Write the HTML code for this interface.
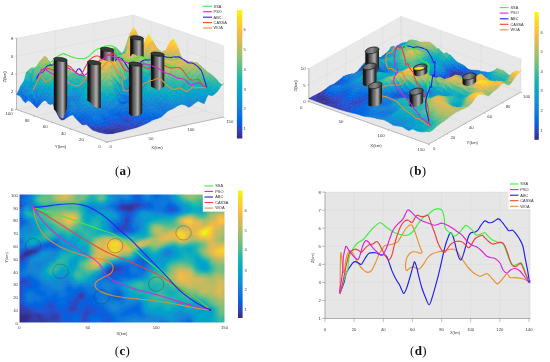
<!DOCTYPE html>
<html><head><meta charset="utf-8"><title>Figure</title>
<style>html,body{margin:0;padding:0;background:#fff}svg{display:block}</style></head>
<body><svg width="550" height="362" viewBox="0 0 550 362" font-family="Liberation Sans, sans-serif">
<rect width="550" height="362" fill="#fff"/>
<defs>
<linearGradient id="cyl" x1="0" y1="0" x2="1" y2="0"><stop offset="0" stop-color="#0a0a0a"/><stop offset=".18" stop-color="#1c1c1c"/><stop offset=".32" stop-color="#565656"/><stop offset=".5" stop-color="#7e7e7e"/><stop offset=".64" stop-color="#acacac"/><stop offset=".74" stop-color="#909090"/><stop offset=".86" stop-color="#424242"/><stop offset="1" stop-color="#1a1a1a"/></linearGradient>
<linearGradient id="cyt" x1="0" y1="0" x2="1" y2="0"><stop offset="0" stop-color="#555"/><stop offset=".5" stop-color="#8a8a8a"/><stop offset="1" stop-color="#3a3a3a"/></linearGradient>
<filter id="soft" x="-5%" y="-5%" width="110%" height="110%"><feGaussianBlur stdDeviation=".75"/></filter>
<filter id="hb" x="-10%" y="-10%" width="120%" height="120%"><feGaussianBlur stdDeviation=".95"/></filter>
<clipPath id="hclip"><rect x="19.5" y="194.5" width="205" height="128"/></clipPath>
<style>.t path{fill:currentColor;stroke:currentColor;stroke-width:.5;stroke-linejoin:round}</style>
</defs>
<g id="pa">
<path d="M16.5 109.5L16.5 38.3L133.1 15.0L133.1 86.2z" fill="#e9e9e9"/>
<path d="M133.1 86.2L133.1 15.0L223.6 45.8L223.6 117.0z" fill="#e8e8e8"/>
<path d="M107.0 142.0L16.5 109.5L133.1 86.2L223.6 117.0z" fill="#e7e7e7"/>
<path d="M16.5 109.5L133.1 86.2" stroke="#d9d9d9" stroke-width="0.45"/>
<path d="M133.1 86.2L223.6 117.0" stroke="#d9d9d9" stroke-width="0.45"/>
<path d="M16.5 91.7L133.1 68.4" stroke="#d9d9d9" stroke-width="0.45"/>
<path d="M133.1 68.4L223.6 99.2" stroke="#d9d9d9" stroke-width="0.45"/>
<path d="M16.5 73.9L133.1 50.6" stroke="#d9d9d9" stroke-width="0.45"/>
<path d="M133.1 50.6L223.6 81.4" stroke="#d9d9d9" stroke-width="0.45"/>
<path d="M16.5 56.1L133.1 32.8" stroke="#d9d9d9" stroke-width="0.45"/>
<path d="M133.1 32.8L223.6 63.6" stroke="#d9d9d9" stroke-width="0.45"/>
<path d="M16.5 38.3L133.1 15.0" stroke="#d9d9d9" stroke-width="0.45"/>
<path d="M133.1 15.0L223.6 45.8" stroke="#d9d9d9" stroke-width="0.45"/>
<path d="M16.5 109.5L16.5 38.3" stroke="#d9d9d9" stroke-width="0.45"/>
<path d="M16.5 109.5L107.0 142.0" stroke="#d9d9d9" stroke-width="0.45"/>
<path d="M55.4 101.7L55.4 30.5" stroke="#d9d9d9" stroke-width="0.45"/>
<path d="M55.4 101.7L145.9 133.7" stroke="#d9d9d9" stroke-width="0.45"/>
<path d="M94.2 94.0L94.2 22.8" stroke="#d9d9d9" stroke-width="0.45"/>
<path d="M94.2 94.0L184.7 125.3" stroke="#d9d9d9" stroke-width="0.45"/>
<path d="M133.1 86.2L133.1 15.0" stroke="#d9d9d9" stroke-width="0.45"/>
<path d="M133.1 86.2L223.6 117.0" stroke="#d9d9d9" stroke-width="0.45"/>
<path d="M223.6 117.0L223.6 45.8" stroke="#d9d9d9" stroke-width="0.45"/>
<path d="M223.6 117.0L107.0 142.0" stroke="#d9d9d9" stroke-width="0.45"/>
<path d="M205.5 110.8L205.5 39.6" stroke="#d9d9d9" stroke-width="0.45"/>
<path d="M205.5 110.8L88.9 135.5" stroke="#d9d9d9" stroke-width="0.45"/>
<path d="M187.4 104.7L187.4 33.5" stroke="#d9d9d9" stroke-width="0.45"/>
<path d="M187.4 104.7L70.8 129.0" stroke="#d9d9d9" stroke-width="0.45"/>
<path d="M169.3 98.5L169.3 27.3" stroke="#d9d9d9" stroke-width="0.45"/>
<path d="M169.3 98.5L52.7 122.5" stroke="#d9d9d9" stroke-width="0.45"/>
<path d="M151.2 92.4L151.2 21.2" stroke="#d9d9d9" stroke-width="0.45"/>
<path d="M151.2 92.4L34.6 116.0" stroke="#d9d9d9" stroke-width="0.45"/>
<path d="M133.1 86.2L133.1 15.0" stroke="#d9d9d9" stroke-width="0.45"/>
<path d="M133.1 86.2L16.5 109.5" stroke="#d9d9d9" stroke-width="0.45"/>
<path d="M16.5 109.5L16.5 38.3" stroke="#8a8a8a" stroke-width="0.5"/>
<path d="M107.0 142.0L16.5 109.5" stroke="#8a8a8a" stroke-width="0.5"/>
<path d="M107.0 142.0L223.6 117.0" stroke="#8a8a8a" stroke-width="0.5"/>
<g class="t" filter="url(#soft)"><path color="#ffc436" d="M131.5 31.4l1.9-3.5-2.2 4-2 4.2z"/><path color="#e3b951" d="M129.5 36.1l2-4.7-2.3 4.7-1.9 5.2z"/><path color="#a8be6a" d="M127.6 45.3l1.9-9.2-2.2 5.2-2 6.1z"/><path color="#6abe83" d="M125.6 51.3l2-6-2.3 2.1-1.9 4.5z"/><path color="#3dba9b" d="M121.8 54.6l1.9-1.1 1.9-2.2-2.2 .6-2 1.4-1.9-2.2z"/><path color="#52bd8f" d="M119.8 54l2 .6-2.3-3.5-1.9-2.1z"/><path color="#6abe83" d="M117.9 52.5l1.9 1.5-2.2-5-2-1.7z"/><path color="#75bf7e" d="M114 53.5l1.9-1.4 2 .4-2.3-5.2-1.9 1-2 .3z"/><path color="#75bf7e" d="M51.8 65.1l1.9-3.8 2 2.8-2.3-.8-1.9 1.4-2-2.4z"/><path color="#8bbf75" d="M49.9 62.7l1.9 2.4-2.3-2.8-1.9-2.7z"/><path color="#a8be6a" d="M47.9 60.1l2 2.6-2.3-3.1-1.9-2.7z"/><path color="#c2bc5f" d="M46 57.3l1.9 2.8-2.2-3.2-2-.1z"/><path color="#a8be6a" d="M40.1 61.6l2-2.6-2.3 3-1.9 2.8z"/><path color="#8bbf75" d="M38.2 64.3l1.9-2.7-2.2 3.2-2 3z"/><path color="#5ebe89" d="M28.5 70.9l1.9-2.3-2.2 1.9-2 2.2z"/><path color="#21b4ac" d="M26.5 79.4l2-8.5-2.3 1.8-1.9 7.5z"/><path color="#06a6c7" d="M24.6 83.3l1.9-3.9-2.2 .8-2 3.6z"/><path color="#079bd0" d="M22.6 85l2-1.7-2.3 .5-1.9 2.6z"/><path color="#118dd2" d="M20.7 89.6l1.9-4.6-2.2 1.4-2 4.9z"/><path color="#0f78db" d="M18.8 95.3l1.9-5.7-2.3 1.7-1.9 3.3z"/><path color="#fec932" d="M135.7 30.8l1.9 3.9-2.2-4.5-2-2.3z"/><path color="#fcce2d" d="M133.7 33.3l2-2.5-2.3-2.9-1.9 3.5z"/><path color="#f2b949" d="M131.8 41.8l1.9-8.5-2.2-1.9-2 4.7z"/><path color="#a8be6a" d="M129.9 50.9l1.9-9.1-2.3-5.7-1.9 9.2z"/><path color="#52bd8f" d="M127.9 56.3l2-5.4-2.3-5.6-2 6z"/><path color="#33b8a1" d="M126 58.1l1.9-1.8-2.3-5-1.9 2.2z"/><path color="#21b4ac" d="M124 58.9l2-.8-2.3-4.6-1.9 1.1z"/><path color="#2ab6a7" d="M122.1 58.7l1.9 .2-2.2-4.3-2-.6z"/><path color="#33b8a1" d="M120.1 57.6l2 1.1-2.3-4.7-1.9-1.5z"/><path color="#3dba9b" d="M116.2 59.8l2-1.5 1.9-.7-2.2-5.1-2-.4-1.9 1.4z"/><path color="#2ab6a7" d="M114.3 61.5l1.9-1.7-2.2-6.3-2 2.6z"/><path color="#47bb95" d="M67.7 65.5l1.9 4.7-2.3-6.4-1.9-4z"/><path color="#75bf7e" d="M54.1 64.4l1.9 3.4-2.3-6.5-1.9 3.8z"/><path color="#80bf7a" d="M52.1 65.5l2-1.1-2.3 .7-1.9-2.4z"/><path color="#95bf71" d="M50.2 63.6l1.9 1.9-2.2-2.8-2-2.6z"/><path color="#a8be6a" d="M48.2 63.1l2 .5-2.3-3.5-1.9-2.8z"/><path color="#babd63" d="M44.3 63.4l2-.4 1.9 .1-2.2-5.8-2-.9-1.9 2.6z"/><path color="#a8be6a" d="M42.4 65.4l1.9-2-2.2-4.4-2 2.6z"/><path color="#95bf71" d="M40.5 67.2l1.9-1.8-2.3-3.8-1.9 2.7z"/><path color="#8bbf75" d="M38.5 66.2l2 1-2.3-2.9-1.9 3z"/><path color="#80bf7a" d="M32.7 69.3l1.9-1.1 2-1.4 1.9-.6-2.2 1.1-2 .8-1.9-.6-2 1.1z"/><path color="#6abe83" d="M30.7 73.9l2-4.6-2.3-.7-1.9 2.3z"/><path color="#2ab6a7" d="M28.8 82.1l1.9-8.2-2.2-3-2 8.5z"/><path color="#06a6c7" d="M26.9 86.1l1.9-4-2.3-2.7-1.9 3.9z"/><path color="#079bd0" d="M24.9 87.9l2-1.8-2.3-2.8-2 1.7z"/><path color="#118dd2" d="M23 91.9l1.9-4-2.3-2.9-1.9 4.6z"/><path color="#0f78db" d="M21 96.9l2-5-2.3-2.3-1.9 5.7z"/><path color="#ebb94d" d="M136 43l1.9-5.2 2 2.9-2.3-6-1.9-3.9-2 2.5z"/><path color="#babd63" d="M134.1 50l1.9-7-2.3-9.7-1.9 8.5z"/><path color="#09abbf" d="M116.6 66.9l1.9-1.8-2.3-5.3-1.9 1.7z"/><path color="#6abe83" d="M54.4 67.2l1.9 2.7-2.2-5.5-2 1.1z"/><path color="#75bf7e" d="M52.4 67.4l2-.2-2.3-1.7-1.9-1.9z"/><path color="#80bf7a" d="M50.5 67.2l1.9 .2-2.2-3.8-2-.5z"/><path color="#8bbf75" d="M46.6 68.3l2-.8 1.9-.3-2.3-4.1-1.9-.1-2 .4z"/><path color="#80bf7a" d="M44.7 71.2l1.9-2.9-2.3-4.9-1.9 2z"/><path color="#6abe83" d="M42.7 73.6l2-2.4-2.3-5.8-1.9 1.8z"/><path color="#5ebe89" d="M40.8 73.2l1.9 .4-2.2-6.4-2-1z"/><path color="#6abe83" d="M36.9 74.5l1.9-2 2 .7-2.3-7-1.9 .6-2 1.4z"/><path color="#52bd8f" d="M34.9 79.5l2-5-2.3-6.3-1.9 1.1z"/><path color="#2ab6a7" d="M33 84.5l1.9-5-2.2-10.2-2 4.6z"/><path color="#06a8c4" d="M31.1 88.2l1.9-3.7-2.3-10.6-1.9 8.2z"/><path color="#079bd0" d="M29.1 87.9l2 .3-2.3-6.1-1.9 4z"/><path color="#0e92d2" d="M27.2 90.5l1.9-2.6-2.2-1.8-2 1.8z"/><path color="#1484d4" d="M25.2 95.7l2-5.2-2.3-2.6-1.9 4z"/><path color="#0870df" d="M23.3 100.8l1.9-5.1-2.2-3.8-2 5z"/></g><g fill="none" stroke-width="1.05" stroke-linecap="round" stroke-linejoin="round"><path d="M50.7 65L51.6 65.1L52.5 65.3L53.3 65.1L54.4 64.9" stroke="#2020f0"/></g><g class="t" filter="url(#soft)"><path color="#6abe83" d="M48.9 70.2l1.9-.8 2 0 1.9 .1 1.9-.6-2.2-1.7-2 .2-1.9-.2-1.9 .3-2 .8z"/><path color="#5ebe89" d="M46.9 72.1l2-1.9-2.3-1.9-1.9 2.9z"/><path color="#3dba9b" d="M43 74l2-.8-2.3 .4-1.9-.4z"/><path color="#47bb95" d="M41.1 74.5l1.9-.5-2.2-.8-2-.7z"/><path color="#3dba9b" d="M39.2 77.4l1.9-2.9-2.3-2-1.9 2z"/><path color="#1ab2b1" d="M37.2 83l2-5.6-2.3-2.9-2 5z"/><path color="#06a6c7" d="M35.3 88.6l1.9-5.6-2.3-3.5-1.9 5z"/><path color="#0e92d2" d="M29.4 88.9l2 .4-2.3-1.4-1.9 2.6z"/><path color="#1480d6" d="M27.5 96.9l1.9-8-2.2 1.6-2 5.2z"/><path color="#0267e1" d="M25.5 102.8l2-5.9-2.3-1.2-1.9 5.1z"/></g><g fill="none" stroke-width="1.05" stroke-linecap="round" stroke-linejoin="round"><path d="M34.2 87.1L35 84.6L35.9 81.3L36.7 78.2L37.6 76.5L38.4 74.9L39.3 73.5L40.1 72.6L40.8 72.1L41.6 72.3L42.4 72.4L43.1 72.4L43.9 71.2L44.7 69.5L45.5 68L46.3 66.8L47.2 65.9L48.1 65.6L49 65.3L49.8 65L50.7 65" stroke="#2020f0"/><path d="M54.4 64.9L55.5 65.3L56.6 66.3L57.6 68.3L58.7 70.7L59.8 72.8L61.1 74.6L62.5 76.2L63.9 77.6" stroke="#2020f0"/></g><g class="t" filter="url(#soft)"><path color="#47bb95" d="M41.4 76.2l2-3.9-2.3 2.2-1.9 2.9z"/><path color="#1ab2b1" d="M39.5 81.7l1.9-5.5-2.2 1.2-2 5.6z"/><path color="#0e92d2" d="M29.8 93.8l1.9-11-2.3 6.1-1.9 8z"/><path color="#0870df" d="M27.8 100.5l2-6.7-2.3 3.1-2 5.9z"/></g><g fill="none" stroke-width="1.05" stroke-linecap="round" stroke-linejoin="round"><path d="M33.3 89.6L34.7 86.7L36 83.9L37.3 81.2L38.7 78.6L40 73.2" stroke="#3cf03c"/><path d="M33.3 89.1L36 84.3" stroke="#d824d8"/><path d="M33.3 89.6L34.2 87.1" stroke="#2020f0"/><path d="M63.9 77.6L65.3 79L66.6 80.9L68 82.4L69.6 81.9" stroke="#2020f0"/><path d="M33.3 90.1L35 86.6L36.6 82.8L38.3 78.5" stroke="#f04040"/></g><g class="t" filter="url(#soft)"><path color="#80bf7a" d="M47.6 71.5l1.9-2.4 2-1.8-2.3 3.2-2 .6-1.9-.5z"/><path color="#6abe83" d="M45.6 74.2l2-2.7-2.3-.9-1.9 1.7z"/><path color="#52bd8f" d="M43.7 75.9l1.9-1.7-2.2-1.9-2 3.9z"/><path color="#33b8a1" d="M41.7 78.1l2-2.2-2.3 .3-1.9 5.5z"/><path color="#13b0b6" d="M39.8 81.7l1.9-3.6-2.2 3.6-2 4.9z"/><path color="#069fce" d="M32 94.2l2-12.1-2.3 .7-1.9 11z"/><path color="#0f78db" d="M30.1 101.2l1.9-7-2.2-.4-2 6.7z"/></g><g fill="none" stroke-width="1.05" stroke-linecap="round" stroke-linejoin="round"><path d="M40 73.2L41.3 70.2L42.7 68.1L44 66.7L45.3 65.6L46.6 64.4L47.9 63.8" stroke="#3cf03c"/><path d="M36 84.3L38.7 76.6" stroke="#d824d8"/><path d="M69.6 81.9L71.2 80.3L72.9 77.6L74.6 74.8" stroke="#2020f0"/><path d="M38.3 78.5L39.9 74.8L41.6 71.2L43.2 69.8" stroke="#f04040"/></g><g class="t" filter="url(#soft)"><path color="#a8be6a" d="M53.7 67.7l2-2.5-2.3 .3-1.9 1.8z"/><path color="#95bf71" d="M51.8 69.8l1.9-2.1-2.2-.4-2 1.8z"/><path color="#80bf7a" d="M49.8 73.1l2-3.3-2.3-.7-1.9 2.4z"/><path color="#6abe83" d="M47.9 75.7l1.9-2.6-2.2-1.6-2 2.7z"/><path color="#52bd8f" d="M45.9 77.1l2-1.4-2.3-1.5-1.9 1.7z"/><path color="#3dba9b" d="M44 79.5l1.9-2.4-2.2-1.2-2 2.2z"/><path color="#21b4ac" d="M42.1 82.6l1.9-3.1-2.3-1.4-1.9 3.6z"/><path color="#13b0b6" d="M40.1 84.6l2-2-2.3-.9-2-.3z"/><path color="#1ab2b1" d="M38.2 86.2l1.9-1.6-2.3-3.2-1.9-2.9z"/><path color="#0dadbb" d="M36.2 90.3l2-4.1-2.3-7.7-1.9 3.6z"/><path color="#0a97d1" d="M34.3 99.2l1.9-8.9-2.2-8.2-2 12.1z"/><path color="#0870df" d="M32.3 103.4l2-4.2-2.3-5-1.9 7z"/></g><g fill="none" stroke-width="1.05" stroke-linecap="round" stroke-linejoin="round"><path d="M47.9 63.8L49.2 63.2L50.4 62.6L51.6 61.5L52.9 60.4L54.1 59.3L55.4 58.2L56.6 57.2" stroke="#3cf03c"/><path d="M38.7 76.6L41.3 69.9" stroke="#d824d8"/><path d="M74.6 74.8L76.2 71.8L77.9 69L79.7 68.9" stroke="#2020f0"/><path d="M43.2 69.8L44.8 69L46.5 68.7L48.1 68.5" stroke="#f04040"/><path d="M33.3 89.6L40.4 74.7" stroke="#e8902c"/></g><g class="t" filter="url(#soft)"><path color="#8bbf75" d="M54 73l2-2.3-2.3-3-1.9 2.1z"/><path color="#75bf7e" d="M52.1 75.9l1.9-2.9-2.2-3.2-2 3.3z"/><path color="#52bd8f" d="M50.1 78.1l2-2.2-2.3-2.8-1.9 2.6z"/><path color="#3dba9b" d="M48.2 79.9l1.9-1.8-2.2-2.4-2 1.4z"/><path color="#33b8a1" d="M46.3 82.4l1.9-2.5-2.3-2.8-1.9 2.4z"/><path color="#1ab2b1" d="M44.3 85.9l2-3.5-2.3-2.9-1.9 3.1z"/><path color="#09abbf" d="M42.4 90.3l1.9-4.4-2.2-3.3-2 2z"/><path color="#06a2cb" d="M40.4 94.6l2-4.3-2.3-5.7-1.9 1.6z"/><path color="#0e92d2" d="M38.5 98.4l1.9-3.8-2.2-8.4-2 4.1z"/><path color="#127cd8" d="M36.5 103.4l2-5-2.3-8.1-1.9 8.9z"/><path color="#0462e0" d="M34.6 105.7l1.9-2.3-2.2-4.2-2 4.2z"/></g><g fill="none" stroke-width="1.05" stroke-linecap="round" stroke-linejoin="round"><path d="M56.6 57.2L57.9 56.2L59.3 55.4L60.6 54.7L61.9 54L63.3 53.4L64.6 54" stroke="#3cf03c"/><path d="M41.3 69.9L44 68.4L46.3 70" stroke="#d824d8"/><path d="M79.7 68.9L81.7 71.6L83.6 75.4" stroke="#2020f0"/><path d="M48.1 68.5L49.8 69L51.4 69.5L53.1 70" stroke="#f04040"/></g><g class="t" filter="url(#soft)"><path color="#f9bb43" d="M130.1 47.4l2-4.6-2.3-2.4-1.9 4.2z"/><path color="#d3bb58" d="M128.2 52.5l1.9-5.1-2.2-2.8-2 6.1z"/><path color="#9fbe6d" d="M126.3 58.1l1.9-5.6-2.3-1.8-1.9 7z"/><path color="#b1bd66" d="M68 66.9l1.9 3.5-2.3-4.9-1.9-5.9z"/><path color="#52bd8f" d="M54.4 80l1.9-2.9-2.3-4.1-1.9 2.9z"/><path color="#33b8a1" d="M52.4 81.8l2-1.8-2.3-4.1-2 2.2z"/><path color="#2ab6a7" d="M50.5 83.9l1.9-2.1-2.3-3.7-1.9 1.8z"/><path color="#1ab2b1" d="M48.5 86.1l2-2.2-2.3-4-1.9 2.5z"/><path color="#09abbf" d="M46.6 89.4l1.9-3.3-2.2-3.7-2 3.5z"/><path color="#069fce" d="M44.6 93.9l2-4.5-2.3-3.5-1.9 4.4z"/><path color="#118dd2" d="M42.7 97.6l1.9-3.7-2.2-3.6-2 4.3z"/><path color="#127cd8" d="M40.7 100.5l2-2.9-2.3-3-1.9 3.8z"/><path color="#046ce0" d="M38.8 104.9l1.9-4.4-2.2-2.1-2 5z"/><path color="#2152d3" d="M36.9 108l1.9-3.1-2.3-1.5-1.9 2.3z"/></g><g fill="none" stroke-width="1.05" stroke-linecap="round" stroke-linejoin="round"><path d="M64.6 54L65.9 54.5L67.2 55L68.6 55.6L70 56.2L71.3 56.8L72.7 57.2" stroke="#3cf03c"/><path d="M46.3 70L48.6 71.5L50.8 72.9" stroke="#d824d8"/><path d="M83.6 75.4L85.6 78.9L87.5 82L89.4 84.5" stroke="#2020f0"/><path d="M53.1 70L54.8 69.6L56.5 68.6L58.2 67.8" stroke="#f04040"/><path d="M40.4 74.7L45.1 82.2" stroke="#e8902c"/></g><g class="t" filter="url(#soft)"><path color="#babd63" d="M130.5 55.3l1.9-2.5-2.3-5.4-1.9 5.1z"/><path color="#b1bd66" d="M68.3 68.6l1.9 2.1-2.2-3.8-2-6z"/><path color="#c2bc5f" d="M66.3 68.9l2-.3-2.3-7.7-1.9 2z"/><path color="#1ab2b1" d="M54.7 84.3l1.9-1.1-2.2-3.2-2 1.8z"/><path color="#13b0b6" d="M52.7 86.2l2-1.9-2.3-2.5-1.9 2.1z"/><path color="#09abbf" d="M50.8 88.5l1.9-2.3-2.2-2.3-2 2.2z"/><path color="#06a2cb" d="M48.8 92.2l2-3.7-2.3-2.4-1.9 3.3z"/><path color="#0e92d2" d="M46.9 96.5l1.9-4.3-2.2-2.8-2 4.5z"/><path color="#1484d4" d="M45 98.6l1.9-2.1-2.3-2.6-1.9 3.7z"/><path color="#127cd8" d="M43 99.2l2-.6-2.3-1-2 2.9z"/><path color="#0870df" d="M41.1 102.2l1.9-3-2.3 1.3-1.9 4.4z"/><path color="#0462e0" d="M39.1 105.4l2-3.2-2.3 2.7-1.9 3.1z"/></g><g fill="none" stroke-width="1.05" stroke-linecap="round" stroke-linejoin="round"><path d="M72.7 57.2L74 57.6L75.4 57.9L76.7 58.3L78.1 58.5L79.4 58.5" stroke="#3cf03c"/><path d="M50.8 72.9L53.1 74.2L55.3 75.3" stroke="#d824d8"/><path d="M89.4 84.5L91.4 86.8L93.4 88.7" stroke="#2020f0"/><path d="M58.2 67.8L59.9 67.2L61.6 66.8L63.2 66.7" stroke="#f04040"/><path d="M45.1 82.2L49.1 80.1" stroke="#e8902c"/></g><g class="t" filter="url(#soft)"><path color="#e3b951" d="M154.1 44.2l1.9 3.1-2.2-3.7-2-3.7z"/><path color="#8bbf75" d="M117.2 62.5l1.9-6.8-2.2 3.3-2 6z"/><path color="#5ebe89" d="M74.4 73.8l2 .5-2.3-1.6-1.9-.5z"/><path color="#75bf7e" d="M72.5 73.3l1.9 .5-2.2-1.6-2-1.5z"/><path color="#80bf7a" d="M70.5 73.6l2-.3-2.3-2.6-1.9-2.1z"/><path color="#8bbf75" d="M68.6 75.6l1.9-2-2.2-5-2 .3z"/><path color="#75bf7e" d="M66.7 77.5l1.9-1.9-2.3-6.7-1.9 3.2z"/><path color="#13b0b6" d="M55 85.4l1.9-2.7-2.2 1.6-2 1.9z"/><path color="#09abbf" d="M53 89.1l2-3.7-2.3 .8-1.9 2.3z"/><path color="#069fce" d="M51.1 93.3l1.9-4.2-2.2-.6-2 3.7z"/><path color="#118dd2" d="M49.2 97.1l1.9-3.8-2.3-1.1-1.9 4.3z"/><path color="#1480d6" d="M47.2 99.2l2-2.1-2.3-.6-1.9 2.1z"/><path color="#127cd8" d="M45.3 99.3l1.9-.1-2.2-.6-2 .6z"/><path color="#0f78db" d="M43.3 100.8l2-1.5-2.3-.1-1.9 3z"/><path color="#0870df" d="M41.4 102.8l1.9-2-2.2 1.4-2 3.2z"/></g><g fill="none" stroke-width="1.05" stroke-linecap="round" stroke-linejoin="round"><path d="M79.4 58.5L80.8 58.6L82.2 58.7L83.5 58.8L84.9 58.3L86.2 57.7" stroke="#3cf03c"/><path d="M55.3 75.3L57.5 76.1" stroke="#d824d8"/><path d="M93.4 88.7L95.4 89.9L97.4 88.1" stroke="#2020f0"/><path d="M63.2 66.7L64.9 66.5L66.6 66L68.3 65.6" stroke="#f04040"/><path d="M49.1 80.1L52.4 76.6" stroke="#e8902c"/></g><g class="t" filter="url(#soft)"><path color="#cbbb5c" d="M156.4 47.7l1.9 2.1-2.3-2.5-1.9-3.1z"/><path color="#ebb94d" d="M154.4 44.8l2 2.9-2.3-3.5-1.9-3.9z"/><path color="#fec932" d="M144.7 42.9l1.9-4.6-2.2 4.6-2 2.6z"/><path color="#f2b949" d="M142.8 48.9l1.9-6-2.3 2.6-1.9 1.2z"/><path color="#cbbb5c" d="M121.4 55.8l1.9-1.7-2.2 1.6-2 0z"/><path color="#a8be6a" d="M119.4 62.6l2-6.8-2.3-.1-1.9 6.8z"/><path color="#47bb95" d="M74.7 78.7l2 .2 1.9-1 2-2.2 1.9-.6-2.2-.5-2-.1-1.9-.2-2-.5-1.9-.5z"/><path color="#52bd8f" d="M72.8 78.7l1.9 0-2.2-5.4-2 .3z"/><path color="#47bb95" d="M70.9 80.7l1.9-2-2.3-5.1-1.9 2z"/><path color="#33b8a1" d="M68.9 84.1l2-3.4-2.3-5.1-1.9 1.9z"/><path color="#2ab6a7" d="M67 84.9l1.9-.8-2.2-6.6-2 1.3z"/><path color="#0dadbb" d="M55.3 88.5l2-3.9-2.3 .8-2 3.7z"/><path color="#06a2cb" d="M53.4 92.4l1.9-3.9-2.3 .6-1.9 4.2z"/><path color="#0e92d2" d="M51.4 95.5l2-3.1-2.3 .9-1.9 3.8z"/><path color="#1388d3" d="M49.5 97.8l1.9-2.3-2.2 1.6-2 2.1z"/><path color="#1480d6" d="M45.6 99.6l1.9-.8-2.2 .5-2 1.5z"/><path color="#127cd8" d="M43.6 100.2l2-.6-2.3 1.2-1.9 2z"/></g><g fill="none" stroke-width="1.05" stroke-linecap="round" stroke-linejoin="round"><path d="M86.2 57.7L87.6 57.1L88.9 56.3L90.2 55L91.6 53.6L92.9 52.4L94.3 51.2" stroke="#3cf03c"/><path d="M57.5 76.1L59.5 75.9L61.4 73.5L63.3 70.8" stroke="#d824d8"/><path d="M97.4 88.1L99.4 85.7L101.4 82.9" stroke="#2020f0"/><path d="M68.3 65.6L70 66.5L71.6 68L73.3 69.8" stroke="#f04040"/><path d="M52.4 76.6L55 74.6" stroke="#e8902c"/></g><g class="t" filter="url(#soft)"><path color="#9fbe6d" d="M160.6 53.3l1.9 1-2.3-3.9-1.9-.6z"/><path color="#babd63" d="M158.6 51.2l2 2.1-2.3-3.5-1.9-2.1z"/><path color="#f2b949" d="M154.7 45.5l2 2.6-2.3-3.3-1.9-3.8z"/><path color="#f5de21" d="M150.9 41.6l1.9 0-2.3-4.3-1.9-2.7z"/><path color="#f7d925" d="M148.9 43.9l2-2.3-2.3-7-2 3.7z"/><path color="#fec932" d="M147 47.7l1.9-3.8-2.3-5.6-1.9 4.6z"/><path color="#ebb94d" d="M145 52.3l2-4.6-2.3-4.8-1.9 6z"/><path color="#cbbb5c" d="M143.1 53.3l1.9-1-2.2-3.4-2 1.9z"/><path color="#d3bb58" d="M123.6 57.9l2-4.5-2.3 .7-1.9 1.7z"/><path color="#a8be6a" d="M121.7 64.6l1.9-6.7-2.2-2.1-2 6.8z"/><path color="#3dba9b" d="M82.8 78.7l2-1.7 1.9 0-2.2-.9-2-1-1.9 .6z"/><path color="#33b8a1" d="M80.9 81.3l1.9-2.6-2.2-3-2 2.2z"/><path color="#21b4ac" d="M77 82.6l1.9-.1 2-1.2-2.3-3.4-1.9 1-2-.2z"/><path color="#2ab6a7" d="M75.1 82.7l1.9-.1-2.3-3.9-1.9 0z"/><path color="#21b4ac" d="M73.1 85l2-2.3-2.3-4-1.9 2z"/><path color="#0dadbb" d="M71.2 91l1.9-6-2.2-4.3-2 3.4z"/><path color="#06a6c7" d="M67.3 90.1l1.9 2.7 2-1.8-2.3-6.9-1.9 .8-2-.8z"/><path color="#069fce" d="M53.7 93.5l1.9-2.9-2.2 1.8-2 3.1z"/><path color="#0a97d1" d="M51.7 95.7l2-2.2-2.3 2-1.9 2.3z"/><path color="#118dd2" d="M49.8 98l1.9-2.3-2.2 2.1-2 1z"/><path color="#1388d3" d="M47.9 99.9l1.9-1.9-2.3 .8-1.9 .8z"/><path color="#1484d4" d="M45.9 100.8l2-.9-2.3-.3-2 .6z"/></g><g fill="none" stroke-width="1.05" stroke-linecap="round" stroke-linejoin="round"><path d="M94.3 51.2L95.6 50.1L96.9 49.2L98.4 48.7L100 48.2" stroke="#3cf03c"/><path d="M63.3 70.8L65.1 69L67 68" stroke="#d824d8"/><path d="M101.4 82.9L103.3 80L105.3 76.8" stroke="#2020f0"/><path d="M73.3 69.8L74.9 71.4L76.6 73L78.2 74.2L79.9 74.9" stroke="#f04040"/><path d="M55 74.6L57.6 74.8L60.3 75.3" stroke="#e8902c"/></g><g class="t" filter="url(#soft)"><path color="#95bf71" d="M160.9 56.1l1.9 1.3-2.2-4.1-2-2.1z"/><path color="#b1bd66" d="M158.9 53.2l2 2.9-2.3-4.9-1.9-3.1z"/><path color="#d3bb58" d="M157 50.6l1.9 2.6-2.2-5.1-2-2.6z"/><path color="#ebb94d" d="M155.1 50l1.9 .6-2.3-5.1-1.9-3.9z"/><path color="#f2b949" d="M153.1 51.1l2-1.1-2.3-8.4-1.9 0z"/><path color="#ebb94d" d="M151.2 53.2l1.9-2.1-2.2-9.5-2 2.3z"/><path color="#dbba55" d="M149.2 55.7l2-2.5-2.3-9.3-1.9 3.8z"/><path color="#babd63" d="M147.3 58.2l1.9-2.5-2.2-8-2 4.6z"/><path color="#b1bd66" d="M145.3 57.9l2 .3-2.3-5.9-1.9 1z"/><path color="#dbba55" d="M135.6 57.5l2-2-2.3-7.5-1.9 2.7z"/><path color="#d3bb58" d="M133.7 56.1l1.9 1.4-2.2-6.8-2-.2z"/><path color="#e3b951" d="M131.7 53.3l2 2.8-2.3-5.6-1.9-.5z"/><path color="#f2b949" d="M127.9 53l1.9-1.4 1.9 1.7-2.2-3.3-2 .7-1.9 2.7z"/><path color="#dbba55" d="M125.9 56l2-3-2.3 .4-2 4.5z"/><path color="#b1bd66" d="M124 59.2l1.9-3.2-2.3 1.9-1.9 6.7z"/><path color="#33b8a1" d="M87 79.8l2-1.9-2.3-.9-1.9 0z"/><path color="#2ab6a7" d="M85.1 81.8l1.9-2-2.2-2.8-2 1.7z"/><path color="#21b4ac" d="M83.2 83.2l1.9-1.4-2.3-3.1-1.9 2.6z"/><path color="#13b0b6" d="M79.3 85.7l1.9-1.1 2-1.4-2.3-1.9-2 1.2-1.9 .1z"/><path color="#0dadbb" d="M77.3 86.8l2-1.1-2.3-3.1-1.9 .1z"/><path color="#09abbf" d="M75.4 88.5l1.9-1.7-2.2-4.1-2 2.3z"/><path color="#06a2cb" d="M73.4 92.1l2-3.6-2.3-3.5-1.9 6z"/><path color="#0a97d1" d="M71.5 95.2l1.9-3.1-2.2-1.1-2 1.8z"/><path color="#0e92d2" d="M69.6 96.7l1.9-1.5-2.3-2.4-1.9-2.7z"/><path color="#079bd0" d="M67.6 96.6l2 .1-2.3-6.6-2-3.4z"/><path color="#06a2cb" d="M65.7 95.3l1.9 1.3-2.3-9.9-1.9-1.6z"/><path color="#069fce" d="M54 94.8l1.9-2.2-2.2 .9-2 2.2z"/><path color="#0a97d1" d="M52.1 98.5l1.9-3.7-2.3 .9-1.9 2.3z"/><path color="#1388d3" d="M50.1 102l2-3.5-2.3-.5-1.9 1.9z"/><path color="#1480d6" d="M48.2 103.7l1.9-1.7-2.2-2.1-2 .9z"/></g><g fill="none" stroke-width="1.05" stroke-linecap="round" stroke-linejoin="round"><path d="M100 48.2L101.7 47.6L103.3 46.9L104.9 46.2" stroke="#3cf03c"/><path d="M67 68L68.9 68.3L70.7 69.4L72.6 70.6" stroke="#d824d8"/><path d="M105.3 76.8L107.2 73.4L109.1 69.9L111 66.2" stroke="#2020f0"/><path d="M79.9 74.9L81.6 73.6L83.2 71.3L84.9 67.8" stroke="#f04040"/><path d="M60.3 75.3L62.2 76.8L64.1 78.5" stroke="#e8902c"/></g><g class="t" filter="url(#soft)"><path color="#babd63" d="M159.3 52.8l1.9-.5-2.3 .9-1.9-2.6z"/><path color="#c2bc5f" d="M157.3 55.3l2-2.5-2.3-2.2-1.9-.6z"/><path color="#babd63" d="M155.4 58.8l1.9-3.5-2.2-5.3-2 1.1z"/><path color="#9fbe6d" d="M153.4 62.1l2-3.3-2.3-7.7-1.9 2.1z"/><path color="#8bbf75" d="M151.5 64.4l1.9-2.3-2.2-8.9-2 2.5z"/><path color="#75bf7e" d="M149.5 66l2-1.6-2.3-8.7-1.9 2.5z"/><path color="#6abe83" d="M147.6 65.9l1.9 .1-2.2-7.8-2-.3z"/><path color="#8bbf75" d="M145.7 63.6l1.9 2.3-2.3-8-1.9-4.2z"/><path color="#b1bd66" d="M143.7 61.2l2 2.4-2.3-9.9-1.9-4.1z"/><path color="#c2bc5f" d="M141.8 61.4l1.9-.2-2.2-11.6-2 1.3z"/><path color="#b1bd66" d="M139.8 64l2-2.6-2.3-10.5-1.9 4.6z"/><path color="#95bf71" d="M137.9 64.9l1.9-.9-2.2-8.5-2 2z"/><path color="#9fbe6d" d="M135.9 63.1l2 1.8-2.3-7.4-1.9-1.4z"/><path color="#babd63" d="M134 60.6l1.9 2.5-2.2-7-2-2.8z"/><path color="#d3bb58" d="M132.1 58.4l1.9 2.2-2.3-7.3-1.9-1.7z"/><path color="#dbba55" d="M130.1 58.3l2 .1-2.3-6.8-1.9 1.4z"/><path color="#d3bb58" d="M128.2 60.3l1.9-2-2.2-5.3-2 3z"/><path color="#c2bc5f" d="M126.2 61.2l2-.9-2.3-4.3-1.9 3.2z"/><path color="#ebb94d" d="M99 62l2-8.4-2.3 8.4-1.9 0z"/><path color="#21b4ac" d="M87.4 83.4l1.9-2.8-2.3-.8-1.9 2z"/><path color="#13b0b6" d="M85.4 84.4l2-1-2.3-1.6-1.9 1.4z"/><path color="#0dadbb" d="M83.5 85.6l1.9-1.2-2.2-1.2-2 1.4z"/><path color="#09abbf" d="M81.5 87.7l2-2.1-2.3-1-1.9 1.1z"/><path color="#06a8c4" d="M79.6 90.3l1.9-2.6-2.2-2-2 1.1z"/><path color="#06a2cb" d="M77.6 92.1l2-1.8-2.3-3.5-1.9 1.7z"/><path color="#079bd0" d="M75.7 93.5l1.9-1.4-2.2-3.6-2 3.6z"/><path color="#0e92d2" d="M73.8 96.3l1.9-2.8-2.3-1.4-1.9 3.1z"/><path color="#1484d4" d="M71.8 100.8l2-4.5-2.3-1.1-1.9 1.5z"/><path color="#127cd8" d="M69.9 104.9l1.9-4.1-2.2-4.1-2-.1z"/><path color="#0f78db" d="M67.9 106.4l2-1.5-2.3-8.3-1.9-1.3z"/><path color="#127cd8" d="M66 105.6l1.9 .8-2.2-11.1-2-1.8z"/><path color="#0a97d1" d="M54.3 99.8l2-3.5-2.3-1.5-1.9 3.7z"/><path color="#1484d4" d="M52.4 103.2l1.9-3.4-2.2-1.3-2 3.5z"/><path color="#127cd8" d="M50.4 104.5l2-1.3-2.3-1.2-1.9 1.7z"/></g><path d="M130.2 56.5L130.3 56.5L130.6 56.2L131 55.7L131.5 55L132.2 54.1L133 53.9L133.9 54.2L134.9 54.5L135.9 55.1L136.9 55.7L138 56.1L139 56.2L140 56.4L140.9 56.7L141.7 56.8L142.3 56.9L142.9 57.1L143.3 57.1L143.5 57L143.6 56.9L143.6 38.6L143.5 38.9L143.3 39.2L142.9 39.4L142.3 39.6L141.7 39.7L140.9 39.8L140 39.9L139 39.9L138 39.8L136.9 39.7L135.9 39.6L134.9 39.4L133.9 39.2L133 38.9L132.2 38.6L131.5 38.3L131 38L130.6 37.7L130.3 37.4L130.2 37.1z" fill="url(#cyl)"/><path d="M141.3 36.9L140.3 36.6L139.3 36.3L138.2 36.1L137 36L135.8 35.8L134.7 35.8L133.7 35.8L132.7 35.9L131.9 36L131.2 36.2L130.7 36.4L130.4 36.7L130.2 37L130.3 37.4L130.6 37.7L131.1 38.1L131.8 38.4L132.6 38.8L133.5 39.1L134.6 39.3L135.7 39.6L136.9 39.7L138 39.8L139.1 39.9L140.2 39.9L141.2 39.8L142 39.7L142.7 39.5L143.2 39.2L143.5 38.9L143.6 38.6L143.5 38.3L143.2 37.9L142.8 37.6L142.1 37.2z" fill="#3a3a3a" stroke="#181818" stroke-width=".8"/><g fill="none" stroke-width="1.05" stroke-linecap="round" stroke-linejoin="round"><path d="M104.9 46.2L106.6 45.9L108.2 45.7L109.8 45.6" stroke="#3cf03c"/><path d="M72.6 70.6L74.4 71.8L76.1 72.8L77.8 73.7" stroke="#d824d8"/><path d="M111 66.2L113.1 63L115.2 60.6" stroke="#2020f0"/><path d="M84.9 67.8L86.5 64.9L88.2 62.3L89.8 60.1" stroke="#f04040"/><path d="M64.1 78.5L65.9 80.2L67.7 81.7L69.5 83.2" stroke="#e8902c"/></g><g class="t" filter="url(#soft)"><path color="#2ab6a7" d="M151.8 72l2-1.6-2.3-6-2 1.6z"/><path color="#21b4ac" d="M149.9 73l1.9-1-2.3-6-1.9-.1z"/><path color="#2ab6a7" d="M147.9 73.6l2-.6-2.3-7.1-1.9-2.3z"/><path color="#3dba9b" d="M146 72.6l1.9 1-2.2-10-2-2.4z"/><path color="#47bb95" d="M142.1 71.7l1.9-.4 2 1.3-2.3-11.4-1.9 .2-2 2.6z"/><path color="#5ebe89" d="M136.3 71.1l1.9 1.4-2.3-9.4-1.9-2.5z"/><path color="#80bf7a" d="M134.3 67.8l2 3.3-2.3-10.5-1.9-2.2z"/><path color="#9fbe6d" d="M132.4 64.3l1.9 3.5-2.2-9.4-2-.1z"/><path color="#a8be6a" d="M130.4 63.3l2 1-2.3-6-1.9 2z"/><path color="#9fbe6d" d="M128.5 66.2l1.9-2.9-2.2-3-2 .9z"/><path color="#95bf71" d="M126.5 70.3l2-4.1-2.3-5-1.9-2.3z"/><path color="#9fbe6d" d="M124.6 68.5l1.9 1.8-2.2-11.4-2-1z"/><path color="#b1bd66" d="M122.7 63.4l1.9 5.1-2.3-10.6-1.9 2.2z"/><path color="#fec932" d="M101.3 56.3l1.9-1.8-2.2-.9-2 8.4z"/><path color="#f2b949" d="M99.3 62l2-5.7-2.3 5.7-1.9 0z"/><path color="#13b0b6" d="M87.7 85.8l1.9-.9-2.2-1.5-2 1z"/><path color="#0dadbb" d="M85.7 86.2l2-.4-2.3-1.4-1.9 1.2z"/><path color="#09abbf" d="M83.8 88.1l1.9-1.9-2.2-.6-2 2.1z"/><path color="#06a6c7" d="M81.8 92l2-3.9-2.3-.4-1.9 2.6z"/><path color="#079bd0" d="M79.9 95.1l1.9-3.1-2.2-1.7-2 1.8z"/><path color="#0e92d2" d="M78 96.8l1.9-1.7-2.3-3-1.9 1.4z"/><path color="#1388d3" d="M76 99.4l2-2.6-2.3-3.3-1.9 2.8z"/><path color="#127cd8" d="M74.1 102.9l1.9-3.5-2.2-3.1-2 4.5z"/><path color="#115bdc" d="M66.3 111.9l1.9-1.6 2-2.1 1.9-2.2-2.2-1.1-2 1.5-1.9-.8-2-2.6z"/><path color="#1484d4" d="M54.6 103.5l2-1.1-2.3-2.6-1.9 3.4z"/><path color="#1480d6" d="M52.7 103.5l1.9 0-2.2-.3-2 1.3z"/></g><g fill="none" stroke-width="1.05" stroke-linecap="round" stroke-linejoin="round"><path d="M109.8 45.6L111.8 46L113.8 46.6" stroke="#3cf03c"/><path d="M77.8 73.7L79.6 74.7L81.3 75.3" stroke="#d824d8"/><path d="M115.2 60.6L117.4 58.4" stroke="#2020f0"/><path d="M89.8 60.1L91.4 58.4L93 57.2L94.6 56.4" stroke="#f04040"/><path d="M69.5 83.2L71.4 84.1L73 85L74.5 85.5" stroke="#e8902c"/></g><g class="t" filter="url(#soft)"><path color="#d3bb58" d="M163.8 51.4l1.9-.8-2.2 .5-2 1.3z"/><path color="#babd63" d="M161.8 57.1l2-5.7-2.3 1-1.9 5.3z"/><path color="#09abbf" d="M152.1 76.5l2-2.3-2.3-2.2-1.9 1z"/><path color="#06a8c4" d="M148.2 76.5l2 1.5 1.9-1.5-2.2-3.5-2 .6-1.9-1z"/><path color="#0dadbb" d="M146.3 75.1l1.9 1.4-2.2-3.9-2-1.3z"/><path color="#13b0b6" d="M144.4 75.9l1.9-.8-2.3-3.8-1.9 .4z"/><path color="#0dadbb" d="M142.4 78.2l2-2.3-2.3-4.2-2 1z"/><path color="#47bb95" d="M128.8 76.8l2-3.7-2.3-6.9-2 4.1z"/><path color="#33b8a1" d="M126.9 79.5l1.9-2.7-2.3-6.5-1.9-1.8z"/><path color="#3dba9b" d="M124.9 81l2-1.5-2.3-11-1.9-5.1z"/><path color="#5ebe89" d="M123 77.7l1.9 3.3-2.2-17.6-2-3.1z"/><path color="#8bbf75" d="M121 71.7l2 6-2.3-17.4-1.9-.6z"/><path color="#b1bd66" d="M119.1 66.2l1.9 5.5-2.2-12-2 3z"/><path color="#febf3c" d="M101.6 60.3l1.9-1.1-2.2-2.9-2 5.7z"/><path color="#f2b949" d="M99.7 62.4l1.9-2.1-2.3 1.7-1.9 0z"/><path color="#09abbf" d="M86.1 88.9l1.9-.8 1.9 .1-2.2-2.4-2 .4-1.9 1.9z"/><path color="#06a6c7" d="M84.1 92.3l2-3.4-2.3-.8-2 3.9z"/><path color="#0a97d1" d="M82.2 95.1l1.9-2.8-2.3-.3-1.9 3.1z"/><path color="#118dd2" d="M80.2 97.3l2-2.2-2.3 0-1.9 1.7z"/><path color="#1484d4" d="M78.3 100.7l1.9-3.4-2.2-.5-2 2.6z"/><path color="#0f78db" d="M76.3 103.5l2-2.8-2.3-1.3-1.9 3.5z"/><path color="#0f78db" d="M55 108.7l1.9 .3-2.3-5.5-1.9 0z"/></g><g fill="none" stroke-width="1.05" stroke-linecap="round" stroke-linejoin="round"><path d="M113.8 46.6L115.9 48.8L117.9 54.7" stroke="#3cf03c"/><path d="M81.3 75.3L83.1 76L84.8 75L86.6 74" stroke="#d824d8"/><path d="M117.4 58.4L119.5 57.3L121.7 58.5" stroke="#2020f0"/><path d="M94.6 56.4L96.2 56.1L97.8 56L99.4 56.6L101 57.3" stroke="#f04040"/><path d="M74.5 85.5L76 85.9L77.6 85.8L79.1 85.4L80.7 84.4" stroke="#e8902c"/></g><g class="t" filter="url(#soft)"><path color="#f5de21" d="M171.9 40.7l1.9-1.5-2.2 .8-2 3.1z"/><path color="#fcce2d" d="M169.9 43.1l2-2.4-2.3 2.4-1.9 3.6z"/><path color="#ebb94d" d="M166.1 51.2l1.9-4.9-2.3 4.3-1.9 .8z"/><path color="#c2bc5f" d="M164.1 56.7l2-5.5-2.3 .2-2 5.7z"/><path color="#09abbf" d="M146.6 77.9l2-2.7 1.9-.3-2.3 1.6-1.9-1.4-1.9 .8z"/><path color="#06a6c7" d="M144.7 81l1.9-3.1-2.2-2-2 2.3z"/><path color="#069fce" d="M142.7 83.9l2-2.9-2.3-2.8-1.9 1.9z"/><path color="#0a97d1" d="M140.8 85.4l1.9-1.5-2.2-3.8-2 .4z"/><path color="#06a6c7" d="M129.1 86.3l2-2.4-2.3-7.1-1.9 2.7z"/><path color="#069fce" d="M127.2 88.2l1.9-1.9-2.2-6.8-2 1.5z"/><path color="#06a2cb" d="M125.2 86.8l2 1.4-2.3-7.2-1.9-3.3z"/><path color="#13b0b6" d="M123.3 82.4l1.9 4.4-2.2-9.1-2-6z"/><path color="#47bb95" d="M121.4 76.3l1.9 6.1-2.3-10.7-1.9-5.5z"/><path color="#95bf71" d="M119.4 70.9l2 5.4-2.3-10.1-2-4.1z"/><path color="#babd63" d="M117.5 67.8l1.9 3.1-2.3-8.8-1.9-.9z"/><path color="#d3bb58" d="M115.5 64.2l2 3.6-2.3-6.6-1.9-1.7z"/><path color="#febf3c" d="M105.8 62.2l2-1.1-2.3-3.8-2 1.9z"/><path color="#f9bb43" d="M101.9 63l2-1 1.9 .2-2.3-3-1.9 1.1-1.9 2.1z"/><path color="#dbba55" d="M100 68l1.9-5-2.2-.6-2 5.2z"/><path color="#06a8c4" d="M88.3 90l2-.6 1.9-.3-2.3-.9-1.9-.1-1.9 .8z"/><path color="#06a6c7" d="M86.4 91.5l1.9-1.5-2.2-1.1-2 3.4z"/><path color="#115bdc" d="M57.2 113.8l2 2-2.3-6.8-1.9-.3z"/></g><g fill="none" stroke-width="1.05" stroke-linecap="round" stroke-linejoin="round"><path d="M117.9 54.7L119.8 56.7L121.8 57.8L123.8 58.7" stroke="#3cf03c"/><path d="M86.6 74L88.2 71.9L89.9 69.7L91.6 67.4" stroke="#d824d8"/><path d="M121.7 58.5L123.8 61L125.9 64.6" stroke="#2020f0"/><path d="M101 57.3L102.7 56L104.3 54.7L105.9 53.7" stroke="#f04040"/><path d="M80.7 84.4L82.2 82.7L83.7 81L85 79L86.4 77" stroke="#e8902c"/></g><g class="t" filter="url(#soft)"><path color="#f7d925" d="M174.1 44.9l2-1.2-2.3-4.5-1.9 1.5z"/><path color="#fcce2d" d="M172.2 46.7l1.9-1.8-2.2-4.2-2 2.4z"/><path color="#ffc436" d="M170.3 48.9l1.9-2.2-2.3-3.6-1.9 3.2z"/><path color="#f2b949" d="M168.3 53.6l2-4.7-2.3-2.6-1.9 4.9z"/><path color="#c2bc5f" d="M166.4 60.2l1.9-6.6-2.2-2.4-2 5.5z"/><path color="#8bbf75" d="M164.4 66.4l2-6.2-2.3-3.5-1.9 5.5z"/><path color="#09abbf" d="M148.9 78.2l1.9-3.5-2.2 .5-2 2.7z"/><path color="#06a6c7" d="M146.9 81.1l2-2.9-2.3-.3-1.9 3.1z"/><path color="#079bd0" d="M145 83.7l1.9-2.6-2.2-.1-2 2.9z"/><path color="#0e92d2" d="M143.1 85.4l1.9-1.7-2.3 .2-1.9 1.5z"/><path color="#1484d4" d="M127.5 92.2l1.9 1.8 2-2.5-2.3-5.2-1.9 1.9-2-1.4z"/><path color="#3dba9b" d="M121.7 77.6l1.9 4.1-2.2-5.4-2-5.4z"/><path color="#6abe83" d="M119.7 75.5l2 2.1-2.3-6.7-1.9-3.1z"/><path color="#95bf71" d="M117.8 73l1.9 2.5-2.2-7.7-2-3.6z"/><path color="#c2bc5f" d="M115.8 69.1l2 3.9-2.3-8.8-1.9-5.3z"/><path color="#ebb94d" d="M113.9 66l1.9 3.1-2.2-10.2-2-3.3z"/><path color="#f9bb43" d="M112 65.7l1.9 .3-2.3-10.4-1.9 1.8z"/><path color="#ebb94d" d="M110 66.9l2-1.2-2.3-8.3-1.9 3.7z"/><path color="#e3b951" d="M108.1 65.8l1.9 1.1-2.2-5.8-2 1.1z"/><path color="#ebb94d" d="M106.1 63.6l2 2.2-2.3-3.6-1.9-.2z"/><path color="#f2b949" d="M104.2 63.5l1.9 .1-2.2-1.6-2 1z"/><path color="#e3b951" d="M102.2 67.5l2-4-2.3-.5-1.9 5z"/><path color="#b1bd66" d="M100.3 74.9l1.9-7.4-2.2 .5-2 8z"/><path color="#118dd2" d="M78.9 99.7l2-3.2-2.3 3.7-1.9 .4z"/><path color="#1388d3" d="M75 100.8l2-.3 1.9-.8-2.2 .9-2-.6-1.9 1.1z"/><path color="#1484d4" d="M73.1 101.6l1.9-.8-2.2 .3-2 2.7z"/><path color="#363093" d="M61.4 119.1l2-.2 1.9-3.2-2.2 2.1-2 .4-1.9-2.4z"/><path color="#353dac" d="M59.5 118.2l1.9 .9-2.2-3.3-2-2z"/></g><path d="M53.8 108L53.9 108.8L54.1 109.5L54.5 110.1L55.1 110.8L55.7 111.3L56.5 112.2L57.4 113.5L58.4 114.8L59.4 116.1L60.5 117.3L61.5 118.2L62.5 118.8L63.5 118.9L64.4 118.5L65.2 118.1L65.9 117.5L66.4 117L66.8 116.7L67.1 116.2L67.2 115.7L67.2 60.2L67.1 60.5L66.8 60.7L66.4 61L65.9 61.2L65.2 61.3L64.4 61.4L63.5 61.5L62.5 61.5L61.5 61.4L60.5 61.3L59.4 61.2L58.4 61L57.4 60.8L56.5 60.5L55.7 60.2L55.1 59.9L54.5 59.6L54.1 59.3L53.9 59L53.8 58.7z" fill="url(#cyl)"/><path d="M64.8 58.5L63.9 58.2L62.8 57.9L61.7 57.7L60.6 57.5L59.4 57.4L58.3 57.4L57.2 57.4L56.2 57.5L55.4 57.6L54.7 57.8L54.2 58L53.9 58.3L53.8 58.6L53.9 59L54.2 59.3L54.6 59.7L55.3 60L56.1 60.4L57.1 60.7L58.1 60.9L59.2 61.1L60.4 61.3L61.6 61.4L62.7 61.5L63.7 61.5L64.7 61.4L65.5 61.2L66.2 61.1L66.7 60.8L67 60.5L67.2 60.2L67.1 59.9L66.8 59.5L66.3 59.2L65.6 58.8z" fill="#3a3a3a" stroke="#181818" stroke-width=".8"/><path d="M100.4 59.3L100.5 59.1L100.8 58.5L101.2 58.4L101.7 58.9L102.4 59.1L103.2 59.5L104.1 60L105 60.5L106.1 60.8L107.1 61.1L108.2 61.1L109.2 61L110.1 61L111 61.2L111.8 61.2L112.5 61.3L113.1 61.4L113.5 61.3L113.7 61.3L113.8 61.4L113.8 50.2L113.7 50.5L113.5 50.7L113.1 51L112.5 51.2L111.8 51.3L111 51.4L110.1 51.5L109.2 51.5L108.2 51.4L107.1 51.3L106.1 51.2L105 51L104.1 50.8L103.2 50.5L102.4 50.2L101.7 49.9L101.2 49.6L100.8 49.3L100.5 49L100.4 48.7z" fill="url(#cyl)"/><path d="M111.5 48.5L110.5 48.2L109.5 47.9L108.3 47.7L107.2 47.5L106 47.4L104.9 47.4L103.8 47.4L102.9 47.5L102 47.6L101.4 47.8L100.9 48L100.5 48.3L100.4 48.6L100.5 49L100.8 49.3L101.3 49.7L101.9 50L102.8 50.4L103.7 50.7L104.8 50.9L105.9 51.1L107 51.3L108.2 51.4L109.3 51.5L110.4 51.5L111.3 51.4L112.2 51.2L112.9 51.1L113.4 50.8L113.7 50.5L113.8 50.2L113.7 49.9L113.4 49.5L112.9 49.2L112.3 48.8z" fill="#3a3a3a" stroke="#181818" stroke-width=".8"/><g fill="none" stroke-width="1.05" stroke-linecap="round" stroke-linejoin="round"><path d="M123.8 58.7L125.8 59.4L127.8 60.2" stroke="#3cf03c"/><path d="M91.6 67.4L93.2 65.2L94.9 63.6L96.6 62.5" stroke="#d824d8"/><path d="M125.9 64.6L128 68L130.2 70.4" stroke="#2020f0"/><path d="M105.9 53.7L107.3 54L108.7 54.2L110.1 54.2L111.6 54.2L113 53.9" stroke="#f04040"/><path d="M86.4 77L87.7 75.5L89.1 74L90.4 73L91.8 72.4L93.1 72.2L94.5 72.1" stroke="#e8902c"/></g><g class="t" filter="url(#soft)"><path color="#ffc436" d="M176.4 50.1l2-1.4-2.3-5-2 1.2z"/><path color="#f9bb43" d="M174.5 51.5l1.9-1.4-2.3-5.2-1.9 1.8z"/><path color="#f2b949" d="M172.5 53.4l2-1.9-2.3-4.8-1.9 2.2z"/><path color="#d3bb58" d="M170.6 58.3l1.9-4.9-2.2-4.5-2 4.7z"/><path color="#9fbe6d" d="M168.6 65.9l2-7.6-2.3-4.7-1.9 6.6z"/><path color="#079bd0" d="M125.9 88.9l1.9 3.5-2.2-5.2-2-5.5z"/><path color="#09abbf" d="M123.9 86.3l2 2.6-2.3-7.2-1.9-4.1z"/><path color="#1ab2b1" d="M122 85.1l1.9 1.2-2.2-8.7-2-2.1z"/><path color="#33b8a1" d="M120 84.2l2 .9-2.3-9.6-1.9-2.5z"/><path color="#52bd8f" d="M118.1 82.2l1.9 2-2.2-11.2-2-3.9z"/><path color="#75bf7e" d="M116.2 79.7l1.9 2.5-2.3-13.1-1.9-3.1z"/><path color="#95bf71" d="M114.2 77.2l2 2.5-2.3-13.7-1.9-.3z"/><path color="#a8be6a" d="M112.3 74.7l1.9 2.5-2.2-11.5-2 1.2z"/><path color="#babd63" d="M110.3 70.8l2 3.9-2.3-7.8-1.9-1.1z"/><path color="#dbba55" d="M108.4 66.6l1.9 4.2-2.2-5-2-2.2z"/><path color="#ebb94d" d="M106.4 65.1l2 1.5-2.3-3-1.9-.1z"/><path color="#e3b951" d="M104.5 68l1.9-2.9-2.2-1.6-2 4z"/><path color="#babd63" d="M102.6 73.9l1.9-5.9-2.3-.5-1.9 7.4z"/><path color="#75bf7e" d="M100.6 81l2-7.1-2.3 1-1.9 7.5z"/><path color="#06a8c4" d="M83.1 94.2l2-4.4-2.3 2.9-1.9 3.8z"/><path color="#079bd0" d="M81.2 100l1.9-5.8-2.2 2.3-2 3.2z"/><path color="#1388d3" d="M75.4 102.8l1.9 .4 1.9-.4 2-2.8-2.3-.3-1.9 .8-2 .3-1.9 .8z"/><path color="#36369f" d="M63.7 119.1l1.9-5.1-2.2 4.9-2 .2z"/><path color="#363093" d="M61.8 119.8l1.9-.7-2.3 0-1.9-.9z"/></g><g fill="none" stroke-width="1.05" stroke-linecap="round" stroke-linejoin="round"><path d="M127.8 60.2L129.8 60.5L131.7 60" stroke="#3cf03c"/><path d="M96.6 62.5L98.2 61.5L99.9 60.6L101.6 59.8L103.2 59" stroke="#d824d8"/><path d="M130.2 70.4L132.3 71.8L134.4 70" stroke="#2020f0"/><path d="M113 53.9L114.4 53.6L115.9 55.4L117.3 57.7L118.7 59.9" stroke="#f04040"/><path d="M94.5 72.1L95.8 71.9L97 71.5L98.1 71L99.3 70.4L100.5 69.9L101.7 68.4L102.9 66.9L104 65.4L105.3 63.9" stroke="#e8902c"/></g><g class="t" filter="url(#soft)"><path color="#dbba55" d="M178.7 55.6l1.9-.3-2.2-6.6-2 1.4z"/><path color="#d3bb58" d="M176.7 57.4l2-1.8-2.3-5.5-1.9 1.4z"/><path color="#cbbb5c" d="M174.8 60.3l1.9-2.9-2.2-5.9-2 1.9z"/><path color="#a8be6a" d="M172.8 65.5l2-5.2-2.3-6.9-1.9 4.9z"/><path color="#5ebe89" d="M170.9 72.5l1.9-7-2.2-7.2-2 7.6z"/><path color="#09abbf" d="M147.6 80.3l1.9-3.7-2.2 3.9-2 2.4z"/><path color="#06a2cb" d="M145.6 83.7l2-3.4-2.3 2.6-1.9 1.9z"/><path color="#079bd0" d="M143.7 85.5l1.9-1.8-2.2 1.1-2 1.4z"/><path color="#0a97d1" d="M141.7 86.9l2-1.4-2.3 .7-1.9 1.3z"/><path color="#1480d6" d="M128.1 95.5l2 1.1-2.3-4.2-1.9-3.5z"/><path color="#118dd2" d="M126.2 94.9l1.9 .6-2.2-6.6-2-2.6z"/><path color="#0a97d1" d="M124.3 94.7l1.9 .2-2.3-8.6-1.9-1.2z"/><path color="#079bd0" d="M122.3 94.9l2-.2-2.3-9.6-2-.9z"/><path color="#069fce" d="M120.4 93.8l1.9 1.1-2.3-10.7-1.9-2z"/><path color="#06a8c4" d="M118.4 91.9l2 1.9-2.3-11.6-1.9-2.5z"/><path color="#13b0b6" d="M116.5 88.7l1.9 3.2-2.2-12.2-2-2.5z"/><path color="#3dba9b" d="M114.5 83.7l2 5-2.3-11.5-1.9-2.5z"/><path color="#75bf7e" d="M112.6 77.8l1.9 5.9-2.2-9-2-3.9z"/><path color="#b1bd66" d="M110.7 71.9l1.9 5.9-2.3-7-1.9-4.2z"/><path color="#dbba55" d="M108.7 68.2l2 3.7-2.3-5.3-2-1.5z"/><path color="#e3b951" d="M106.8 68.5l1.9-.3-2.3-3.1-1.9 2.9z"/><path color="#c2bc5f" d="M104.8 73.2l2-4.7-2.3-.5-1.9 5.9z"/><path color="#8bbf75" d="M102.9 78.9l1.9-5.7-2.2 .7-2 7.1z"/><path color="#52bd8f" d="M100.9 82.3l2-3.4-2.3 2.1-1.9 4.6z"/><path color="#21b4ac" d="M87.3 89.2l2 .9-2.3-1.3-1.9 1z"/><path color="#13b0b6" d="M85.4 92.3l1.9-3.1-2.2 .6-2 4.4z"/><path color="#06a2cb" d="M83.4 97.6l2-5.3-2.3 1.9-1.9 5.8z"/><path color="#0e92d2" d="M81.5 102.1l1.9-4.5-2.2 2.4-2 2.8z"/><path color="#1484d4" d="M77.6 105.7l2-1 1.9-2.6-2.3 .7-1.9 .4-1.9-.4z"/><path color="#1388d3" d="M75.7 104.9l1.9 .8-2.2-2.9-2-1.5z"/><path color="#118dd2" d="M73.7 103.4l2 1.5-2.3-3.6-1.9-.2z"/><path color="#0e92d2" d="M71.8 102.7l1.9 .7-2.2-2.3-2 2.1z"/><path color="#1388d3" d="M69.8 105.5l2-2.8-2.3 .5-1.9 4.3z"/><path color="#0c74dd" d="M67.9 111.6l1.9-6.1-2.2 2-2 6.5z"/><path color="#2152d3" d="M66 117.5l1.9-5.9-2.3 2.4-1.9 5.1z"/><path color="#36369f" d="M64 119.5l2-2-2.3 1.6-1.9 .7z"/></g><g fill="none" stroke-width="1.05" stroke-linecap="round" stroke-linejoin="round"><path d="M131.7 60L133.6 59.4L135.5 58.7" stroke="#3cf03c"/><path d="M103.2 59L104.9 57.6L106.6 56" stroke="#d824d8"/><path d="M134.4 70L136.6 67.6L138.7 64.8" stroke="#2020f0"/><path d="M118.7 59.9L120.1 62.2L121.5 64.7L122.9 67.3L124.2 68.9L125.6 70.4" stroke="#f04040"/><path d="M105.3 63.9L106.5 62.7L107.7 61.7L109 61.1L110.2 61L111.5 62.3L112.9 64.3" stroke="#e8902c"/></g><g class="t" filter="url(#soft)"><path color="#b1bd66" d="M180.9 60.2l2-.5-2.3-4.4-1.9 .3z"/><path color="#a8be6a" d="M179 63.1l1.9-2.9-2.2-4.6-2 1.8z"/><path color="#8bbf75" d="M177 67.2l2-4.1-2.3-5.7-1.9 2.9z"/><path color="#5ebe89" d="M175.1 72.3l1.9-5.1-2.2-6.9-2 5.2z"/><path color="#21b4ac" d="M149.8 77.9l2-4.6-2.3 3.3-1.9 3.7z"/><path color="#09abbf" d="M147.9 82.3l1.9-4.4-2.2 2.4-2 3.4z"/><path color="#06a2cb" d="M146 84.5l1.9-2.2-2.3 1.4-1.9 1.8z"/><path color="#069fce" d="M144 85.6l2-1.1-2.3 1-2 1.4z"/><path color="#0a97d1" d="M142.1 88.9l1.9-3.3-2.3 1.3-1.9 2.9z"/><path color="#0c74dd" d="M124.6 101.9l1.9-.7 2-1.2 1.9-1.2 1.9-.5-2.2-1.7-2-1.1-1.9-.6-1.9-.2-2 .2z"/><path color="#0f78db" d="M122.6 101.8l2 .1-2.3-7-1.9-1.1z"/><path color="#127cd8" d="M120.7 101.4l1.9 .4-2.2-8-2-1.9z"/><path color="#1388d3" d="M118.7 99.2l2 2.2-2.3-9.5-1.9-3.2z"/><path color="#069fce" d="M116.8 94.1l1.9 5.1-2.2-10.5-2-5z"/><path color="#1ab2b1" d="M114.9 87.8l1.9 6.3-2.3-10.4-1.9-5.9z"/><path color="#5ebe89" d="M112.9 80.9l2 6.9-2.3-10-1.9-5.9z"/><path color="#a8be6a" d="M111 74.8l1.9 6.1-2.2-9-2-3.7z"/><path color="#cbbb5c" d="M109 72.3l2 2.5-2.3-6.6-1.9 .3z"/><path color="#c2bc5f" d="M107.1 74.1l1.9-1.8-2.2-3.8-2 4.7z"/><path color="#9fbe6d" d="M105.1 77.5l2-3.4-2.3-.9-1.9 5.7z"/><path color="#75bf7e" d="M103.2 80l1.9-2.5-2.2 1.4-2 3.4z"/><path color="#52bd8f" d="M101.3 84l1.9-4-2.3 2.3-1.9 3.7z"/><path color="#1ab2b1" d="M87.7 91.5l1.9-1.1 1.9 1.8-2.2-2.1-2-.9-1.9 3.1z"/><path color="#0dadbb" d="M85.7 93.8l2-2.3-2.3 .8-2 5.3z"/><path color="#06a2cb" d="M83.8 97.9l1.9-4.1-2.3 3.8-1.9 4.5z"/><path color="#0e92d2" d="M81.8 102.6l2-4.7-2.3 4.2-1.9 2.6z"/><path color="#1484d4" d="M79.9 106.3l1.9-3.7-2.2 2.1-2 1z"/><path color="#1480d6" d="M77.9 108.2l2-1.9-2.3-.6-1.9-.8z"/><path color="#1484d4" d="M76 106.6l1.9 1.6-2.2-3.3-2-1.5z"/><path color="#118dd2" d="M72.1 105.5l1.9-1.1 2 2.2-2.3-3.2-1.9-.7-2 2.8z"/><path color="#127cd8" d="M70.2 110.4l1.9-4.9-2.3 0-1.9 6.1z"/><path color="#0462e0" d="M68.2 115.4l2-5-2.3 1.2-1.9 5.9z"/><path color="#2c4ac6" d="M66.3 117.9l1.9-2.5-2.2 2.1-2 2z"/></g><g fill="none" stroke-width="1.05" stroke-linecap="round" stroke-linejoin="round"><path d="M135.5 58.7L137.3 57.7L139.2 57L141 56.5" stroke="#3cf03c"/><path d="M106.6 56L108.7 55L110.8 55.7" stroke="#d824d8"/><path d="M138.7 64.8L140.8 62L143 60.5" stroke="#2020f0"/><path d="M125.6 70.4L127 71.2L128.5 71.2L130 70.1L131.4 68.9L132.9 67.7" stroke="#f04040"/><path d="M112.9 64.3L114.6 66.9L116.2 69.5L117.8 71.9" stroke="#e8902c"/></g><g class="t" filter="url(#soft)"><path color="#3dba9b" d="M152.1 76.8l1.9-4.7-2.2 1.2-2 4.6z"/><path color="#1ab2b1" d="M150.2 81l1.9-4.2-2.3 1.1-1.9 4.4z"/><path color="#06a8c4" d="M148.2 83.1l2-2.1-2.3 1.3-1.9 2.2z"/><path color="#069fce" d="M144.3 86.8l2-2.6-2.3 1.4-1.9 3.3z"/><path color="#0e92d2" d="M142.4 90.7l1.9-3.9-2.2 2.1-2 3.6z"/><path color="#0267e1" d="M128.8 103.9l1.9-1.8-2.2-2.1-2 1.2z"/><path color="#0462e0" d="M123 105.6l1.9-1.1 1.9-.1 2-.5-2.3-2.7-1.9 .7-2-.1-1.9-.4z"/><path color="#0267e1" d="M121 106l2-.4-2.3-4.2-2-2.2z"/><path color="#0c74dd" d="M119.1 103.3l1.9 2.7-2.3-6.8-1.9-5.1z"/><path color="#118dd2" d="M117.1 98.7l2 4.6-2.3-9.2-1.9-6.3z"/><path color="#06a8c4" d="M115.2 92.4l1.9 6.3-2.2-10.9-2-6.9z"/><path color="#3dba9b" d="M113.2 85.2l2 7.2-2.3-11.5-1.9-6.1z"/><path color="#80bf7a" d="M111.3 80.2l1.9 5-2.2-10.4-2-2.5z"/><path color="#9fbe6d" d="M109.3 78.5l2 1.7-2.3-7.9-1.9 1.8z"/><path color="#95bf71" d="M107.4 79.7l1.9-1.2-2.2-4.4-2 3.4z"/><path color="#80bf7a" d="M105.5 81.8l1.9-2.1-2.3-2.2-1.9 2.5z"/><path color="#5ebe89" d="M103.5 85l2-3.2-2.3-1.8-1.9 4z"/><path color="#33b8a1" d="M101.6 89.6l1.9-4.6-2.2-1-2 6.2z"/><path color="#1ab2b1" d="M88 91.5l1.9 1.2 2 1.4-2.3-3.7-1.9 1.1-2 2.3z"/><path color="#13b0b6" d="M86 93.7l2-2.2-2.3 2.3-1.9 4.1z"/><path color="#06a2cb" d="M84.1 99.5l1.9-5.8-2.2 4.2-2 4.7z"/><path color="#118dd2" d="M82.1 104.9l2-5.4-2.3 3.1-1.9 3.7z"/><path color="#1480d6" d="M80.2 108.5l1.9-3.6-2.2 1.4-2 1.9z"/><path color="#118dd2" d="M74.4 105.8l1.9 .1-2.3-1.5-1.9 1.1z"/><path color="#1484d4" d="M72.4 108.4l2-2.6-2.3-.3-1.9 4.9z"/><path color="#0c74dd" d="M70.5 113.1l1.9-4.7-2.2 2-2 5z"/><path color="#0462e0" d="M68.5 116.6l2-3.5-2.3 2.3-1.9 2.5z"/></g><g fill="none" stroke-width="1.05" stroke-linecap="round" stroke-linejoin="round"><path d="M141 56.5L142.9 57L144.8 57.8" stroke="#3cf03c"/><path d="M110.8 55.7L113 56.4" stroke="#d824d8"/><path d="M143 60.5L145.1 59.7L147.3 59.9" stroke="#2020f0"/><path d="M132.9 67.7L134.4 67.1L135.8 66.6L137.3 66.2L138.8 66.1" stroke="#f04040"/></g><g class="t" filter="url(#soft)"><path color="#09abbf" d="M146.6 84.1l1.9-2.6-2.2 2.7-2 2.6z"/><path color="#069fce" d="M144.6 88.2l2-4.1-2.3 2.7-1.9 3.9z"/><path color="#046ce0" d="M119.4 105.8l1.9 2.6-2.2-5.1-2-4.6z"/><path color="#1480d6" d="M117.4 101.7l2 4.1-2.3-7.1-1.9-6.3z"/><path color="#069fce" d="M115.5 96.1l1.9 5.6-2.2-9.3-2-7.2z"/><path color="#1ab2b1" d="M113.6 90.5l1.9 5.6-2.3-10.9-1.9-5z"/><path color="#52bd8f" d="M111.6 86l2 4.5-2.3-10.3-2-1.7z"/><path color="#6abe83" d="M109.7 85l1.9 1-2.3-7.5-1.9 1.2z"/><path color="#5ebe89" d="M107.7 86.6l2-1.6-2.3-5.3-1.9 2.1z"/><path color="#47bb95" d="M105.8 88.1l1.9-1.5-2.2-4.8-2 3.2z"/><path color="#33b8a1" d="M103.8 89.2l2-1.1-2.3-3.1-1.9 4.6z"/><path color="#13b0b6" d="M101.9 92.3l1.9-3.1-2.2 .4-2 4.9z"/><path color="#06a6c7" d="M100 97.7l1.9-5.4-2.3 2.2-1.9 3.1z"/><path color="#21b4ac" d="M88.3 93l1.9 .3-2.2-1.8-2 2.2z"/><path color="#0dadbb" d="M86.3 98l2-5-2.3 .7-1.9 5.8z"/><path color="#079bd0" d="M84.4 103.6l1.9-5.6-2.2 1.5-2 5.4z"/><path color="#1484d4" d="M82.5 107.6l1.9-4-2.3 1.3-1.9 3.6z"/><path color="#1480d6" d="M80.5 108.7l2-1.1-2.3 .9-1.9-.6z"/><path color="#1484d4" d="M78.6 108.4l1.9 .3-2.2-.8-2-2z"/><path color="#1388d3" d="M76.6 108.2l2 .2-2.3-2.5-1.9-.1z"/><path color="#1484d4" d="M74.7 109l1.9-.8-2.2-2.4-2 2.6z"/><path color="#127cd8" d="M72.7 112.2l2-3.2-2.3-.6-1.9 4.7z"/><path color="#046ce0" d="M70.8 115.3l1.9-3.1-2.2 .9-2 3.5z"/></g><g fill="none" stroke-width="1.05" stroke-linecap="round" stroke-linejoin="round"><path d="M144.8 57.8L146.6 58.7L148.5 59.7L150.3 60.9" stroke="#3cf03c"/><path d="M113 56.4L116.1 57.8" stroke="#d824d8"/><path d="M147.3 59.9L149.4 59.9L151.5 59.6" stroke="#2020f0"/><path d="M138.8 66.1L140.2 66.1L141.7 66.1L143.2 66.7L144.6 67.2" stroke="#f04040"/><path d="M117.8 71.9L122 75.5L122 75.5" stroke="#e8902c"/></g><g class="t" filter="url(#soft)"><path color="#21b4ac" d="M148.9 81.1l1.9-2.7-2.3 3.1-1.9 2.6z"/><path color="#09abbf" d="M146.9 85.3l2-4.2-2.3 3-2 4.1z"/><path color="#0a97d1" d="M115.8 98.8l2 4.1-2.3-6.8-1.9-5.6z"/><path color="#09abbf" d="M113.9 93.4l1.9 5.4-2.2-8.3-2-4.5z"/><path color="#2ab6a7" d="M111.9 90l2 3.4-2.3-7.4-1.9-1z"/><path color="#33b8a1" d="M110 89.9l1.9 .1-2.2-5-2 1.6z"/><path color="#2ab6a7" d="M106.1 90.1l1.9 0 2-.2-2.3-3.3-1.9 1.5-2 1.1z"/><path color="#1ab2b1" d="M104.2 93l1.9-2.9-2.3-.9-1.9 3.1z"/><path color="#06a8c4" d="M102.2 99.3l2-6.3-2.3-.7-1.9 5.4z"/><path color="#0a97d1" d="M100.3 104.1l1.9-4.8-2.2-1.6-2 3.6z"/><path color="#0dadbb" d="M88.6 100l2-2.4-2.3-4.6-2 5z"/><path color="#069fce" d="M86.7 104l1.9-4-2.3-2-1.9 5.6z"/><path color="#118dd2" d="M84.7 107.6l2-3.6-2.3-.4-1.9 4z"/><path color="#1480d6" d="M82.8 109.7l1.9-2.1-2.2 0-2 1.1z"/><path color="#127cd8" d="M75 113.3l1.9-1.1 2-.1 1.9-.8 2-1.6-2.3-1-1.9-.3-2-.2-1.9 .8-2 3.2z"/><path color="#0870df" d="M73.1 114.9l1.9-1.6-2.3-1.1-1.9 3.1z"/></g><g fill="none" stroke-width="1.05" stroke-linecap="round" stroke-linejoin="round"><path d="M150.3 60.9L152.2 61.8L154.1 61.7" stroke="#3cf03c"/><path d="M116.1 57.8L119.2 59.3L121.5 60.3" stroke="#d824d8"/><path d="M151.5 59.6L153.7 59" stroke="#2020f0"/><path d="M144.6 67.2L146.1 68.1L147.6 68.9L149.1 68.5L150.6 67.5" stroke="#f04040"/><path d="M122 75.5L123.4 76.9L124 77.4" stroke="#e8902c"/></g><g class="t" filter="url(#soft)"><path color="#e3b951" d="M166.7 61.6l1.9-.7 1.9-.3-2.2-.3-2-.5-1.9 .6z"/><path color="#dbba55" d="M164.7 64.1l2-2.5-2.3-1.2-1.9 2.7z"/><path color="#3dba9b" d="M151.1 80l2-2.7-2.3 1.1-1.9 2.7z"/><path color="#21b4ac" d="M149.2 83.8l1.9-3.8-2.2 1.1-2 4.2z"/><path color="#06a8c4" d="M147.2 88.2l2-4.4-2.3 1.5-1.9 5.2z"/><path color="#13b0b6" d="M112.2 92.6l2 1.6-2.3-4.2-1.9-.1z"/><path color="#1ab2b1" d="M108.4 94l1.9-.8 1.9-.6-2.2-2.7-2 .2-1.9 0z"/><path color="#13b0b6" d="M106.4 97l2-3-2.3-3.9-1.9 2.9z"/><path color="#06a2cb" d="M104.5 102.4l1.9-5.4-2.2-4-2 6.3z"/><path color="#118dd2" d="M102.5 106l2-3.6-2.3-3.1-1.9 4.8z"/><path color="#1484d4" d="M98.6 106.8l2 .2 1.9-1-2.2-1.9-2 .8-1.9-1z"/><path color="#06a2cb" d="M90.9 104.1l1.9-.6-2.2-5.9-2 2.4z"/><path color="#079bd0" d="M88.9 106l2-1.9-2.3-4.1-1.9 4z"/><path color="#118dd2" d="M87 108.6l1.9-2.6-2.2-2-2 3.6z"/><path color="#1480d6" d="M85 111l2-2.4-2.3-1-1.9 2.1z"/><path color="#0f78db" d="M83.1 113.3l1.9-2.3-2.2-1.3-2 1.6z"/><path color="#0c74dd" d="M79.2 115.8l2-1 1.9-1.5-2.3-2-1.9 .8-2 .1z"/><path color="#0870df" d="M77.3 117l1.9-1.2-2.3-3.6-1.9 1.1z"/><path color="#046ce0" d="M75.3 117.9l2-.9-2.3-3.7-1.9 1.6z"/></g><g fill="none" stroke-width="1.05" stroke-linecap="round" stroke-linejoin="round"><path d="M154.1 61.7L155.9 61.7L157.8 61.6L159.7 61.5" stroke="#3cf03c"/><path d="M121.5 60.3L123.6 61.2L125.7 62" stroke="#d824d8"/><path d="M153.7 59L155.8 57.8L158 56.9" stroke="#2020f0"/><path d="M150.6 67.5L152.2 66.1L153.9 64.9L155.5 64.3" stroke="#f04040"/><path d="M124 77.4L123.7 77.6L123.4 77.8L123.1 78.3L122.8 78.8" stroke="#e8902c"/></g><g class="t" filter="url(#soft)"><path color="#e3b951" d="M170.9 62.6l1.9-1.5 2-.3-2.3 .2-2-.4-1.9 .3z"/><path color="#dbba55" d="M168.9 64.7l2-2.1-2.3-1.7-1.9 .7z"/><path color="#cbbb5c" d="M167 67.9l1.9-3.2-2.2-3.1-2 2.5z"/><path color="#b1bd66" d="M165 71.8l2-3.9-2.3-3.8-1.9 3.4z"/><path color="#8bbf75" d="M163.1 75.1l1.9-3.3-2.2-4.3-2 3.7z"/><path color="#2ab6a7" d="M151.4 83.8l2-2.6-2.3-1.2-1.9 3.8z"/><path color="#13b0b6" d="M149.5 86.2l1.9-2.4-2.2 0-2 4.4z"/><path color="#06a8c4" d="M112.6 99.7l1.9-1.8 2 1.3-2.3-5-2-1.6-1.9 .6z"/><path color="#06a6c7" d="M110.6 101.3l2-1.6-2.3-6.5-1.9 .8z"/><path color="#06a2cb" d="M108.7 103.4l1.9-2.1-2.2-7.3-2 3z"/><path color="#0e92d2" d="M106.7 106.4l2-3-2.3-6.4-1.9 5.4z"/><path color="#1484d4" d="M104.8 108.3l1.9-1.9-2.2-4-2 3.6z"/><path color="#127cd8" d="M102.9 108.5l1.9-.2-2.3-2.3-1.9 1z"/><path color="#1480d6" d="M99 108.8l1.9-.6 2 .3-2.3-1.5-2-.2-1.9 0z"/><path color="#0e92d2" d="M93.1 107.3l2-.1-2.3-3.7-1.9 .6z"/><path color="#118dd2" d="M91.2 108.8l1.9-1.5-2.2-3.2-2 1.9z"/><path color="#1484d4" d="M89.2 111.5l2-2.7-2.3-2.8-1.9 2.6z"/><path color="#127cd8" d="M87.3 113.6l1.9-2.1-2.2-2.9-2 2.4z"/><path color="#0c74dd" d="M85.4 115.6l1.9-2-2.3-2.6-1.9 2.3z"/><path color="#046ce0" d="M83.4 117.3l2-1.7-2.3-2.3-1.9 1.5z"/><path color="#0267e1" d="M81.5 119.2l1.9-1.9-2.2-2.5-2 1z"/><path color="#0462e0" d="M77.6 120.2l1.9-.2 2-.8-2.3-3.4-1.9 1.2-2 .9z"/></g><path d="M87.4 100.7L87.5 100.8L87.8 100.8L88.2 100.9L88.7 101.4L89.4 101.8L90.2 102.5L91.1 103.6L92.1 104.7L93.1 105.8L94.1 106.8L95.2 107.7L96.2 108.4L97.2 108.7L98 108.8L98.8 108.7L99.5 108.7L100.1 108.6L100.5 108.4L100.7 108.1L100.8 107.6L100.8 63.4L100.7 63.6L100.5 63.9L100.1 64.1L99.5 64.3L98.8 64.5L98 64.6L97.2 64.6L96.2 64.6L95.2 64.6L94.1 64.5L93.1 64.3L92.1 64.2L91.1 63.9L90.2 63.7L89.4 63.4L88.7 63.1L88.2 62.8L87.8 62.4L87.5 62.1L87.4 61.8z" fill="url(#cyl)"/><path d="M98.5 61.7L97.5 61.4L96.5 61.1L95.4 60.9L94.2 60.7L93 60.6L91.9 60.5L90.8 60.6L89.9 60.6L89.1 60.8L88.4 61L87.9 61.2L87.6 61.5L87.4 61.8L87.5 62.1L87.8 62.5L88.3 62.8L89 63.2L89.8 63.5L90.7 63.8L91.8 64.1L92.9 64.3L94 64.5L95.2 64.6L96.3 64.6L97.4 64.6L98.4 64.5L99.2 64.4L99.9 64.2L100.4 64L100.7 63.7L100.8 63.4L100.7 63L100.4 62.7L99.9 62.3L99.3 62z" fill="#3a3a3a" stroke="#181818" stroke-width=".8"/><g fill="none" stroke-width="1.05" stroke-linecap="round" stroke-linejoin="round"><path d="M159.7 61.5L161.8 61.6" stroke="#3cf03c"/><path d="M125.7 62L127.8 62.7L129.4 63L130.9 63.4" stroke="#d824d8"/><path d="M158 56.9L160.1 56.2L162.3 56" stroke="#2020f0"/><path d="M155.5 64.3L157.1 63.8L158.7 63.6L160.3 63.3L161.9 64" stroke="#f04040"/><path d="M122.8 78.8L122.5 79.4L122.3 80.3L122 81.7" stroke="#e8902c"/></g><g class="t" filter="url(#soft)"><path color="#b1bd66" d="M194.5 62.7l1.9-.1-2.2 0-2-.3z"/><path color="#babd63" d="M192.6 62.3l1.9 .4-2.3-.4-1.9-.4z"/><path color="#d3bb58" d="M186.7 60.7l2 .9-2.3-1.1-1.9-.4z"/><path color="#dbba55" d="M180.9 61.6l1.9 .2 2 0 1.9-1.1-2.2-.6-2 0-1.9 0-2-.1z"/><path color="#e3b951" d="M175.1 63.4l1.9-1.5 2-.2 1.9-.1-2.3-1.6-1.9 .2-1.9 .6-2 .3z"/><path color="#d3bb58" d="M173.1 66.2l2-2.8-2.3-2.3-1.9 1.5z"/><path color="#c2bc5f" d="M171.2 69.4l1.9-3.2-2.2-3.6-2 2.1z"/><path color="#a8be6a" d="M169.2 73.3l2-3.9-2.3-4.7-1.9 3.2z"/><path color="#8bbf75" d="M167.3 77.3l1.9-4-2.2-5.4-2 3.9z"/><path color="#5ebe89" d="M165.4 80.4l1.9-3.1-2.3-5.5-1.9 3.3z"/><path color="#47bb95" d="M159.5 81.4l2-1.2 1.9 .4 2-.2-2.3-5.3-1.9 1.1-2 1-1.9 1.2z"/><path color="#127cd8" d="M122.6 105.1l1.9-.6 2-1 1.9-1.4 2 .3-2.3 2.5-1.9-.6-2 .3-1.9 .6-2-.8z"/><path color="#1480d6" d="M120.7 105.3l1.9-.2-2.3-.7-1.9-2.2z"/><path color="#1388d3" d="M118.7 104.8l2 .5-2.3-3.1-1.9-3z"/><path color="#0e92d2" d="M116.8 105.3l1.9-.5-2.2-5.6-2-1.3z"/><path color="#118dd2" d="M114.8 107.7l2-2.4-2.3-7.4-1.9 1.8z"/><path color="#1388d3" d="M112.9 109l1.9-1.3-2.2-8-2 1.6z"/><path color="#1484d4" d="M110.9 109.3l2-.3-2.3-7.7-1.9 2.1z"/><path color="#1480d6" d="M109 110l1.9-.7-2.2-5.9-2 3z"/><path color="#0f78db" d="M107.1 110.3l1.9-.3-2.3-3.6-1.9 1.9z"/><path color="#127cd8" d="M105.1 109.3l2 1-2.3-2-1.9 .2z"/><path color="#1480d6" d="M99.3 109.6l1.9-.7 2-.5 1.9 .9-2.2-.8-2-.3-1.9 .6-2-.7z"/><path color="#1484d4" d="M93.5 111.2l1.9-.8 1.9-.1 2-.7-2.3-1.5-1.9-.9-2 .1-1.9 1.5z"/><path color="#127cd8" d="M91.5 113.7l2-2.5-2.3-2.4-2 2.7z"/><path color="#0c74dd" d="M89.6 115.5l1.9-1.8-2.3-2.2-1.9 2.1z"/><path color="#0870df" d="M87.6 117.1l2-1.6-2.3-1.9-1.9 2z"/><path color="#0267e1" d="M85.7 119.2l1.9-2.1-2.2-1.5-2 1.7z"/><path color="#115bdc" d="M83.7 121.4l2-2.2-2.3-1.9-1.9 1.9z"/><path color="#2152d3" d="M79.8 122.5l2-.2 1.9-.9-2.2-2.2-2 .8-1.9 .2z"/></g><g fill="none" stroke-width="1.05" stroke-linecap="round" stroke-linejoin="round"><path d="M161.8 61.6L164 62.8L166.1 63.9L167.9 64.8" stroke="#3cf03c"/><path d="M130.9 63.4L132.4 63.7L133.9 64L135.4 64.3L136.9 64.6" stroke="#d824d8"/><path d="M162.3 56L164.5 56.6L166.7 57.2" stroke="#2020f0"/><path d="M161.9 64L163.7 65L165.5 65.9" stroke="#f04040"/><path d="M122 81.7L121.8 83.2" stroke="#e8902c"/></g><g class="t" filter="url(#soft)"><path color="#c2bc5f" d="M192.9 62.4l1.9 .4 2-.3-2.3 .2-1.9-.4-2-.3z"/><path color="#cbbb5c" d="M190.9 62l2 .4-2.3-.4-1.9-.4z"/><path color="#d3bb58" d="M179.3 66.8l1.9-.6 2-1.2 1.9-1.1 2-.7 1.9-.8 1.9-.4-2.2-.4-2-.9-1.9 1.1-2 0-1.9-.2-1.9 .1-2 .2z"/><path color="#cbbb5c" d="M177.3 68.5l2-1.7-2.3-4.9-1.9 1.5z"/><path color="#babd63" d="M175.4 71.1l1.9-2.6-2.2-5.1-2 2.8z"/><path color="#9fbe6d" d="M173.4 74.7l2-3.6-2.3-4.9-1.9 3.2z"/><path color="#80bf7a" d="M171.5 78l1.9-3.3-2.2-5.3-2 3.9z"/><path color="#52bd8f" d="M169.6 80.7l1.9-2.7-2.3-4.7-1.9 4z"/><path color="#33b8a1" d="M167.6 82.7l2-2-2.3-3.4-1.9 3.1z"/><path color="#2ab6a7" d="M165.7 83l1.9-.3-2.2-2.3-2 .2z"/><path color="#33b8a1" d="M161.8 83.6l1.9-1.2 2 .6-2.3-2.4-1.9-.4-2 1.2z"/><path color="#2ab6a7" d="M148.2 86.1l1.9-1.2 2 .3-2.3-.3-1.9-.3-2 1z"/><path color="#21b4ac" d="M146.2 88l2-1.9-2.3-.5-1.9 2.7z"/><path color="#0dadbb" d="M144.3 91l1.9-3-2.2 .3-2 3.5z"/><path color="#06a6c7" d="M142.4 94.9l1.9-3.9-2.3 .8-1.9 3.6z"/><path color="#1484d4" d="M128.8 103.9l1.9-1.7 1.9 .7-2.2-.5-2-.3-1.9 1.4z"/><path color="#1480d6" d="M126.8 105.8l2-1.9-2.3-.4-2 1z"/><path color="#127cd8" d="M119 110.2l2-2.2 1.9-.2 2-.4 1.9-1.6-2.3-1.3-1.9 .6-1.9 .2-2-.5-1.9 .5z"/><path color="#0c74dd" d="M117.1 112.9l1.9-2.7-2.2-4.9-2 2.4z"/><path color="#0870df" d="M109.3 113.5l2-.2 1.9-.4 1.9 .4 2-.4-2.3-5.2-1.9 1.3-2 .3-1.9 .7-1.9 .3z"/><path color="#0c74dd" d="M107.4 111.8l1.9 1.7-2.2-3.2-2-1z"/><path color="#127cd8" d="M105.4 110l2 1.8-2.3-2.5-1.9-.9z"/><path color="#1480d6" d="M101.5 111.7l2-1.5 1.9-.2-2.2-1.6-2 .5-1.9 .7z"/><path color="#127cd8" d="M95.7 113.3l2-.1 1.9-.4 1.9-1.1-2.2-2.1-2 .7-1.9 .1-1.9 .8z"/><path color="#0f78db" d="M93.8 114.6l1.9-1.3-2.2-2.1-2 2.5z"/><path color="#0c74dd" d="M91.8 115.6l2-1-2.3-.9-1.9 1.8z"/><path color="#0870df" d="M89.9 116.8l1.9-1.2-2.2-.1-2 1.6z"/><path color="#0267e1" d="M87.9 118.9l2-2.1-2.3 .3-1.9 2.1z"/><path color="#115bdc" d="M86 121l1.9-2.1-2.2 .3-2 2.2z"/><path color="#2152d3" d="M84.1 123.4l1.9-2.4-2.3 .4-1.9 .9z"/><path color="#2c4ac6" d="M82.1 124.8l2-1.4-2.3-1.1-2 .2z"/></g><g fill="none" stroke-width="1.05" stroke-linecap="round" stroke-linejoin="round"><path d="M167.9 64.8L169.6 65.7L171.4 66.1L173.1 66.5" stroke="#3cf03c"/><path d="M136.9 64.6L138.3 64.8L139.7 64.7L141.1 64.4L142.5 64.1L143.8 63.9" stroke="#d824d8"/><path d="M166.7 57.2L168.8 57.3L171 57.4" stroke="#2020f0"/><path d="M165.5 65.9L167.2 66.8L169 67.5L170.6 68" stroke="#f04040"/><path d="M121.8 83.2L123.5 90L123.5 90" stroke="#e8902c"/></g><g class="t" filter="url(#soft)"><path color="#cbbb5c" d="M195.1 63.6l2-1-2.3 .2-1.9-.4z"/><path color="#c2bc5f" d="M191.3 65.3l1.9 .6 1.9-2.3-2.2-1.2-2-.4-1.9 .4z"/><path color="#cbbb5c" d="M189.3 65l2 .3-2.3-2.9-1.9 .8z"/><path color="#c2bc5f" d="M187.4 66.6l1.9-1.6-2.2-1.8-2 .7z"/><path color="#babd63" d="M185.4 68.6l2-2-2.3-2.7-1.9 1.1z"/><path color="#b1bd66" d="M183.5 70.6l1.9-2-2.2-3.6-2 1.2z"/><path color="#a8be6a" d="M181.5 71.8l2-1.2-2.3-4.4-1.9 .6z"/><path color="#9fbe6d" d="M179.6 72.9l1.9-1.1-2.2-5-2 1.7z"/><path color="#95bf71" d="M177.7 75.1l1.9-2.2-2.3-4.4-1.9 2.6z"/><path color="#75bf7e" d="M175.7 79.1l2-4-2.3-4-2 3.6z"/><path color="#47bb95" d="M173.8 81.7l1.9-2.6-2.3-4.4-1.9 3.3z"/><path color="#33b8a1" d="M171.8 83.1l2-1.4-2.3-3.7-1.9 2.7z"/><path color="#2ab6a7" d="M169.9 83.6l1.9-.5-2.2-2.4-2 2z"/><path color="#21b4ac" d="M164.1 85.2l1.9-.5 1.9-.4 2-.7-2.3-.9-1.9 .3-2-.6-1.9 1.2z"/><path color="#21b4ac" d="M150.4 90.1l2-1.5 1.9-.3-2.2-3.1-2-.3-1.9 1.2z"/><path color="#1ab2b1" d="M148.5 91.8l1.9-1.7-2.2-4-2 1.9z"/><path color="#09abbf" d="M146.6 94.7l1.9-2.9-2.3-3.8-1.9 3z"/><path color="#06a2cb" d="M144.6 98.5l2-3.8-2.3-3.7-1.9 3.9z"/><path color="#0e92d2" d="M142.7 102.9l1.9-4.4-2.2-3.6-2 4.5z"/><path color="#1480d6" d="M140.7 105.7l2-2.8-2.3-3.5-1.9 3.3z"/><path color="#127cd8" d="M129.1 108.4l1.9-2.6-2.2-1.9-2 1.9z"/><path color="#0c74dd" d="M123.2 110.8l2-.3 1.9-.3 2-1.8-2.3-2.6-1.9 1.6-2 .4-1.9 .2z"/><path color="#0870df" d="M121.3 113.6l1.9-2.8-2.2-2.8-2 2.2z"/><path color="#0462e0" d="M115.5 114.6l1.9 .7 2 .7 1.9-2.4-2.3-3.4-1.9 2.7-2 .4-1.9-.4z"/><path color="#0267e1" d="M111.6 115.3l1.9 0 2-.7-2.3-1.7-1.9 .4-2 .2z"/><path color="#0c74dd" d="M107.7 112.7l1.9 1.2-2.2-2.1-2-1.8z"/><path color="#127cd8" d="M105.8 112.9l1.9-.2-2.3-2.7-1.9 .2z"/><path color="#0f78db" d="M103.8 114.4l2-1.5-2.3-2.7-2 1.5z"/><path color="#0c74dd" d="M92.1 116.1l2-.3 1.9 .1 2-.2 1.9-.2 2-.6 1.9-.5-2.3-2.7-1.9 1.1-1.9 .4-2 .1-1.9 1.3-2 1-1.9 1.2z"/><path color="#0870df" d="M90.2 117.3l1.9-1.2-2.2 .7-2 2.1z"/><path color="#0267e1" d="M88.3 119.1l1.9-1.8-2.3 1.6-1.9 2.1z"/><path color="#115bdc" d="M86.3 122.4l2-3.3-2.3 1.9-1.9 2.4z"/><path color="#2c4ac6" d="M84.4 124.7l1.9-2.3-2.2 1-2 1.4z"/></g><g fill="none" stroke-width="1.05" stroke-linecap="round" stroke-linejoin="round"><path d="M173.1 66.5L174.9 66.9L176.6 67.3" stroke="#3cf03c"/><path d="M143.8 63.9L145.2 63.9L146.5 64.2L147.9 64.5L149.2 64.8L150.5 65.2L151.8 65.7" stroke="#d824d8"/><path d="M171 57.4L173.2 57.1L175.4 56.9" stroke="#2020f0"/><path d="M170.6 68L172.3 67.9L173.9 67.8L175.5 67.7L177.2 67.5" stroke="#f04040"/><path d="M123.5 90L127 91.3L128.7 90.5" stroke="#e8902c"/></g><g class="t" filter="url(#soft)"><path color="#babd63" d="M197.4 67.3l2-2 1.9 .8-2.3-1.9-1.9-1.6-2 1z"/><path color="#b1bd66" d="M193.5 68l2 .6 1.9-1.3-2.3-3.7-1.9 2.3-1.9-.6z"/><path color="#babd63" d="M191.6 68.6l1.9-.6-2.2-2.7-2-.3z"/><path color="#b1bd66" d="M189.6 71.2l2-2.6-2.3-3.6-1.9 1.6z"/><path color="#9fbe6d" d="M187.7 72.5l1.9-1.3-2.2-4.6-2 2z"/><path color="#8bbf75" d="M185.7 75.1l2-2.6-2.3-3.9-1.9 2z"/><path color="#80bf7a" d="M181.9 76.2l1.9-1.1 1.9 0-2.2-4.5-2 1.2-1.9 1.1z"/><path color="#75bf7e" d="M179.9 78l2-1.8-2.3-3.3-1.9 2.2z"/><path color="#52bd8f" d="M178 80.9l1.9-2.9-2.2-2.9-2 4z"/><path color="#33b8a1" d="M176 83.4l2-2.5-2.3-1.8-1.9 2.6z"/><path color="#21b4ac" d="M166.3 86l2-.2 1.9 0 1.9-.8 2-.5 1.9-1.1-2.2-1.7-2 1.4-1.9 .5-2 .7-1.9 .4-1.9 .5z"/><path color="#1ab2b1" d="M164.4 87l1.9-1-2.2-.8-2 1.6z"/><path color="#0dadbb" d="M154.7 92.8l1.9-1 1.9-.9 2-1.7 1.9-1.4-2.2 .9-2 .5-1.9-.5-2-.4-1.9 .3z"/><path color="#09abbf" d="M152.7 94.3l2-1.5-2.3-4.2-2 1.5z"/><path color="#06a8c4" d="M150.8 96l1.9-1.7-2.3-4.2-1.9 1.7z"/><path color="#06a2cb" d="M148.8 99l2-3-2.3-4.2-1.9 2.9z"/><path color="#0a97d1" d="M146.9 102l1.9-3-2.2-4.3-2 3.8z"/><path color="#1484d4" d="M144.9 105.1l2-3.1-2.3-3.5-1.9 4.4z"/><path color="#0f78db" d="M143 107.2l1.9-2.1-2.2-2.2-2 2.8z"/><path color="#0870df" d="M129.4 112.3l1.9-1.7-2.2-2.2-2 1.8z"/><path color="#046ce0" d="M125.5 113.5l1.9-.4 2-.8-2.3-2.1-1.9 .3-2 .3z"/><path color="#0267e1" d="M123.6 115.9l1.9-2.4-2.3-2.7-1.9 2.8z"/><path color="#2152d3" d="M119.7 117.4l1.9 .6 2-2.1-2.3-2.3-1.9 2.4-2-.7z"/><path color="#115bdc" d="M117.7 116l2 1.4-2.3-2.1-1.9-.7z"/><path color="#0462e0" d="M115.8 115.7l1.9 .3-2.2-1.4-2 .7z"/><path color="#0870df" d="M110 114.4l1.9 .1-2.3-.6-1.9-1.2z"/><path color="#0c74dd" d="M108 115.6l2-1.2-2.3-1.7-1.9 .2z"/><path color="#0870df" d="M106.1 117.4l1.9-1.8-2.2-2.7-2 1.5z"/><path color="#046ce0" d="M102.2 117.5l1.9 .2 2-.3-2.3-3-1.9 .5-2 .6z"/><path color="#0870df" d="M98.3 116.5l1.9 1 2 0-2.3-2-1.9 .2-2 .2z"/><path color="#0f78db" d="M92.5 116.1l1.9-.6 2 .2-2.3 .1-2 .3-1.9 1.2z"/><path color="#0c74dd" d="M90.5 117.8l2-1.7-2.3 1.2-1.9 1.8z"/><path color="#0267e1" d="M88.6 121.8l1.9-4-2.2 1.3-2 3.3z"/><path color="#2152d3" d="M86.6 124.6l2-2.8-2.3 .6-1.9 2.3z"/></g><path d="M150.9 85.4L151 86L151.2 86.5L151.6 86.9L152.2 87.3L152.9 87.6L153.7 87.9L154.6 88.4L155.5 88.9L156.5 89.3L157.6 89.6L158.6 89.9L159.6 90L160.6 89.9L161.5 89.5L162.3 89.2L163 88.9L163.5 88.6L163.9 88.2L164.2 87.8L164.3 87.4L164.3 54.9L164.2 55.2L163.9 55.5L163.5 55.7L163 55.9L162.3 56.1L161.5 56.2L160.6 56.2L159.6 56.2L158.6 56.2L157.6 56.1L156.5 55.9L155.5 55.7L154.6 55.5L153.7 55.3L152.9 55L152.2 54.7L151.6 54.3L151.2 54L151 53.7L150.9 53.4z" fill="url(#cyl)"/><path d="M161.9 53.2L161 52.9L159.9 52.7L158.8 52.5L157.7 52.3L156.5 52.2L155.4 52.1L154.3 52.1L153.3 52.2L152.5 52.4L151.8 52.5L151.3 52.8L151 53.1L150.9 53.4L151 53.7L151.3 54.1L151.8 54.4L152.4 54.8L153.2 55.1L154.2 55.4L155.2 55.7L156.3 55.9L157.5 56.1L158.7 56.2L159.8 56.2L160.9 56.2L161.8 56.1L162.7 56L163.3 55.8L163.8 55.6L164.1 55.3L164.3 55L164.2 54.6L163.9 54.3L163.4 53.9L162.8 53.6z" fill="#3a3a3a" stroke="#181818" stroke-width=".8"/><g fill="none" stroke-width="1.05" stroke-linecap="round" stroke-linejoin="round"><path d="M176.6 67.3L178.4 67.5L180.1 67.9L181.8 69.6" stroke="#3cf03c"/><path d="M151.8 65.7L153 66.2L154.2 66.7L155.5 67.1L156.7 67.7L157.9 68.2L159.1 68.8L160.4 69.8L161.6 70.7" stroke="#d824d8"/><path d="M175.4 56.9L177.3 56.7L179.1 57" stroke="#2020f0"/><path d="M177.2 67.5L178.8 67.7L180.5 68.1L182.2 69.6" stroke="#f04040"/><path d="M128.7 90.5L130.4 90.2L132 89.9L133.6 90.2L134.9 90.5" stroke="#e8902c"/></g><g class="t" filter="url(#soft)"><path color="#a8be6a" d="M201.6 69.7l2-1.5-2.3-2.1-1.9-.8z"/><path color="#9fbe6d" d="M193.8 73.3l2-2 1.9-.4 2-.4 1.9-.8-2.2-4.4-2 2-1.9 1.3-2-.6-1.9 .6z"/><path color="#8bbf75" d="M191.9 75.9l1.9-2.6-2.2-4.7-2 2.6z"/><path color="#6abe83" d="M190 79.3l1.9-3.4-2.3-4.7-1.9 1.3z"/><path color="#5ebe89" d="M184.1 78.6l2-1 1.9 2.7 2-1-2.3-6.8-2 2.6-1.9 0-1.9 1.1z"/><path color="#52bd8f" d="M182.2 80.1l1.9-1.5-2.2-2.4-2 1.8z"/><path color="#47bb95" d="M180.2 81.7l2-1.6-2.3-2.1-1.9 2.9z"/><path color="#33b8a1" d="M178.3 83.9l1.9-2.2-2.2-.8-2 2.5z"/><path color="#21b4ac" d="M176.4 85.1l1.9-1.2-2.3-.5-1.9 1.1z"/><path color="#1ab2b1" d="M170.5 86.2l2 .6 1.9-.4 2-1.3-2.3-.6-2 .5-1.9 .8-1.9 0z"/><path color="#21b4ac" d="M166.6 87.1l2-.5 1.9-.4-2.2-.4-2 .2-1.9 1z"/><path color="#1ab2b1" d="M162.7 89.4l2-2.1 1.9-.2-2.2-.1-2 .8-1.9 1.4z"/><path color="#0dadbb" d="M160.8 92.7l1.9-3.3-2.2-.2-2 1.7z"/><path color="#06a8c4" d="M158.9 95.6l1.9-2.9-2.3-1.8-1.9 .9z"/><path color="#06a2cb" d="M156.9 97.6l2-2-2.3-3.8-1.9 1z"/><path color="#069fce" d="M155 98.7l1.9-1.1-2.2-4.8-2 1.5z"/><path color="#079bd0" d="M153 99.8l2-1.1-2.3-4.4-1.9 1.7z"/><path color="#0e92d2" d="M151.1 102.2l1.9-2.4-2.2-3.8-2 3z"/><path color="#1388d3" d="M149.1 104.1l2-1.9-2.3-3.2-1.9 3z"/><path color="#1480d6" d="M147.2 105.8l1.9-1.7-2.2-2.1-2 3.1z"/><path color="#0f78db" d="M145.3 107.4l1.9-1.6-2.3-.7-1.9 2.1z"/><path color="#0870df" d="M141.4 109.6l1.9-.8 2-1.4-2.3-.2-1.9 1-2 .1z"/><path color="#0462e0" d="M125.8 116.5l2-1.7 1.9 0 2-.3-2.3-2.2-2 .8-1.9 .4-1.9 2.4z"/><path color="#2152d3" d="M123.9 118.8l1.9-2.3-2.2-.6-2 2.1z"/><path color="#2c4ac6" d="M121.9 119.5l2-.7-2.3-.8-1.9-.6z"/><path color="#2152d3" d="M120 118.6l1.9 .9-2.2-2.1-2-1.4z"/><path color="#0462e0" d="M118 117.1l2 1.5-2.3-2.6-1.9-.3z"/><path color="#046ce0" d="M114.2 115.2l1.9 .7-2.3-.7-1.9-.7z"/><path color="#0870df" d="M112.2 115.9l2-.7-2.3-.7-1.9-.1z"/><path color="#046ce0" d="M110.3 118.1l1.9-2.2-2.2-1.5-2 1.2z"/><path color="#0267e1" d="M108.3 120.2l2-2.1-2.3-2.5-1.9 1.8z"/><path color="#0462e0" d="M104.4 120.3l2 .5 1.9-.6-2.2-2.8-2 .3-1.9-.2z"/><path color="#0267e1" d="M102.5 119.6l1.9 .7-2.2-2.8-2 0z"/><path color="#0f78db" d="M98.6 116.4l2 1.3-2.3-1.2-1.9-.8z"/><path color="#127cd8" d="M94.7 116.4l2-.3 1.9 .3-2.2-.7-2-.2-1.9 .6z"/><path color="#0f78db" d="M92.8 118.5l1.9-2.1-2.2-.3-2 1.7z"/><path color="#046ce0" d="M90.8 123.4l2-4.9-2.3-.7-1.9 4z"/><path color="#2152d3" d="M88.9 126.7l1.9-3.3-2.2-1.6-2 2.8z"/></g><g fill="none" stroke-width="1.05" stroke-linecap="round" stroke-linejoin="round"><path d="M181.8 69.6L183.6 71.9L185.3 74.4L187 76.5" stroke="#3cf03c"/><path d="M161.6 70.7L162.8 71.6L164 72.2L165.3 72.8L166.5 73.2L167.8 73.5L169.1 73.8L170.4 74.3" stroke="#d824d8"/><path d="M179.1 57L180.9 58L182.7 59.1L184.5 60.3" stroke="#2020f0"/><path d="M182.2 69.6L184 71.8L185.7 74.3L187.4 76.9" stroke="#f04040"/><path d="M134.9 90.5L136.2 90.5L137.5 90.4L138.8 89.3L140.1 88.2L141.4 86.8L142.5 85.2L143.6 84.2L144.7 83.3L145.9 82.5" stroke="#e8902c"/></g><g class="t" filter="url(#soft)"><path color="#8bbf75" d="M203.9 73.4l1.9-1.1 2 0-2.3-2.3-1.9-1.8-2 1.5z"/><path color="#80bf7a" d="M198 75.1l2-.8 1.9-.1 2-.8-2.3-3.7-1.9 .8-2 .4-1.9 .4z"/><path color="#75bf7e" d="M196.1 77.8l1.9-2.7-2.2-3.8-2 2z"/><path color="#5ebe89" d="M194.2 80.3l1.9-2.5-2.3-4.5-1.9 2.6z"/><path color="#3dba9b" d="M192.2 81.8l2-1.5-2.3-4.4-1.9 3.4z"/><path color="#33b8a1" d="M190.3 80.4l1.9 1.4-2.2-2.5-2 1z"/><path color="#52bd8f" d="M186.4 81.1l1.9-1.3-2.2-2.2-2 1z"/><path color="#47bb95" d="M184.4 82.7l2-1.6-2.3-2.5-1.9 1.5z"/><path color="#33b8a1" d="M182.5 84.3l1.9-1.6-2.2-2.6-2 1.6z"/><path color="#2ab6a7" d="M180.6 85.9l1.9-1.6-2.3-2.6-1.9 2.2z"/><path color="#21b4ac" d="M178.6 87l2-1.1-2.3-2-1.9 1.2z"/><path color="#1ab2b1" d="M176.7 87.8l1.9-.8-2.2-1.9-2 1.3z"/><path color="#13b0b6" d="M172.8 89.8l1.9-1.2 2-.8-2.3-1.4-1.9 .4-2-.6z"/><path color="#1ab2b1" d="M167 89.1l1.9 0 1.9 .4 2 .3-2.3-3.6-1.9 .4-2 .5-1.9 .2z"/><path color="#13b0b6" d="M165 91.9l2-2.8-2.3-1.8-2 2.1z"/><path color="#09abbf" d="M163.1 96l1.9-4.1-2.3-2.5-1.9 3.3z"/><path color="#069fce" d="M161.1 100.5l2-4.5-2.3-3.3-1.9 2.9z"/><path color="#0e92d2" d="M159.2 103.1l1.9-2.6-2.2-4.9-2 2z"/><path color="#118dd2" d="M155.3 102.4l1.9 .6 2 .1-2.3-5.5-1.9 1.1-2 1.1z"/><path color="#1388d3" d="M153.3 103.3l2-.9-2.3-2.6-1.9 2.4z"/><path color="#1484d4" d="M151.4 104.6l1.9-1.3-2.2-1.1-2 1.9z"/><path color="#1480d6" d="M149.5 105.5l1.9-.9-2.3-.5-1.9 1.7z"/><path color="#127cd8" d="M147.5 106.5l2-1-2.3 .3-1.9 1.6z"/><path color="#0462e0" d="M130 115.9l2-.1 1.9-1-2.2-.3-2 .3-1.9 0z"/><path color="#115bdc" d="M128.1 117.4l1.9-1.5-2.2-1.1-2 1.7z"/><path color="#2152d3" d="M126.1 119.2l2-1.8-2.3-.9-1.9 2.3z"/><path color="#2c4ac6" d="M122.3 119.9l1.9 .4 1.9-1.1-2.2-.4-2 .7-1.9-.9z"/><path color="#046ce0" d="M114.5 117.8l1.9-.8 2 .5-2.3-1.6-1.9-.7-2 .7z"/><path color="#0267e1" d="M112.5 119.9l2-2.1-2.3-1.9-1.9 2.2z"/><path color="#115bdc" d="M110.6 122.3l1.9-2.4-2.2-1.8-2 2.1z"/><path color="#2152d3" d="M106.7 122.5l2 .8 1.9-1-2.3-2.1-1.9 .6-2-.5z"/><path color="#0462e0" d="M104.8 121.2l1.9 1.3-2.3-2.2-1.9-.7z"/><path color="#046ce0" d="M102.8 119.7l2 1.5-2.3-1.6-1.9-1.9z"/><path color="#0c74dd" d="M100.9 118.6l1.9 1.1-2.2-2-2-1.3z"/><path color="#0f78db" d="M95 121l2-2.3 1.9-.2 2 .1-2.3-2.2-1.9-.3-2 .3-1.9 2.1z"/><path color="#0267e1" d="M93.1 126l1.9-5-2.2-2.5-2 4.9z"/><path color="#2c4ac6" d="M91.2 128.9l1.9-2.9-2.3-2.6-1.9 3.3z"/></g><g fill="none" stroke-width="1.05" stroke-linecap="round" stroke-linejoin="round"><path d="M187 76.5L188.8 78.3L190.6 79.2L192.4 79.1" stroke="#3cf03c"/><path d="M170.4 74.3L171.7 74.9L173.1 75.6L174.4 76.3L175.7 77.1L177 77.9L178.3 78.3" stroke="#d824d8"/><path d="M184.5 60.3L186.3 61.5L188.1 62.7" stroke="#2020f0"/><path d="M187.4 76.9L189.1 78.7L190.9 79.7" stroke="#f04040"/><path d="M145.9 82.5L147 82.1L148.1 81.7L149.3 81.3L150.3 80.8L151.4 80.5L152.5 80.2L153.5 79.9L154.6 79.5L155.6 79.1L156.7 78.7L157.7 78.5L158.8 78.4L159.9 78.8L161 79.2L162.1 80.4L163.2 81.6" stroke="#e8902c"/></g><g class="t" filter="url(#soft)"><path color="#75bf7e" d="M208.1 75.1l1.9-1.6-2.2-1.2-2 0z"/><path color="#6abe83" d="M206.1 76.7l2-1.6-2.3-2.8-1.9 1.1z"/><path color="#5ebe89" d="M202.3 78.6l1.9-.4 1.9-1.5-2.2-3.3-2 .8-1.9 .1z"/><path color="#52bd8f" d="M200.3 80.4l2-1.8-2.3-4.3-2 .8z"/><path color="#47bb95" d="M198.4 81.6l1.9-1.2-2.3-5.3-1.9 2.7z"/><path color="#33b8a1" d="M196.4 83.7l2-2.1-2.3-3.8-1.9 2.5z"/><path color="#2ab6a7" d="M188.6 87.3l2-.9 1.9-2.7 2 .1 1.9-.1-2.2-3.4-2 1.5-1.9-1.4-2-.6-1.9 1.3z"/><path color="#1ab2b1" d="M186.7 90.6l1.9-3.3-2.2-6.2-2 1.6z"/><path color="#0dadbb" d="M171.2 91.1l1.9 .4 1.9-.2 2-.3 1.9-.6 2 .2 1.9 1 2 .6 1.9-1.6-2.3-7.9-1.9 1.6-1.9 1.6-2 1.1-1.9 .8-2 .8-1.9 1.2-2-.3-1.9-.4z"/><path color="#13b0b6" d="M169.2 92.1l2-1-2.3-2-1.9 0z"/><path color="#0dadbb" d="M167.3 94.4l1.9-2.3-2.2-3-2 2.8z"/><path color="#06a2cb" d="M165.3 98.3l2-3.9-2.3-2.5-1.9 4.1z"/><path color="#0e92d2" d="M163.4 103.5l1.9-5.2-2.2-2.3-2 4.5z"/><path color="#1480d6" d="M161.4 106.6l2-3.1-2.3-3-1.9 2.6z"/><path color="#127cd8" d="M159.5 106.2l1.9 .4-2.2-3.5-2-.1z"/><path color="#1480d6" d="M157.6 104.8l1.9 1.4-2.3-3.2-1.9-.6z"/><path color="#1484d4" d="M151.7 104.9l2 .2 1.9-.6 2 .3-2.3-2.4-2 .9-1.9 1.3-1.9 .9z"/><path color="#1480d6" d="M147.8 106.4l2-1.1 1.9-.4-2.2 .6-2 1-1.9 1.4z"/><path color="#0f78db" d="M140.1 111.2l1.9-1.7 2-1.2-2.3 .9-2 0-1.9 .9z"/><path color="#0462e0" d="M132.3 117.3l1.9-1.2 2-1.7-2.3 .4-1.9 1-2 .1z"/><path color="#115bdc" d="M130.3 119l2-1.7-2.3-1.4-1.9 1.5z"/><path color="#2c4ac6" d="M128.4 120.7l1.9-1.7-2.2-1.6-2 1.8z"/><path color="#3243b9" d="M126.5 121.6l1.9-.9-2.3-1.5-1.9 1.1z"/><path color="#2c4ac6" d="M124.5 121.1l2 .5-2.3-1.3-1.9-.4z"/><path color="#2152d3" d="M122.6 120.2l1.9 .9-2.2-1.2-2-1.2z"/><path color="#0267e1" d="M116.7 119.5l2-.7 1.9 .4-2.2-1.7-2-.5-1.9 .8z"/><path color="#0462e0" d="M114.8 121.3l1.9-1.8-2.2-1.7-2 2.1z"/><path color="#2152d3" d="M112.9 123.6l1.9-2.3-2.3-1.4-1.9 2.4z"/><path color="#2c4ac6" d="M110.9 124.2l2-.6-2.3-1.3-1.9 1z"/><path color="#0267e1" d="M105.1 121.6l1.9 .3-2.2-.7-2-1.5z"/><path color="#046ce0" d="M103.1 121.4l2 .2-2.3-1.9-1.9-1.1z"/><path color="#0870df" d="M99.3 122.3l1.9-.4 1.9-.5-2.2-2.8-2-.1-1.9 .2z"/><path color="#046ce0" d="M97.3 124.1l2-1.8-2.3-3.6-2 2.3z"/><path color="#115bdc" d="M95.4 128.2l1.9-4.1-2.3-3.1-1.9 5z"/><path color="#353dac" d="M93.4 130.4l2-2.2-2.3-2.2-1.9 2.9z"/></g><g fill="none" stroke-width="1.05" stroke-linecap="round" stroke-linejoin="round"><path d="M192.4 79.1L194.2 79L196 78.9" stroke="#3cf03c"/><path d="M178.3 78.3L179.6 78.4L180.9 78.6L182.2 78.7L183.5 79.1L184.7 79.8L186 80.4L187.3 81.8" stroke="#d824d8"/><path d="M188.1 62.7L189.9 63L191.7 63L193.4 63.5" stroke="#2020f0"/><path d="M190.9 79.7L192.7 80.1L194.5 79.8L196.3 79.3" stroke="#f04040"/><path d="M163.2 81.6L164.3 82.7L165.3 83.7L166.4 84.7L167.5 85.8L168.6 86.7L169.7 87.4L170.8 88L171.9 88.5L172.9 89L174 89.2L175.2 89.4L176.3 89L177.5 88.6L178.6 88.2" stroke="#e8902c"/></g><g class="t" filter="url(#soft)"><path color="#5ebe89" d="M210.3 77.4l2-2.2-2.3-1.7-1.9 1.6z"/><path color="#52bd8f" d="M208.4 80.1l1.9-2.7-2.2-2.3-2 1.6z"/><path color="#3dba9b" d="M206.5 82.9l1.9-2.8-2.3-3.4-1.9 1.5z"/><path color="#2ab6a7" d="M204.5 86.6l2-3.7-2.3-4.7-1.9 .4z"/><path color="#21b4ac" d="M202.6 86.4l1.9 .2-2.2-8-2 1.8z"/><path color="#1ab2b1" d="M200.6 86.5l2-.1-2.3-6-1.9 1.2z"/><path color="#13b0b6" d="M194.8 89.3l1.9-.8 2-.8 1.9-1.2-2.2-4.9-2 2.1-1.9 .1-2-.1z"/><path color="#0dadbb" d="M192.9 88.7l1.9 .6-2.3-5.6-1.9 2.7z"/><path color="#09abbf" d="M190.9 90.8l2-2.1-2.3-2.3-2 .9z"/><path color="#06a8c4" d="M189 92.5l1.9-1.7-2.3-3.5-1.9 3.3z"/><path color="#06a2cb" d="M185.1 92.8l1.9 .5 2-.8-2.3-1.9-1.9 1.6-2-.6z"/><path color="#06a6c7" d="M183.1 93.1l2-.3-2.3-1.2-1.9-1z"/><path color="#06a8c4" d="M181.2 92.4l1.9 .7-2.2-2.5-2-.2z"/><path color="#09abbf" d="M179.3 92.2l1.9 .2-2.3-2-1.9 .6z"/><path color="#06a8c4" d="M175.4 94.6l1.9-.9 2-1.5-2.3-1.2-2 .3-1.9 .2z"/><path color="#09abbf" d="M171.5 94.3l1.9-.4 2 .7-2.3-3.1-1.9-.4-2 1z"/><path color="#06a8c4" d="M169.5 96l2-1.7-2.3-2.2-1.9 2.3z"/><path color="#069fce" d="M167.6 99.3l1.9-3.3-2.2-1.6-2 3.9z"/><path color="#118dd2" d="M165.6 103.8l2-4.5-2.3-1-1.9 5.2z"/><path color="#127cd8" d="M163.7 107.1l1.9-3.3-2.2-.3-2 3.1z"/><path color="#0c74dd" d="M161.8 108.1l1.9-1-2.3-.5-1.9-.4z"/><path color="#0f78db" d="M159.8 107.7l2 .4-2.3-1.9-1.9-1.4z"/><path color="#127cd8" d="M157.9 107.1l1.9 .6-2.2-2.9-2-.3z"/><path color="#1480d6" d="M155.9 106.8l2 .3-2.3-2.6-1.9 .6z"/><path color="#1484d4" d="M148.2 107.9l1.9-1.3 1.9-.3 2-.2 1.9 .7-2.2-1.7-2-.2-1.9 .4-2 1.1-1.9 .9z"/><path color="#1480d6" d="M146.2 109.9l2-2-2.3-.6-1.9 1z"/><path color="#0f78db" d="M144.3 112.1l1.9-2.2-2.2-1.6-2 1.2z"/><path color="#0c74dd" d="M142.3 114.2l2-2.1-2.3-2.6-1.9 1.7z"/><path color="#0267e1" d="M136.5 117.2l1.9-1.8-2.2-1-2 1.7z"/><path color="#115bdc" d="M134.6 118.9l1.9-1.7-2.3-1.1-1.9 1.2z"/><path color="#2152d3" d="M132.6 120.1l2-1.2-2.3-1.6-2 1.7z"/><path color="#2c4ac6" d="M130.7 121l1.9-.9-2.3-1.1-1.9 1.7z"/><path color="#3243b9" d="M126.8 122.5l1.9-.4 2-1.1-2.3-.3-1.9 .9-2-.5z"/><path color="#2c4ac6" d="M124.8 121.9l2 .6-2.3-1.4-1.9-.9z"/><path color="#115bdc" d="M122.9 121l1.9 .9-2.2-1.7-2-1z"/><path color="#0462e0" d="M119 121.4l2-.7 1.9 .3-2.3-1.8-1.9-.4-2 .7z"/><path color="#115bdc" d="M117.1 122.5l1.9-1.1-2.3-1.9-1.9 1.8z"/><path color="#2152d3" d="M115.1 124.8l2-2.3-2.3-1.2-1.9 2.3z"/><path color="#2c4ac6" d="M113.2 125.2l1.9-.4-2.2-1.2-2 .6z"/><path color="#115bdc" d="M109.3 123.5l1.9 .1-2.2-.8-2-.9z"/><path color="#0462e0" d="M101.5 126.2l2-.5 1.9-1.1 1.9-.5 2-.6-2.3-1.6-1.9-.3-2-.2-1.9 .5-1.9 .4z"/><path color="#115bdc" d="M99.6 127.1l1.9-.9-2.2-3.9-2 1.8z"/><path color="#2c4ac6" d="M97.6 129.6l2-2.5-2.3-3-1.9 4.1z"/><path color="#353dac" d="M95.7 131.1l1.9-1.5-2.2-1.4-2 2.2z"/></g><path d="M128.9 112.8L128.9 113.4L129.2 114L129.6 114.6L130.1 115.1L130.8 115.6L131.6 116L132.5 116.2L133.5 116.3L134.5 116.3L135.5 116.1L136.6 116L137.6 115.8L138.6 115.6L139.5 115.5L140.3 115.3L140.9 115L141.5 114.5L141.9 114L142.1 113.5L142.2 113.3L142.2 64.9L142.1 65.1L141.9 65.4L141.5 65.6L140.9 65.8L140.3 66L139.5 66.1L138.6 66.1L137.6 66.1L136.6 66.1L135.5 66L134.5 65.8L133.5 65.7L132.5 65.4L131.6 65.2L130.8 64.9L130.1 64.6L129.6 64.3L129.2 63.9L128.9 63.6L128.9 63.3z" fill="url(#cyl)"/><path d="M139.9 63.2L138.9 62.9L137.9 62.6L136.8 62.4L135.6 62.2L134.5 62.1L133.3 62L132.3 62.1L131.3 62.1L130.5 62.3L129.8 62.5L129.3 62.7L129 63L128.9 63.3L128.9 63.6L129.2 64L129.7 64.3L130.4 64.7L131.2 65L132.1 65.3L133.2 65.6L134.3 65.8L135.5 66L136.6 66.1L137.8 66.1L138.8 66.1L139.8 66L140.6 65.9L141.3 65.7L141.8 65.5L142.1 65.2L142.2 64.9L142.1 64.5L141.8 64.2L141.4 63.8L140.7 63.5z" fill="#3a3a3a" stroke="#181818" stroke-width=".8"/><g fill="none" stroke-width="1.05" stroke-linecap="round" stroke-linejoin="round"><path d="M196 78.9L197.9 78.7L199.7 79.4L201.5 81.3" stroke="#3cf03c"/><path d="M187.3 81.8L188.5 83.7L189.8 84.5L191.1 85.1L192.3 84.9L193.6 84.1L194.9 83.5" stroke="#d824d8"/><path d="M193.4 63.5L194.9 64.4L196.5 65.7L198.1 66.9L199.7 68.6" stroke="#2020f0"/><path d="M196.3 79.3L198.1 78.9L199.9 80.5L201.7 82.7" stroke="#f04040"/><path d="M178.6 88.2L179.8 87.8L181 88.3L182.1 89L183.3 89.8L184.4 90.5L185.6 91.3L186.7 91.8L187.9 90.8L189 89.9L190.2 88.8L191.3 87.8" stroke="#e8902c"/></g><g class="t" filter="url(#soft)"><path color="#52bd8f" d="M212.6 78.9l2-1.6-2.3-2.1-2 2.2z"/><path color="#3dba9b" d="M210.7 81.8l1.9-2.9-2.3-1.5-1.9 2.7z"/><path color="#21b4ac" d="M208.7 87l2-5.2-2.3-1.7-1.9 2.8z"/><path color="#09abbf" d="M206.8 90.7l1.9-3.7-2.2-4.1-2 3.7z"/><path color="#06a6c7" d="M204.8 90.1l2 .6-2.3-4.1-1.9-.2z"/><path color="#06a8c4" d="M193.2 92.3l1.9-2 2-.4 1.9 .4 1.9-.5 2 .1 1.9 .2-2.2-3.7-2 .1-1.9 1.2-2 .8-1.9 .8-1.9-.6-2 2.1z"/><path color="#06a2cb" d="M191.2 94.5l2-2.2-2.3-1.5-1.9 1.7z"/><path color="#069fce" d="M185.4 96.3l1.9-.2 2-.2 1.9-1.4-2.2-2-2 .8-1.9-.5-2 .3z"/><path color="#06a2cb" d="M183.5 95.7l1.9 .6-2.3-3.2-1.9-.7z"/><path color="#06a6c7" d="M179.6 96.3l1.9-.8 2 .2-2.3-3.3-1.9-.2-2 1.5z"/><path color="#06a2cb" d="M175.7 96.8l1.9 .2 2-.7-2.3-2.6-1.9 .9-2-.7z"/><path color="#06a6c7" d="M171.8 97.8l1.9-.9 2-.1-2.3-2.9-1.9 .4-2 1.7z"/><path color="#069fce" d="M169.9 100.7l1.9-2.9-2.3-1.8-1.9 3.3z"/><path color="#118dd2" d="M167.9 104.6l2-3.9-2.3-1.4-2 4.5z"/><path color="#127cd8" d="M166 107.4l1.9-2.8-2.3-.8-1.9 3.3z"/><path color="#0c74dd" d="M162.1 109.3l1.9-.3 2-1.6-2.3-.3-1.9 1-2-.4z"/><path color="#0f78db" d="M158.2 108.9l1.9 .8 2-.4-2.3-1.6-1.9-.6-2-.3z"/><path color="#1480d6" d="M154.3 108.3l1.9-.2 2 .8-2.3-2.1-1.9-.7-2 .2z"/><path color="#1484d4" d="M152.4 108.5l1.9-.2-2.3-2-1.9 .3z"/><path color="#1480d6" d="M150.4 110.4l2-1.9-2.3-1.9-1.9 1.3z"/><path color="#0f78db" d="M148.5 112.8l1.9-2.4-2.2-2.5-2 2z"/><path color="#0c74dd" d="M146.5 114.8l2-2-2.3-2.9-1.9 2.2z"/><path color="#046ce0" d="M144.6 116.3l1.9-1.5-2.2-2.7-2 2.1z"/><path color="#0267e1" d="M140.7 117.1l1.9-.5 2-.3-2.3-2.1-1.9 .8-2 .4z"/><path color="#0462e0" d="M138.8 118.5l1.9-1.4-2.3-1.7-1.9 1.8z"/><path color="#115bdc" d="M136.8 120.3l2-1.8-2.3-1.3-1.9 1.7z"/><path color="#2152d3" d="M134.9 121.1l1.9-.8-2.2-1.4-2 1.2z"/><path color="#2c4ac6" d="M127.1 122.5l1.9 0 2-.8 1.9-.6 2 0-2.3-1-1.9 .9-2 1.1-1.9 .4-2-.6z"/><path color="#2152d3" d="M125.2 122.2l1.9 .3-2.3-.6-1.9-.9z"/><path color="#115bdc" d="M121.3 123.2l1.9-.8 2-.2-2.3-1.2-1.9-.3-2 .7z"/><path color="#2152d3" d="M119.3 124.1l2-.9-2.3-1.8-1.9 1.1z"/><path color="#2c4ac6" d="M117.4 125.5l1.9-1.4-2.2-1.6-2 2.3z"/><path color="#3243b9" d="M115.4 126l2-.5-2.3-.7-1.9 .4z"/><path color="#2152d3" d="M107.7 127.6l1.9-.7 2-1.2 1.9-.8-2.3-1.3-1.9-.1-2 .6-1.9 .5z"/><path color="#2c4ac6" d="M103.8 129.6l1.9-.9 2-1.1-2.3-3-1.9 1.1-2 .5z"/><path color="#3243b9" d="M99.9 131l1.9-1 2-.4-2.3-3.4-1.9 .9-2 2.5z"/><path color="#36369f" d="M98 131.9l1.9-.9-2.3-1.4-1.9 1.5z"/></g><g fill="none" stroke-width="1.05" stroke-linecap="round" stroke-linejoin="round"><path d="M201.5 81.3L203.3 83.9L205 86.3L206.8 88.5" stroke="#3cf03c"/><path d="M194.9 83.5L196.1 83.2L197.3 82.8L198.5 83.1L199.7 83.4L200.9 83.8L202 84.8L203.2 85.8L204.4 86.8L205.6 87.7L206.8 88.5" stroke="#d824d8"/><path d="M199.7 68.6L201.3 70.4L202.7 74.4L204.1 78.7L205.4 83L206.8 88.5" stroke="#2020f0"/><path d="M201.7 82.7L203.4 84.8L205.1 86.6L206.8 88.5" stroke="#f04040"/><path d="M191.3 87.8L192.5 86.7L193.6 87L194.8 88L195.9 87.8L197.1 87.7L198.2 87.6L199.4 87.6L200.5 87.6L201.6 87.6L202.7 87.6L203.8 87.8L204.9 88.1" stroke="#e8902c"/></g><g class="t" filter="url(#soft)"><path color="#47bb95" d="M214.9 80.5l1.9-.9-2.2-2.3-2 1.6z"/><path color="#33b8a1" d="M212.9 83l2-2.5-2.3-1.6-1.9 2.9z"/><path color="#1ab2b1" d="M211 86l1.9-3-2.2-1.2-2 5.2z"/><path color="#06a8c4" d="M209 88.8l2-2.8-2.3 1-1.9 3.7z"/><path color="#06a6c7" d="M197.4 93.4l1.9-.9 2-.9 1.9-1.8-2.3 0-1.9 .5-1.9-.4-2 .4z"/><path color="#06a2cb" d="M195.4 94.7l2-1.3-2.3-3.1-1.9 2z"/><path color="#069fce" d="M193.5 96.2l1.9-1.5-2.2-2.4-2 2.2z"/><path color="#0a97d1" d="M185.7 99.2l2 .3 1.9-.5 1.9-1.2 2-1.6-2.3-1.7-1.9 1.4-2 .2-1.9 .2-1.9-.6z"/><path color="#079bd0" d="M183.8 98.6l1.9 .6-2.2-3.5-2-.2z"/><path color="#069fce" d="M176 100.2l1.9-.7 2-.7 1.9-.7 2 .5-2.3-3.1-1.9 .8-2 .7-1.9-.2-2 .1z"/><path color="#079bd0" d="M174.1 101.6l1.9-1.4-2.3-3.3-1.9 .9z"/><path color="#0a97d1" d="M172.1 103.9l2-2.3-2.3-3.8-1.9 2.9z"/><path color="#1388d3" d="M170.2 106.4l1.9-2.5-2.2-3.2-2 3.9z"/><path color="#127cd8" d="M168.2 108l2-1.6-2.3-1.8-1.9 2.8z"/><path color="#0f78db" d="M166.3 109.4l1.9-1.4-2.2-.6-2 1.6z"/><path color="#0c74dd" d="M160.5 110.8l1.9 .5 1.9-.8 2-1.1-2.3-.4-1.9 .3-2 .4-1.9-.8z"/><path color="#0f78db" d="M158.5 110.5l2 .3-2.3-1.9-2-.8z"/><path color="#127cd8" d="M152.7 112.4l1.9-1.6 2-.2 1.9-.1-2.3-2.4-1.9 .2-1.9 .2-2 1.9z"/><path color="#0c74dd" d="M150.7 115l2-2.6-2.3-2-1.9 2.4z"/><path color="#046ce0" d="M148.8 116.6l1.9-1.6-2.2-2.2-2 2z"/><path color="#0267e1" d="M146.9 117.3l1.9-.7-2.3-1.8-1.9 1.5z"/><path color="#0462e0" d="M141 119l2-1.2 1.9-.5 2 0-2.3-1-2 .3-1.9 .5-1.9 1.4z"/><path color="#115bdc" d="M139.1 120.8l1.9-1.8-2.2-.5-2 1.8z"/><path color="#2152d3" d="M123.5 125.7l2-1.6 1.9-1.1 2-.3 1.9-.4 1.9-.6 2-.2 1.9 0 2-.7-2.3-.5-1.9 .8-2 0-1.9 .6-2 .8-1.9 0-1.9-.3-2 .2-1.9 .8z"/><path color="#2c4ac6" d="M121.6 126.7l1.9-1-2.2-2.5-2 .9z"/><path color="#3243b9" d="M117.7 127.6l1.9-.2 2-.7-2.3-2.6-1.9 1.4-2 .5z"/><path color="#2c4ac6" d="M113.8 127.9l2-1 1.9 .7-2.3-1.6-1.9-1.1-1.9 .8z"/><path color="#3243b9" d="M111.9 129.6l1.9-1.7-2.2-2.2-2 1.2z"/><path color="#353dac" d="M108 131.6l1.9-.5 2-1.5-2.3-2.7-1.9 .7-2 1.1z"/><path color="#36369f" d="M104.1 131.9l1.9 .3 2-.6-2.3-2.9-1.9 .9-2 .4z"/><path color="#353dac" d="M102.2 131.8l1.9 .1-2.3-1.9-1.9 1z"/><path color="#36369f" d="M100.2 132.5l2-.7-2.3-.8-1.9 .9z"/></g><g fill="none" stroke-width="1.05" stroke-linecap="round" stroke-linejoin="round"><path d="M204.9 88.1L205.9 88.3L207 88.6" stroke="#e8902c"/></g><g class="t" filter="url(#soft)"><path color="#33b8a1" d="M217.1 81.8l2 .9-2.3-3.1-1.9 .9z"/><path color="#2ab6a7" d="M215.2 84.8l1.9-3-2.2-1.3-2 2.5z"/><path color="#1ab2b1" d="M213.2 87.6l2-2.8-2.3-1.8-1.9 3z"/><path color="#09abbf" d="M205.5 90l1.9-.8 2-.1 1.9-.1 1.9-1.4-2.2-1.6-2 2.8-1.9-.4-1.9 .1-2 1.3z"/><path color="#06a8c4" d="M203.5 91.4l2-1.4-2.3-.2-1.9 1.8z"/><path color="#06a6c7" d="M201.6 94.1l1.9-2.7-2.2 .2-2 .9z"/><path color="#069fce" d="M197.7 96.2l1.9-.1 2-2-2.3-1.6-1.9 .9-2 1.3z"/><path color="#079bd0" d="M195.8 96.6l1.9-.4-2.3-1.5-1.9 1.5z"/><path color="#0a97d1" d="M193.8 98.1l2-1.5-2.3-.4-2 1.6z"/><path color="#0e92d2" d="M191.9 100.7l1.9-2.6-2.3-.3-1.9 1.2z"/><path color="#1388d3" d="M188 102.6l1.9-.3 2-1.6-2.3-1.7-1.9 .5-2-.3z"/><path color="#118dd2" d="M186 101.8l2 .8-2.3-3.4-1.9-.6z"/><path color="#0e92d2" d="M184.1 101l1.9 .8-2.2-3.2-2-.5z"/><path color="#0a97d1" d="M180.2 101.8l2-.5 1.9-.3-2.3-2.9-1.9 .7-2 .7z"/><path color="#0e92d2" d="M178.3 103l1.9-1.2-2.3-2.3-1.9 .7z"/><path color="#118dd2" d="M176.3 105l2-2-2.3-2.8-1.9 1.4z"/><path color="#1388d3" d="M174.4 106.6l1.9-1.6-2.2-3.4-2 2.3z"/><path color="#1480d6" d="M172.4 107.7l2-1.1-2.3-2.7-1.9 2.5z"/><path color="#127cd8" d="M170.5 108.5l1.9-.8-2.2-1.3-2 1.6z"/><path color="#0f78db" d="M168.5 109.6l2-1.1-2.3-.5-1.9 1.4z"/><path color="#0c74dd" d="M160.8 112l1.9-1 2-.4 1.9-.2 1.9-.8-2.2-.2-2 1.1-1.9 .8-1.9-.5-2-.3z"/><path color="#0f78db" d="M156.9 113.6l1.9-1.1 2-.5-2.3-1.5-1.9 .1-2 .2z"/><path color="#0c74dd" d="M154.9 114.8l2-1.2-2.3-2.8-1.9 1.6z"/><path color="#046ce0" d="M153 116.6l1.9-1.8-2.2-2.4-2 2.6z"/><path color="#0267e1" d="M151.1 117.9l1.9-1.3-2.3-1.6-1.9 1.6z"/><path color="#0462e0" d="M147.2 118.2l1.9-.1 2-.2-2.3-1.3-1.9 .7-2 0z"/><path color="#0267e1" d="M145.2 118.4l2-.2-2.3-.9-1.9 .5z"/><path color="#0462e0" d="M143.3 119.2l1.9-.8-2.2-.6-2 1.2z"/><path color="#115bdc" d="M141.3 120.4l2-1.2-2.3-.2-1.9 1.8z"/><path color="#2152d3" d="M127.7 125l2-1.1 1.9 0 2-.9 1.9-.3 2 .2 1.9-1 1.9-1.5-2.2 .4-2 .7-1.9 0-2 .2-1.9 .6-1.9 .4-2 .3-1.9 1.1z"/><path color="#2c4ac6" d="M125.8 126.8l1.9-1.8-2.2-.9-2 1.6z"/><path color="#3243b9" d="M123.9 127.6l1.9-.8-2.3-1.1-1.9 1z"/><path color="#353dac" d="M116.1 130.6l1.9-.6 2-.4 1.9-1.2 2-.8-2.3-.9-2 .7-1.9 .2-1.9-.7-2 1z"/><path color="#36369f" d="M114.1 132l2-1.4-2.3-2.7-1.9 1.7z"/><path color="#363093" d="M108.3 133.4l1.9 .2 2-.4 1.9-1.2-2.2-2.4-2 1.5-1.9 .5-2 .6z"/><path color="#36369f" d="M104.4 132.3l2 .2 1.9 .9-2.3-1.2-1.9-.3-1.9-.1z"/><path color="#353dac" d="M102.5 133l1.9-.7-2.2-.5-2 .7z"/><path color="#2ab6a7" d="M219.4 83.7l1.9 1-2.2-2-2-.9z"/><path color="#21b4ac" d="M217.5 86.5l1.9-2.8-2.3-1.9-1.9 3z"/><path color="#13b0b6" d="M215.5 89.4l2-2.9-2.3-1.7-2 2.8z"/><path color="#09abbf" d="M213.6 90.8l1.9-1.4-2.3-1.8-1.9 1.4z"/><path color="#06a8c4" d="M205.8 92.7l1.9-.3 2 .1 1.9-.6 2-1.1-2.3-1.8-1.9 .1-2 .1-1.9 .8-2 1.4z"/><path color="#06a2cb" d="M203.8 96.6l2-3.9-2.3-1.3-1.9 2.7z"/><path color="#0a97d1" d="M201.9 100.2l1.9-3.6-2.2-2.5-2 2z"/><path color="#0e92d2" d="M200 99.7l1.9 .5-2.3-4.1-1.9 .1z"/><path color="#0a97d1" d="M196.1 99l1.9-.1 2 .8-2.3-3.5-1.9 .4-2 1.5z"/><path color="#0e92d2" d="M194.1 101l2-2-2.3-.9-1.9 2.6z"/><path color="#1388d3" d="M192.2 103l1.9-2-2.2-.3-2 1.6z"/><path color="#1484d4" d="M188.3 104.6l1.9-.5 2-1.1-2.3-.7-1.9 .3-2-.8z"/><path color="#1388d3" d="M186.4 104.6l1.9 0-2.3-2.8-1.9-.8z"/><path color="#118dd2" d="M180.5 104.2l2-.7 1.9 .4 2 .7-2.3-3.6-1.9 .3-2 .5-1.9 1.2z"/><path color="#1388d3" d="M178.6 105.3l1.9-1.1-2.2-1.2-2 2z"/><path color="#1484d4" d="M174.7 106.9l1.9-1.3 2-.3-2.3-.3-1.9 1.6-2 1.1z"/><path color="#1480d6" d="M172.8 108l1.9-1.1-2.3 .8-1.9 .8z"/><path color="#127cd8" d="M165 110.7l1.9-1.2 2-.3 1.9-.4 2-.8-2.3 .5-2 1.1-1.9 .8-1.9 .2-2 .4z"/><path color="#0f78db" d="M163 112.6l2-1.9-2.3 .3-1.9 1z"/><path color="#0c74dd" d="M161.1 113.9l1.9-1.3-2.2-.6-2 .5z"/><path color="#0870df" d="M159.2 115.4l1.9-1.5-2.3-1.4-1.9 1.1z"/><path color="#046ce0" d="M157.2 116.6l2-1.2-2.3-1.8-2 1.2z"/><path color="#0267e1" d="M155.3 117.6l1.9-1-2.3-1.8-1.9 1.8z"/><path color="#0462e0" d="M145.5 120.9l2-.9 1.9-1 2-.6 1.9-.2 2-.6-2.3-1-1.9 1.3-2 .2-1.9 .1-2 .2-1.9 .8z"/><path color="#115bdc" d="M143.6 121.9l1.9-1-2.2-1.7-2 1.2z"/><path color="#2152d3" d="M141.7 123.4l1.9-1.5-2.3-1.5-1.9 1.5z"/><path color="#2c4ac6" d="M137.8 124.7l1.9-.2 2-1.1-2.3-1.5-1.9 1-2-.2z"/><path color="#2152d3" d="M135.8 125.2l2-.5-2.3-2-1.9 .3z"/><path color="#2c4ac6" d="M130 127l1.9-.4 2-.3 1.9-1.1-2.2-2.2-2 .9-1.9 0-2 1.1z"/><path color="#3243b9" d="M126.1 128.5l2-.5 1.9-1-2.3-2-1.9 1.8-1.9 .8z"/><path color="#353dac" d="M122.2 130.5l2-1.1 1.9-.9-2.2-.9-2 .8-1.9 1.2z"/><path color="#36369f" d="M116.4 132.1l1.9-.6 2-.3 1.9-.7-2.2-.9-2 .4-1.9 .6-2 1.4z"/><path color="#363093" d="M110.6 133.1l1.9 .2 2-.3 1.9-.9-2.3-.1-1.9 1.2-2 .4-1.9-.2z"/><path color="#353dac" d="M104.7 133.4l2-.4 1.9-.1-2.2-.4-2-.2-1.9 .7z"/><path color="#2ab6a7" d="M221.7 85l1.9-1-2.3 .7-1.9-1z"/><path color="#21b4ac" d="M219.7 88.1l2-3.1-2.3-1.3-1.9 2.8z"/><path color="#0dadbb" d="M217.8 91l1.9-2.9-2.2-1.6-2 2.9z"/><path color="#06a8c4" d="M215.8 92.9l2-1.9-2.3-1.6-1.9 1.4z"/><path color="#06a2cb" d="M208.1 94.8l1.9 .5 1.9 .4 2-.9 1.9-1.9-2.2-2.1-2 1.1-1.9 .6-2-.1-1.9 .3z"/><path color="#069fce" d="M206.1 99.1l2-4.3-2.3-2.1-2 3.9z"/><path color="#118dd2" d="M204.2 103.5l1.9-4.4-2.3-2.5-1.9 3.6z"/><path color="#1484d4" d="M202.2 103l2 .5-2.3-3.3-1.9-.5z"/><path color="#1388d3" d="M200.3 102l1.9 1-2.2-3.3-2-.8z"/><path color="#118dd2" d="M196.4 102l1.9-.9 2 .9-2.3-3.1-1.9 .1-2 2z"/><path color="#1388d3" d="M194.4 103.5l2-1.5-2.3-1-1.9 2z"/><path color="#1484d4" d="M192.5 104.9l1.9-1.4-2.2-.5-2 1.1z"/><path color="#1480d6" d="M188.6 107.2l2-.8 1.9-1.5-2.3-.8-1.9 .5-1.9 0z"/><path color="#1484d4" d="M186.7 105.8l1.9 1.4-2.2-2.6-2-.7z"/><path color="#1388d3" d="M184.7 104.8l2 1-2.3-1.9-1.9-.4z"/><path color="#118dd2" d="M177 105.9l1.9-2 1.9 .3 2 .3 1.9 .3-2.2-1.3-2 .7-1.9 1.1-2 .3-1.9 1.3z"/><path color="#1484d4" d="M173.1 108.5l1.9-.9 2-1.7-2.3 1-1.9 1.1-2 .8z"/><path color="#1480d6" d="M169.2 110.3l1.9-.9 2-.9-2.3 .3-1.9 .4-2 .3z"/><path color="#127cd8" d="M167.2 111.5l2-1.2-2.3-.8-1.9 1.2z"/><path color="#0f78db" d="M165.3 113.3l1.9-1.8-2.2-.8-2 1.9z"/><path color="#0c74dd" d="M163.4 115l1.9-1.7-2.3-.7-1.9 1.3z"/><path color="#0870df" d="M161.4 116.7l2-1.7-2.3-1.1-1.9 1.5z"/><path color="#0267e1" d="M157.5 118.4l2-.6 1.9-1.1-2.2-1.3-2 1.2-1.9 1z"/><path color="#0462e0" d="M149.8 121.7l1.9-1.1 1.9-.9 2-.6 1.9-.7-2.2-.8-2 .6-1.9 .2-2 .6-1.9 1z"/><path color="#115bdc" d="M147.8 122.7l2-1-2.3-1.7-2 .9z"/><path color="#2152d3" d="M143.9 124.6l2-.8 1.9-1.1-2.3-1.8-1.9 1-1.9 1.5z"/><path color="#2c4ac6" d="M140 126.2l2-.8 1.9-.8-2.2-1.2-2 1.1-1.9 .2z"/><path color="#3243b9" d="M132.3 128.7l1.9-.5 2-.5 1.9-.7 1.9-.8-2.2-1.5-2 .5-1.9 1.1-2 .3-1.9 .4z"/><path color="#353dac" d="M124.5 130.7l1.9-.5 2-.5 1.9-.5 2-.5-2.3-1.7-1.9 1-2 .5-1.9 .9-2 1.1z"/><path color="#36369f" d="M112.8 133.1l2-.2 1.9-.3 2-.4 1.9-.5 1.9-.5 2-.5-2.3-.2-1.9 .7-2 .3-1.9 .6-1.9 .9-2 .3-1.9-.2z"/><path color="#353dac" d="M107 134l1.9-.3 2-.3 1.9-.3-2.2 0-2-.2-1.9 .1-2 .4z"/></g>
<text x="13.3" y="111.0" font-size="4.30" text-anchor="end" fill="#3a3a3a" >0</text>
<path d="M16.5 109.5h-1.5" stroke="#8a8a8a" stroke-width=".5"/>
<text x="13.3" y="93.2" font-size="4.30" text-anchor="end" fill="#3a3a3a" >2</text>
<path d="M16.5 91.7h-1.5" stroke="#8a8a8a" stroke-width=".5"/>
<text x="13.3" y="75.4" font-size="4.30" text-anchor="end" fill="#3a3a3a" >4</text>
<path d="M16.5 73.9h-1.5" stroke="#8a8a8a" stroke-width=".5"/>
<text x="13.3" y="57.6" font-size="4.30" text-anchor="end" fill="#3a3a3a" >6</text>
<path d="M16.5 56.1h-1.5" stroke="#8a8a8a" stroke-width=".5"/>
<text x="13.3" y="39.8" font-size="4.30" text-anchor="end" fill="#3a3a3a" >8</text>
<path d="M16.5 38.3h-1.5" stroke="#8a8a8a" stroke-width=".5"/>
<text x="99.5" y="147.7" font-size="4.30" text-anchor="middle" fill="#3a3a3a" >0</text>
<path d="M107.0 142.0l-1.3 .9" stroke="#8a8a8a" stroke-width=".5"/>
<text x="81.4" y="141.2" font-size="4.30" text-anchor="middle" fill="#3a3a3a" >20</text>
<path d="M88.9 135.5l-1.3 .9" stroke="#8a8a8a" stroke-width=".5"/>
<text x="63.3" y="134.7" font-size="4.30" text-anchor="middle" fill="#3a3a3a" >40</text>
<path d="M70.8 129.0l-1.3 .9" stroke="#8a8a8a" stroke-width=".5"/>
<text x="45.2" y="128.2" font-size="4.30" text-anchor="middle" fill="#3a3a3a" >60</text>
<path d="M52.7 122.5l-1.3 .9" stroke="#8a8a8a" stroke-width=".5"/>
<text x="27.1" y="121.7" font-size="4.30" text-anchor="middle" fill="#3a3a3a" >80</text>
<path d="M34.6 116.0l-1.3 .9" stroke="#8a8a8a" stroke-width=".5"/>
<text x="9.0" y="115.2" font-size="4.30" text-anchor="middle" fill="#3a3a3a" >100</text>
<path d="M16.5 109.5l-1.3 .9" stroke="#8a8a8a" stroke-width=".5"/>
<text x="109.6" y="148.0" font-size="4.30" text-anchor="start" fill="#3a3a3a" >0</text>
<path d="M107.0 142.0l1 1.1" stroke="#8a8a8a" stroke-width=".5"/>
<text x="148.5" y="139.7" font-size="4.30" text-anchor="start" fill="#3a3a3a" >50</text>
<path d="M145.9 133.7l1 1.1" stroke="#8a8a8a" stroke-width=".5"/>
<text x="187.3" y="131.3" font-size="4.30" text-anchor="start" fill="#3a3a3a" >100</text>
<path d="M184.7 125.3l1 1.1" stroke="#8a8a8a" stroke-width=".5"/>
<text x="226.2" y="123.0" font-size="4.30" text-anchor="start" fill="#3a3a3a" >150</text>
<path d="M223.6 117.0l1 1.1" stroke="#8a8a8a" stroke-width=".5"/>
<text x="60.5" y="147.5" font-size="4.30" text-anchor="middle" fill="#3a3a3a" >Y(km)</text>
<text x="157.0" y="149.2" font-size="4.30" text-anchor="middle" fill="#3a3a3a" >X(km)</text>
<text transform="translate(6.3,77) rotate(-90)" font-size="4.3" text-anchor="middle" fill="#3a3a3a">Z(km)</text>
<path d="M203.0 6.3H212.0" stroke="#3cf03c" stroke-width="1.1"/>
<text x="213.6" y="7.7" font-size="3.90" text-anchor="start" fill="#333" >SSA</text>
<path d="M203.0 11.7H212.0" stroke="#d824d8" stroke-width="1.1"/>
<text x="213.6" y="13.0" font-size="3.90" text-anchor="start" fill="#333" >PSO</text>
<path d="M203.0 17.2H212.0" stroke="#2020f0" stroke-width="1.1"/>
<text x="213.6" y="18.6" font-size="3.90" text-anchor="start" fill="#333" >ABC</text>
<path d="M203.0 22.6H212.0" stroke="#f04040" stroke-width="1.1"/>
<text x="213.6" y="24.0" font-size="3.90" text-anchor="start" fill="#333" >CASSA</text>
<path d="M203.0 28.0H212.0" stroke="#e8902c" stroke-width="1.1"/>
<text x="213.6" y="29.4" font-size="3.90" text-anchor="start" fill="#333" >WOA</text>
<linearGradient id="cba" x1="0" y1="0" x2="0" y2="1"><stop offset="0.000" stop-color="#f9fb0e"/><stop offset="0.062" stop-color="#f5de21"/><stop offset="0.125" stop-color="#fec932"/><stop offset="0.188" stop-color="#f2b949"/><stop offset="0.250" stop-color="#d3bb58"/><stop offset="0.312" stop-color="#b1bd66"/><stop offset="0.375" stop-color="#8bbf75"/><stop offset="0.438" stop-color="#5ebe89"/><stop offset="0.500" stop-color="#33b8a1"/><stop offset="0.562" stop-color="#13b0b6"/><stop offset="0.625" stop-color="#06a6c7"/><stop offset="0.688" stop-color="#0a97d1"/><stop offset="0.750" stop-color="#1484d4"/><stop offset="0.812" stop-color="#0c74dd"/><stop offset="0.875" stop-color="#0462e0"/><stop offset="0.938" stop-color="#3243b9"/><stop offset="1.000" stop-color="#352a87"/></linearGradient>
<rect x="236.9" y="10.0" width="5.4" height="128.5" fill="url(#cba)"/>
<text x="243.5" y="31.0" font-size="4.10" text-anchor="start" fill="#444" >6</text>
<text x="243.5" y="51.0" font-size="4.10" text-anchor="start" fill="#444" >5</text>
<text x="243.5" y="71.0" font-size="4.10" text-anchor="start" fill="#444" >4</text>
<text x="243.5" y="91.0" font-size="4.10" text-anchor="start" fill="#444" >3</text>
<text x="243.5" y="110.3" font-size="4.10" text-anchor="start" fill="#444" >2</text>
<text x="243.5" y="129.8" font-size="4.10" text-anchor="start" fill="#444" >1</text>
<text x="123" y="175" font-size="13" letter-spacing=".3" text-anchor="middle" font-family="Liberation Serif, serif" fill="#111">(<tspan font-weight="bold">a</tspan>)</text>
</g>
<g id="pb">
<path d="M308.8 101.5L308.8 68.5L401.1 16.4L401.1 49.4z" fill="#e9e9e9"/>
<path d="M401.1 49.4L401.1 16.4L521.0 59.0L521.0 92.0z" fill="#e8e8e8"/>
<path d="M308.8 101.5L401.1 49.4L521.0 92.0L428.7 144.1z" fill="#e7e7e7"/>
<path d="M308.8 101.5L401.1 49.4" stroke="#d9d9d9" stroke-width="0.45"/>
<path d="M401.1 49.4L521.0 92.0" stroke="#d9d9d9" stroke-width="0.45"/>
<path d="M308.8 85.0L401.1 32.9" stroke="#d9d9d9" stroke-width="0.45"/>
<path d="M401.1 32.9L521.0 75.5" stroke="#d9d9d9" stroke-width="0.45"/>
<path d="M308.8 68.5L401.1 16.4" stroke="#d9d9d9" stroke-width="0.45"/>
<path d="M401.1 16.4L521.0 59.0" stroke="#d9d9d9" stroke-width="0.45"/>
<path d="M401.1 49.4L401.1 16.4" stroke="#d9d9d9" stroke-width="0.45"/>
<path d="M401.1 49.4L308.8 101.5" stroke="#d9d9d9" stroke-width="0.45"/>
<path d="M441.0 63.6L441.0 30.6" stroke="#d9d9d9" stroke-width="0.45"/>
<path d="M441.0 63.6L348.7 115.7" stroke="#d9d9d9" stroke-width="0.45"/>
<path d="M481.0 77.8L481.0 44.8" stroke="#d9d9d9" stroke-width="0.45"/>
<path d="M481.0 77.8L388.7 129.9" stroke="#d9d9d9" stroke-width="0.45"/>
<path d="M521.0 92.0L521.0 59.0" stroke="#d9d9d9" stroke-width="0.45"/>
<path d="M521.0 92.0L428.7 144.1" stroke="#d9d9d9" stroke-width="0.45"/>
<path d="M308.8 101.5L308.8 68.5" stroke="#d9d9d9" stroke-width="0.45"/>
<path d="M308.8 101.5L428.7 144.1" stroke="#d9d9d9" stroke-width="0.45"/>
<path d="M327.2 91.1L327.2 58.1" stroke="#d9d9d9" stroke-width="0.45"/>
<path d="M327.2 91.1L447.2 133.7" stroke="#d9d9d9" stroke-width="0.45"/>
<path d="M345.7 80.7L345.7 47.7" stroke="#d9d9d9" stroke-width="0.45"/>
<path d="M345.7 80.7L465.6 123.3" stroke="#d9d9d9" stroke-width="0.45"/>
<path d="M364.1 70.2L364.1 37.2" stroke="#d9d9d9" stroke-width="0.45"/>
<path d="M364.1 70.2L484.1 112.8" stroke="#d9d9d9" stroke-width="0.45"/>
<path d="M382.6 59.8L382.6 26.8" stroke="#d9d9d9" stroke-width="0.45"/>
<path d="M382.6 59.8L502.5 102.4" stroke="#d9d9d9" stroke-width="0.45"/>
<path d="M401.1 49.4L401.1 16.4" stroke="#d9d9d9" stroke-width="0.45"/>
<path d="M401.1 49.4L521.0 92.0" stroke="#d9d9d9" stroke-width="0.45"/>
<path d="M308.8 101.5L308.8 68.5" stroke="#8a8a8a" stroke-width="0.5"/>
<path d="M308.8 101.5L428.7 144.1" stroke="#8a8a8a" stroke-width="0.5"/>
<path d="M428.7 144.1L521.0 92.0" stroke="#8a8a8a" stroke-width="0.5"/>
<g class="t" filter="url(#soft)"><path color="#079bd0" d="M402.7 43.1l2 .2 2.3-.8-2 .1z"/><path color="#5ebe89" d="M408.7 40.4l2 0 2.3-.3-2 0z"/><path color="#6abe83" d="M410.7 40.4l2 .5 2.3-.5-2-.3z"/><path color="#75bf7e" d="M412.7 40.9l2 1.1 2 .5 2-.2 2.3 .3-2-.8-2-1.1-2-.3z"/><path color="#cbbb5c" d="M424.7 41.9l2 1.3 2.3-1.2-2 .1z"/><path color="#c2bc5f" d="M426.7 43.2l2 1.8 2.3-2.2-2-.8z"/><path color="#a8be6a" d="M428.7 45l2 1.9 2.3-2.2-2-1.9z"/><path color="#8bbf75" d="M430.7 46.9l2 1.7 2.3-2-2-1.9z"/><path color="#75bf7e" d="M432.7 48.6l2-.5 2 1.9 2.3-1.3-2-.3-2-1.8z"/><path color="#47bb95" d="M436.7 50l2 2.6 2.3-1.3-2-2.6z"/><path color="#21b4ac" d="M438.7 52.6l2 1.7 2.3-1.1-2-1.9z"/><path color="#13b0b6" d="M440.7 54.3l2 .3 2.3-.4-2-1z"/><path color="#47bb95" d="M444.7 53.6l2-.9 2 2.4 2.3 .5-2-1.3-2 .2z"/><path color="#1ab2b1" d="M448.7 55.1l2 3.1 2.3-.4-2-2.2z"/><path color="#06a6c7" d="M450.7 58.2l2 1.6 2.3 .3-2-2.3z"/><path color="#0a97d1" d="M452.7 59.8l2 2.3 2.3-.2-2-1.8z"/><path color="#1388d3" d="M454.7 62.1l2 1.8 2.3-.8-2-1.2z"/><path color="#1480d6" d="M456.7 63.9l2 1.4 2.3-1.2-2-1z"/><path color="#127cd8" d="M458.7 65.3l2 1 2.3-1.4-2-.8z"/><path color="#0f78db" d="M460.7 66.3l2 1.4 2.3-1.4-2-1.4z"/><path color="#046ce0" d="M462.7 67.7l2 1.7 2.3-1.1-2-2z"/><path color="#115bdc" d="M464.7 69.4l2 1.2 2 .4 2.3-.9-2-.5-2-1.3z"/><path color="#0462e0" d="M468.7 71l2 0 2.3-.7-2-.2z"/><path color="#046ce0" d="M470.7 71l2 .2 2.3-.9-2 0z"/><path color="#0c74dd" d="M472.7 71.2l2 .5 2.3-1.4-2 0z"/><path color="#0f78db" d="M474.7 71.7l2 .6 2 .8 2 .6 2.3-1.9-2-.4-2-.8-2-.3z"/><path color="#1480d6" d="M480.7 73.7l2 .2 2.3-2.1-2 0z"/><path color="#1484d4" d="M482.7 73.9l2 .2 2.3-1.8-2-.5z"/><path color="#118dd2" d="M484.7 74.1l2-.1 2.3-1.5-2-.2z"/><path color="#0a97d1" d="M486.7 74l2-.4 2.3-1.6-2 .5z"/><path color="#06a6c7" d="M488.7 73.6l2-.3 2.3-2-2 .7z"/><path color="#13b0b6" d="M490.7 73.3l2-.6 2.3-2.6-2 1.2z"/><path color="#3dba9b" d="M492.7 72.7l2-.6 2.3-3.6-2 1.6z"/><path color="#6abe83" d="M494.7 72.1l2-.1 2.3-2.8-2-.7z"/><path color="#75bf7e" d="M496.7 72l2 .3 2 1.1 2.3-3-2-.5-2-.7z"/><path color="#6abe83" d="M500.7 73.4l2 1.4 2.3-2.9-2-1.5z"/><path color="#52bd8f" d="M502.7 74.8l2 1.1 2.3-2.3-2-1.7z"/><path color="#3dba9b" d="M504.7 75.9l2 .4 2 .1 2.3-.8-2-.4-2-1.6z"/><path color="#fcce2d" d="M516.7 71.2l2 1.7 2.3-1.7-2 .4z"/><path color="#0f78db" d="M396.4 46.7l2-.9 2.3-1.9-2 1.3z"/><path color="#118dd2" d="M398.4 45.8l2-.7 2.3-2-2 .8z"/><path color="#079bd0" d="M400.4 45.1l2 .2 2.3-2-2-.2z"/><path color="#06a6c7" d="M402.4 45.3l2-.6 2.3-2-2 .6z"/><path color="#6abe83" d="M406.4 42.5l2-.8 2.3-1.3-2 0z"/><path color="#80bf7a" d="M408.4 41.7l2 .5 2 .3 2 .6 2.3-.6-2-.5-2-1.1-2-.5z"/><path color="#8bbf75" d="M414.4 43.1l2 1.3 2.3-2.1-2 .2z"/><path color="#95bf71" d="M416.4 44.4l2 .2 2.3-2.5-2 .2z"/><path color="#a8be6a" d="M418.4 44.6l2 .1 2.3-2.7-2 .1z"/><path color="#babd63" d="M420.4 44.7l2 .7 2 .9 2.3-3.1-2-1.3-2 .1z"/><path color="#a8be6a" d="M424.4 46.3l2 1 2.3-2.3-2-1.8z"/><path color="#95bf71" d="M426.4 47.3l2 1.6 2.3-2-2-1.9z"/><path color="#80bf7a" d="M428.4 48.9l2 .5 2.3-.8-2-1.7z"/><path color="#75bf7e" d="M430.4 49.4l2 2.1 2.3-3.4-2 .5z"/><path color="#5ebe89" d="M432.4 51.5l2 1.2 2.3-2.7-2-1.9z"/><path color="#3dba9b" d="M434.4 52.7l2 2 2.3-2.1-2-2.6z"/><path color="#1ab2b1" d="M436.4 54.7l2 1.5 2.3-1.9-2-1.7z"/><path color="#13b0b6" d="M438.4 56.2l2 .3 2.3-1.9-2-.3z"/><path color="#2ab6a7" d="M440.4 56.5l2-.7 2.3-2.2-2 1z"/><path color="#52bd8f" d="M442.4 55.8l2 0 2.3-3.1-2 .9z"/><path color="#47bb95" d="M444.4 55.8l2 2.6 2.3-3.3-2-2.4z"/><path color="#1ab2b1" d="M446.4 58.4l2 1.8 2.3-2-2-3.1z"/><path color="#06a6c7" d="M448.4 60.2l2 2.3 2.3-2.7-2-1.6z"/><path color="#079bd0" d="M450.4 62.5l2 1.8 2.3-2.2-2-2.3z"/><path color="#1388d3" d="M452.4 64.3l2 2.1 2.3-2.5-2-1.8z"/><path color="#127cd8" d="M454.4 66.4l2 1.8 2.3-2.9-2-1.4z"/><path color="#0c74dd" d="M456.4 68.2l2 1.2 2.3-3.1-2-1z"/><path color="#046ce0" d="M458.4 69.4l2 1.4 2.3-3.1-2-1.4z"/><path color="#0462e0" d="M460.4 70.8l2 1.2 2.3-2.6-2-1.7z"/><path color="#2152d3" d="M462.4 72l2 .8 2 .1 2.3-1.9-2-.4-2-1.2z"/><path color="#0462e0" d="M466.4 72.9l2 .1 2.3-2-2 0z"/><path color="#046ce0" d="M468.4 73l2 .6 2 .6 2.3-2.5-2-.5-2-.2z"/><path color="#0870df" d="M472.4 74.2l2 .3 2.3-2.2-2-.6z"/><path color="#0c74dd" d="M474.4 74.5l2 .2 2 .5 2.3-1.5-2-.6-2-.8z"/><path color="#0f78db" d="M478.4 75.2l2 .5 2.3-1.8-2-.2z"/><path color="#127cd8" d="M480.4 75.7l2 .4 2.3-2-2-.2z"/><path color="#1484d4" d="M482.4 76.1l2 .1 2.3-2.2-2 .1z"/><path color="#118dd2" d="M484.4 76.2l2-.1 2.3-2.5-2 .4z"/><path color="#079bd0" d="M486.4 76.1l2-.2 2.3-2.6-2 .3z"/><path color="#06a8c4" d="M488.4 75.9l2-.6 2.3-2.6-2 .6z"/><path color="#13b0b6" d="M490.4 75.3l2-.2 2.3-3-2 .6z"/><path color="#2ab6a7" d="M492.4 75.1l2 .2 2.3-3.3-2 .1z"/><path color="#3dba9b" d="M494.4 75.3l2 .3 2 .7 2.3-2.9-2-1.1-2-.3z"/><path color="#33b8a1" d="M498.4 76.3l2 1.2 2.3-2.7-2-1.4z"/><path color="#2ab6a7" d="M500.4 77.5l2 1 2.3-2.6-2-1.1z"/><path color="#21b4ac" d="M502.4 78.5l2 .5 2.3-2.7-2-.4z"/><path color="#33b8a1" d="M504.4 79l2 .2 2.3-2.8-2-.1z"/><path color="#52bd8f" d="M506.4 79.2l2-1.1 2.3-3.1-2 1.4z"/><path color="#f2b949" d="M510.4 75.6l2-2.3 2.3-1.7-2 .9z"/><path color="#fcce2d" d="M512.4 73.3l2-.1 2.3-2-2 .4z"/><path color="#fec932" d="M514.4 73.2l2 2.3 2.3-2.6-2-1.7z"/><path color="#0870df" d="M394.1 49.2l2-1.1 2.3-2.3-2 .9z"/><path color="#1484d4" d="M396.1 48.1l2-1 2.3-2-2 .7z"/><path color="#0e92d2" d="M398.1 47.1l2-.1 2.3-1.7-2-.2z"/><path color="#079bd0" d="M400.1 47l2 1 2.3-3.3-2 .6z"/><path color="#06a8c4" d="M402.1 48l2-.6 2.3-4.9-2 2.2z"/><path color="#2ab6a7" d="M404.1 47.4l2-.9 2.3-4.8-2 .8z"/><path color="#52bd8f" d="M406.1 46.5l2-1 2.3-3.3-2-.5z"/><path color="#6abe83" d="M408.1 45.5l2 .1 2 1.1 2.3-3.6-2-.6-2-.3z"/><path color="#5ebe89" d="M412.1 46.7l2 1 2.3-3.3-2-1.3z"/><path color="#6abe83" d="M414.1 47.7l2 0 2.3-3.1-2-.2z"/><path color="#80bf7a" d="M416.1 47.7l2-.2 2.3-2.8-2-.1z"/><path color="#8bbf75" d="M418.1 47.5l2 .6 2 .7 2.3-2.5-2-.9-2-.7z"/><path color="#80bf7a" d="M422.1 48.8l2 1 2.3-2.5-2-1z"/><path color="#75bf7e" d="M424.1 49.8l2 .7 2.3-1.6-2-1.6z"/><path color="#6abe83" d="M426.1 50.5l2 1.9 2.3-3-2-.5z"/><path color="#47bb95" d="M428.1 52.4l2 2.4 2.3-3.3-2-2.1z"/><path color="#21b4ac" d="M430.1 54.8l2 1.6 2.3-3.7-2-1.2z"/><path color="#13b0b6" d="M432.1 56.4l2 1 2.3-2.7-2-2z"/><path color="#09abbf" d="M434.1 57.4l2 1.1 2 .4 2.3-2.4-2-.3-2-1.5z"/><path color="#13b0b6" d="M438.1 58.9l2 .3 2.3-3.4-2 .7z"/><path color="#1ab2b1" d="M440.1 59.2l2 .9 2.3-4.3-2 0z"/><path color="#13b0b6" d="M442.1 60.1l2 1.6 2.3-3.3-2-2.6z"/><path color="#06a2cb" d="M444.1 61.7l2 2.5 2.3-4-2-1.8z"/><path color="#0e92d2" d="M446.1 64.2l2 1.8 2.3-3.5-2-2.3z"/><path color="#1484d4" d="M448.1 66l2 1.4 2.3-3.1-2-1.8z"/><path color="#0c74dd" d="M450.1 67.4l2 2 2.3-3-2-2.1z"/><path color="#0267e1" d="M452.1 69.4l2 1.9 2.3-3.1-2-1.8z"/><path color="#2152d3" d="M454.1 71.3l2 1.3 2.3-3.2-2-1.2z"/><path color="#2c4ac6" d="M456.1 72.6l2 1.2 2.3-3-2-1.4z"/><path color="#353dac" d="M458.1 73.8l2 .8 2 .3 2.3-2.1-2-.8-2-1.2z"/><path color="#3243b9" d="M462.1 74.9l2-.1 2.3-1.9-2-.1z"/><path color="#2152d3" d="M464.1 74.8l2 .4 2.3-2.2-2-.1z"/><path color="#0870df" d="M474.1 76.4l2 .4 2.3-1.6-2-.5z"/><path color="#127cd8" d="M482.1 79.1l2 .4 2.3-3.4-2 .1z"/><path color="#1484d4" d="M484.1 79.5l2-.5 2.3-3.1-2 .2z"/><path color="#0a97d1" d="M486.1 79l2-.6 2.3-3.1-2 .6z"/><path color="#06a2cb" d="M488.1 78.4l2-.3 2.3-3-2 .2z"/><path color="#09abbf" d="M490.1 78.1l2 .2 2.3-3-2-.2z"/><path color="#0dadbb" d="M492.1 78.3l2 .3 2.3-3-2-.3z"/><path color="#13b0b6" d="M494.1 78.6l2 .2 2 .9 2.3-2.2-2-1.2-2-.7z"/><path color="#0dadbb" d="M498.1 79.7l2 .9 2 .7 2.3-2.3-2-.5-2-1z"/><path color="#13b0b6" d="M502.1 81.3l2 .4 2.3-2.5-2-.2z"/><path color="#2ab6a7" d="M504.1 81.7l2-.5 2.3-3.1-2 1.1z"/><path color="#6abe83" d="M506.1 81.2l2-1.6 2.3-4-2 2.5z"/><path color="#babd63" d="M508.1 79.6l2-1.7 2.3-4.6-2 2.3z"/><path color="#ebb94d" d="M510.1 77.9l2-1.1 2 2 2.3-3.3-2-2.3-2 .1z"/></g><g fill="none" stroke-width="1.05" stroke-linecap="round" stroke-linejoin="round"><path d="M422.4 48.1L423.4 48.5L424.4 49L425.5 49.3L426.3 49.7" stroke="#2020f0"/></g><g class="t" filter="url(#soft)"><path color="#0e92d2" d="M395.8 47.5l2 1 2.3-1.5-2 .1z"/><path color="#118dd2" d="M397.8 48.5l2 2 2.3-2.5-2-1z"/><path color="#0e92d2" d="M399.8 50.5l2-.5 2.3-2.6-2 .6z"/><path color="#06a6c7" d="M401.8 50l2-1.2 2.3-2.3-2 .9z"/><path color="#1ab2b1" d="M403.8 48.8l2-1.2 2.3-2.1-2 1z"/><path color="#3dba9b" d="M405.8 47.6l2-.3 2.3-1.7-2-.1z"/><path color="#47bb95" d="M407.8 47.3l2 .7 2.3-1.3-2-1.1z"/><path color="#3dba9b" d="M409.8 48l2 .6 2.3-.9-2-1z"/><path color="#47bb95" d="M411.8 48.6l2 .4 2.3-1.3-2 0z"/><path color="#5ebe89" d="M413.8 49l2 .2 2.3-1.7-2 .2z"/><path color="#6abe83" d="M415.8 49.2l2 .6 2 .8 2 .9 2 .7 2.3-1.7-2-.7-2-1-2-.7-2-.6z"/><path color="#52bd8f" d="M423.8 52.2l2 1.2 2.3-1-2-1.9z"/><path color="#33b8a1" d="M425.8 53.4l2 2.2 2.3-.8-2-2.4z"/><path color="#0dadbb" d="M427.8 55.6l2 2.5 2.3-1.7-2-1.6z"/><path color="#06a6c7" d="M429.8 58.1l2 1.9 2.3-2.6-2-1z"/><path color="#069fce" d="M431.8 60l2 1.7 2.3-3.2-2-1.1z"/><path color="#079bd0" d="M433.8 61.7l2 .8 2.3-3.6-2-.4z"/><path color="#069fce" d="M435.8 62.5l2-.4 2.3-2.9-2-.3z"/><path color="#06a2cb" d="M437.8 62.1l2 1.3 2.3-3.3-2-.9z"/><path color="#079bd0" d="M439.8 63.4l2 1.5 2.3-3.2-2-1.6z"/><path color="#118dd2" d="M441.8 64.9l2 1.6 2.3-2.3-2-2.5z"/><path color="#127cd8" d="M443.8 66.5l2 1.5 2.3-2-2-1.8z"/><path color="#0c74dd" d="M445.8 68l2 1.7 2.3-2.3-2-1.4z"/><path color="#0462e0" d="M447.8 69.7l2 2.1 2.3-2.4-2-2z"/><path color="#3243b9" d="M449.8 71.8l2 1.8 2.3-2.3-2-1.9z"/><path color="#36369f" d="M451.8 73.6l2 1.1 2.3-2.1-2-1.3z"/><path color="#363093" d="M453.8 74.7l2 .7 2.3-1.6-2-1.2z"/><path color="#352a87" d="M455.8 75.4l2 .8 2.3-1.6-2-.8z"/><path color="#363093" d="M457.8 76.2l2 0 2.3-1.3-2-.3z"/><path color="#353dac" d="M459.8 76.2l2-.1 2.3-1.3-2 .1z"/><path color="#2c4ac6" d="M461.8 76.1l2 .4 2 1 2.3-1.3-2-1-2-.4z"/><path color="#118dd2" d="M485.8 81.4l2-.5 2.3-2.8-2 .3z"/><path color="#079bd0" d="M487.8 80.9l2-.2 2.3-2.4-2-.2z"/><path color="#06a2cb" d="M489.8 80.7l2-.3 2.3-1.8-2-.3z"/><path color="#06a8c4" d="M491.8 80.4l2 0 2.3-1.6-2-.2z"/><path color="#09abbf" d="M493.8 80.4l2 .7 2.3-1.4-2-.9z"/><path color="#06a8c4" d="M495.8 81.1l2 1.3 2 .8 2 0 2.3-1.5-2-.4-2-.7-2-.9z"/><path color="#13b0b6" d="M501.8 83.2l2-.4 2.3-1.6-2 .5z"/><path color="#3dba9b" d="M503.8 82.8l2-.6 2.3-2.6-2 1.6z"/><path color="#75bf7e" d="M505.8 82.2l2-.6 2.3-3.7-2 1.7z"/><path color="#a8be6a" d="M507.8 81.6l2-.2 2.3-4.6-2 1.1z"/><path color="#b1bd66" d="M509.8 81.4l2 .8 2.3-3.4-2-2z"/></g><g fill="none" stroke-width="1.05" stroke-linecap="round" stroke-linejoin="round"><path d="M400.9 49L401.9 48.4L403 47.5L404 46.8L405.1 46.5L406.1 46.3L407.2 46.2L408.3 46.2L409.4 46.3L410.6 46.7L411.7 47.1L412.8 47.5L414 47.4L415.1 47.1L416.2 46.9L417.2 46.8L418.3 46.9L419.3 47.1L420.3 47.4L421.3 47.7L422.4 48.1" stroke="#2020f0"/><path d="M426.3 49.7L427.1 50.3L427.9 51.2L428.7 52.4L429.5 53.8L430.3 55L430.9 56.3L431.4 57.5L431.9 58.6" stroke="#2020f0"/></g><g class="t" filter="url(#soft)"><path color="#06a2cb" d="M393.5 46.2l2 2.4 2.3-.1-2-1z"/><path color="#0e92d2" d="M395.5 48.6l2 2 2-.4 2.3-.2-2 .5-2-2z"/><path color="#5ebe89" d="M405.5 47.5l2 .3 2 1 2 .6 2.3-.4-2-.4-2-.6-2-.7z"/><path color="#6abe83" d="M411.5 49.4l2 .2 2.3-.4-2-.2z"/><path color="#75bf7e" d="M413.5 49.6l2 .5 2 .7 2 .9 2 .8 2.3-.3-2-.7-2-.9-2-.8-2-.6z"/><path color="#6abe83" d="M421.5 52.5l2 1.4 2.3-.5-2-1.2z"/><path color="#47bb95" d="M423.5 53.9l2 2.1 2.3-.4-2-2.2z"/><path color="#1ab2b1" d="M425.5 56l2 2.3 2.3-.2-2-2.5z"/><path color="#06a6c7" d="M427.5 58.3l2 2.3 2.3-.6-2-1.9z"/><path color="#0a97d1" d="M429.5 60.6l2 2.5 2.3-1.4-2-1.7z"/><path color="#118dd2" d="M431.5 63.1l2 .8 2.3-1.4-2-.8z"/><path color="#0e92d2" d="M433.5 63.9l2-.4 2.3-1.4-2 .4z"/><path color="#079bd0" d="M435.5 63.5l2 .6 2.3-.7-2-1.3z"/><path color="#0e92d2" d="M437.5 64.1l2 1 2.3-.2-2-1.5z"/><path color="#118dd2" d="M439.5 65.1l2 1.1 2.3 .3-2-1.6z"/><path color="#1480d6" d="M441.5 66.2l2 1.6 2.3 .2-2-1.5z"/><path color="#0c74dd" d="M443.5 67.8l2 2.2 2.3-.3-2-1.7z"/><path color="#0462e0" d="M445.5 70l2 2.1 2.3-.3-2-2.1z"/><path color="#2c4ac6" d="M447.5 72.1l2 1.7 2.3-.2-2-1.8z"/><path color="#36369f" d="M449.5 73.8l2 1.7 2.3-.8-2-1.1z"/><path color="#352a87" d="M451.5 75.5l2 1.3 2 .1 2.3-.7-2-.8-2-.7z"/><path color="#06a2cb" d="M487.5 81.8l2-.7 2.3-.7-2 .3z"/><path color="#09abbf" d="M489.5 81.1l2 0 2.3-.7-2 0z"/><path color="#0dadbb" d="M491.5 81.1l2 .8 2.3-.8-2-.7z"/><path color="#09abbf" d="M493.5 81.9l2 1.3 2.3-.8-2-1.3z"/><path color="#3dba9b" d="M501.5 82.4l2 0 2.3-.2-2 .6z"/><path color="#5ebe89" d="M503.5 82.4l2 .6 2.3-1.4-2 .6z"/><path color="#75bf7e" d="M505.5 83l2 .5 2 1.2 2.3-2.5-2-.8-2 .2z"/></g><g fill="none" stroke-width="1.05" stroke-linecap="round" stroke-linejoin="round"><path d="M399.8 49.5L400.4 49L401 48.6L401.5 48.2L402.1 47.8L402.6 46.4" stroke="#3cf03c"/><path d="M399.8 49.3L399 48.7" stroke="#d824d8"/><path d="M399.8 49.5L400.9 49" stroke="#2020f0"/><path d="M431.9 58.6L432.5 59.8L433 61.1L433.5 62.2L433.8 62.8" stroke="#2020f0"/><path d="M399.8 49.7L400.1 49.1L400.3 48.4L400.6 47.6" stroke="#f04040"/></g><g class="t" filter="url(#soft)"><path color="#13b0b6" d="M391.2 47l2-.5 2.3 2.1-2-2.4z"/><path color="#09abbf" d="M393.2 46.5l2 1.9 2.3 2.2-2-2z"/><path color="#33b8a1" d="M399.2 49l2 0 2.3-.9-2 1.2z"/><path color="#52bd8f" d="M401.2 49l2 .2 2.3-1.7-2 .6z"/><path color="#6abe83" d="M403.2 49.2l2-.1 2.3-1.3-2-.3z"/><path color="#80bf7a" d="M405.2 49.1l2 0 2 .2 2.3 .1-2-.6-2-1z"/><path color="#95bf71" d="M409.2 49.3l2 .2 2.3 .1-2-.2z"/><path color="#a8be6a" d="M413.2 49.5l2 .3 2 .9 2.3 1-2-.9-2-.7z"/><path color="#9fbe6d" d="M417.2 50.7l2 1.1 2.3 .7-2-.8z"/><path color="#95bf71" d="M419.2 51.8l2 2 2.3 .1-2-1.4z"/><path color="#5ebe89" d="M421.2 53.8l2 3 2.3-.8-2-2.1z"/><path color="#2ab6a7" d="M423.2 56.8l2 2.8 2.3-1.3-2-2.3z"/><path color="#09abbf" d="M425.2 59.6l2 1.5 2.3-.5-2-2.3z"/><path color="#06a2cb" d="M427.2 61.1l2 .9 2.3 1.1-2-2.5z"/><path color="#079bd0" d="M429.2 62l2 1.5 2 .4 2.3-.4-2 .4-2-.8z"/><path color="#06a2cb" d="M433.2 63.9l2 0 2 1 2.3 .2-2-1-2-.6z"/><path color="#069fce" d="M437.2 64.9l2 .9 2.3 .4-2-1.1z"/><path color="#0a97d1" d="M439.2 65.8l2 1.6 2.3 .4-2-1.6z"/><path color="#1388d3" d="M441.2 67.4l2 2.3 2.3 .3-2-2.2z"/><path color="#0c74dd" d="M443.2 69.7l2 2.1 2.3 .3-2-2.1z"/><path color="#0462e0" d="M445.2 71.8l2 1.9 2.3 .1-2-1.7z"/><path color="#2c4ac6" d="M447.2 73.7l2 2 2.3-.2-2-1.7z"/><path color="#36369f" d="M449.2 75.7l2 1.2 2.3-.1-2-1.3z"/><path color="#127cd8" d="M459.2 75.4l2 .8 2.3 .7-2-1z"/><path color="#0f78db" d="M461.2 76.2l2 1.2 2.3 .7-2-1.2z"/><path color="#8bbf75" d="M501.2 81.4l2 .9 2 .9 2.3 .3-2-.5-2-.6z"/><path color="#80bf7a" d="M505.2 83.2l2 1.7 2.3-.2-2-1.2z"/></g><g fill="none" stroke-width="1.05" stroke-linecap="round" stroke-linejoin="round"><path d="M402.6 46.4L403.2 45.9L403.8 45.7L404.3 45.7L404.9 45.9L405.4 46.1L406.1 46.4" stroke="#3cf03c"/><path d="M399 48.7L398.2 47" stroke="#d824d8"/><path d="M433.8 62.8L434 62.9L434.2 62.6L434.4 62.3" stroke="#2020f0"/><path d="M400.6 47.6L400.8 46.9L401 46.3L401.3 46.5" stroke="#f04040"/></g><g class="t" filter="url(#soft)"><path color="#0870df" d="M384.9 54.2l2-.8 2.3-2.8-2 1.7z"/><path color="#0a97d1" d="M386.9 53.4l2-2.4 2.3-4-2 3.6z"/><path color="#0dadbb" d="M388.9 51l2-.6 2.3-3.9-2 .5z"/><path color="#1ab2b1" d="M390.9 50.4l2 .2 2.3-2.2-2-1.9z"/><path color="#13b0b6" d="M392.9 50.6l2 .2 2.3-1.4-2-1z"/><path color="#21b4ac" d="M394.9 50.8l2-.3 2.3-1.5-2 .4z"/><path color="#3dba9b" d="M396.9 50.5l2-.1 2.3-1.4-2 0z"/><path color="#52bd8f" d="M398.9 50.4l2 .4 2.3-1.6-2-.2z"/><path color="#6abe83" d="M400.9 50.8l2-.1 2.3-1.6-2 .1z"/><path color="#80bf7a" d="M402.9 50.7l2-.4 2.3-1.2-2 0z"/><path color="#95bf71" d="M404.9 50.3l2 .1 2.3-1.1-2-.2z"/><path color="#a8be6a" d="M406.9 50.4l2 0 2.3-.9-2-.2z"/><path color="#c2bc5f" d="M408.9 50.4l2-.5 2.3-.4-2 0z"/><path color="#dbba55" d="M412.9 49.9l2 .6 2.3 .2-2-.9z"/><path color="#d3bb58" d="M414.9 50.5l2 1.2 2.3 .1-2-1.1z"/><path color="#babd63" d="M416.9 51.7l2 2.8 2.3-.7-2-2z"/><path color="#75bf7e" d="M418.9 54.5l2 3.7 2.3-1.4-2-3z"/><path color="#2ab6a7" d="M420.9 58.2l2 2.6 2.3-1.2-2-2.8z"/><path color="#0dadbb" d="M422.9 60.8l2 1.4 2.3-1.1-2-1.5z"/><path color="#09abbf" d="M424.9 62.2l2 .5 2.3-.7-2-.9z"/><path color="#06a8c4" d="M426.9 62.7l2 .5 2 .6 2.3 .1-2-.4-2-1.5z"/><path color="#09abbf" d="M430.9 63.8l2 .9 2 1.4 2.3-1.2-2-1-2 0z"/><path color="#06a6c7" d="M434.9 66.1l2 1.4 2.3-1.7-2-.9z"/><path color="#06a2cb" d="M436.9 67.5l2 1.3 2.3-1.4-2-1.6z"/><path color="#0e92d2" d="M438.9 68.8l2 1.7 2.3-.8-2-2.3z"/><path color="#1484d4" d="M440.9 70.5l2 1.9 2.3-.6-2-2.1z"/><path color="#0870df" d="M442.9 72.4l2 2.4 2.3-1.1-2-1.9z"/><path color="#115bdc" d="M444.9 74.8l2 2.5 2.3-1.6-2-2z"/><path color="#3243b9" d="M446.9 77.3l2 1 2.3-1.4-2-1.2z"/><path color="#2c4ac6" d="M448.9 78.3l2-.7 2.3-.8-2 .1z"/><path color="#118dd2" d="M456.9 76l2 .9 2.3-.7-2-.8z"/><path color="#1388d3" d="M458.9 76.9l2 .9 2.3-.4-2-1.2z"/><path color="#6abe83" d="M486.9 78.5l2 1.9 2.3 1.4-2-1.3z"/><path color="#c2bc5f" d="M498.8 81.8l2-.3 2 .7 2.4 1-2-.9-2-.9z"/><path color="#babd63" d="M502.8 82.2l2 1.2 2.4 1.5-2-1.7z"/></g><g fill="none" stroke-width="1.05" stroke-linecap="round" stroke-linejoin="round"><path d="M406.1 46.4L406.7 46.7L407.4 47L408 47.2L408.7 47.4L409.3 47.5L409.9 47.7L410.6 47.8" stroke="#3cf03c"/><path d="M398.2 47L397.4 45.7" stroke="#d824d8"/><path d="M434.4 62.3L434.7 62L434.9 61.7L434.9 62.4" stroke="#2020f0"/><path d="M401.3 46.5L401.5 47L401.8 47.6L402 48.2" stroke="#f04040"/><path d="M399.8 49.5L394.6 47.1" stroke="#e8902c"/></g><g class="t" filter="url(#soft)"><path color="#0462e0" d="M382.6 56l2 0 2.3-2.6-2 .8z"/><path color="#127cd8" d="M384.6 56l2-1 2.3-4-2 2.4z"/><path color="#0e92d2" d="M386.6 55l2-.5 2.3-4.1-2 .6z"/><path color="#06a2cb" d="M388.6 54.5l2-.8 2.3-3.1-2-.2z"/><path color="#09abbf" d="M390.6 53.7l2-.7 2.3-2.2-2-.2z"/><path color="#1ab2b1" d="M392.6 53l2-.5 2.3-2-2 .3z"/><path color="#33b8a1" d="M394.6 52.5l2 0 2.3-2.1-2 .1z"/><path color="#3dba9b" d="M396.6 52.5l2 .2 2.3-1.9-2-.4z"/><path color="#52bd8f" d="M398.6 52.7l2 0 2.3-2-2 .1z"/><path color="#75bf7e" d="M400.6 52.7l2-.2 2.3-2.2-2 .4z"/><path color="#8bbf75" d="M402.6 52.5l2 0 2.3-2.1-2-.1z"/><path color="#a8be6a" d="M404.6 52.5l2-.3 2.3-1.8-2 0z"/><path color="#c2bc5f" d="M406.6 52.2l2-.7 2.3-1.6-2 .5z"/><path color="#dbba55" d="M408.6 51.5l2-.5 2.3-1.1-2 0z"/><path color="#ebb94d" d="M410.6 51l2 .5 2 1.2 2.3-1-2-1.2-2-.6z"/><path color="#c2bc5f" d="M414.6 52.7l2 3.1 2.3-1.3-2-2.8z"/><path color="#80bf7a" d="M416.6 55.8l2 3.6 2.3-1.2-2-3.7z"/><path color="#2ab6a7" d="M418.6 59.4l2 2.6 2.3-1.2-2-2.6z"/><path color="#0dadbb" d="M420.6 62l2 1.4 2 .5 2 .3 2.3-1-2-.5-2-.5-2-1.4z"/><path color="#13b0b6" d="M426.6 64.2l2 .7 2.3-1.1-2-.6z"/><path color="#0dadbb" d="M428.6 64.9l2 1.6 2.3-1.8-2-.9z"/><path color="#06a8c4" d="M430.6 66.5l2 1.8 2.3-2.2-2-1.4z"/><path color="#069fce" d="M432.6 68.3l2 1.7 2.3-2.5-2-1.4z"/><path color="#0a97d1" d="M434.6 70l2 1.4 2.3-2.6-2-1.3z"/><path color="#118dd2" d="M436.6 71.4l2 1.3 2.3-2.2-2-1.7z"/><path color="#1480d6" d="M438.6 72.7l2 1.4 2.3-1.7-2-1.9z"/><path color="#0c74dd" d="M440.6 74.1l2 2.2 2.3-1.5-2-2.4z"/><path color="#2152d3" d="M442.6 76.3l2 2.7 2.3-1.7-2-2.5z"/><path color="#353dac" d="M444.6 79l2 .9 2.3-1.6-2-1z"/><path color="#2c4ac6" d="M446.6 79.9l2-1 2.3-1.3-2 .7z"/><path color="#046ce0" d="M448.6 78.9l2-.9 2.3-1.5-2 1.1z"/><path color="#c2bc5f" d="M484.5 76.7l2 2.2 2.4 1.5-2-1.9z"/><path color="#9fbe6d" d="M486.5 78.9l2 1.8 2.4 1.4-2-1.7z"/><path color="#e3b951" d="M496.5 81.2l2 .3 2.3 0-2 .3z"/><path color="#f2b949" d="M498.5 81.5l2 .5 2.3 .2-2-.7z"/><path color="#ebb94d" d="M500.5 82l2 1 2.3 .4-2-1.2z"/></g><g fill="none" stroke-width="1.05" stroke-linecap="round" stroke-linejoin="round"><path d="M410.6 47.8L411.2 48L411.7 48.3L412.3 48.7L412.8 49L413.4 49.4L414 50.2" stroke="#3cf03c"/><path d="M397.4 45.7L396.6 46.4L396.2 48" stroke="#d824d8"/><path d="M434.9 62.4L434.9 64.3L434.8 66.6" stroke="#2020f0"/><path d="M402 48.2L402.2 49.1L402.5 50.1L402.7 51" stroke="#f04040"/></g><g class="t" filter="url(#soft)"><path color="#2152d3" d="M380.3 57.9l2-.3 2.3-1.6-2 0z"/><path color="#046ce0" d="M382.3 57.6l2-.8 2.3-1.8-2 1z"/><path color="#127cd8" d="M384.3 56.8l2-.2 2.3-2.1-2 .5z"/><path color="#118dd2" d="M386.3 56.6l2-.5 2.3-2.4-2 .8z"/><path color="#069fce" d="M388.3 56.1l2-.8 2.3-2.3-2 .7z"/><path color="#09abbf" d="M390.3 55.3l2-.4 2.3-2.4-2 .5z"/><path color="#1ab2b1" d="M392.3 54.9l2 .1 2.3-2.5-2 0z"/><path color="#2ab6a7" d="M394.3 55l2 .1 2.3-2.4-2-.2z"/><path color="#33b8a1" d="M396.3 55.1l2 .2 2.3-2.6-2 0z"/><path color="#52bd8f" d="M398.3 55.3l2-.3 2.3-2.5-2 .2z"/><path color="#6abe83" d="M400.3 55l2-.3 2.3-2.2-2 0z"/><path color="#8bbf75" d="M402.3 54.7l2-.2 2.3-2.3-2 .3z"/><path color="#b1bd66" d="M404.3 54.5l2-.5 2.3-2.5-2 .7z"/><path color="#d3bb58" d="M406.3 54l2-.8 2.3-2.2-2 .5z"/><path color="#e3b951" d="M408.3 53.2l2 .2 2.3-1.9-2-.5z"/><path color="#dbba55" d="M410.3 53.4l2 3.1 2.3-3.8-2-1.2z"/><path color="#b1bd66" d="M412.3 56.5l2 2.1 2.3-2.8-2-3.1z"/><path color="#75bf7e" d="M414.3 58.6l2 1.6 2.3-.8-2-3.6z"/><path color="#33b8a1" d="M416.3 60.2l2 2.4 2.3-.6-2-2.6z"/><path color="#13b0b6" d="M418.3 62.6l2 1.6 2.3-.8-2-1.4z"/><path color="#0dadbb" d="M420.3 64.2l2 .6 2.3-.9-2-.5z"/><path color="#13b0b6" d="M422.3 64.8l2 .2 2.3-.8-2-.3z"/><path color="#1ab2b1" d="M424.3 65l2 1.2 2.3-1.3-2-.7z"/><path color="#0dadbb" d="M426.3 66.2l2 2 2.3-1.7-2-1.6z"/><path color="#06a2cb" d="M428.3 68.2l2 2.1 2.3-2-2-1.8z"/><path color="#0a97d1" d="M430.3 70.3l2 1.9 2.3-2.2-2-1.7z"/><path color="#1388d3" d="M432.3 72.2l2 1.7 2.3-2.5-2-1.4z"/><path color="#127cd8" d="M434.3 73.9l2 1.5 2.3-2.7-2-1.3z"/><path color="#0c74dd" d="M436.3 75.4l2 1.3 2.3-2.6-2-1.4z"/><path color="#046ce0" d="M438.3 76.7l2 1.6 2.3-2-2-2.2z"/><path color="#2152d3" d="M440.3 78.3l2 1.6 2.3-.9-2-2.7z"/><path color="#3243b9" d="M442.3 79.9l2 .4 2.3-.4-2-.9z"/><path color="#d3bb58" d="M474.2 77.9l2-1 2.4-2.1-2 1.4z"/><path color="#f9bb43" d="M476.2 76.9l2-.8 2.3-2-1.9 .7z"/><path color="#fec932" d="M478.2 76.1l2 0 2.3-1.2-2-.8z"/><path color="#ffc436" d="M480.2 76.1l2 1.1 2.3-.5-2-1.8z"/><path color="#f2b949" d="M482.2 77.2l2 1.5 2.3 .2-2-2.2z"/><path color="#e3b951" d="M484.2 78.7l2 .9 2.3 1.1-2-1.8z"/><path color="#cbbb5c" d="M486.2 79.6l2 1.9 2 .3 2.3-.2-2 .2-2-1.1z"/><path color="#f2b949" d="M492.2 81.1l2 .8 2.3-.7-2 .7z"/><path color="#f9bb43" d="M494.2 81.9l2 .6 2.3-1-2-.3z"/><path color="#febf3c" d="M496.2 82.5l2 .8 2.3-1.3-2-.5z"/><path color="#f9bb43" d="M498.2 83.3l2 2.3 2.3-2.6-2-1z"/></g><g fill="none" stroke-width="1.05" stroke-linecap="round" stroke-linejoin="round"><path d="M414 50.2L414.5 50.9L415.1 51.7L415.6 52.6L416.2 53.4L416.7 54.2L417.2 54.9" stroke="#3cf03c"/><path d="M396.2 48L395.8 49.5L395.4 51.1" stroke="#d824d8"/><path d="M434.8 66.6L434.8 68.7L434.7 70.8L434.6 72.5" stroke="#2020f0"/><path d="M402.7 51L402.9 51.6L403 52L403.2 52.4" stroke="#f04040"/><path d="M394.6 47.1L391.8 51.9" stroke="#e8902c"/></g><g class="t" filter="url(#soft)"><path color="#0870df" d="M380 57.6l2-.3 2.3-.5-2 .8z"/><path color="#127cd8" d="M382 57.3l2 .7 2.3-1.4-2 .2z"/><path color="#1484d4" d="M384 58l2 0 2.3-1.9-2 .5z"/><path color="#0e92d2" d="M386 58l2-.7 2.3-2-2 .8z"/><path color="#06a2cb" d="M388 57.3l2-.5 2.3-1.9-2 .4z"/><path color="#09abbf" d="M390 56.8l2 0 2.3-1.8-2-.1z"/><path color="#13b0b6" d="M392 56.8l2 .2 2.3-1.9-2-.1z"/><path color="#1ab2b1" d="M394 57l2 .4 2.3-2.1-2-.2z"/><path color="#2ab6a7" d="M396 57.4l2 .1 2.3-2.5-2 .3z"/><path color="#47bb95" d="M398 57.5l2-.3 2.3-2.5-2 .3z"/><path color="#6abe83" d="M400 57.2l2-.3 2.3-2.4-2 .2z"/><path color="#8bbf75" d="M402 56.9l2-.1 2.3-2.8-2 .5z"/><path color="#a8be6a" d="M404 56.8l2-.3 2.3-3.3-2 .8z"/><path color="#c2bc5f" d="M406 56.5l2 .7 2.3-3.8-2-.2z"/><path color="#b1bd66" d="M408 57.2l2 1.6 2.3-2.3-2-3.1z"/><path color="#8bbf75" d="M410 58.8l2 1.5 2.3-1.7-2-2.1z"/><path color="#6abe83" d="M412 60.3l2 1 2.3-1.1-2-1.6z"/><path color="#47bb95" d="M414 61.3l2 1.9 2.3-.6-2-2.4z"/><path color="#2ab6a7" d="M416 63.2l2 1.3 2.3-.3-2-1.6z"/><path color="#1ab2b1" d="M418 64.5l2 .8 2.3-.5-2-.6z"/><path color="#09abbf" d="M424 67.5l2 2.3 2.3-1.6-2-2z"/><path color="#069fce" d="M426 69.8l2 2.2 2.3-1.7-2-2.1z"/><path color="#118dd2" d="M428 72l2 2.2 2.3-2-2-1.9z"/><path color="#127cd8" d="M430 74.2l2 2.1 2.3-2.4-2-1.7z"/><path color="#046ce0" d="M432 76.3l2 1.8 2.3-2.7-2-1.5z"/><path color="#0462e0" d="M434 78.1l2 1.1 2.3-2.5-2-1.3z"/><path color="#115bdc" d="M436 79.2l2 1.1 2.3-2-2-1.6z"/><path color="#52bd8f" d="M459.9 76.2l2 1.8 2.3 .8-2-1.2z"/><path color="#dbba55" d="M473.9 79.9l2-.4 2.3-3.4-2 .8z"/><path color="#f9bb43" d="M475.9 79.5l2-.4 2.3-3-2 0z"/><path color="#febf3c" d="M477.9 79.1l2 .3 2 .3 2.3-1-2-1.5-2-1.1z"/><path color="#f2b949" d="M481.9 79.7l2 1.9 2.3-2-2-.9z"/><path color="#ebb94d" d="M483.9 81.6l2 .1 2.3-.2-2-1.9z"/><path color="#fec932" d="M489.9 80.9l2 1.7 2.3-.7-2-.8z"/><path color="#ffc436" d="M491.9 82.6l2 1.1 2.3-1.2-2-.6z"/><path color="#f9bb43" d="M493.9 83.7l2 2.3 2.3-2.7-2-.8z"/><path color="#e3b951" d="M495.9 86l2 2.1 2.3-2.5-2-2.3z"/></g><g fill="none" stroke-width="1.05" stroke-linecap="round" stroke-linejoin="round"><path d="M417.2 54.9L417.8 55.7L418.3 56.4L418.8 57.2L419.4 57.8L419.9 58.5" stroke="#3cf03c"/><path d="M395.4 51.1L395.1 52.5L394.7 53.9" stroke="#d824d8"/><path d="M434.6 72.5L434.6 74.3L434.4 75.8" stroke="#2020f0"/><path d="M403.2 52.4L403.4 53L403.6 53.6L403.8 54.3" stroke="#f04040"/><path d="M391.8 51.9L389.6 53" stroke="#e8902c"/></g><g class="t" filter="url(#soft)"><path color="#0870df" d="M375.7 57.9l2 .2 2.3-.5-2 .3z"/><path color="#0f78db" d="M377.7 58.1l2 .2 2.3-1-2 .3z"/><path color="#127cd8" d="M379.7 58.3l2 .9 2.3-1.2-2-.7z"/><path color="#1480d6" d="M381.7 59.2l2 .1 2.3-1.3-2 0z"/><path color="#118dd2" d="M383.7 59.3l2-.6 2.3-1.4-2 .7z"/><path color="#069fce" d="M385.7 58.7l2-.7 2.3-1.2-2 .5z"/><path color="#09abbf" d="M387.7 58l2-.5 2.3-.7-2 0z"/><path color="#13b0b6" d="M389.7 57.5l2-.1 2.3-.4-2-.2z"/><path color="#1ab2b1" d="M391.7 57.4l2 .9 2.3-.9-2-.4z"/><path color="#21b4ac" d="M393.7 58.3l2 1 2.3-1.8-2-.1z"/><path color="#2ab6a7" d="M395.7 59.3l2 .2 2.3-2.3-2 .3z"/><path color="#47bb95" d="M397.7 59.5l2-.1 2.3-2.5-2 .3z"/><path color="#5ebe89" d="M399.7 59.4l2 .4 2.3-3-2 .1z"/><path color="#75bf7e" d="M401.7 59.8l2 .1 2.3-3.4-2 .3z"/><path color="#8bbf75" d="M403.7 59.9l2 .2 2.3-2.9-2-.7z"/><path color="#80bf7a" d="M405.7 60.1l2 .7 2.3-2-2-1.6z"/><path color="#75bf7e" d="M407.7 60.8l2 1.1 2.3-1.6-2-1.5z"/><path color="#5ebe89" d="M409.7 61.9l2 1 2.3-1.6-2-1z"/><path color="#52bd8f" d="M411.7 62.9l2 .9 2.3-.6-2-1.9z"/><path color="#3dba9b" d="M413.7 63.8l2 .9 2.3-.2-2-1.3z"/><path color="#33b8a1" d="M415.7 64.7l1.9 1.3 2.4-.7-2-.8z"/><path color="#079bd0" d="M423.6 71.3l2 2 2.4-1.3-2-2.2z"/><path color="#1388d3" d="M425.6 73.3l2 2.1 2.4-1.2-2-2.2z"/><path color="#0c74dd" d="M427.6 75.4l2 2.6 2.4-1.7-2-2.1z"/><path color="#a8be6a" d="M455.6 75l2 .9 2.3 .3-2-.9z"/><path color="#9fbe6d" d="M457.6 75.9l2 1.8 2.3 .3-2-1.8z"/><path color="#80bf7a" d="M459.6 77.7l2 1.7 2.3 0-2-1.4z"/><path color="#dbba55" d="M473.6 80.6l2 .5 2.3-2-2 .4z"/><path color="#ebb94d" d="M475.6 81.1l2 .1 2.3-1.8-2-.3z"/><path color="#f2b949" d="M477.6 81.2l2 .4 2.3-1.9-2-.3z"/><path color="#f9bb43" d="M479.6 81.6l2-.1 2.3 .1-2-1.9z"/><path color="#f7d925" d="M485.6 80.4l2 1.5 2.3-1-2 .1z"/><path color="#fcce2d" d="M487.6 81.9l2 2.1 2.3-1.4-2-1.7z"/><path color="#febf3c" d="M489.6 84l2 2.3 2.3-2.6-2-1.1z"/><path color="#e3b951" d="M491.6 86.3l2 2.1 2.3-2.4-2-2.3z"/><path color="#c2bc5f" d="M493.6 88.4l2 1.7 2.3-2-2-2.1z"/></g><g fill="none" stroke-width="1.05" stroke-linecap="round" stroke-linejoin="round"><path d="M419.9 58.5L420.4 59.1L421 59.7L421.5 60.3L422 60.8L422.6 61.2" stroke="#3cf03c"/><path d="M394.7 53.9L394.3 55.2" stroke="#d824d8"/><path d="M434.4 75.8L434.3 77.2L434.2 77.4" stroke="#2020f0"/><path d="M403.8 54.3L404 54.9L404.2 55.5L404.4 56.1" stroke="#f04040"/><path d="M389.6 53L388.1 53.1" stroke="#e8902c"/></g><g class="t" filter="url(#soft)"><path color="#1484d4" d="M377.4 59.2l2 .5 2.3-.5-2-.9z"/><path color="#1388d3" d="M379.4 59.7l2 0 2.3-.4-2-.1z"/><path color="#0e92d2" d="M381.4 59.7l2-.3 2.3-.7-2 .6z"/><path color="#0dadbb" d="M385.4 58.8l2-.6 2.3-.7-2 .5z"/><path color="#21b4ac" d="M387.4 58.2l2-.2 2.3-.6-2 .1z"/><path color="#2ab6a7" d="M389.4 58l2 .8 2 1.4 2.3-.9-2-1-2-.9z"/><path color="#21b4ac" d="M393.4 60.2l2 1.3 2 1.2 2.3-3.3-2 .1-2-.2z"/><path color="#2ab6a7" d="M397.4 62.7l1.9 .5 2.4-3.4-2-.4z"/><path color="#33b8a1" d="M399.3 63.2l2-.4 2.4-2.9-2-.1z"/><path color="#47bb95" d="M401.3 62.8l2 .2 2.4-2.9-2-.2z"/><path color="#52bd8f" d="M403.3 63l2 .8 2.4-3-2-.7z"/><path color="#47bb95" d="M405.3 63.8l2 1 2 .4 2 .1 2 .7 2.4-1.3-2-.9-2-.9-2-1-2-1.1z"/><path color="#3dba9b" d="M413.3 66l2 1.2 2.3-1.2-1.9-1.3z"/><path color="#cbbb5c" d="M453.3 76.1l2 .2 2.3-.4-2-.9z"/><path color="#c2bc5f" d="M455.3 76.3l2 1.2 2.3 .2-2-1.8z"/><path color="#a8be6a" d="M457.3 77.5l2 1.6 2.3 .3-2-1.7z"/><path color="#dbba55" d="M471.3 80.9l2 2 2 .1 2.3-1.8-2-.1-2-.5z"/><path color="#f2b949" d="M475.3 83l2-1.3 2.3-.1-2-.4z"/><path color="#f5e51d" d="M481.3 80.3l2 1.9 2.3-1.8-2 .5z"/><path color="#f5de21" d="M483.3 82.2l2 2.2 2.3-2.5-2-1.5z"/><path color="#fec932" d="M485.3 84.4l2 2.3 2.3-2.7-2-2.1z"/><path color="#ebb94d" d="M487.3 86.7l2 1.9 2.3-2.3-2-2.3z"/><path color="#cbbb5c" d="M489.3 88.6l2 1.7 2.3-1.9-2-2.1z"/><path color="#babd63" d="M491.3 90.3l2 1.1 2.3-1.3-2-1.7z"/></g><g fill="none" stroke-width="1.05" stroke-linecap="round" stroke-linejoin="round"><path d="M422.6 61.2L423.1 61.5L423.7 61.8L424.2 61.9L424.8 62L425.3 62.1L425.9 62.3" stroke="#3cf03c"/><path d="M394.3 55.2L394.2 56L394.2 56L394.2 55.8" stroke="#d824d8"/><path d="M434.2 77.4L434.1 77.4L434 77.2" stroke="#2020f0"/><path d="M404.4 56.1L404.6 57.2L404.9 58.5L405.1 59.9" stroke="#f04040"/><path d="M388.1 53.1L387.4 53.5" stroke="#e8902c"/></g><g class="t" filter="url(#soft)"><path color="#069fce" d="M379 59.9l2-.2 2.4-.3-2 .3z"/><path color="#06a8c4" d="M381 59.7l2-.3 2.4-.6-2 .6z"/><path color="#13b0b6" d="M383 59.4l2 .4 2.4-1.6-2 .6z"/><path color="#21b4ac" d="M385 59.8l2 .5 2.4-2.3-2 .2z"/><path color="#2ab6a7" d="M387 60.3l2 .8 2.4-2.3-2-.8z"/><path color="#21b4ac" d="M389 61.1l2 1.5 2.4-2.4-2-1.4z"/><path color="#0dadbb" d="M391 62.6l2 2.1 2.4-3.2-2-1.3z"/><path color="#06a6c7" d="M393 64.7l2 1.9 2 .2 2.3-3.6-1.9-.5-2-1.2z"/><path color="#0dadbb" d="M397 66.8l2-1.4 2.3-2.6-2 .4z"/><path color="#21b4ac" d="M399 65.4l2 0 2.3-2.4-2-.2z"/><path color="#2ab6a7" d="M401 65.4l2 .9 2.3-2.5-2-.8z"/><path color="#21b4ac" d="M403 66.3l2 .8 2 .4 2.3-2.3-2-.4-2-1z"/><path color="#33b8a1" d="M407 67.5l2-.1 2.3-2.1-2-.1z"/><path color="#3dba9b" d="M409 67.4l2 .2 2 .9 2.3-1.3-2-1.2-2-.7z"/><path color="#d3bb58" d="M451 77.9l2-.9 2.3-.7-2-.2z"/><path color="#dbba55" d="M453 77l2-.1 2 .6 2.3 1.6-2-1.6-2-1.2z"/><path color="#f9bb43" d="M461 79.5l2-.1 2.3-2-2 1.1z"/><path color="#cbbb5c" d="M471 84.8l2 .5 2.3-2.3-2-.1z"/><path color="#ebb94d" d="M473 85.3l2-.8 2.3-2.8-2 1.3z"/><path color="#fec932" d="M475 84.5l2-.6 2.3-3.1-2 .9z"/><path color="#f7d925" d="M477 83.9l2 0 2.3-3.6-2 .5z"/><path color="#f5de21" d="M479 83.9l2 .9 2.3-2.6-2-1.9z"/><path color="#fec932" d="M481 84.8l2 2.3 2.3-2.7-2-2.2z"/><path color="#f2b949" d="M483 87.1l2 1.8 2.3-2.2-2-2.3z"/><path color="#d3bb58" d="M485 88.9l2 2 2.3-2.3-2-1.9z"/><path color="#babd63" d="M487 90.9l2 1.7 2.3-2.3-2-1.7z"/><path color="#9fbe6d" d="M489 92.6l2 1.2 2.3-2.4-2-1.1z"/></g><g fill="none" stroke-width="1.05" stroke-linecap="round" stroke-linejoin="round"><path d="M425.9 62.3L426.4 62.5L427 62.8L427.4 63.2L427.6 63.8" stroke="#3cf03c"/><path d="M394.2 55.8L394.2 55.9L394.3 56.4" stroke="#d824d8"/><path d="M434 77.2L433.9 77L433.8 76.7" stroke="#2020f0"/><path d="M405.1 59.9L405.3 61.2L405.6 62.5L405.8 63.7L406 64.7" stroke="#f04040"/><path d="M387.4 53.5L386.7 54.8L386 56.1" stroke="#e8902c"/></g><g class="t" filter="url(#soft)"><path color="#06a6c7" d="M376.7 60.6l2 .3 2.3-1.2-2 .2z"/><path color="#09abbf" d="M378.7 60.9l2 .5 2.3-2-2 .3z"/><path color="#0dadbb" d="M380.7 61.4l2 1.3 2.3-2.9-2-.4z"/><path color="#09abbf" d="M382.7 62.7l2 1.7 2.3-4.1-2-.5z"/><path color="#06a8c4" d="M384.7 64.4l2 1.5 2.3-4.8-2-.8z"/><path color="#06a2cb" d="M386.7 65.9l2 1.4 2.3-4.7-2-1.5z"/><path color="#079bd0" d="M388.7 67.3l2 .9 2.3-3.5-2-2.1z"/><path color="#0e92d2" d="M390.7 68.2l2 .3 2.3-1.9-2-1.9z"/><path color="#0a97d1" d="M392.7 68.5l2-.3 2.3-1.4-2-.2z"/><path color="#06a2cb" d="M394.7 68.2l2-.5 2.3-2.3-2 1.4z"/><path color="#09abbf" d="M396.7 67.7l2 .3 2.3-2.6-2 0z"/><path color="#0dadbb" d="M398.7 68l2 .4 2.3-2.1-2-.9z"/><path color="#13b0b6" d="M400.7 68.4l2 .5 2 .3 2.3-1.7-2-.4-2-.8z"/><path color="#21b4ac" d="M404.7 69.2l2 .4 2.3-2.2-2 .1z"/><path color="#2ab6a7" d="M406.7 69.6l2 .1 2.3-2.1-2-.2z"/><path color="#dbba55" d="M448.7 78.1l2-.2 2.3-.9-2 .9z"/><path color="#f2b949" d="M450.7 77.9l2 .4 2 1.4 2.3-2.2-2-.6-2 .1z"/><path color="#e3b951" d="M454.7 79.7l2 1.9 2.3-3-2-1.1z"/><path color="#d3bb58" d="M456.7 81.6l2 1.4 2.3-3.5-2-.9z"/><path color="#dbba55" d="M458.7 83l2 .2 2.3-3.8-2 .1z"/><path color="#f2b949" d="M460.7 83.2l2-.9 2.3-3.8-2 .9z"/><path color="#c2bc5f" d="M466.7 85.1l2 2.4 2.3-2.7-2-2.6z"/><path color="#b1bd66" d="M468.7 87.5l2 1 2.3-3.2-2-.5z"/><path color="#babd63" d="M470.7 88.5l2-.1 2.3-3.9-2 .8z"/><path color="#dbba55" d="M472.7 88.4l2 0 2.3-4.5-2 .6z"/><path color="#ebb94d" d="M474.7 88.4l2 .1 2.3-4.6-2 0z"/><path color="#f2b949" d="M476.7 88.5l2 .4 2.3-4.1-2-.9z"/><path color="#ebb94d" d="M478.7 88.9l2 1.1 2.3-2.9-2-2.3z"/><path color="#d3bb58" d="M480.7 90l2 1.8 2.3-2.9-2-1.8z"/><path color="#b1bd66" d="M482.7 91.8l2 1.9 2.3-2.8-2-2z"/><path color="#95bf71" d="M484.7 93.7l2 1.4 2.3-2.5-2-1.7z"/><path color="#80bf7a" d="M486.7 95.1l2 .6 2.3-1.9-2-1.2z"/></g><g fill="none" stroke-width="1.05" stroke-linecap="round" stroke-linejoin="round"><path d="M427.6 63.8L427.9 64.3L428.2 64.7L428.4 65.2" stroke="#3cf03c"/><path d="M394.3 56.4L394.3 57.4L394.3 58.6L394.3 59.9" stroke="#d824d8"/><path d="M433.8 76.7L433.8 76.3L433.7 75.8L433.7 75.3" stroke="#2020f0"/><path d="M406 64.7L406.2 65L406.5 64.8L406.7 64.3" stroke="#f04040"/><path d="M386 56.1L385.9 57.5L385.9 59" stroke="#e8902c"/></g><g class="t" filter="url(#soft)"><path color="#069fce" d="M376.4 64.2l2 1.9 2.3-4.7-2-.5z"/><path color="#0e92d2" d="M378.4 66.1l2 2 2.3-5.4-2-1.3z"/><path color="#1388d3" d="M380.4 68.1l2 1.8 2.3-5.5-2-1.7z"/><path color="#127cd8" d="M382.4 69.9l2 1.2 2.3-5.2-2-1.5z"/><path color="#0f78db" d="M384.4 71.1l2 .3 2.3-4.1-2-1.4z"/><path color="#127cd8" d="M386.4 71.4l2-.7 2.3-2.5-2-.9z"/><path color="#1484d4" d="M388.4 70.7l2-.8 2.3-1.4-2-.3z"/><path color="#0e92d2" d="M390.4 69.9l2-.2 2.3-1.5-2 .3z"/><path color="#079bd0" d="M392.4 69.7l2 .4 2.3-2.4-2 .5z"/><path color="#06a2cb" d="M394.4 70.1l2 .2 2.3-2.3-2-.3z"/><path color="#06a8c4" d="M396.4 70.3l2-.1 2.3-1.8-2-.4z"/><path color="#09abbf" d="M398.4 70.2l2 0 2.3-1.3-2-.5z"/><path color="#0dadbb" d="M400.4 70.2l2 .5 2.3-1.5-2-.3z"/><path color="#13b0b6" d="M402.4 70.7l2 .5 2.3-1.6-2-.4z"/><path color="#b1bd66" d="M442.4 78.5l2 1.7 2.3-1.7-2 1z"/><path color="#c2bc5f" d="M444.4 80.2l2 .6 2.3-2.7-2 .4z"/><path color="#d3bb58" d="M446.4 80.8l2 .1 2.3-3-2 .2z"/><path color="#dbba55" d="M448.4 80.9l2 .9 2.3-3.5-2-.4z"/><path color="#d3bb58" d="M450.4 81.8l2 1.6 2.3-3.7-2-1.4z"/><path color="#babd63" d="M452.4 83.4l2 1.9 2.3-3.7-2-1.9z"/><path color="#9fbe6d" d="M454.4 85.3l2 1.5 2.3-3.8-2-1.4z"/><path color="#95bf71" d="M456.4 86.8l2 .5 2.3-4.1-2-.2z"/><path color="#b1bd66" d="M458.4 87.3l2-.1 2.3-4.9-2 .9z"/><path color="#c2bc5f" d="M460.4 87.2l2 .8 2.3-5.3-2-.4z"/><path color="#b1bd66" d="M462.4 88l2 1.8 2.3-4.7-2-2.4z"/><path color="#8bbf75" d="M464.4 89.8l2 1.7 2.3-4-2-2.4z"/><path color="#6abe83" d="M466.4 91.5l2 .9 2.3-3.9-2-1z"/><path color="#75bf7e" d="M468.4 92.4l2 .3 2.3-4.3-2 .1z"/><path color="#8bbf75" d="M470.4 92.7l2 0 2.3-4.3-2 0z"/><path color="#9fbe6d" d="M472.4 92.7l2-.4 2.3-3.8-2-.1z"/><path color="#babd63" d="M474.4 92.3l2-.4 2.3-3-2-.4z"/><path color="#c2bc5f" d="M476.4 91.9l2-.1 2.3-1.8-2-1.1z"/><path color="#babd63" d="M478.4 91.8l2 .7 2.3-.7-2-1.8z"/><path color="#a8be6a" d="M480.4 92.5l2 1.1 2.3 .1-2-1.9z"/><path color="#95bf71" d="M482.4 93.6l2 .9 2 .3 2.3 .9-2-.6-2-1.4z"/></g><path d="M462.5 83L462.6 83.5L462.8 84L463.2 84.6L463.8 85L464.5 85.3L465.3 85.6L466.2 85.8L467.2 85.9L468.2 85.9L469.3 85.8L470.4 85.6L471.4 85.2L472.4 84.7L473.3 84.2L474.2 83.6L474.9 83.1L475.4 82.5L475.8 82L476.1 81.4L476.2 80.9L476.2 75.2L476.1 75.7L475.8 76.2L475.4 76.7L474.9 77.2L474.2 77.7L473.3 78.2L472.4 78.6L471.4 78.9L470.4 79.2L469.3 79.5L468.2 79.6L467.2 79.7L466.2 79.6L465.3 79.5L464.5 79.4L463.8 79.1L463.2 78.8L462.8 78.4L462.6 78L462.5 77.5z" fill="url(#cyl)"/><path d="M473.8 77.9L474.6 77.4L475.3 76.8L475.8 76.3L476.1 75.7L476.2 75.1L476 74.6L475.7 74.1L475.2 73.7L474.5 73.4L473.6 73.2L472.6 73.1L471.6 73L470.4 73.1L469.2 73.2L468 73.5L466.9 73.8L465.8 74.3L464.8 74.7L464 75.3L463.3 75.8L462.9 76.4L462.6 77L462.5 77.6L462.6 78.1L462.9 78.5L463.5 78.9L464.2 79.3L465 79.5L466 79.6L467.1 79.7L468.2 79.6L469.4 79.4L470.6 79.2L471.8 78.8L472.8 78.4z" fill="url(#cyt)" stroke="#181818" stroke-width=".8"/><g fill="none" stroke-width="1.05" stroke-linecap="round" stroke-linejoin="round"><path d="M428.4 65.2L428.7 65.8L428.9 66.5L429.2 67.1" stroke="#3cf03c"/><path d="M394.3 59.9L394.4 61.1L394.6 62.2L394.7 63.4" stroke="#d824d8"/><path d="M433.7 75.3L433.5 75L433.3 75.1" stroke="#2020f0"/><path d="M406.7 64.3L406.9 63.9L407.2 63.7L407.4 63.6" stroke="#f04040"/><path d="M385.9 59L386 60.4L386.1 61.8L386.2 63.1" stroke="#e8902c"/></g><g class="t" filter="url(#soft)"><path color="#1480d6" d="M364.1 63.2l2 .9 2.3-1.1-2-.4z"/><path color="#0462e0" d="M376.1 71.5l2 .8 2.3-4.2-2-2z"/><path color="#115bdc" d="M378.1 72.3l2 .3 2 .1 2 .1 2.3-1.4-2-.3-2-1.2-2-1.8z"/><path color="#046ce0" d="M384.1 72.8l2-.3 2.3-1.8-2 .7z"/><path color="#127cd8" d="M386.1 72.5l2-.5 2.3-2.1-2 .8z"/><path color="#1388d3" d="M388.1 72l2-.1 2.3-2.2-2 .2z"/><path color="#0e92d2" d="M390.1 71.9l2 .3 2.3-2.1-2-.4z"/><path color="#079bd0" d="M392.1 72.2l2-.3 2.3-1.6-2-.2z"/><path color="#06a6c7" d="M394.1 71.9l2-.6 2.3-1.1-2 .1z"/><path color="#09abbf" d="M396.1 71.3l2 .2 2.3-1.3-2 0z"/><path color="#0dadbb" d="M398.1 71.5l2 .7 2.3-1.5-2-.5z"/><path color="#13b0b6" d="M400.1 72.2l2 .5 2.3-1.5-2-.5z"/><path color="#e3b951" d="M410.1 67.7l2 .9 2.3-1-2-.1z"/><path color="#e3b951" d="M424.1 71.7l2 2.5 2.3 .1-2-2.6z"/><path color="#babd63" d="M426.1 74.2l2 2.3 2.3-.6-2-1.6z"/><path color="#9fbe6d" d="M428.1 76.5l2 .1 2-.2 2.3 2.9-2-1.1-2-2.3z"/><path color="#babd63" d="M434.1 77.4l2 2.1 2.3-2.3-2 1z"/><path color="#b1bd66" d="M436.1 79.5l2 2.7 2.3-4.9-2-.1z"/><path color="#9fbe6d" d="M438.1 82.2l2 1.6 2.3-5.3-2-1.2z"/><path color="#95bf71" d="M440.1 83.8l2-.7 2.3-2.9-2-1.7z"/><path color="#9fbe6d" d="M442.1 83.1l2-.2 2.3-2.1-2-.6z"/><path color="#a8be6a" d="M444.1 82.9l2 1.2 2.3-3.2-2-.1z"/><path color="#9fbe6d" d="M446.1 84.1l2 2.2 2.3-4.5-2-.9z"/><path color="#80bf7a" d="M448.1 86.3l2 2 2.3-4.9-2-1.6z"/><path color="#5ebe89" d="M450.1 88.3l2 1.5 2.3-4.5-2-1.9z"/><path color="#47bb95" d="M452.1 89.8l2 .9 2.3-3.9-2-1.5z"/><path color="#3dba9b" d="M454.1 90.7l2 .5 2.3-3.9-2-.5z"/><path color="#47bb95" d="M456.1 91.2l2 .7 2 1.3 2.3-5.2-2-.8-2 .1z"/><path color="#3dba9b" d="M460.1 93.2l2 1.3 2.3-4.7-2-1.8z"/><path color="#2ab6a7" d="M462.1 94.5l2 .6 2.3-3.6-2-1.7z"/><path color="#21b4ac" d="M464.1 95.1l2 .5 2.3-3.2-2-.9z"/><path color="#2ab6a7" d="M466.1 95.6l2 .3 2.3-3.2-2-.3z"/><path color="#3dba9b" d="M468.1 95.9l2-.2 2.3-3-2 0z"/><path color="#5ebe89" d="M470.1 95.7l2-.8 2.3-2.6-2 .4z"/><path color="#8bbf75" d="M472.1 94.9l2-1.1 2.3-1.9-2 .4z"/><path color="#b1bd66" d="M474.1 93.8l2-1.2 2.3-.8-2 .1z"/><path color="#c2bc5f" d="M476.1 92.6l2 .5 2 .9 2.3-.4-2-1.1-2-.7z"/><path color="#d3bb58" d="M482.1 93.4l2-.3 2.3 1.7-2-.3z"/></g><g fill="none" stroke-width="1.05" stroke-linecap="round" stroke-linejoin="round"><path d="M429.2 67.1L429.1 68.2L428.9 69.3" stroke="#3cf03c"/><path d="M394.7 63.4L394.8 64.5L395 65.5" stroke="#d824d8"/><path d="M433.3 75.1L433 75.2" stroke="#2020f0"/><path d="M407.4 63.6L407.7 63.7L408 64L408.3 64.4" stroke="#f04040"/><path d="M386.2 63.1L386.3 64.3L386.6 65.4L386.9 66.2" stroke="#e8902c"/></g><g class="t" filter="url(#soft)"><path color="#0f78db" d="M361.8 66.1l2 1 2.3-3-2-.9z"/><path color="#0267e1" d="M379.8 72.1l2 .8 2.3-.1-2-.1z"/><path color="#0870df" d="M381.8 72.9l2 .8 2.3-1.2-2 .3z"/><path color="#0f78db" d="M383.8 73.7l2-.2 2.3-1.5-2 .5z"/><path color="#1484d4" d="M385.8 73.5l2-.3 2.3-1.3-2 .1z"/><path color="#118dd2" d="M387.8 73.2l2 0 2.3-1-2-.3z"/><path color="#0a97d1" d="M389.8 73.2l2-.2 2.3-1.1-2 .3z"/><path color="#06a6c7" d="M391.8 73l2-.4 2.3-1.3-2 .6z"/><path color="#09abbf" d="M393.8 72.6l2 .6 2 .9 2.3-1.9-2-.7-2-.2z"/><path color="#0dadbb" d="M397.8 74.1l2 .3 2.3-1.7-2-.5z"/><path color="#f2b949" d="M407.8 68.8l2 .1 2.3-.3-2-.9z"/><path color="#febf3c" d="M409.8 68.9l2 .5 2.3-2.1-2 1.3z"/><path color="#fcce2d" d="M411.8 69.4l2 .1 2.3-2-2-.2z"/><path color="#ebb94d" d="M421.8 73.8l2 1.5 2.3-1.1-2-2.5z"/><path color="#d3bb58" d="M423.8 75.3l2 1.2 2.3 0-2-2.3z"/><path color="#babd63" d="M425.8 76.5l2 2.4 2.3-2.3-2-.1z"/><path color="#b1bd66" d="M427.8 78.9l2 2.9 2.3-5.4-2 .2z"/><path color="#8bbf75" d="M429.8 81.8l2 3.1 2.3-7.5-2-1z"/><path color="#5ebe89" d="M431.8 84.9l2 2.1 2.3-7.5-2-2.1z"/><path color="#3dba9b" d="M433.8 87l2 .3 2.3-5.1-2-2.7z"/><path color="#33b8a1" d="M435.8 87.3l2-.1 2.3-3.4-2-1.6z"/><path color="#47bb95" d="M437.8 87.2l2-.6 2.3-3.5-2 .7z"/><path color="#6abe83" d="M439.8 86.6l2 .1 2 1.8 2.3-4.4-2-1.2-2 .2z"/><path color="#3dba9b" d="M443.8 88.5l2 2.5 2.3-4.7-2-2.2z"/><path color="#1ab2b1" d="M445.8 91l2 1.8 2.3-4.5-2-2z"/><path color="#0dadbb" d="M447.8 92.8l2 .8 2.3-3.8-2-1.5z"/><path color="#09abbf" d="M449.8 93.6l2 .1 2.3-3-2-.9z"/><path color="#0dadbb" d="M451.8 93.7l2 0 2.3-2.5-2-.5z"/><path color="#13b0b6" d="M453.8 93.7l2 .6 2.3-2.4-2-.7z"/><path color="#0dadbb" d="M455.8 94.3l2 1.4 2.3-2.5-2-1.3z"/><path color="#06a8c4" d="M457.8 95.7l2 1.4 2 .3 2.3-2.3-2-.6-2-1.3z"/><path color="#09abbf" d="M461.8 97.4l2 0 2.3-1.8-2-.5z"/><path color="#0dadbb" d="M463.8 97.4l2-.2 2.3-1.3-2-.3z"/><path color="#21b4ac" d="M465.8 97.2l2-.6 2.3-.9-2 .2z"/><path color="#d3bb58" d="M473.8 93.3l2 .6 2.3-.8-2-.5z"/><path color="#dbba55" d="M475.8 93.9l2-.6 2.3 .7-2-.9z"/><path color="#f2b949" d="M477.8 93.3l2-.5 2.3 .6-2 .6z"/><path color="#ffc436" d="M479.8 92.8l2-.3 2.3 .6-2 .3z"/></g><g fill="none" stroke-width="1.05" stroke-linecap="round" stroke-linejoin="round"><path d="M428.9 69.3L428.8 71L428.6 74.1" stroke="#3cf03c"/><path d="M395 65.5L395.1 66.5L395.2 66.9L395.4 67.3" stroke="#d824d8"/><path d="M433 75.2L432.7 75.8L432.4 77.2" stroke="#2020f0"/><path d="M408.3 64.4L408.5 65L408.8 65.7L409.1 66.6L409.4 67.6" stroke="#f04040"/><path d="M386.9 66.2L387.3 67.1L387.7 67.7L388 68.2L388.4 68.6" stroke="#e8902c"/></g><g class="t" filter="url(#soft)"><path color="#115bdc" d="M359.5 69l2 1.6 2.3-3.5-2-1z"/><path color="#2c4ac6" d="M361.5 70.6l2 1.8 2.3-4-2-1.3z"/><path color="#127cd8" d="M375.5 71.2l2 .5 2 1.1 2 .7 2.3 .2-2-.8-2-.8-2 0z"/><path color="#0a97d1" d="M385.5 73.3l2 .1 2.3-.2-2 0z"/><path color="#069fce" d="M387.5 73.4l2 .3 2.3-.7-2 .2z"/><path color="#06a6c7" d="M389.5 73.7l2 .3 2.3-1.4-2 .4z"/><path color="#06a8c4" d="M391.5 74l2 .7 2 .7 2.3-1.3-2-.9-2-.6z"/><path color="#dbba55" d="M403.5 71l2-1 2.3-1.2-2 1.1z"/><path color="#f9bb43" d="M405.5 70l2 .6 2 .9 2.3-2.1-2-.5-2-.1z"/><path color="#febf3c" d="M409.5 71.5l2 .5 2.3-2.5-2-.1z"/><path color="#fec932" d="M411.5 72l2-.6 2.3-2.3-2 .4z"/><path color="#d3bb58" d="M419.5 76.6l2 2.1 2.3-3.4-2-1.5z"/><path color="#babd63" d="M421.5 78.7l2 2.1 2.3-4.3-2-1.2z"/><path color="#95bf71" d="M423.5 80.8l2 2.8 2.3-4.7-2-2.4z"/><path color="#47bb95" d="M425.5 83.6l2 3.1 2.3-4.9-2-2.9z"/><path color="#13b0b6" d="M427.5 86.7l2 2.6 2.3-4.4-2-3.1z"/><path color="#06a2cb" d="M429.5 89.3l2 1.3 2.3-3.6-2-2.1z"/><path color="#069fce" d="M431.5 90.6l2 .2 2.3-3.5-2-.3z"/><path color="#06a6c7" d="M433.5 90.8l2 0 2.3-3.6-2 .1z"/><path color="#0dadbb" d="M435.5 90.8l2-.2 2.3-4-2 .6z"/><path color="#1ab2b1" d="M437.5 90.6l2 .2 2 1.7 2.3-4-2-1.8-2-.1z"/><path color="#06a8c4" d="M441.5 92.5l2 2.1 2.3-3.6-2-2.5z"/><path color="#079bd0" d="M443.5 94.6l2 1.1 2.3-2.9-2-1.8z"/><path color="#0a97d1" d="M445.5 95.7l2 .3 2.3-2.4-2-.8z"/><path color="#069fce" d="M447.5 96l2-.2 2.3-2.1-2-.1z"/><path color="#06a6c7" d="M449.5 95.8l2-.3 2.3-1.8-2 0z"/><path color="#09abbf" d="M451.5 95.5l2-.2 2 .8 2.3-.4-2-1.4-2-.6z"/><path color="#06a6c7" d="M455.5 96.1l2 1.6 2.3-.6-2-1.4z"/><path color="#06a2cb" d="M457.5 97.7l2 .8 2.3-1.1-2-.3z"/><path color="#06a8c4" d="M459.5 98.5l2 .1 2.3-1.2-2 0z"/><path color="#0dadbb" d="M461.5 98.6l2-.3 2.3-1.1-2 .2z"/><path color="#2ab6a7" d="M463.5 98.3l2-.8 2.3-.9-2 .6z"/><path color="#f5de21" d="M477.5 92.9l2 .3 2.3-.7-2 .3z"/></g><g fill="none" stroke-width="1.05" stroke-linecap="round" stroke-linejoin="round"><path d="M428.6 74.1L428.5 75.7L428.4 77L428.3 78.2" stroke="#3cf03c"/><path d="M395.4 67.3L395.6 67.3L395.8 67.2L396 67.1" stroke="#d824d8"/><path d="M432.4 77.2L432.2 79L431.9 81.3" stroke="#2020f0"/><path d="M409.4 67.6L409.6 67.8L409.9 68L410.2 68.4" stroke="#f04040"/><path d="M388.4 68.6L388.8 68.6L389.2 68.6L389.8 68.5L390.3 68.3" stroke="#e8902c"/></g><g class="t" filter="url(#soft)"><path color="#353dac" d="M357.2 71.7l2 1.1 2.3-2.2-2-1.6z"/><path color="#363093" d="M359.2 72.8l2 .8 2-.3 2.3-.2-2-.7-2-1.8z"/><path color="#1388d3" d="M373.2 72.1l2 .8 2 .6 2.3-.7-2-1.1-2-.5z"/><path color="#06a6c7" d="M383.2 72.8l2 .6 2.3 0-2-.1z"/><path color="#06a8c4" d="M385.2 73.4l2 .9 2 .9 2 .8 2 .7 2.3-1.3-2-.7-2-.7-2-.3-2-.3z"/><path color="#f2b949" d="M403.2 71.2l2 1 2.3-1.6-2-.6z"/><path color="#ebb94d" d="M405.2 72.2l2 1.6 2.3-2.3-2-.9z"/><path color="#e3b951" d="M407.2 73.8l2 1.3 2.3-3.1-2-.5z"/><path color="#ebb94d" d="M409.2 75.1l2 .4 2.3-4.1-2 .6z"/><path color="#f9bb43" d="M411.2 75.5l2 1 2.3-4.9-2-.2z"/><path color="#ebb94d" d="M413.2 76.5l2 2 2.3-4.8-2-2.1z"/><path color="#c2bc5f" d="M415.2 78.5l2 2.3 2.3-4.2-2-2.9z"/><path color="#95bf71" d="M417.2 80.8l2 1.8 2.3-3.9-2-2.1z"/><path color="#6abe83" d="M419.2 82.6l2 1.7 2.3-3.5-2-2.1z"/><path color="#3dba9b" d="M421.2 84.3l2 2.4 2.3-3.1-2-2.8z"/><path color="#09abbf" d="M423.2 86.7l2 2.8 2.3-2.8-2-3.1z"/><path color="#0a97d1" d="M425.2 89.5l2 2.8 2.3-3-2-2.6z"/><path color="#1484d4" d="M427.2 92.3l2 1.5 2-.1 2.3-2.9-2-.2-2-1.3z"/><path color="#118dd2" d="M431.2 93.7l2-.2 2.3-2.7-2 0z"/><path color="#079bd0" d="M433.2 93.5l2 0 2.3-2.9-2 .2z"/><path color="#06a2cb" d="M435.2 93.5l2 .4 2.3-3.1-2-.2z"/><path color="#069fce" d="M437.2 93.9l2 1 2.3-2.4-2-1.7z"/><path color="#0a97d1" d="M439.2 94.9l2 1.2 2.3-1.5-2-2.1z"/><path color="#118dd2" d="M441.2 96.1l2 .6 2.3-1-2-1.1z"/><path color="#0e92d2" d="M443.2 96.7l2 .2 2.3-.9-2-.3z"/><path color="#079bd0" d="M445.2 96.9l2-.1 2.3-1-2 .2z"/><path color="#06a6c7" d="M447.2 96.8l2-.2 2.3-1.1-2 .3z"/><path color="#09abbf" d="M449.2 96.6l2-.5 2.3-.8-2 .2z"/><path color="#13b0b6" d="M451.2 96.1l2 .2 2 1.3 2.3 .1-2-1.6-2-.8z"/><path color="#09abbf" d="M455.2 97.6l2 1.3 2 .9 2.3-1.2-2-.1-2-.8z"/><path color="#0dadbb" d="M459.2 99.8l2 .4 2.3-1.9-2 .3z"/><path color="#21b4ac" d="M461.2 100.2l2-.2 2.3-2.5-2 .8z"/><path color="#47bb95" d="M463.2 100l2-.9 2.3-2.5-2 .9z"/><path color="#8bbf75" d="M465.2 99.1l2-1.4 2.3-2.3-2 1.2z"/><path color="#c2bc5f" d="M467.2 97.7l2-1.6 2.3-1.9-2 1.2z"/><path color="#f2b949" d="M469.2 96.1l2-.9 2.3-1.9-2 .9z"/><path color="#ffc436" d="M471.2 95.2l2 .1 2.3-2.4-2 .4z"/><path color="#fcce2d" d="M473.2 95.3l2 .2 2.3-2.6-2 0z"/><path color="#f7d925" d="M475.2 95.5l2 .4 2.3-2.7-2-.3z"/></g><path d="M365.3 72.5L365.4 73.2L365.6 73.7L366 73.9L366.6 74.1L367.3 74.3L368.1 74.3L369 74.4L370 74.3L371.1 74.2L372.1 74.1L373.2 74L374.2 73.8L375.2 73.4L376.1 73L377 72.3L377.7 71.2L378.2 70L378.6 68.9L378.9 67.9L379 67L379 49.1L378.9 49.6L378.6 50.2L378.2 50.7L377.7 51.2L377 51.7L376.1 52.1L375.2 52.6L374.2 52.9L373.2 53.2L372.1 53.4L371.1 53.6L370 53.6L369 53.6L368.1 53.5L367.3 53.3L366.6 53.1L366 52.8L365.6 52.4L365.4 51.9L365.3 51.5z" fill="url(#cyl)"/><path d="M376.6 51.9L377.4 51.4L378.1 50.8L378.6 50.2L378.9 49.7L379 49.1L378.8 48.6L378.5 48.1L378 47.7L377.3 47.4L376.4 47.2L375.5 47L374.4 47L373.2 47.1L372 47.2L370.8 47.5L369.7 47.8L368.6 48.2L367.6 48.7L366.8 49.3L366.2 49.8L365.7 50.4L365.4 51L365.3 51.5L365.4 52L365.7 52.5L366.3 52.9L367 53.2L367.8 53.5L368.8 53.6L369.9 53.6L371 53.6L372.2 53.4L373.4 53.1L374.6 52.8L375.6 52.4z" fill="url(#cyt)" stroke="#181818" stroke-width=".8"/><path d="M413.3 73.7L413.4 74.1L413.6 74.6L414 75L414.6 75.4L415.3 75.7L416.1 76L417 76.2L418 76.3L419 76.4L420.1 76.3L421.2 76.1L422.2 75.7L423.2 75.3L424.1 74.9L424.9 74.5L425.6 74.1L426.2 73.7L426.6 73.5L426.9 73.4L426.9 73.3L426.9 66.2L426.9 66.7L426.6 67.2L426.2 67.7L425.6 68.2L424.9 68.7L424.1 69.2L423.2 69.6L422.2 70L421.2 70.2L420.1 70.5L419 70.6L418 70.7L417 70.7L416.1 70.6L415.3 70.4L414.6 70.1L414 69.8L413.6 69.4L413.4 69L413.3 68.5z" fill="url(#cyl)"/><path d="M424.6 68.9L425.4 68.4L426.1 67.8L426.6 67.3L426.9 66.7L426.9 66.1L426.8 65.6L426.5 65.2L426 64.8L425.3 64.4L424.4 64.2L423.4 64.1L422.3 64L421.2 64.1L420 64.3L418.8 64.5L417.7 64.9L416.6 65.3L415.6 65.8L414.8 66.3L414.1 66.9L413.6 67.4L413.4 68L413.3 68.6L413.4 69.1L413.7 69.5L414.2 69.9L414.9 70.3L415.8 70.5L416.8 70.6L417.9 70.7L419 70.6L420.2 70.4L421.4 70.2L422.5 69.8L423.6 69.4z" fill="url(#cyt)" stroke="#181818" stroke-width=".8"/><path d="M422.4 68.9L423 68.7L423.5 68.5L423.9 68.2L424.1 68L424.1 67.7L424 67.5L423.8 67.3L423.4 67.2L422.9 67L422.3 66.9L421.6 66.9L420.8 66.9L420 66.9L419.1 67L418.3 67.1L417.4 67.2L416.7 67.4L416 67.6L415.4 67.8L414.9 68L414.6 68.3L414.3 68.5L414.3 68.8L414.4 69L414.6 69.2L415 69.3L415.5 69.5L416.1 69.6L416.8 69.6L417.6 69.6L418.4 69.6L419.3 69.5L420.1 69.4L421 69.3L421.7 69.1z" fill="#f5e51d"/><g fill="none" stroke-width="1.05" stroke-linecap="round" stroke-linejoin="round"><path d="M428.3 78.2L428.2 79.4L428.1 80.5" stroke="#3cf03c"/><path d="M396 67.1L396.3 67L396.5 67.1L396.7 67.5" stroke="#d824d8"/><path d="M431.9 81.3L431.7 83.5L431.4 85.4" stroke="#2020f0"/><path d="M410.2 68.4L410.7 69.1L411.1 69.8L411.6 70.5L412 71.1L412.5 71.6" stroke="#f04040"/><path d="M390.3 68.3L390.9 68.4L391.5 68.4L392 68.7L392.6 69L393.2 69.6L393.7 70.1" stroke="#e8902c"/></g><g class="t" filter="url(#soft)"><path color="#363093" d="M354.9 73.3l2 .5 2.3-1-2-1.1z"/><path color="#0dadbb" d="M378.9 72.5l2 .5 2.3-.2-2-.2z"/><path color="#13b0b6" d="M380.9 73l2 1.3 2.3-.9-2-.6z"/><path color="#0dadbb" d="M382.9 74.3l2 1.4 2.3-1.4-2-.9z"/><path color="#09abbf" d="M384.9 75.7l2 1 2.3-1.5-2-.9z"/><path color="#06a8c4" d="M386.9 76.7l2 .5 2.3-1.2-2-.8z"/><path color="#09abbf" d="M388.9 77.2l2 .1 2.3-.6-2-.7z"/><path color="#e3b951" d="M398.9 73.1l2-.2 2.3-1.7-2 .7z"/><path color="#ebb94d" d="M400.9 72.9l2 1.4 2.3-2.1-2-1z"/><path color="#dbba55" d="M402.9 74.3l2 2.4 2.3-2.9-2-1.6z"/><path color="#babd63" d="M404.9 76.7l2 2.3 2.3-3.9-2-1.3z"/><path color="#a8be6a" d="M406.9 79l2 1.8 2.3-5.3-2-.4z"/><path color="#95bf71" d="M408.9 80.8l2 1.8 2.3-6.1-2-1z"/><path color="#75bf7e" d="M410.9 82.6l2 1.8 2.3-5.9-2-2z"/><path color="#52bd8f" d="M412.9 84.4l2 1.6 2.3-5.2-2-2.3z"/><path color="#33b8a1" d="M414.9 86l2 1.2 2.3-4.6-2-1.8z"/><path color="#1ab2b1" d="M416.9 87.2l2 1.3 2.3-4.2-2-1.7z"/><path color="#09abbf" d="M418.9 88.5l2 1.8 2.3-3.6-2-2.4z"/><path color="#079bd0" d="M420.9 90.3l2 2.2 2.3-3-2-2.8z"/><path color="#1484d4" d="M422.9 92.5l2 2.3 2.3-2.5-2-2.8z"/><path color="#0c74dd" d="M424.9 94.8l2 1.4 2 0 2.3-2.5-2 .1-2-1.5z"/><path color="#127cd8" d="M428.9 96.2l2-.6 2.3-2.1-2 .2z"/><path color="#1388d3" d="M430.9 95.6l2 0 2.3-2.1-2 0z"/><path color="#0e92d2" d="M432.9 95.6l2 .3 2.3-2-2-.4z"/><path color="#0a97d1" d="M434.9 95.9l2 .3 2 .4 2 .1 2.3 0-2-.6-2-1.2-2-1z"/><path color="#1ab2b1" d="M446.9 96.6l2-.2 2.3-.3-2 .5z"/><path color="#2ab6a7" d="M448.9 96.4l2 .6 2 1.1 2.3-.5-2-1.3-2-.2z"/><path color="#1ab2b1" d="M452.9 98.1l2 1.3 2.3-.5-2-1.3z"/><path color="#0dadbb" d="M454.9 99.4l2 1.8 2.3-1.4-2-.9z"/><path color="#09abbf" d="M456.9 101.2l2 1.3 2 .6 2.3-3.1-2 .2-2-.4z"/><path color="#1ab2b1" d="M460.9 103.1l2-.6 2.3-3.4-2 .9z"/><path color="#52bd8f" d="M462.9 102.5l2-1.7 2.3-3.1-2 1.4z"/><path color="#9fbe6d" d="M464.9 100.8l2-1.9 2.3-2.8-2 1.6z"/><path color="#d3bb58" d="M466.9 98.9l2-1 2.3-2.7-2 .9z"/><path color="#f2b949" d="M468.9 97.9l2 .2 2.3-2.8-2-.1z"/><path color="#f9bb43" d="M470.9 98.1l2 .3 2.3-2.9-2-.2z"/><path color="#ffc436" d="M472.9 98.4l1.9 .3 2.4-2.8-2-.4z"/></g><g fill="none" stroke-width="1.05" stroke-linecap="round" stroke-linejoin="round"><path d="M428.1 80.5L428 81.5L427.9 82.2" stroke="#3cf03c"/><path d="M396.7 67.5L396.9 67.9L397.1 68.3L397.4 68.7L397.6 69.1" stroke="#d824d8"/><path d="M431.4 85.4L431.2 86.8L430.9 87.1" stroke="#2020f0"/><path d="M412.5 71.6L413 72.1L413.4 73.5L413.9 74.9L414.3 76.4" stroke="#f04040"/><path d="M393.7 70.1L394.3 70.6L395.1 71L395.8 71.3L396.5 71.7L397.3 72L398 71.9L398.7 71.9L399.5 71.9L400.2 71.9" stroke="#e8902c"/></g><g class="t" filter="url(#soft)"><path color="#1388d3" d="M358.6 71.5l2-.1 2.3-.9-2 .8z"/><path color="#0e92d2" d="M360.6 71.4l2 1.1 2.3-1.9-2-.1z"/><path color="#13b0b6" d="M374.6 73.6l2-.3 2.3-.8-2 .7z"/><path color="#21b4ac" d="M376.6 73.3l2 1.2 2.3-1.5-2-.5z"/><path color="#13b0b6" d="M378.6 74.5l2 1.8 2.3-2-2-1.3z"/><path color="#09abbf" d="M380.6 76.3l2 1.6 2.3-2.2-2-1.4z"/><path color="#06a6c7" d="M382.6 77.9l2 .7 2.3-1.9-2-1z"/><path color="#06a8c4" d="M384.6 78.6l2-.4 2.3-1-2-.5z"/><path color="#e3b951" d="M396.6 74.2l2 .8 2.3-2.1-2 .2z"/><path color="#dbba55" d="M398.6 75l2 2.2 2.3-2.9-2-1.4z"/><path color="#b1bd66" d="M400.6 77.2l2 3.1 2.3-3.6-2-2.4z"/><path color="#75bf7e" d="M402.6 80.3l2 3 2.3-4.3-2-2.3z"/><path color="#3dba9b" d="M404.6 83.3l2 2.7 2.3-5.2-2-1.8z"/><path color="#13b0b6" d="M406.6 86l2 2.1 2.3-5.5-2-1.8z"/><path color="#06a8c4" d="M408.6 88.1l2 1.6 2.3-5.3-2-1.8z"/><path color="#069fce" d="M410.6 89.7l2 1.2 2.3-4.9-2-1.6z"/><path color="#079bd0" d="M412.6 90.9l2 .9 2.3-4.6-2-1.2z"/><path color="#0a97d1" d="M414.6 91.8l2 .9 2.3-4.2-2-1.3z"/><path color="#1480d6" d="M418.6 93.8l2 1.2 2.3-2.5-2-2.2z"/><path color="#0c74dd" d="M420.6 95l2 1.5 2.3-1.7-2-2.3z"/><path color="#046ce0" d="M422.6 96.5l2 1.1 2 0 2.3-1.4-2 0-2-1.4z"/><path color="#0f78db" d="M426.6 97.6l2-.5 2.3-1.5-2 .6z"/><path color="#1484d4" d="M428.6 97.1l2-.3 2.3-1.2-2 0z"/><path color="#118dd2" d="M430.6 96.8l2-.2 2.3-.7-2-.3z"/><path color="#0a97d1" d="M432.6 96.6l2 .4 2.3-.8-2-.3z"/><path color="#3dba9b" d="M444.6 96.4l2 .1 2 1.3 2.3-.8-2-.6-2 .2z"/><path color="#33b8a1" d="M448.6 97.8l2 1.3 2.3-1-2-1.1z"/><path color="#2ab6a7" d="M450.6 99.1l2 1.2 2.3-.9-2-1.3z"/><path color="#13b0b6" d="M452.6 100.3l2 1.8 2.3-.9-2-1.8z"/><path color="#06a8c4" d="M454.6 102.1l1.9 2.2 2.4-1.8-2-1.3z"/><path color="#06a2cb" d="M456.5 104.3l2 1.2 2.4-2.4-2-.6z"/><path color="#06a6c7" d="M458.5 105.5l2-.1 2.4-2.9-2 .6z"/><path color="#1ab2b1" d="M460.5 105.4l2-1.1 2.4-3.5-2 1.7z"/><path color="#5ebe89" d="M462.5 104.3l2-1.8 2.4-3.6-2 1.9z"/><path color="#a8be6a" d="M464.5 102.5l2-1 2.4-3.6-2 1z"/><path color="#cbbb5c" d="M466.5 101.5l2-.2 2.4-3.2-2-.2z"/><path color="#d3bb58" d="M468.5 101.3l2 .1 2.4-3-2-.3z"/><path color="#dbba55" d="M470.5 101.4l2 .8 2.3-3.5-1.9-.3z"/></g><g fill="none" stroke-width="1.05" stroke-linecap="round" stroke-linejoin="round"><path d="M427.9 82.2L427.9 82.8L427.9 83.4" stroke="#3cf03c"/><path d="M397.6 69.1L397.8 69.4L398 69.5" stroke="#d824d8"/><path d="M430.9 87.1L430.7 87.2L430.4 87.1" stroke="#2020f0"/><path d="M414.3 76.4L414.8 77.8L415.4 79.4L415.9 80.9L416.4 82.2L416.9 83.3" stroke="#f04040"/><path d="M400.2 71.9L400.9 72L401.5 72.2L402.2 72.5L402.9 73L403.5 74L404 75.4" stroke="#e8902c"/></g><g class="t" filter="url(#soft)"><path color="#118dd2" d="M356.3 72.6l2 .4 2 1.7 2.3-2.2-2-1.1-2 .1z"/><path color="#1484d4" d="M360.3 74.7l2 1.4 2.3-2.2-2-1.4z"/><path color="#1ab2b1" d="M372.3 74.2l2 .5 2 1.5 2.3-1.7-2-1.2-2 .3z"/><path color="#0dadbb" d="M376.3 76.2l2 2 2.3-1.9-2-1.8z"/><path color="#06a6c7" d="M378.3 78.2l2 1.6 2.3-1.9-2-1.6z"/><path color="#069fce" d="M380.3 79.8l2 .3 2.3-1.5-2-.7z"/><path color="#75bf7e" d="M388.3 76.9l2 0 2.3-.5-2 .4z"/><path color="#c2bc5f" d="M392.3 76.5l2 .2 2.3-2.5-2 .9z"/><path color="#cbbb5c" d="M394.3 76.7l2 1.8 2.3-3.5-2-.8z"/><path color="#a8be6a" d="M396.3 78.5l2 3.1 2.3-4.4-2-2.2z"/><path color="#5ebe89" d="M398.3 81.6l2 3.4 2.3-4.7-2-3.1z"/><path color="#1ab2b1" d="M400.3 85l2 3.2 2.3-4.9-2-3z"/><path color="#069fce" d="M402.3 88.2l2 2.8 2.3-5-2-2.7z"/><path color="#1388d3" d="M404.3 91l2 1.6 2.3-4.5-2-2.1z"/><path color="#127cd8" d="M406.3 92.6l2 1 2.3-3.9-2-1.6z"/><path color="#0f78db" d="M408.3 93.6l2 1 2.3-3.7-2-1.2z"/><path color="#046ce0" d="M420.3 97.5l2 .7 2.3-.6-2-1.1z"/><path color="#0f78db" d="M424.3 98.3l2-.3 2.3-.9-2 .5z"/><path color="#1388d3" d="M426.3 98l2-.5 2.3-.7-2 .3z"/><path color="#0a97d1" d="M428.3 97.5l2-.3 2.3-.6-2 .2z"/><path color="#069fce" d="M430.3 97.2l2 .4 2.3-.6-2-.4z"/><path color="#06a2cb" d="M432.3 97.6l2 .1 2.3-.5-2-.2z"/><path color="#6abe83" d="M442.2 96.2l2 .4 2 1.2 2.4 0-2-1.3-2-.1z"/><path color="#52bd8f" d="M446.2 97.8l2 1.5 2.4-.2-2-1.3z"/><path color="#33b8a1" d="M448.2 99.3l2 1.8 2.4-.8-2-1.2z"/><path color="#1ab2b1" d="M450.2 101.1l2 2.2 2.4-1.2-2-1.8z"/><path color="#06a8c4" d="M452.2 103.3l2 2.4 2.3-1.4-1.9-2.2z"/><path color="#079bd0" d="M454.2 105.7l2 1.6 2 .5 2.3-2.4-2 .1-2-1.2z"/><path color="#06a6c7" d="M458.2 107.8l2-.6 2.3-2.9-2 1.1z"/><path color="#21b4ac" d="M460.2 107.2l2-1.1 2.3-3.6-2 1.8z"/><path color="#5ebe89" d="M462.2 106.1l2-1.1 2.3-3.5-2 1z"/><path color="#8bbf75" d="M464.2 105l2-.6 2.3-3.1-2 .2z"/><path color="#a8be6a" d="M466.2 104.4l2-.2 2.3-2.8-2-.1z"/><path color="#b1bd66" d="M468.2 104.2l2 .6 2.3-2.6-2-.8z"/></g><g fill="none" stroke-width="1.05" stroke-linecap="round" stroke-linejoin="round"><path d="M427.9 83.4L428 83.8L428 84.4L428 85" stroke="#3cf03c"/><path d="M398 69.5L397.7 70.1L397.5 71.3" stroke="#d824d8"/><path d="M430.4 87.1L430.1 87L429.9 87.4" stroke="#2020f0"/><path d="M416.9 83.3L417.4 84.2L417.8 84.9L418.2 85.1L418.6 85.4L419.1 85.6" stroke="#f04040"/><path d="M404 75.4L404.3 77.1L404.5 78.8L404.8 80.4" stroke="#e8902c"/></g><g class="t" filter="url(#soft)"><path color="#118dd2" d="M354 73.7l2 .9 2.3-1.6-2-.4z"/><path color="#1484d4" d="M356 74.6l2 1.6 2.3-1.5-2-1.7z"/><path color="#127cd8" d="M358 76.2l2 1 2.3-1.1-2-1.4z"/><path color="#06a6c7" d="M374 78.7l2 1.5 2.3-2-2-2z"/><path color="#069fce" d="M376 80.2l2 .8 2-.3 2.3-.6-2-.3-2-1.6z"/><path color="#5ebe89" d="M384 78.9l2-.3 2.3-1.7-2 .6z"/><path color="#80bf7a" d="M386 78.6l2 .1 2.3-1.8-2 0z"/><path color="#95bf71" d="M388 78.7l2 .4 2.3-2.6-2 .4z"/><path color="#9fbe6d" d="M390 79.1l2 1.5 2.3-3.9-2-.2z"/><path color="#80bf7a" d="M392 80.6l2 2.7 2.3-4.8-2-1.8z"/><path color="#3dba9b" d="M394 83.3l2 3.5 2.3-5.2-2-3.1z"/><path color="#06a8c4" d="M396 86.8l2 3.2 2.3-5-2-3.4z"/><path color="#118dd2" d="M398 90l2 2.6 2.3-4.4-2-3.2z"/><path color="#0c74dd" d="M400 92.6l2 1.9 2.3-3.5-2-2.8z"/><path color="#0267e1" d="M402 94.5l2 .7 2.3-2.6-2-1.6z"/><path color="#0462e0" d="M404 95.2l2 .4 2 .9 2 .7 2.3-2-2-.6-2-1-2-1z"/><path color="#069fce" d="M425.9 97.7l2-.1 2.4-.4-2 .3z"/><path color="#06a6c7" d="M427.9 97.6l2 .5 2.4-.5-2-.4z"/><path color="#06a8c4" d="M429.9 98.1l2 .1 2.4-.5-2-.1z"/><path color="#95bf71" d="M439.9 95.9l2 .4 2 1 2.3 .5-2-1.2-2-.4z"/><path color="#80bf7a" d="M443.9 97.3l2 1.3 2.3 .7-2-1.5z"/><path color="#5ebe89" d="M445.9 98.6l2 2.2 2.3 .3-2-1.8z"/><path color="#33b8a1" d="M447.9 100.8l2 2.8 2.3-.3-2-2.2z"/><path color="#09abbf" d="M449.9 103.6l2 2.9 2.3-.8-2-2.4z"/><path color="#069fce" d="M451.9 106.5l2 1.7 2.3-.9-2-1.6z"/><path color="#0a97d1" d="M453.9 108.2l2 .8 2.3-1.2-2-.5z"/><path color="#09abbf" d="M457.9 109l2-.7 2.3-2.2-2 1.1z"/><path color="#2ab6a7" d="M459.9 108.3l2-1.2 2.3-2.1-2 1.1z"/><path color="#5ebe89" d="M461.9 107.1l2-.8 2.3-1.9-2 .6z"/><path color="#8bbf75" d="M463.9 106.3l2-.2 2.3-1.9-2 .2z"/><path color="#95bf71" d="M465.9 106.1l2 .4 2.3-1.7-2-.6z"/></g><g fill="none" stroke-width="1.05" stroke-linecap="round" stroke-linejoin="round"><path d="M428 85L428 86L428 87.2" stroke="#3cf03c"/><path d="M397.5 71.3L397.2 72.5" stroke="#d824d8"/><path d="M429.9 87.4L429.6 88L429.3 89" stroke="#2020f0"/><path d="M419.1 85.6L419.5 86L419.9 86.5L420.3 87L420.7 87.6" stroke="#f04040"/></g><g class="t" filter="url(#soft)"><path color="#046ce0" d="M345.7 75.6l2-.3 2.3-.7-2 .5z"/><path color="#127cd8" d="M347.7 75.3l2-.3 2.3-1.2-2 .8z"/><path color="#1484d4" d="M349.7 75l2 .5 2.3-1.8-2 .1z"/><path color="#1388d3" d="M351.7 75.5l2 1 2.3-1.9-2-.9z"/><path color="#1484d4" d="M353.7 76.5l2 .9 2.3-1.2-2-1.6z"/><path color="#1480d6" d="M355.7 77.4l2 .5 2.3-.7-2-1z"/><path color="#079bd0" d="M371.7 81.6l2 .9 2-.5 2.3-1-2-.8-2-1.5z"/><path color="#33b8a1" d="M379.7 80.6l2 .4 2.3-2.1-2 .8z"/><path color="#47bb95" d="M381.7 81l2 .4 2.3-2.8-2 .3z"/><path color="#5ebe89" d="M383.7 81.4l2 .2 2.3-2.9-2-.1z"/><path color="#6abe83" d="M385.7 81.6l2 1.3 2.3-3.8-2-.4z"/><path color="#52bd8f" d="M387.7 82.9l2 2.5 2.3-4.8-2-1.5z"/><path color="#1ab2b1" d="M389.7 85.4l2 3 2.3-5.1-2-2.7z"/><path color="#069fce" d="M391.7 88.4l2 2.9 2.3-4.5-2-3.5z"/><path color="#1480d6" d="M393.7 91.3l1.9 2.4 2.4-3.7-2-3.2z"/><path color="#046ce0" d="M395.6 93.7l2 1.8 2.4-2.9-2-2.6z"/><path color="#115bdc" d="M397.6 95.5l2 .9 2.4-1.9-2-1.9z"/><path color="#2152d3" d="M399.6 96.4l2 .1 2.4-1.3-2-.7z"/><path color="#115bdc" d="M401.6 96.5l2 .4 2 .8 2 .7 2.4-1.2-2-.7-2-.9-2-.4z"/><path color="#0462e0" d="M407.6 98.4l2 .5 2.4-1.6-2-.1z"/><path color="#0dadbb" d="M425.6 97.6l2 .4 2.3 .1-2-.5z"/><path color="#13b0b6" d="M427.6 98l2 .6 2.3-.4-2-.1z"/><path color="#80bf7a" d="M433.6 97.5l2-.9 2.3-.7-2 .7z"/><path color="#a8be6a" d="M435.6 96.6l2-.5 2.3-.2-2 0z"/><path color="#c2bc5f" d="M439.6 96.2l2 .7 2.3 .4-2-1z"/><path color="#babd63" d="M441.6 96.9l2 1.1 2.3 .6-2-1.3z"/><path color="#9fbe6d" d="M443.6 98l2 1.9 2.3 .9-2-2.2z"/><path color="#6abe83" d="M445.6 99.9l2 2.9 2.3 .8-2-2.8z"/><path color="#21b4ac" d="M447.6 102.8l2 2.8 2.3 .9-2-2.9z"/><path color="#80bf7a" d="M461.6 107.3l2-.1 2.3-1.1-2 .2z"/><path color="#95bf71" d="M463.6 107.2l2 .5 2.3-1.2-2-.4z"/></g><g fill="none" stroke-width="1.05" stroke-linecap="round" stroke-linejoin="round"><path d="M428 87.2L428.1 88.3L428.1 89.5L428.1 90.8" stroke="#3cf03c"/><path d="M397.2 72.5L395.9 74.4" stroke="#d824d8"/><path d="M429.3 89L429.1 90L428.8 90.8" stroke="#2020f0"/><path d="M420.7 87.6L421.2 88.2L421.6 88.9L422 89.7L422.4 90.6" stroke="#f04040"/><path d="M404.8 80.4L402.4 83.6L402.4 83.6" stroke="#e8902c"/></g><g class="t" filter="url(#soft)"><path color="#0870df" d="M343.4 76.4l2 .3 2.3-1.4-2 .3z"/><path color="#127cd8" d="M345.4 76.7l2 .5 2 .8 2 .6 2 .2 2.3-1.4-2-.9-2-1-2-.5-2 .3z"/><path color="#1480d6" d="M353.4 78.8l2 .1 2.3-1-2-.5z"/><path color="#118dd2" d="M355.4 78.9l2-.4 2.3-1.2-2 .6z"/><path color="#069fce" d="M357.4 78.5l2-.7 2.3-1.7-2 1.2z"/><path color="#0dadbb" d="M359.4 77.8l2 0 2.3-2.7-2 1z"/><path color="#13b0b6" d="M361.4 77.8l2 1.5 2.3-3.2-2-1z"/><path color="#1ab2b1" d="M375.3 82.1l2-.2 2.4-1.3-2 .3z"/><path color="#2ab6a7" d="M377.3 81.9l2 .9 2 .8 2.4-2.2-2-.4-2-.4z"/><path color="#33b8a1" d="M381.3 83.6l2 .9 2.4-2.9-2-.2z"/><path color="#2ab6a7" d="M383.3 84.5l2 2.1 2.4-3.7-2-1.3z"/><path color="#09abbf" d="M385.3 86.6l2 2.9 2.4-4.1-2-2.5z"/><path color="#0a97d1" d="M387.3 89.5l2 2.4 2.4-3.5-2-3z"/><path color="#1480d6" d="M389.3 91.9l2 1.9 2.4-2.5-2-2.9z"/><path color="#046ce0" d="M391.3 93.8l2 1.7 2.3-1.8-1.9-2.4z"/><path color="#2152d3" d="M393.3 95.5l2 1.5 2.3-1.5-2-1.8z"/><path color="#2c4ac6" d="M395.3 97l2 .7 2 .1 2.3-1.3-2-.1-2-.9z"/><path color="#115bdc" d="M399.3 97.8l2 .7 2 .7 2 .6 2 .7 2.3-1.6-2-.5-2-.7-2-.8-2-.4z"/><path color="#0462e0" d="M407.3 100.5l2 .3 2.3-1.9-2 0z"/><path color="#33b8a1" d="M423.3 97.5l2 .4 2 .8 2.3-.1-2-.6-2-.4z"/><path color="#3dba9b" d="M427.3 98.7l2 0 2.3-.4-2 .3z"/><path color="#babd63" d="M433.3 97.5l2-.5 2.3-.9-2 .5z"/><path color="#d3bb58" d="M435.3 97l2-.1 2.3-.7-2-.1z"/><path color="#dbba55" d="M437.3 96.9l2 .6 2 1 2.3-.5-2-1.1-2-.7z"/><path color="#cbbb5c" d="M441.3 98.5l2 1.5 2.3-.1-2-1.9z"/><path color="#a8be6a" d="M443.3 100l2 1.8 2.3 1-2-2.9z"/><path color="#75bf7e" d="M445.3 101.8l2 2 2.3 1.8-2-2.8z"/><path color="#75bf7e" d="M457.3 107.7l2-.1 2.3-.3-2 .7z"/><path color="#95bf71" d="M459.3 107.6l2 .5 2.3-.9-2 .1z"/><path color="#9fbe6d" d="M461.3 108.1l2 .7 2.3-1.1-2-.5z"/></g><g fill="none" stroke-width="1.05" stroke-linecap="round" stroke-linejoin="round"><path d="M428.1 90.8L428.1 92L428.1 92.8" stroke="#3cf03c"/><path d="M395.9 74.4L394.7 76.3L394.2 77.7" stroke="#d824d8"/><path d="M428.8 90.8L428.5 91.6" stroke="#2020f0"/><path d="M422.4 90.6L422.8 91.6L423.2 92.5L423.6 93.1L424 93.4" stroke="#f04040"/><path d="M402.4 83.6L399.1 84.7L396.6 85.2" stroke="#e8902c"/></g><g class="t" filter="url(#soft)"><path color="#046ce0" d="M341.1 78.5l2 .6 2.3-2.4-2-.3z"/><path color="#0870df" d="M343.1 79.1l2 .4 2.3-2.3-2-.5z"/><path color="#0c74dd" d="M345.1 79.5l2 .5 2 .3 2.3-1.7-2-.6-2-.8z"/><path color="#0f78db" d="M349.1 80.3l2 0 2.3-1.5-2-.2z"/><path color="#1480d6" d="M351.1 80.3l1.9 0 2.4-1.4-2-.1z"/><path color="#118dd2" d="M353 80.3l2-.1 2.4-1.7-2 .4z"/><path color="#079bd0" d="M355 80.2l2 .1 2.4-2.5-2 .7z"/><path color="#06a2cb" d="M357 80.3l2 .7 2.4-3.2-2 0z"/><path color="#069fce" d="M359 81l2 1.6 2.4-3.3-2-1.5z"/><path color="#0e92d2" d="M361 82.6l2 1.3 2.4-2.7-2-1.9z"/><path color="#13b0b6" d="M379 85.6l2 1.5 2.3-2.6-2-.9z"/><path color="#06a8c4" d="M381 87.1l2 2.5 2.3-3-2-2.1z"/><path color="#0a97d1" d="M383 89.6l2 2.5 2.3-2.6-2-2.9z"/><path color="#1480d6" d="M385 92.1l2 1.7 2.3-1.9-2-2.4z"/><path color="#0c74dd" d="M387 93.8l2 1.1 2.3-1.1-2-1.9z"/><path color="#0267e1" d="M389 94.9l2 1.2 2.3-.6-2-1.7z"/><path color="#115bdc" d="M391 96.1l2 1.4 2.3-.5-2-1.5z"/><path color="#2152d3" d="M393 97.5l2 1 2 .5 2.3-1.2-2-.1-2-.7z"/><path color="#115bdc" d="M397 99l2 .6 2 .5 2 .4 2.3-.7-2-.6-2-.7-2-.7z"/><path color="#52bd8f" d="M421 98.1l2 .3 2 .6 2.3-.3-2-.8-2-.4z"/><path color="#5ebe89" d="M425 99l2 .2 2.3-.5-2 0z"/><path color="#80bf7a" d="M427 99.2l2 .1 2.3-1.1-2 .5z"/><path color="#9fbe6d" d="M429 99.3l2-.5 2.3-1.3-2 .7z"/><path color="#c2bc5f" d="M431 98.8l2-.4 2.3-1.4-2 .5z"/><path color="#dbba55" d="M433 98.4l2-.1 2.3-1.4-2 .1z"/><path color="#e3b951" d="M435 98.3l2 .6 2 .8 2.3-1.2-2-1-2-.6z"/><path color="#dbba55" d="M439 99.7l2 1 2.3-.7-2-1.5z"/><path color="#cbbb5c" d="M441 100.7l2 .9 2.3 .2-2-1.8z"/><path color="#babd63" d="M443 101.6l2 .9 2.3 1.3-2-2z"/><path color="#9fbe6d" d="M455 107l2 .8 2.3-.2-2 .1z"/><path color="#a8be6a" d="M457 107.8l2 1 2 1 2.3-1-2-.7-2-.5z"/></g><g fill="none" stroke-width="1.05" stroke-linecap="round" stroke-linejoin="round"><path d="M428.1 92.8L428.1 93.6L428.2 94.4L428.2 95.1" stroke="#3cf03c"/><path d="M394.2 77.7L394 79L393.8 80.2" stroke="#d824d8"/><path d="M428.5 91.6L428.3 92.1L428 92.7" stroke="#2020f0"/><path d="M424 93.4L424.2 93.6L424.5 93.8L424.8 94.3" stroke="#f04040"/><path d="M396.6 85.2L395 85.1L393.4 85.1L391.8 85.1L390.2 85.2" stroke="#e8902c"/></g><g class="t" filter="url(#soft)"><path color="#0462e0" d="M338.7 80.4l2 .8 2 .6 2.4-2.3-2-.4-2-.6z"/><path color="#0267e1" d="M342.7 81.8l2 .1 2.4-1.9-2-.5z"/><path color="#046ce0" d="M344.7 81.9l2 .2 2.4-1.8-2-.3z"/><path color="#0c74dd" d="M346.7 82.1l2 .2 2.4-2-2 0z"/><path color="#127cd8" d="M348.7 82.3l2 .1 2.3-2.1-1.9 0z"/><path color="#1484d4" d="M350.7 82.4l2-.2 2.3-2-2 .1z"/><path color="#118dd2" d="M352.7 82.2l2 .3 2.3-2.2-2-.1z"/><path color="#0e92d2" d="M354.7 82.5l2 .9 2.3-2.4-2-.7z"/><path color="#118dd2" d="M356.7 83.4l2 1.2 2.3-2-2-1.6z"/><path color="#1484d4" d="M358.7 84.6l2 1.1 2.3-1.8-2-1.3z"/><path color="#1480d6" d="M360.7 85.7l2 .6 2 1 2.3-1.6-2-.9-2-.9z"/><path color="#127cd8" d="M364.7 87.3l2 .8 2.3-1.9-2-.5z"/><path color="#1484d4" d="M366.7 88.1l2 .2 2.3-2.5-2 .4z"/><path color="#079bd0" d="M378.7 89.9l2 2 2.3-2.3-2-2.5z"/><path color="#1388d3" d="M380.7 91.9l2 1.6 2.3-1.4-2-2.5z"/><path color="#0f78db" d="M382.7 93.5l2 1.2 2.3-.9-2-1.7z"/><path color="#0c74dd" d="M384.7 94.7l2 .7 2 .7 2.3 0-2-1.2-2-1.1z"/><path color="#046ce0" d="M388.7 96.1l2 1.1 2.3 .3-2-1.4z"/><path color="#0267e1" d="M390.7 97.2l2 1 2 .7 2 .4 2.3 .3-2-.6-2-.5-2-1z"/><path color="#5ebe89" d="M420.7 100.4l2 .3 2.3-1.7-2-.6z"/><path color="#6abe83" d="M422.7 100.7l2 .6 2.3-2.1-2-.2z"/><path color="#75bf7e" d="M424.7 101.3l2 .4 2.3-2.4-2-.1z"/><path color="#8bbf75" d="M426.7 101.7l2-.3 2.3-2.6-2 .5z"/><path color="#b1bd66" d="M428.7 101.4l2-.6 2.3-2.4-2 .4z"/><path color="#cbbb5c" d="M430.7 100.8l2-.4 2.3-2.1-2 .1z"/><path color="#dbba55" d="M432.7 100.4l2 .2 2.3-1.7-2-.6z"/><path color="#e3b951" d="M434.7 100.6l2 .3 2 .7 2.3-.9-2-1-2-.8z"/><path color="#dbba55" d="M438.7 101.6l2 .7 2 .7 2 .9 2.3-.4-2-1-2-.9-2-.9z"/><path color="#d3bb58" d="M444.7 103.9l2 .9 2.3-.4-2-.9z"/><path color="#cbbb5c" d="M446.7 104.8l2 .9 2.3-.1-2-1.2z"/><path color="#c2bc5f" d="M448.7 105.7l2 1 2 1.2 2.3-.9-2-.4-2-1z"/><path color="#babd63" d="M452.7 107.9l2 1 2 1 2.3-1.1-2-1-2-.8z"/><path color="#b1bd66" d="M456.7 109.9l2 1 2.3-1.1-2-1z"/></g><path d="M362.8 83.5L362.9 84.2L363.2 84.8L363.6 85.2L364.1 85.6L364.8 85.9L365.6 86.1L366.6 86.2L367.5 86.2L368.6 86.1L369.7 85.9L370.7 85.6L371.8 85.1L372.8 84.6L373.7 84.1L374.5 83.5L375.2 82.9L375.8 82.3L376.2 81.6L376.4 80.9L376.5 80.2L376.5 65.2L376.4 65.7L376.2 66.3L375.8 66.8L375.2 67.3L374.5 67.8L373.7 68.2L372.8 68.7L371.8 69L370.7 69.3L369.7 69.5L368.6 69.7L367.5 69.7L366.6 69.7L365.6 69.6L364.8 69.4L364.1 69.2L363.6 68.9L363.2 68.5L362.9 68L362.8 67.6z" fill="url(#cyl)"/><path d="M374.1 68L375 67.5L375.6 66.9L376.1 66.3L376.4 65.8L376.5 65.2L376.4 64.7L376 64.2L375.5 63.8L374.8 63.5L374 63.3L373 63.1L371.9 63.1L370.7 63.2L369.6 63.3L368.4 63.6L367.2 63.9L366.1 64.3L365.2 64.8L364.4 65.4L363.7 65.9L363.2 66.5L362.9 67.1L362.8 67.6L362.9 68.1L363.3 68.6L363.8 69L364.5 69.3L365.3 69.6L366.3 69.7L367.4 69.7L368.6 69.7L369.8 69.5L371 69.2L372.1 68.9L373.2 68.5z" fill="url(#cyt)" stroke="#181818" stroke-width=".8"/><g fill="none" stroke-width="1.05" stroke-linecap="round" stroke-linejoin="round"><path d="M428.2 95.1L427.9 96.2" stroke="#3cf03c"/><path d="M393.8 80.2L393.6 81.4L393.9 82.2L394.3 83" stroke="#d824d8"/><path d="M428 92.7L427.7 93.4L427.4 94.3" stroke="#2020f0"/><path d="M424.8 94.3L425.1 94.9L425.3 95.5L425.6 96.1L425.9 97.1" stroke="#f04040"/><path d="M390.2 85.2L388.5 85.3L386.9 85.5L385.2 85.9" stroke="#e8902c"/></g><g class="t" filter="url(#soft)"><path color="#2152d3" d="M336.4 82.2l2 .9 2 .5 2.3-1.8-2-.6-2-.8z"/><path color="#115bdc" d="M340.4 83.6l2 0 2.3-1.7-2-.1z"/><path color="#0267e1" d="M342.4 83.6l2 .1 2.3-1.6-2-.2z"/><path color="#0870df" d="M344.4 83.7l2 .3 2.3-1.7-2-.2z"/><path color="#0c74dd" d="M346.4 84l2 .2 2.3-1.8-2-.1z"/><path color="#127cd8" d="M348.4 84.2l2-.1 2.3-1.9-2 .2z"/><path color="#1484d4" d="M350.4 84.1l2 .6 2 .8 2 .6 2.3-1.5-2-1.2-2-.9-2-.3z"/><path color="#1480d6" d="M356.4 86.1l2 .6 2 .7 2 1.2 2.3-1.3-2-1-2-.6-2-1.1z"/><path color="#127cd8" d="M362.4 88.6l2 1.2 2.3-1.7-2-.8z"/><path color="#0f78db" d="M364.4 89.8l2 .8 2.3-2.3-2-.2z"/><path color="#1480d6" d="M366.4 90.6l2 .6 2.3-3.2-2 .3z"/><path color="#1480d6" d="M378.4 94l2 .8 2.3-1.3-2-1.6z"/><path color="#127cd8" d="M380.4 94.8l2 .6 2 .6 2 .3 2 1 2.3-.1-2-1.1-2-.7-2-.7-2-1.2z"/><path color="#0f78db" d="M388.4 97.3l2 1 2 .7 2 .3 2.3 0-2-.4-2-.7-2-1z"/><path color="#47bb95" d="M418.4 102.5l2 .4 2 1 2 .8 2.3-3-2-.4-2-.6-2-.3z"/><path color="#5ebe89" d="M424.4 104.7l2-.3 2.3-3-2 .3z"/><path color="#8bbf75" d="M426.4 104.4l2-.6 2.3-3-2 .6z"/><path color="#a8be6a" d="M428.4 103.8l2-.6 2.3-2.8-2 .4z"/><path color="#c2bc5f" d="M430.4 103.2l2-.3 2.3-2.3-2-.2z"/><path color="#d3bb58" d="M432.4 102.9l2-.2 2.3-1.8-2-.3z"/><path color="#e3b951" d="M434.4 102.7l2 .3 2 .8 2 .8 2.3-1.6-2-.7-2-.7-2-.7z"/><path color="#dbba55" d="M440.4 104.6l2 1 2 .8 2 .5 2.3-1.2-2-.9-2-.9-2-.9z"/><path color="#d3bb58" d="M446.4 106.9l2 1.2 2.3-1.4-2-1z"/><path color="#cbbb5c" d="M448.4 108.1l2 1 2.3-1.2-2-1.2z"/><path color="#c2bc5f" d="M450.4 109.1l2 1 2.3-1.2-2-1z"/><path color="#babd63" d="M452.4 110.1l2 1 2.3-1.2-2-1z"/><path color="#b1bd66" d="M454.4 111.1l2 .8 2.3-1-2-1z"/></g><g fill="none" stroke-width="1.05" stroke-linecap="round" stroke-linejoin="round"><path d="M427.9 96.2L427.6 97.5L427.3 98.9L427.5 100" stroke="#3cf03c"/><path d="M394.3 83L394.6 83.8L395 84.6L395.4 85.4L395.8 86.2" stroke="#d824d8"/><path d="M427.4 94.3L427.1 95.5L426.8 96.7" stroke="#2020f0"/><path d="M425.9 97.1L426 98.2L426.1 99.4" stroke="#f04040"/><path d="M385.2 85.9L383.5 86.4" stroke="#e8902c"/></g><g class="t" filter="url(#soft)"><path color="#2c4ac6" d="M334.1 84.1l2 .3 2.3-1.3-2-.9z"/><path color="#2152d3" d="M336.1 84.4l2 0 2.3-.8-2-.5z"/><path color="#115bdc" d="M338.1 84.4l2 .1 2.3-.9-2 0z"/><path color="#0267e1" d="M340.1 84.5l2 .1 2.3-.9-2-.1z"/><path color="#0870df" d="M342.1 84.6l2 .4 2.3-1-2-.3z"/><path color="#0c74dd" d="M344.1 85l2 .5 2.3-1.3-2-.2z"/><path color="#0f78db" d="M346.1 85.5l2 .4 2.3-1.8-2 .1z"/><path color="#127cd8" d="M348.1 85.9l2 .8 2 .8 2 .4 2.3-1.8-2-.6-2-.8-2-.6z"/><path color="#1480d6" d="M354.1 87.9l2 .3 2 .8 2.3-1.6-2-.7-2-.6z"/><path color="#127cd8" d="M358.1 89l2 1.5 2.3-1.9-2-1.2z"/><path color="#0c74dd" d="M360.1 90.5l2 1.5 2.3-2.2-2-1.2z"/><path color="#0870df" d="M362.1 92l2 .8 2 .7 2 1 2 .8 2.3-3-2-.4-2-.7-2-.6-2-.8z"/><path color="#1480d6" d="M380.1 97l2 .1 2.3-1.1-2-.6z"/><path color="#1484d4" d="M382.1 97.1l2 .2 2 1.2 2.3-1.2-2-1-2-.3z"/><path color="#1480d6" d="M386.1 98.5l2 1.1 2 .9 2 .5 2.3-1.7-2-.3-2-.7-2-1z"/><path color="#1388d3" d="M392.1 101l2-.4 2.3-1.3-2 0z"/><path color="#0a97d1" d="M394.1 100.6l2-.8 2.3-.8-2 .3z"/><path color="#06a6c7" d="M396.1 99.8l2-.6 2.3-.7-2 .5z"/><path color="#0dadbb" d="M398.1 99.2l2-.2 2.3-.9-2 .4z"/><path color="#21b4ac" d="M400.1 99l2 .2 2.3-1.2-2 .1z"/><path color="#2ab6a7" d="M402.1 99.2l2 .4 2 1 2.3-1.2-2-.9-2-.5z"/><path color="#21b4ac" d="M406.1 100.6l2 1.1 2.3-1.5-2-.8z"/><path color="#1ab2b1" d="M408.1 101.7l2 1.3 2 .9 2 .3 2.3-1.8-2-.6-2-.6-2-1z"/><path color="#33b8a1" d="M416.1 104.3l2 .4 2 1.1 2.3-1.9-2-1-2-.4z"/><path color="#2ab6a7" d="M420.1 105.8l2 .7 2.3-1.8-2-.8z"/><path color="#33b8a1" d="M422.1 106.5l2 .2 2.3-2.3-2 .3z"/><path color="#52bd8f" d="M424.1 106.7l2-.2 2.3-2.7-2 .6z"/><path color="#80bf7a" d="M426.1 106.5l2-.3 2.3-3-2 .6z"/><path color="#9fbe6d" d="M428.1 106.2l2-.5 2.3-2.8-2 .3z"/><path color="#babd63" d="M430.1 105.7l2-.1 2.3-2.9-2 .2z"/><path color="#cbbb5c" d="M432.1 105.6l2 .2 2.3-2.8-2-.3z"/><path color="#d3bb58" d="M434.1 105.8l2 .7 2 .4 2 .5 2 .6 2 .5 2 .8 2.3-1.2-2-1.2-2-.5-2-.8-2-1-2-.8-2-.8z"/><path color="#cbbb5c" d="M446.1 109.3l2 1 2.3-1.2-2-1z"/><path color="#c2bc5f" d="M448.1 110.3l2 .9 2 .8 2.3-.9-2-1-2-1z"/><path color="#babd63" d="M452.1 112l2 1.4 2.3-1.5-2-.8z"/></g><g fill="none" stroke-width="1.05" stroke-linecap="round" stroke-linejoin="round"><path d="M427.5 100L427.6 101.1L427.7 102.1L427.8 103" stroke="#3cf03c"/><path d="M395.8 86.2L396.3 86.9L396.8 87.4L397.3 88L397.8 88.5L398.3 89" stroke="#d824d8"/><path d="M426.8 96.7L426.5 97.7L426.2 98.7" stroke="#2020f0"/><path d="M426.1 99.4L426.2 100.5L426.3 101.5L426.6 102.4" stroke="#f04040"/><path d="M383.5 86.4L379.9 89.6L379.9 89.6" stroke="#e8902c"/></g><g class="t" filter="url(#soft)"><path color="#2c4ac6" d="M331.8 85.1l2 0 2.3-.7-2-.3z"/><path color="#115bdc" d="M333.8 85.1l2-.4 2.3-.3-2 0z"/><path color="#0267e1" d="M335.8 84.7l2 .2 2.3-.4-2-.1z"/><path color="#0870df" d="M337.8 84.9l2 .4 2.3-.7-2-.1z"/><path color="#0c74dd" d="M339.8 85.3l2 .8 2 .9 2 .8 2 .8 2 .6 2 .7 2.3-2-2-.4-2-.8-2-.8-2-.4-2-.5-2-.4z"/><path color="#0f78db" d="M351.8 89.9l2 .3 2.3-2-2-.3z"/><path color="#127cd8" d="M353.8 90.2l2 .8 2.3-2-2-.8z"/><path color="#0c74dd" d="M355.8 91l2 1.3 2.3-1.8-2-1.5z"/><path color="#046ce0" d="M357.8 92.3l2 1.4 2.3-1.7-2-1.5z"/><path color="#0267e1" d="M359.8 93.7l2 .8 2 .6 2.3-1.6-2-.7-2-.8z"/><path color="#0462e0" d="M363.8 95.1l2 1.2 2 1.1 2 0 2.3-2.3-2 .2-2-.8-2-1z"/><path color="#1484d4" d="M379.8 98.8l2 .3 2 1.2 2.3-1.8-2-1.2-2-.2z"/><path color="#127cd8" d="M383.8 100.3l2 1.2 2.3-1.9-2-1.1z"/><path color="#0f78db" d="M385.8 101.5l2 1 2 .6 2.3-2.1-2-.5-2-.9z"/><path color="#1480d6" d="M389.8 103.1l2-.2 2.3-2.3-2 .4z"/><path color="#0e92d2" d="M391.8 102.9l2-.7 2.3-2.4-2 .8z"/><path color="#06a2cb" d="M393.8 102.2l2-.6 2.3-2.4-2 .6z"/><path color="#09abbf" d="M395.8 101.6l2-.2 2.3-2.4-2 .2z"/><path color="#1ab2b1" d="M397.8 101.4l2 .2 2.3-2.4-2-.2z"/><path color="#21b4ac" d="M399.8 101.6l2 .4 2 .7 2.3-2.1-2-1-2-.4z"/><path color="#1ab2b1" d="M403.8 102.7l2 1 2.3-2-2-1.1z"/><path color="#13b0b6" d="M405.8 103.7l2 1 2.3-1.7-2-1.3z"/><path color="#0dadbb" d="M407.8 104.7l2 .7 2.3-1.5-2-.9z"/><path color="#21b4ac" d="M413.8 105.9l2 .6 2 .8 2 .6 2.3-1.4-2-.7-2-1.1-2-.4z"/><path color="#2ab6a7" d="M419.8 107.9l2 .6 2.3-1.8-2-.2z"/><path color="#33b8a1" d="M421.8 108.5l2 .4 2.3-2.4-2 .2z"/><path color="#47bb95" d="M423.8 108.9l2-.1 2.3-2.6-2 .3z"/><path color="#75bf7e" d="M425.8 108.8l2-.6 2.3-2.5-2 .5z"/><path color="#95bf71" d="M427.8 108.2l2 0 2.3-2.6-2 .1z"/><path color="#9fbe6d" d="M429.8 108.2l2 .5 2.3-2.9-2-.2z"/><path color="#a8be6a" d="M431.8 108.7l2 .4 2.3-2.6-2-.7z"/><path color="#b1bd66" d="M433.8 109.1l2 .1 2.3-2.3-2-.4z"/><path color="#babd63" d="M435.8 109.2l2 .1 2.3-1.9-2-.5z"/><path color="#c2bc5f" d="M437.8 109.3l2 .3 2.3-1.6-2-.6z"/><path color="#cbbb5c" d="M439.8 109.6l2 1 2.3-2.1-2-.5z"/><path color="#c2bc5f" d="M441.8 110.6l2 1.1 2 0 2.3-1.4-2-1-2-.8z"/><path color="#cbbb5c" d="M445.8 111.7l2 .5 2.3-1-2-.9z"/><path color="#c2bc5f" d="M447.8 112.2l2 1.4 2.3-1.6-2-.8z"/><path color="#b1bd66" d="M449.8 113.6l2 1.5 2.3-1.7-2-1.4z"/></g><g fill="none" stroke-width="1.05" stroke-linecap="round" stroke-linejoin="round"><path d="M427.8 103L428 103.9L428.1 104.8" stroke="#3cf03c"/><path d="M398.3 89L398.8 89.6L399.4 90.3L400 91L400.5 91.7L401.1 92.4L401.7 93.2" stroke="#d824d8"/><path d="M426.2 98.7L425.9 99.5L425.6 100.4" stroke="#2020f0"/><path d="M426.6 102.4L426.8 103.1L427.1 103.8L427.3 104.5L427.5 105.2" stroke="#f04040"/><path d="M379.9 89.6L378.2 91.7L378.4 92.1" stroke="#e8902c"/></g><g class="t" filter="url(#soft)"><path color="#2152d3" d="M329.5 86l2-.1 2.3-.8-2 0z"/><path color="#0267e1" d="M331.5 85.9l2-.6 2.3-.6-2 .4z"/><path color="#0c74dd" d="M333.5 85.3l2 .2 2.3-.6-2-.2z"/><path color="#0f78db" d="M335.5 85.5l2 .6 2 1 2.3-1-2-.8-2-.4z"/><path color="#0c74dd" d="M339.5 87.1l2 1.1 2.3-1.2-2-.9z"/><path color="#0870df" d="M341.5 88.2l2 1.3 2 .8 2.3-1.7-2-.8-2-.8z"/><path color="#046ce0" d="M345.5 90.3l2 1 2 .7 2.3-2.1-2-.7-2-.6z"/><path color="#0870df" d="M349.5 92l2 .2 2.3-2-2-.3z"/><path color="#0c74dd" d="M351.5 92.2l2 .4 2.3-1.6-2-.8z"/><path color="#0870df" d="M353.5 92.6l2 .9 2.3-1.2-2-1.3z"/><path color="#046ce0" d="M355.5 93.5l2 1.2 2.3-1-2-1.4z"/><path color="#0267e1" d="M357.5 94.7l2 1 2.3-1.2-2-.8z"/><path color="#0462e0" d="M359.5 95.7l2 1 2.3-1.6-2-.6z"/><path color="#115bdc" d="M361.5 96.7l2 1.4 2.3-1.8-2-1.2z"/><path color="#2152d3" d="M363.5 98.1l2 1.1 2 0 2.3-1.8-2 0-2-1.1z"/><path color="#0267e1" d="M367.5 99.2l2 0 2.3-2-2 .2z"/><path color="#127cd8" d="M377.5 100.8l2 .4 2 1 2.3-1.9-2-1.2-2-.3z"/><path color="#0f78db" d="M381.5 102.2l2 1.1 2.3-1.8-2-1.2z"/><path color="#0c74dd" d="M383.5 103.3l2 .9 2 .4 2.3-1.5-2-.6-2-1z"/><path color="#0f78db" d="M387.5 104.6l2 .2 2.3-1.9-2 .2z"/><path color="#1484d4" d="M389.5 104.8l2-.3 2.3-2.3-2 .7z"/><path color="#0a97d1" d="M391.5 104.5l2-.3 2.3-2.6-2 .6z"/><path color="#06a2cb" d="M393.5 104.2l2-.3 2.3-2.5-2 .2z"/><path color="#06a8c4" d="M395.5 103.9l2 .3 2.3-2.6-2-.2z"/><path color="#09abbf" d="M397.5 104.2l2 .3 2.3-2.5-2-.4z"/><path color="#0dadbb" d="M399.5 104.5l2 .5 2 .5 2 .3 2 .3 2.3-.7-2-.7-2-1-2-1-2-.7z"/><path color="#13b0b6" d="M407.5 106.1l2 .6 2.3-1.1-2-.2z"/><path color="#1ab2b1" d="M409.5 106.7l2 .5 2.3-1.3-2-.3z"/><path color="#21b4ac" d="M411.5 107.2l2 .8 2 .8 2 .6 2 .7 2 .4 2.3-1.6-2-.4-2-.6-2-.6-2-.8-2-.6z"/><path color="#33b8a1" d="M421.5 110.5l2 0 2.3-1.7-2 .1z"/><path color="#52bd8f" d="M423.5 110.5l2-.2 2.3-2.1-2 .6z"/><path color="#75bf7e" d="M425.5 110.3l2 .1 2.3-2.2-2 0z"/><path color="#80bf7a" d="M427.5 110.4l2 .5 2 .9 2.3-2.7-2-.4-2-.5z"/><path color="#8bbf75" d="M431.5 111.8l2-.1 2.3-2.5-2-.1z"/><path color="#9fbe6d" d="M433.5 111.7l2 .3 2.3-2.7-2-.1z"/><path color="#b1bd66" d="M435.5 112l2-.1 2.3-2.3-2-.3z"/><path color="#babd63" d="M437.5 111.9l2 .7 2.3-2-2-1z"/><path color="#b1bd66" d="M439.5 112.6l2 1.1 2 .4 2.3-2.4-2 0-2-1.1z"/><path color="#babd63" d="M443.5 114.1l2 .1 2 1.1 2.3-1.7-2-1.4-2-.5z"/><path color="#a8be6a" d="M447.5 115.3l2 1.5 2.3-1.7-2-1.5z"/></g><path d="M409.6 105.2L409.7 105.7L409.9 106.1L410.3 106.3L410.9 106.6L411.6 106.8L412.4 106.9L413.3 106.9L414.3 106.9L415.3 106.8L416.4 106.6L417.5 106.3L418.5 105.9L419.5 105.5L420.4 105L421.2 104.4L421.9 103.8L422.5 103.2L422.9 102.6L423.2 102L423.2 101.5L423.2 90.3L423.2 90.8L422.9 91.4L422.5 91.9L421.9 92.4L421.2 92.9L420.4 93.3L419.5 93.7L418.5 94.1L417.5 94.4L416.4 94.6L415.3 94.8L414.3 94.8L413.3 94.8L412.4 94.7L411.6 94.5L410.9 94.3L410.3 93.9L409.9 93.6L409.7 93.1L409.6 92.7z" fill="url(#cyl)"/><path d="M420.9 93.1L421.7 92.6L422.4 92L422.9 91.4L423.2 90.8L423.2 90.3L423.1 89.8L422.8 89.3L422.3 88.9L421.6 88.6L420.7 88.4L419.7 88.2L418.6 88.2L417.5 88.2L416.3 88.4L415.1 88.7L414 89L412.9 89.4L411.9 89.9L411.1 90.4L410.4 91L409.9 91.6L409.7 92.2L409.6 92.7L409.7 93.2L410 93.7L410.5 94.1L411.2 94.4L412.1 94.6L413.1 94.8L414.2 94.8L415.3 94.8L416.5 94.6L417.7 94.3L418.8 94L419.9 93.6z" fill="url(#cyt)" stroke="#181818" stroke-width=".8"/><g fill="none" stroke-width="1.05" stroke-linecap="round" stroke-linejoin="round"><path d="M428.1 104.8L428.2 105.7L428.4 106.6L428.5 108" stroke="#3cf03c"/><path d="M401.7 93.2L402.4 93.9L403 94.6L403.7 95.4L404.4 96.1L405 96.8L405.7 97.6L406.4 98.5L407 99.4" stroke="#d824d8"/><path d="M425.6 100.4L425.6 101.2L425.6 102.1" stroke="#2020f0"/><path d="M427.5 105.2L427.8 106L428 106.9L428.1 108.2" stroke="#f04040"/><path d="M378.4 92.1L378.7 92.7L378.9 93.3L379.3 94.2L379.9 94.9" stroke="#e8902c"/></g><g class="t" filter="url(#soft)"><path color="#2152d3" d="M327.2 87.8l2-.3 2.3-1.6-2 .1z"/><path color="#046ce0" d="M329.2 87.5l2-1 2.3-1.2-2 .6z"/><path color="#0f78db" d="M331.2 86.5l2 .1 2.3-1.1-2-.2z"/><path color="#127cd8" d="M333.2 86.6l2 .8 2 .9 2.3-1.2-2-1-2-.6z"/><path color="#0f78db" d="M337.2 88.3l2 1.4 2.3-1.5-2-1.1z"/><path color="#0870df" d="M339.2 89.7l2 1.5 2.3-1.7-2-1.3z"/><path color="#0267e1" d="M341.2 91.2l2 1.2 2.3-2.1-2-.8z"/><path color="#0462e0" d="M343.2 92.4l2 1 2 .7 2.3-2.1-2-.7-2-1z"/><path color="#0267e1" d="M347.2 94.1l2 0 2.3-1.9-2-.2z"/><path color="#046ce0" d="M349.2 94.1l2 .1 2.3-1.6-2-.4z"/><path color="#0870df" d="M351.2 94.2l2 .6 2.3-1.3-2-.9z"/><path color="#046ce0" d="M353.2 94.8l2 1.1 2.3-1.2-2-1.2z"/><path color="#0267e1" d="M355.2 95.9l2 1.3 2.3-1.5-2-1z"/><path color="#0462e0" d="M357.2 97.2l2 1.5 2.3-2-2-1z"/><path color="#2152d3" d="M359.2 98.7l2 1.1 2.3-1.7-2-1.4z"/><path color="#2c4ac6" d="M361.2 99.8l2 .6 2.3-1.2-2-1.1z"/><path color="#2152d3" d="M363.2 100.4l2 0 2.3-1.2-2 0z"/><path color="#0462e0" d="M365.2 100.4l2 .3 2 .9 2 .7 2.3-1.8-2-.6-2-.7-2 0z"/><path color="#0c74dd" d="M375.2 102.3l2 .6 2 .9 2 1 2.3-1.5-2-1.1-2-1-2-.4z"/><path color="#0870df" d="M381.2 104.8l2 .6 2 .3 2.3-1.1-2-.4-2-.9z"/><path color="#0f78db" d="M385.2 105.7l2 .3 2.3-1.2-2-.2z"/><path color="#1480d6" d="M387.2 106l2 .3 2.3-1.8-2 .3z"/><path color="#1388d3" d="M389.2 106.3l2 .1 2.3-2.2-2 .3z"/><path color="#0e92d2" d="M391.2 106.4l2 0 2.3-2.5-2 .3z"/><path color="#079bd0" d="M393.2 106.4l2 .4 2.3-2.6-2-.3z"/><path color="#069fce" d="M395.2 106.8l2 .5 2.3-2.8-2-.3z"/><path color="#06a2cb" d="M397.2 107.3l2 .1 2.3-2.4-2-.5z"/><path color="#06a8c4" d="M399.2 107.4l2-.2 2.3-1.7-2-.5z"/><path color="#0dadbb" d="M401.2 107.2l2-.4 2.3-1-2-.3z"/><path color="#1ab2b1" d="M403.2 106.8l2 .1 2 .8 2.3-1-2-.6-2-.3z"/><path color="#21b4ac" d="M407.2 107.7l2 .7 2 .7 2.3-1.1-2-.8-2-.5z"/><path color="#1ab2b1" d="M411.2 109.1l2 1.1 2 .7 2 .4 2.3-1.2-2-.7-2-.6-2-.8z"/><path color="#21b4ac" d="M417.2 111.3l2 .4 2.3-1.2-2-.4z"/><path color="#33b8a1" d="M419.2 111.7l2 .1 2.3-1.3-2 0z"/><path color="#47bb95" d="M421.2 111.8l2 .2 2.3-1.7-2 .2z"/><path color="#52bd8f" d="M423.2 112l2 .4 2.3-2-2-.1z"/><path color="#5ebe89" d="M425.2 112.4l2 .4 2 1.9 2 .5 2.3-3.5-2 .1-2-.9-2-.5z"/><path color="#6abe83" d="M431.2 115.2l2-.4 2.3-2.8-2-.3z"/><path color="#8bbf75" d="M433.2 114.8l2-.1 2.3-2.8-2 .1z"/><path color="#9fbe6d" d="M435.2 114.7l2 .1 2 .8 2 .6 2 .6 2.3-2.6-2-.1-2-.4-2-1.1-2-.7z"/><path color="#a8be6a" d="M443.2 116.8l2 .3 2.3-1.8-2-1.1z"/><path color="#9fbe6d" d="M445.2 117.1l2 1.6 2.3-1.9-2-1.5z"/></g><g fill="none" stroke-width="1.05" stroke-linecap="round" stroke-linejoin="round"><path d="M428.5 108L428.7 109.6L428.9 111.3L429 112.9" stroke="#3cf03c"/><path d="M407 99.4L407.7 100.3L408.4 101L409 101.8L409.7 102.5L410.3 103.2L410.9 103.9L411.4 104.7" stroke="#d824d8"/><path d="M425.6 102.1L425.7 103.3L425.8 104.5L425.9 105.7" stroke="#2020f0"/><path d="M428.1 108.2L428.3 109.8L428.5 111.4L428.6 113.2" stroke="#f04040"/><path d="M379.9 94.9L380.5 95.4L381.1 96L381.7 96.1L382.3 96.3L382.9 96.3L383.7 96.3L384.4 96.4L385.2 96.6L386 96.8" stroke="#e8902c"/></g><g class="t" filter="url(#soft)"><path color="#2c4ac6" d="M324.9 89.6l2-.2 2.3-1.9-2 .3z"/><path color="#0267e1" d="M326.9 89.4l2-1 2.3-1.9-2 1z"/><path color="#0f78db" d="M328.9 88.4l2 0 2 .8 2 .9 2.3-1.8-2-.9-2-.8-2-.1z"/><path color="#0c74dd" d="M334.9 90.1l2 1.3 2.3-1.7-2-1.4z"/><path color="#046ce0" d="M336.9 91.4l2 1.4 2.3-1.6-2-1.5z"/><path color="#0462e0" d="M338.9 92.8l2 1.4 2.3-1.8-2-1.2z"/><path color="#2152d3" d="M340.9 94.2l2 1.1 2 .5 2.3-1.7-2-.7-2-1z"/><path color="#115bdc" d="M344.9 95.8l2 0 2.3-1.7-2 0z"/><path color="#0267e1" d="M346.9 95.8l2 .1 2.3-1.7-2-.1z"/><path color="#046ce0" d="M348.9 95.9l2 .6 2 1 2.3-1.6-2-1.1-2-.6z"/><path color="#0462e0" d="M352.9 97.5l2 1.3 2.3-1.6-2-1.3z"/><path color="#2152d3" d="M354.9 98.8l2 1.3 2.3-1.4-2-1.5z"/><path color="#2c4ac6" d="M356.9 100.1l2 1 2 .5 2.3-1.2-2-.6-2-1.1z"/><path color="#2152d3" d="M360.9 101.6l2 .2 2.3-1.4-2 0z"/><path color="#115bdc" d="M362.9 101.8l2 .3 2.3-1.4-2-.3z"/><path color="#0462e0" d="M364.9 102.1l2 .8 2 .5 2.3-1.1-2-.7-2-.9z"/><path color="#0c74dd" d="M372.9 103.4l2 .6 2 .8 2 .8 2 .5 2.3-.7-2-.6-2-1-2-.9-2-.6z"/><path color="#0f78db" d="M380.9 106.1l2 .3 2.3-.7-2-.3z"/><path color="#127cd8" d="M382.9 106.4l2 .5 2.3-.9-2-.3z"/><path color="#1480d6" d="M384.9 106.9l2 .5 2.3-1.1-2-.3z"/><path color="#1484d4" d="M386.9 107.4l2 .4 2.3-1.4-2-.1z"/><path color="#1388d3" d="M388.9 107.8l2 .5 2.3-1.9-2 0z"/><path color="#118dd2" d="M390.9 108.3l2 1.1 2 .9 2.3-3-2-.5-2-.4z"/><path color="#0e92d2" d="M394.9 110.3l2-.1 2.3-2.8-2-.1z"/><path color="#069fce" d="M396.9 110.2l2-.8 2.3-2.2-2 .2z"/><path color="#09abbf" d="M398.9 109.4l2-.6 2.3-2-2 .4z"/><path color="#13b0b6" d="M400.9 108.8l2-.2 2.3-1.7-2-.1z"/><path color="#1ab2b1" d="M402.9 108.6l2 .9 2 1 2 .9 2.3-2.3-2-.7-2-.7-2-.8z"/><path color="#13b0b6" d="M408.9 111.4l2 .5 2 .5 2.3-1.5-2-.7-2-1.1z"/><path color="#1ab2b1" d="M412.9 112.4l2 .6 2.3-1.7-2-.4z"/><path color="#21b4ac" d="M414.9 113l2 .5 2.3-1.8-2-.4z"/><path color="#2ab6a7" d="M416.9 113.5l2 .2 2.3-1.9-2-.1z"/><path color="#33b8a1" d="M418.9 113.7l2 .3 2.3-2-2-.2z"/><path color="#47bb95" d="M420.9 114l2 .3 2.3-1.9-2-.4z"/><path color="#52bd8f" d="M422.9 114.3l2 .4 2.3-1.9-2-.4z"/><path color="#47bb95" d="M424.9 114.7l2 1.1 2.3-1.1-2-1.9z"/><path color="#33b8a1" d="M426.9 115.8l2 1.3 2.3-1.9-2-.5z"/><path color="#3dba9b" d="M428.9 117.1l2 .3 2.3-2.6-2 .4z"/><path color="#5ebe89" d="M430.9 117.4l2 0 2.3-2.7-2 .1z"/><path color="#75bf7e" d="M432.9 117.4l2-.2 2.3-2.4-2-.1z"/><path color="#80bf7a" d="M434.9 117.2l2 .6 2 .8 2 .6 2.3-2.4-2-.6-2-.6-2-.8z"/><path color="#8bbf75" d="M440.9 119.2l2 .4 2 .9 2.3-1.8-2-1.6-2-.3z"/></g><g fill="none" stroke-width="1.05" stroke-linecap="round" stroke-linejoin="round"><path d="M429 112.9L429.2 114.3L429.2 115.4L429.3 116.2" stroke="#3cf03c"/><path d="M411.4 104.7L412 105.5L412.6 106.3L413.2 107.2L413.8 108L414.4 108.9L414.9 109.6" stroke="#d824d8"/><path d="M425.9 105.7L425.9 107L426 108.2" stroke="#2020f0"/><path d="M428.6 113.2L428.8 114.6L428.9 115.8" stroke="#f04040"/><path d="M386 96.8L386.8 97.1L387.5 97.5L388.3 97.8L389.1 98.1L390 98.5L390.8 98.9L391.7 99.2L392.6 99.5L393.4 99.8L394.3 100.2L395.1 100.6L395.9 101L396.8 101.6L397.6 102.3L398.4 103.2L399.2 104.1" stroke="#e8902c"/></g><g class="t" filter="url(#soft)"><path color="#353dac" d="M322.6 91.2l2 0 2.3-1.8-2 .2z"/><path color="#115bdc" d="M324.6 91.2l2-.6 2.3-2.2-2 1z"/><path color="#046ce0" d="M326.6 90.6l2 .2 2.3-2.4-2 0z"/><path color="#0870df" d="M328.6 90.8l2 .7 2 .7 2.3-2.1-2-.9-2-.8z"/><path color="#046ce0" d="M332.6 92.2l2 .9 2.3-1.7-2-1.3z"/><path color="#0267e1" d="M334.6 93.1l2 1 2.3-1.3-2-1.4z"/><path color="#115bdc" d="M336.6 94.1l2 1.2 2.3-1.1-2-1.4z"/><path color="#2152d3" d="M338.6 95.3l2 1.4 2.3-1.4-2-1.1z"/><path color="#2c4ac6" d="M340.6 96.7l2 .6 2.3-1.5-2-.5z"/><path color="#2152d3" d="M342.6 97.3l2 0 2.3-1.5-2 0z"/><path color="#0462e0" d="M344.6 97.3l2 .2 2.3-1.6-2-.1z"/><path color="#0267e1" d="M346.6 97.5l2 .6 2 1 2.3-1.6-2-1-2-.6z"/><path color="#0462e0" d="M350.6 99.1l2 1.3 2.3-1.6-2-1.3z"/><path color="#2152d3" d="M352.6 100.4l2 1.2 2.3-1.5-2-1.3z"/><path color="#2c4ac6" d="M354.6 101.6l2 1 2.3-1.5-2-1z"/><path color="#3243b9" d="M356.6 102.6l2 .5 2.3-1.5-2-.5z"/><path color="#2c4ac6" d="M358.6 103.1l2 .3 2.3-1.6-2-.2z"/><path color="#115bdc" d="M360.6 103.4l2 .2 2.3-1.5-2-.3z"/><path color="#0462e0" d="M362.6 103.6l2 .4 2 .3 2.3-.9-2-.5-2-.8z"/><path color="#046ce0" d="M366.6 104.3l2 .3 2.3-1.3-2 .1z"/><path color="#127cd8" d="M374.6 105.5l2 .5 2 .5 2.3-.4-2-.5-2-.8z"/><path color="#1480d6" d="M378.6 106.5l2 .5 2 .7 2.3-.8-2-.5-2-.3z"/><path color="#1484d4" d="M382.6 107.7l2 .9 2 .6 2 1 2.3-1.9-2-.5-2-.4-2-.5z"/><path color="#1480d6" d="M388.6 110.2l2 1.4 2.3-2.2-2-1.1z"/><path color="#127cd8" d="M390.6 111.6l2 1 2.3-2.3-2-.9z"/><path color="#1480d6" d="M392.6 112.6l2-.3 2.3-2.1-2 .1z"/><path color="#0e92d2" d="M394.6 112.3l2-1 2.3-1.9-2 .8z"/><path color="#06a2cb" d="M396.6 111.3l2-.6 2.3-1.9-2 .6z"/><path color="#0dadbb" d="M398.6 110.7l2 0 2.3-2.1-2 .2z"/><path color="#13b0b6" d="M400.6 110.7l2 .5 2.3-1.7-2-.9z"/><path color="#0dadbb" d="M402.6 111.2l2 1 2 .8 2 .7 2 .7 2 .9 2 1.3 2 1 2 .3 2.3-3.9-2-.3-2-.2-2-.5-2-.6-2-.5-2-.5-2-.9-2-1z"/><path color="#1ab2b1" d="M418.6 117.9l2-.3 2.3-3.3-2-.3z"/><path color="#2ab6a7" d="M420.6 117.6l2 .5 2-.1 2 .9 2 .8 2.3-2.3-2-.3-2-1.3-2-1.1-2-.4z"/><path color="#33b8a1" d="M428.6 119.7l2 .1 2.3-2.4-2 0z"/><path color="#47bb95" d="M430.6 119.8l1.9 .4 2.4-3-2 .2z"/><path color="#52bd8f" d="M432.5 120.2l2 .2 2.4-2.6-2-.6z"/><path color="#5ebe89" d="M434.5 120.4l2 .7 2 .3 2.4-2.2-2-.6-2-.8z"/><path color="#6abe83" d="M438.5 121.4l2 .3 2.4-2.1-2-.4z"/><path color="#75bf7e" d="M440.5 121.7l2 .3 2.4-1.5-2-.9z"/></g><g fill="none" stroke-width="1.05" stroke-linecap="round" stroke-linejoin="round"><path d="M429.3 116.2L429.4 117L429.4 117.7" stroke="#3cf03c"/><path d="M414.9 109.6L415.5 110.2L416.1 110.9L416.7 111.5L417.3 112.2L417.9 113L418.6 113.9L419.2 114.9" stroke="#d824d8"/><path d="M426 108.2L426.1 109.1L426.2 109.9L426.4 110.8" stroke="#2020f0"/><path d="M428.9 115.8L429 116.7L429.1 117.4L429.1 118" stroke="#f04040"/><path d="M399.2 104.1L400 105L400.9 105.9L401.7 106.7L402.5 107.6L403.3 108.4L404.1 109.2L405 109.9L405.8 110.6L406.6 111.2L407.4 111.8L408.2 112.4L408.9 112.7L409.7 113.1L410.4 113.5" stroke="#e8902c"/></g><g class="t" filter="url(#soft)"><path color="#353dac" d="M320.3 92.5l2 .3 2.3-1.6-2 0z"/><path color="#2c4ac6" d="M322.3 92.8l2-.1 2.3-2.1-2 .6z"/><path color="#115bdc" d="M324.3 92.7l2 .5 2.3-2.4-2-.2z"/><path color="#0462e0" d="M326.3 93.2l2 .7 2 .5 2 .7 2 .6 2.3-1.6-2-1-2-.9-2-.7-2-.7z"/><path color="#115bdc" d="M334.3 95.7l2 .9 2.3-1.3-2-1.2z"/><path color="#2152d3" d="M336.3 96.6l2 1.4 2.3-1.3-2-1.4z"/><path color="#2c4ac6" d="M338.3 98l2 .8 2.3-1.5-2-.6z"/><path color="#2152d3" d="M340.3 98.8l2 0 2.3-1.5-2 0z"/><path color="#115bdc" d="M342.3 98.8l2 .4 2.3-1.7-2-.2z"/><path color="#0462e0" d="M344.3 99.2l2 .6 2 1 2.3-1.7-2-1-2-.6z"/><path color="#115bdc" d="M348.3 100.8l2 1.2 2.3-1.6-2-1.3z"/><path color="#2c4ac6" d="M350.3 102l2 1.1 2.3-1.5-2-1.2z"/><path color="#3243b9" d="M352.3 103.1l2 .7 2 .5 2.3-1.2-2-.5-2-1z"/><path color="#2c4ac6" d="M356.3 104.3l2 .5 2.3-1.4-2-.3z"/><path color="#2152d3" d="M358.3 104.8l2 .4 2.3-1.6-2-.2z"/><path color="#115bdc" d="M360.3 105.2l2 .3 2.3-1.5-2-.4z"/><path color="#0267e1" d="M362.3 105.5l2 .2 2.3-1.4-2-.3z"/><path color="#046ce0" d="M364.3 105.7l2 .7 2 .5 2.3-2.1-2-.2-2-.3z"/><path color="#0c74dd" d="M368.3 106.9l2 .1 2.3-2-2-.2z"/><path color="#0f78db" d="M370.3 107l2 .1 2.3-1.6-2-.5z"/><path color="#1480d6" d="M372.3 107.1l2 .1 2.3-1.2-2-.5z"/><path color="#1484d4" d="M374.3 107.2l2 .4 2 .7 2 .8 2 1.1 2.3-1.6-2-.9-2-.7-2-.5-2-.5z"/><path color="#1480d6" d="M382.3 110.2l2 1 2.3-2-2-.6z"/><path color="#127cd8" d="M384.3 111.2l2 1.1 2.3-2.1-2-1z"/><path color="#0f78db" d="M386.3 112.3l2 1 2.3-1.7-2-1.4z"/><path color="#0c74dd" d="M388.3 113.3l2 .5 2.3-1.2-2-1z"/><path color="#127cd8" d="M390.3 113.8l2-.4 2.3-1.1-2 .3z"/><path color="#069fce" d="M394.3 112.7l2-.4 2.3-1.6-2 .6z"/><path color="#06a8c4" d="M396.3 112.3l2 .2 2.3-1.8-2 0z"/><path color="#09abbf" d="M398.3 112.5l2 .7 2 1.2 2.3-2.2-2-1-2-.5z"/><path color="#06a8c4" d="M402.3 114.4l2 .5 2 .3 2.3-1.5-2-.7-2-.8z"/><path color="#09abbf" d="M406.3 115.2l2 .9 2.3-1.7-2-.7z"/><path color="#06a8c4" d="M408.3 116.1l1.9 1.2 2.4-2-2-.9z"/><path color="#06a6c7" d="M410.2 117.3l2 .7 2.4-1.4-2-1.3z"/><path color="#06a2cb" d="M412.2 118l2 1.1 2 .5 2.4-1.7-2-.3-2-1z"/><path color="#06a8c4" d="M416.2 119.6l2 .3 2.4-2.3-2 .3z"/><path color="#09abbf" d="M418.2 119.9l2 .1 2.4-1.9-2-.5z"/><path color="#0dadbb" d="M420.2 120l2 1.1 2.4-3.1-2 .1z"/><path color="#13b0b6" d="M422.2 121.1l2 .5 2 .6 2 .4 2.4-2.8-2-.1-2-.8-2-.9z"/><path color="#1ab2b1" d="M428.2 122.6l2 .8 2.3-3.2-1.9-.4z"/><path color="#21b4ac" d="M430.2 123.4l2 1 2.3-4-2-.2z"/><path color="#2ab6a7" d="M432.2 124.4l2-.6 2.3-2.7-2-.7z"/><path color="#3dba9b" d="M434.2 123.8l2-.1 2.3-2.3-2-.3z"/><path color="#52bd8f" d="M436.2 123.7l2-.2 2.3-1.8-2-.3z"/><path color="#5ebe89" d="M438.2 123.5l2 .1 2.3-1.6-2-.3z"/></g><path d="M368.4 104.6L368.4 105L368.7 105.4L369.1 105.7L369.7 106L370.4 106.2L371.2 106.3L372.1 106.2L373.1 106.2L374.1 106.1L375.2 106L376.3 105.9L377.3 105.7L378.3 105.4L379.2 105L380 104.6L380.7 104L381.3 103.4L381.7 102.8L381.9 102.2L382 101.6L382 84.2L381.9 84.7L381.7 85.2L381.3 85.7L380.7 86.2L380 86.7L379.2 87.2L378.3 87.6L377.3 88L376.3 88.2L375.2 88.5L374.1 88.6L373.1 88.7L372.1 88.7L371.2 88.6L370.4 88.4L369.7 88.1L369.1 87.8L368.7 87.4L368.4 87L368.4 86.5z" fill="url(#cyl)"/><path d="M379.7 86.9L380.5 86.4L381.2 85.8L381.7 85.3L381.9 84.7L382 84.1L381.9 83.6L381.6 83.2L381.1 82.8L380.4 82.4L379.5 82.2L378.5 82.1L377.4 82L376.3 82.1L375.1 82.3L373.9 82.5L372.7 82.9L371.7 83.3L370.7 83.8L369.9 84.3L369.2 84.9L368.7 85.4L368.4 86L368.4 86.6L368.5 87.1L368.8 87.5L369.3 87.9L370 88.3L370.9 88.5L371.9 88.6L373 88.7L374.1 88.6L375.3 88.4L376.5 88.2L377.6 87.8L378.7 87.4z" fill="url(#cyt)" stroke="#181818" stroke-width=".8"/><g fill="none" stroke-width="1.05" stroke-linecap="round" stroke-linejoin="round"><path d="M429.4 117.7L429.5 118.5L429.5 119.5L429.6 121" stroke="#3cf03c"/><path d="M419.2 114.9L419.8 116.2L420.4 117.1L421.1 117.8L421.7 118.3L422.3 118.6L422.9 118.9" stroke="#d824d8"/><path d="M426.4 110.8L426.7 111.9L427 113L427.3 114.2L427.6 115.6" stroke="#2020f0"/><path d="M429.1 118L429.2 118.7L429.3 120L429.4 121.7" stroke="#f04040"/><path d="M410.4 113.5L411.2 113.8L411.9 114.5L412.7 115.3L413.4 116.1L414.2 116.9L414.9 117.7L415.7 118.4L416.4 118.5L417.2 118.7L417.9 118.8L418.7 118.9" stroke="#e8902c"/></g><g class="t" filter="url(#soft)"><path color="#36369f" d="M318 93.7l2 .6 2.3-1.5-2-.3z"/><path color="#3243b9" d="M320 94.3l2 .5 2 .7 2.3-2.3-2-.5-2 .1z"/><path color="#2c4ac6" d="M324 95.5l2 .5 2 .5 2.3-2.1-2-.5-2-.7z"/><path color="#2152d3" d="M328 96.5l2 .6 2 .4 2 .6 2.3-1.5-2-.9-2-.6-2-.7z"/><path color="#2c4ac6" d="M334 98.1l2 1.2 2.3-1.3-2-1.4z"/><path color="#3243b9" d="M336 99.3l2 .7 2.3-1.2-2-.8z"/><path color="#2c4ac6" d="M338 100l2 .4 2.3-1.6-2 0z"/><path color="#2152d3" d="M340 100.4l2 .5 2.3-1.7-2-.4z"/><path color="#115bdc" d="M342 100.9l2 .6 2 .8 2.3-1.5-2-1-2-.6z"/><path color="#2152d3" d="M346 102.3l2 .9 2.3-1.2-2-1.2z"/><path color="#2c4ac6" d="M348 103.2l2 .9 2 .6 2 .6 2 .9 2.3-1.4-2-.5-2-.5-2-.7-2-1.1z"/><path color="#2152d3" d="M356 106.2l2 .5 2.3-1.5-2-.4z"/><path color="#115bdc" d="M358 106.7l2 .2 2.3-1.4-2-.3z"/><path color="#0462e0" d="M360 106.9l2 .4 2.3-1.6-2-.2z"/><path color="#0267e1" d="M362 107.3l2 .7 2 .7 2.3-1.8-2-.5-2-.7z"/><path color="#046ce0" d="M366 108.7l2 .3 2.3-2-2-.1z"/><path color="#0c74dd" d="M368 109l2 .1 2.3-2-2-.1z"/><path color="#0f78db" d="M370 109.1l2 0 2.3-1.9-2-.1z"/><path color="#1480d6" d="M372 109.1l2 .2 2.3-1.7-2-.4z"/><path color="#1484d4" d="M374 109.3l2 .8 2.3-1.8-2-.7z"/><path color="#1480d6" d="M376 110.1l2 .8 2 1.1 2.3-1.8-2-1.1-2-.8z"/><path color="#0f78db" d="M380 112l2 1.2 2 .7 2.3-1.6-2-1.1-2-1z"/><path color="#0c74dd" d="M384 113.9l2 .7 2 .3 2.3-1.1-2-.5-2-1z"/><path color="#127cd8" d="M388 114.9l2-.2 2.3-1.3-2 .4z"/><path color="#118dd2" d="M390 114.7l1.9-.5 2.4-1.5-2 .7z"/><path color="#069fce" d="M391.9 114.2l2-.3 2.4-1.6-2 .4z"/><path color="#06a6c7" d="M393.9 113.9l2 .6 2 .8 2.4-2.1-2-.7-2-.2z"/><path color="#06a2cb" d="M397.9 115.3l2 .9 2 .6 2.4-1.9-2-.5-2-1.2z"/><path color="#06a6c7" d="M401.9 116.8l2 .6 2 1 2.4-2.3-2-.9-2-.3z"/><path color="#06a2cb" d="M405.9 118.4l2 1 2.3-2.1-1.9-1.2z"/><path color="#069fce" d="M407.9 119.4l2 .8 2 .8 2 .4 2.3-1.8-2-.5-2-1.1-2-.7z"/><path color="#06a2cb" d="M413.9 121.4l2 0 2.3-1.5-2-.3z"/><path color="#06a8c4" d="M415.9 121.4l2 .1 2 .8 2 1 2 .6 2 1 2 .9 2.3-2.4-2-.8-2-.4-2-.6-2-.5-2-1.1-2-.1z"/><path color="#06a6c7" d="M427.9 125.8l2 1.1 2.3-2.5-2-1z"/><path color="#09abbf" d="M429.9 126.9l2-.5 2.3-2.6-2 .6z"/><path color="#21b4ac" d="M431.9 126.4l2-1.1 2.3-1.6-2 .1z"/><path color="#3dba9b" d="M433.9 125.3l2-.2 2.3-1.6-2 .2z"/><path color="#52bd8f" d="M435.9 125.1l2 .3 2.3-1.8-2-.1z"/></g><g fill="none" stroke-width="1.05" stroke-linecap="round" stroke-linejoin="round"><path d="M429.6 121L429.7 122.8L429.8 124.5L429.9 126.1" stroke="#3cf03c"/><path d="M422.9 118.9L423.6 119.4L424.3 119.7L425 120.4L425.7 121L426.4 121.7L427.1 122.6L427.8 123.5L428.5 124.4L429.2 125.2L429.9 126.1" stroke="#d824d8"/><path d="M427.6 115.6L427.9 116.9L428.3 119L428.9 121.2L429.4 123.4L429.9 126.1" stroke="#2020f0"/><path d="M429.4 121.7L429.6 123.2L429.8 124.6L429.9 126.1" stroke="#f04040"/><path d="M418.7 118.9L419.5 119L420.2 119.7L421 120.5L421.7 121L422.5 121.5L423.3 121.9L424 122.4L424.8 123L425.5 123.5L426.4 124L427.2 124.5L428 125.1" stroke="#e8902c"/></g><g class="t" filter="url(#soft)"><path color="#36369f" d="M315.7 95l2 .6 2.3-1.3-2-.6z"/><path color="#353dac" d="M317.7 95.6l2 .9 2.3-1.7-2-.5z"/><path color="#36369f" d="M319.7 96.5l2 .9 2 .7 2.3-2.1-2-.5-2-.7z"/><path color="#353dac" d="M323.7 98.1l2 .7 2 .3 2.3-2-2-.6-2-.5z"/><path color="#3243b9" d="M327.7 99.1l2 .2 2.3-1.8-2-.4z"/><path color="#2c4ac6" d="M329.7 99.3l2 .5 2 1.2 2.3-1.7-2-1.2-2-.6z"/><path color="#3243b9" d="M333.7 101l2 .7 2 .6 2.3-1.9-2-.4-2-.7z"/><path color="#2c4ac6" d="M337.7 102.3l2 .5 2.3-1.9-2-.5z"/><path color="#2152d3" d="M339.7 102.8l2 .3 2 .5 2 .7 2 .7 2 .7 2 .8 2 .8 2 .6 2.3-1.2-2-.5-2-.9-2-.6-2-.6-2-.9-2-.9-2-.8-2-.6z"/><path color="#115bdc" d="M355.7 107.9l2 .2 2.3-1.2-2-.2z"/><path color="#0462e0" d="M357.7 108.1l2 .4 2 .7 2 .9 2.3-1.4-2-.7-2-.7-2-.4z"/><path color="#0267e1" d="M363.7 110.1l2 .6 2.3-1.7-2-.3z"/><path color="#046ce0" d="M365.7 110.7l2 .2 2.3-1.8-2-.1z"/><path color="#0c74dd" d="M367.7 110.9l2 0 2.3-1.8-2 0z"/><path color="#127cd8" d="M369.7 110.9l1.9 .2 2 .8 2 .8 2.4-1.8-2-.8-2-.8-2-.2z"/><path color="#0f78db" d="M375.6 112.7l2 1 2.4-1.7-2-1.1z"/><path color="#0c74dd" d="M377.6 113.7l2 1.1 2 .6 2 .4 2.4-1.2-2-.7-2-.7-2-1.2z"/><path color="#0f78db" d="M383.6 115.8l2 .4 2.4-1.3-2-.3z"/><path color="#127cd8" d="M385.6 116.2l2 .2 2.4-1.7-2 .2z"/><path color="#1388d3" d="M387.6 116.4l2 0 2.3-2.2-1.9 .5z"/><path color="#0a97d1" d="M389.6 116.4l2 0 2.3-2.5-2 .3z"/><path color="#079bd0" d="M391.6 116.4l2 .3 2.3-2.2-2-.6z"/><path color="#069fce" d="M393.6 116.7l2 .6 2 .6 2 .6 2 1.1 2.3-2.2-2-.6-2-.6-2-.9-2-.8z"/><path color="#079bd0" d="M401.6 119.6l2 1.1 2.3-2.3-2-1z"/><path color="#0a97d1" d="M403.6 120.7l2 .9 2 .7 2 .4 2 .3 2.3-1.6-2-.4-2-.8-2-.8-2-1z"/><path color="#069fce" d="M411.6 123l2 .3 2.3-1.9-2 0z"/><path color="#06a2cb" d="M413.6 123.3l2 .4 2.3-2.2-2-.1z"/><path color="#06a6c7" d="M415.6 123.7l2 .5 2 .6 2 .2 2.3-1.1-2-.6-2-1-2-.8z"/><path color="#06a8c4" d="M421.6 125l2 .4 2 .8 2.3-.4-2-.9-2-1z"/><path color="#06a6c7" d="M425.6 126.2l2 1 2.3-.3-2-1.1z"/><path color="#06a8c4" d="M427.6 127.2l2-.2 2.3-.6-2 .5z"/><path color="#33b8a1" d="M431.6 126.8l2-.1 2.3-1.6-2 .2z"/><path color="#47bb95" d="M433.6 126.7l2 .5 2.3-1.8-2-.3z"/></g><g fill="none" stroke-width="1.05" stroke-linecap="round" stroke-linejoin="round"><path d="M428 125.1L428.9 125.6L429.7 126.2" stroke="#e8902c"/></g><g class="t" filter="url(#soft)"><path color="#353dac" d="M313.4 96.1l2 .7 2.3-1.2-2-.6z"/><path color="#36369f" d="M315.4 96.8l2 .9 2 1.2 2.3-1.5-2-.9-2-.9z"/><path color="#363093" d="M319.4 98.9l2 1 2 .7 2 .4 2.3-1.9-2-.3-2-.7-2-.7z"/><path color="#36369f" d="M325.4 101l2 .3 2.3-2-2-.2z"/><path color="#353dac" d="M327.4 101.3l2 .7 2 .7 2 .4 2 .6 2.3-1.4-2-.6-2-.7-2-1.2-2-.5z"/><path color="#3243b9" d="M335.4 103.7l2 .5 2.3-1.4-2-.5z"/><path color="#2c4ac6" d="M337.4 104.2l2 .2 2.3-1.3-2-.3z"/><path color="#2152d3" d="M339.4 104.4l2 .5 2 .8 2 .6 2 .7 2 1 1.9 .5 2 .3 2.4-.9-2-.6-2-.8-2-.8-2-.7-2-.7-2-.7-2-.5z"/><path color="#115bdc" d="M353.3 108.8l2 .4 2.4-1.1-2-.2z"/><path color="#0462e0" d="M355.3 109.2l2 .6 2.4-1.3-2-.4z"/><path color="#0267e1" d="M357.3 109.8l2 .7 2.4-1.3-2-.7z"/><path color="#0462e0" d="M359.3 110.5l2 .9 2 .8 2.4-1.5-2-.6-2-.9z"/><path color="#0267e1" d="M363.3 112.2l2 .4 2.4-1.7-2-.2z"/><path color="#046ce0" d="M365.3 112.6l2 .1 2.4-1.8-2 0z"/><path color="#0c74dd" d="M367.3 112.7l2 .5 2.3-2.1-1.9-.2z"/><path color="#0f78db" d="M369.3 113.2l2 .4 2 .7 2.3-1.6-2-.8-2-.8z"/><path color="#0c74dd" d="M373.3 114.3l2 .5 2 .7 2 .8 2 .6 2.3-1.1-2-.4-2-.6-2-1.1-2-1z"/><path color="#0f78db" d="M381.3 116.9l2 .4 2.3-1.1-2-.4z"/><path color="#127cd8" d="M383.3 117.3l2 .6 2.3-1.5-2-.2z"/><path color="#1480d6" d="M385.3 117.9l2 .5 2.3-2-2 0z"/><path color="#1388d3" d="M387.3 118.4l2 .2 2.3-2.2-2 0z"/><path color="#118dd2" d="M389.3 118.6l2 .2 2.3-2.1-2-.3z"/><path color="#0e92d2" d="M391.3 118.8l2 .4 2.3-1.9-2-.6z"/><path color="#0a97d1" d="M393.3 119.2l2 .7 2 .7 2.3-2.1-2-.6-2-.6z"/><path color="#0e92d2" d="M397.3 120.6l2 1.2 2.3-2.2-2-1.1z"/><path color="#118dd2" d="M399.3 121.8l2 1.1 2.3-2.2-2-1.1z"/><path color="#1388d3" d="M401.3 122.9l2 .8 2 .2 2.3-1.6-2-.7-2-.9z"/><path color="#0e92d2" d="M405.3 123.9l2-.1 2.3-1.1-2-.4z"/><path color="#0a97d1" d="M407.3 123.8l2 .4 2.3-1.2-2-.3z"/><path color="#079bd0" d="M409.3 124.2l2 .7 2.3-1.6-2-.3z"/><path color="#069fce" d="M411.3 124.9l2 .8 2 .1 2.3-1.6-2-.5-2-.4z"/><path color="#06a6c7" d="M415.3 125.8l2-.1 2.3-.9-2-.6z"/><path color="#06a8c4" d="M417.3 125.7l2 .3 2.3-1-2-.2z"/><path color="#09abbf" d="M419.3 126l2 .6 2 .8 2 .9 2 .3 2.3-1.6-2 .2-2-1-2-.8-2-.4z"/><path color="#1ab2b1" d="M427.3 128.6l2-.2 2.3-1.6-2 .2z"/><path color="#2ab6a7" d="M429.3 128.4l2-.2 2.3-1.5-2 .1z"/><path color="#33b8a1" d="M431.3 128.2l2 1.2 2.3-2.2-2-.5z"/><path color="#353dac" d="M311.1 97.3l2 .7 2 .8 2.3-1.1-2-.9-2-.7z"/><path color="#36369f" d="M315.1 98.8l2 1 2.3-.9-2-1.2z"/><path color="#363093" d="M317.1 99.8l2 .9 2 .8 2 .5 2.3-1-2-.4-2-.7-2-1z"/><path color="#36369f" d="M323.1 102l2 .6 2 .8 1.9 .6 2.4-1.3-2-.7-2-.7-2-.3z"/><path color="#353dac" d="M329 104l2 .5 2 .5 2.4-1.3-2-.6-2-.4z"/><path color="#3243b9" d="M333 105l2 .7 2 .5 2.4-1.8-2-.2-2-.5z"/><path color="#2c4ac6" d="M337 106.2l2 .7 2 .7 2 .5 2.4-1.8-2-.6-2-.8-2-.5z"/><path color="#2152d3" d="M343 108.1l2 .7 2.4-1.8-2-.7z"/><path color="#2c4ac6" d="M345 108.8l2 .8 2 .4 2.3-1.5-1.9-.5-2-1z"/><path color="#2152d3" d="M349 110l2 .3 2.3-1.5-2-.3z"/><path color="#115bdc" d="M351 110.3l2 .5 2.3-1.6-2-.4z"/><path color="#0462e0" d="M353 110.8l2 .5 2 .5 2 .7 2 .8 2 .6 2.3-1.3-2-.4-2-.8-2-.9-2-.7-2-.6z"/><path color="#0267e1" d="M363 113.9l2 .5 2.3-1.7-2-.1z"/><path color="#046ce0" d="M365 114.4l2 .4 2.3-1.6-2-.5z"/><path color="#0870df" d="M367 114.8l2 .3 2.3-1.5-2-.4z"/><path color="#0c74dd" d="M369 115.1l2 .4 2.3-1.2-2-.7z"/><path color="#0f78db" d="M371 115.5l2 .2 2.3-.9-2-.5z"/><path color="#127cd8" d="M373 115.7l2 .4 2 .8 2 .7 2 .6 2.3-.9-2-.4-2-.6-2-.8-2-.7z"/><path color="#1480d6" d="M381 118.2l2 .4 2.3-.7-2-.6z"/><path color="#1484d4" d="M383 118.6l2 .4 2 .7 2.3-1.1-2-.2-2-.5z"/><path color="#1388d3" d="M387 119.7l2 .5 2.3-1.4-2-.2z"/><path color="#118dd2" d="M389 120.2l2 .6 2 1 2 1.2 2.3-2.4-2-.7-2-.7-2-.4z"/><path color="#1388d3" d="M395 123l2 .8 2.3-2-2-1.2z"/><path color="#1484d4" d="M397 123.8l2 .7 2 .4 2.3-1.2-2-.8-2-1.1z"/><path color="#1388d3" d="M401 124.9l2 .2 2.3-1.2-2-.2z"/><path color="#0e92d2" d="M403 125.1l2 .1 2.3-1.4-2 .1z"/><path color="#0a97d1" d="M405 125.2l2 .8 2 1.2 2.3-2.3-2-.7-2-.4z"/><path color="#0e92d2" d="M409 127.2l2 1 2.3-2.5-2-.8z"/><path color="#0a97d1" d="M411 128.2l2-.4 2.3-2-2-.1z"/><path color="#06a2cb" d="M413 127.8l2-.6 2.3-1.5-2 .1z"/><path color="#06a8c4" d="M415 127.2l2 .7 2 .9 2 .7 2 .4 2.3-1.6-2-.9-2-.8-2-.6-2-.3z"/><path color="#09abbf" d="M423 129.9l2 .4 2.3-1.7-2-.3z"/><path color="#13b0b6" d="M425 130.3l2-.2 2.3-1.7-2 .2z"/><path color="#21b4ac" d="M427 130.1l2-.2 2.3-1.7-2 .2z"/><path color="#2ab6a7" d="M429 129.9l2 1.2 2.3-1.7-2-1.2z"/><path color="#353dac" d="M308.8 98.5l1.9 .8 2 .7 2 .8 2.4-1-2-1-2-.8-2-.7z"/><path color="#36369f" d="M314.7 100.8l2 .8 2 .7 2 .7 2 .7 2 .7 2 .7 2.3-1.1-1.9-.6-2-.8-2-.6-2-.5-2-.8-2-.9z"/><path color="#353dac" d="M326.7 105.1l2 .7 2 .6 2 .7 2 .7 2.3-1.6-2-.5-2-.7-2-.5-2-.5z"/><path color="#3243b9" d="M334.7 107.8l2 .7 2 .7 2 .6 2 .5 2.3-1.5-2-.7-2-.5-2-.7-2-.7z"/><path color="#2c4ac6" d="M342.7 110.3l2 .6 2 .6 2.3-1.5-2-.4-2-.8z"/><path color="#2152d3" d="M346.7 111.5l2 .5 2 .5 2.3-1.7-2-.5-2-.3z"/><path color="#115bdc" d="M350.7 112.5l2 .5 2.3-1.7-2-.5z"/><path color="#0462e0" d="M352.7 113l2 .4 2 .6 2 .6 2 .6 2.3-1.3-2-.6-2-.8-2-.7-2-.5z"/><path color="#0267e1" d="M360.7 115.2l2 .7 2 .4 2.3-1.5-2-.4-2-.5z"/><path color="#0870df" d="M364.7 116.3l2 .3 2.3-1.5-2-.3z"/><path color="#0c74dd" d="M366.7 116.6l2 .2 2.3-1.3-2-.4z"/><path color="#0f78db" d="M368.7 116.8l2 .2 2.3-1.3-2-.2z"/><path color="#127cd8" d="M370.7 117l2 .4 2.3-1.3-2-.4z"/><path color="#1480d6" d="M372.7 117.4l2 .5 2 .6 2.3-.9-2-.7-2-.8z"/><path color="#1484d4" d="M376.7 118.5l2 .5 2 .2 2.3-.6-2-.4-2-.6z"/><path color="#118dd2" d="M380.7 119.2l2 .2 2 .9 2 1 2 1 2.3-1.5-2-.6-2-.5-2-.7-2-.4z"/><path color="#1388d3" d="M388.7 122.3l2 1.2 2.3-1.7-2-1z"/><path color="#1484d4" d="M390.7 123.5l2 1.4 2.3-1.9-2-1.2z"/><path color="#1480d6" d="M392.7 124.9l2 .6 2 .3 2.3-1.3-2-.7-2-.8z"/><path color="#1484d4" d="M396.7 125.8l2 .3 2.3-1.2-2-.4z"/><path color="#1388d3" d="M398.7 126.1l2 .3 2.3-1.3-2-.2z"/><path color="#118dd2" d="M400.7 126.4l2 .6 2 1.2 2.3-2.2-2-.8-2-.1z"/><path color="#1388d3" d="M404.7 128.2l2 1.2 2.3-2.2-2-1.2z"/><path color="#1484d4" d="M406.7 129.4l2 1 2.3-2.2-2-1z"/><path color="#118dd2" d="M408.7 130.4l2-.7 2.3-1.9-2 .4z"/><path color="#069fce" d="M410.7 129.7l2-.8 2.3-1.7-2 .6z"/><path color="#06a2cb" d="M412.7 128.9l2 1.1 2 1 2 .5 2 .2 2.3-1.8-2-.4-2-.7-2-.9-2-.7z"/><path color="#06a8c4" d="M420.7 131.7l2 .2 2.3-1.6-2-.4z"/><path color="#0dadbb" d="M422.7 131.9l2-.2 2.3-1.6-2 .2z"/><path color="#21b4ac" d="M424.7 131.7l2-.3 2.3-1.5-2 .2z"/><path color="#2ab6a7" d="M426.7 131.4l2 .5 2.3-.8-2-1.2z"/></g>
<text x="305.6" y="103.0" font-size="4.30" text-anchor="end" fill="#3a3a3a" >0</text>
<path d="M308.8 101.5h-1.5" stroke="#8a8a8a" stroke-width=".5"/>
<text x="305.6" y="86.5" font-size="4.30" text-anchor="end" fill="#3a3a3a" >5</text>
<path d="M308.8 85.0h-1.5" stroke="#8a8a8a" stroke-width=".5"/>
<text x="305.6" y="70.0" font-size="4.30" text-anchor="end" fill="#3a3a3a" >10</text>
<path d="M308.8 68.5h-1.5" stroke="#8a8a8a" stroke-width=".5"/>
<text x="301.1" y="108.6" font-size="4.30" text-anchor="middle" fill="#3a3a3a" >0</text>
<path d="M308.8 101.5l-1 1.2" stroke="#8a8a8a" stroke-width=".5"/>
<text x="341.1" y="122.8" font-size="4.30" text-anchor="middle" fill="#3a3a3a" >50</text>
<path d="M348.7 115.7l-1 1.2" stroke="#8a8a8a" stroke-width=".5"/>
<text x="381.1" y="137.0" font-size="4.30" text-anchor="middle" fill="#3a3a3a" >100</text>
<path d="M388.7 129.9l-1 1.2" stroke="#8a8a8a" stroke-width=".5"/>
<text x="421.1" y="151.2" font-size="4.30" text-anchor="middle" fill="#3a3a3a" >150</text>
<path d="M428.7 144.1l-1 1.2" stroke="#8a8a8a" stroke-width=".5"/>
<text x="434.3" y="149.6" font-size="4.30" text-anchor="middle" fill="#3a3a3a" >0</text>
<path d="M428.7 144.1l1.2 1" stroke="#8a8a8a" stroke-width=".5"/>
<text x="452.8" y="139.2" font-size="4.30" text-anchor="middle" fill="#3a3a3a" >20</text>
<path d="M447.2 133.7l1.2 1" stroke="#8a8a8a" stroke-width=".5"/>
<text x="471.2" y="128.8" font-size="4.30" text-anchor="middle" fill="#3a3a3a" >40</text>
<path d="M465.6 123.3l1.2 1" stroke="#8a8a8a" stroke-width=".5"/>
<text x="489.7" y="118.3" font-size="4.30" text-anchor="middle" fill="#3a3a3a" >60</text>
<path d="M484.1 112.8l1.2 1" stroke="#8a8a8a" stroke-width=".5"/>
<text x="508.1" y="107.9" font-size="4.30" text-anchor="middle" fill="#3a3a3a" >80</text>
<path d="M502.5 102.4l1.2 1" stroke="#8a8a8a" stroke-width=".5"/>
<text x="526.6" y="97.5" font-size="4.30" text-anchor="middle" fill="#3a3a3a" >100</text>
<path d="M521.0 92.0l1.2 1" stroke="#8a8a8a" stroke-width=".5"/>
<text x="376.0" y="146.5" font-size="4.30" text-anchor="middle" fill="#3a3a3a" >X(km)</text>
<text x="472.3" y="143.8" font-size="4.30" text-anchor="middle" fill="#3a3a3a" >Y(km)</text>
<text transform="translate(297,86) rotate(-90)" font-size="4.3" text-anchor="middle" fill="#3a3a3a">Z(km)</text>
<path d="M499.8 7.6H508.5" stroke="#3cf03c" stroke-width="1.1"/>
<text x="510.5" y="8.9" font-size="3.90" text-anchor="start" fill="#333" >SSA</text>
<path d="M499.8 13.1H508.5" stroke="#d824d8" stroke-width="1.1"/>
<text x="510.5" y="14.4" font-size="3.90" text-anchor="start" fill="#333" >PSO</text>
<path d="M499.8 18.8H508.5" stroke="#2020f0" stroke-width="1.1"/>
<text x="510.5" y="20.2" font-size="3.90" text-anchor="start" fill="#333" >ABC</text>
<path d="M499.8 24.3H508.5" stroke="#f04040" stroke-width="1.1"/>
<text x="510.5" y="25.7" font-size="3.90" text-anchor="start" fill="#333" >CASSA</text>
<path d="M499.8 29.8H508.5" stroke="#e8902c" stroke-width="1.1"/>
<text x="510.5" y="31.2" font-size="3.90" text-anchor="start" fill="#333" >WOA</text>
<linearGradient id="cbb" x1="0" y1="0" x2="0" y2="1"><stop offset="0.000" stop-color="#f9fb0e"/><stop offset="0.062" stop-color="#f5de21"/><stop offset="0.125" stop-color="#fec932"/><stop offset="0.188" stop-color="#f2b949"/><stop offset="0.250" stop-color="#d3bb58"/><stop offset="0.312" stop-color="#b1bd66"/><stop offset="0.375" stop-color="#8bbf75"/><stop offset="0.438" stop-color="#5ebe89"/><stop offset="0.500" stop-color="#33b8a1"/><stop offset="0.562" stop-color="#13b0b6"/><stop offset="0.625" stop-color="#06a6c7"/><stop offset="0.688" stop-color="#0a97d1"/><stop offset="0.750" stop-color="#1484d4"/><stop offset="0.812" stop-color="#0c74dd"/><stop offset="0.875" stop-color="#0462e0"/><stop offset="0.938" stop-color="#3243b9"/><stop offset="1.000" stop-color="#352a87"/></linearGradient>
<rect x="534.4" y="12.0" width="4.4" height="127.8" fill="url(#cbb)"/>
<text x="540.6" y="33.7" font-size="4.10" text-anchor="start" fill="#444" >6</text>
<text x="540.6" y="53.0" font-size="4.10" text-anchor="start" fill="#444" >5</text>
<text x="540.6" y="73.1" font-size="4.10" text-anchor="start" fill="#444" >4</text>
<text x="540.6" y="92.1" font-size="4.10" text-anchor="start" fill="#444" >3</text>
<text x="540.6" y="112.2" font-size="4.10" text-anchor="start" fill="#444" >2</text>
<text x="540.6" y="131.8" font-size="4.10" text-anchor="start" fill="#444" >1</text>
<text x="418" y="175" font-size="13" letter-spacing=".3" text-anchor="middle" font-family="Liberation Serif, serif" fill="#111">(<tspan font-weight="bold">b</tspan>)</text>
</g>
<g id="pc">
<g clip-path="url(#hclip)"><g filter="url(#hb)"><rect x="15" y="190" width="215" height="137" fill="#06a6c7"/><path fill="#352a87" d="M16.8 322.5h8.5v2.9h-8.5zM16.8 319.9h11.2v2.9h-11.2zM16.8 317.4h11.2v2.9h-11.2zM16.8 314.8h11.2v2.9h-11.2zM109.7 268.7h3v2.9h-3zM25 253.4h3v2.9h-3zM25 250.8h8.5v2.9h-8.5zM16.8 204.7h3v2.9h-3zM16.8 202.2h3v2.9h-3z"/><path fill="#363093" d="M25 322.5h3v2.9h-3zM27.7 317.4h3v2.9h-3zM27.7 314.8h3v2.9h-3zM16.8 312.3h5.8v2.9h-5.8zM25 312.3h3v2.9h-3zM22.2 253.4h3v2.9h-3zM27.7 253.4h3v2.9h-3zM123.4 207.3h8.5v2.9h-8.5zM128.8 204.7h5.8v2.9h-5.8z"/><path fill="#353dac" d="M27.7 322.5h5.8v2.9h-5.8zM35.9 322.5h3v2.9h-3zM44.1 322.5h3v2.9h-3zM30.4 319.9h11.2v2.9h-11.2zM44.1 319.9h5.8v2.9h-5.8zM52.3 319.9h3v2.9h-3zM33.2 317.4h5.8v2.9h-5.8zM44.1 317.4h14v2.9h-14zM82.4 317.4h3v2.9h-3zM33.2 314.8h3v2.9h-3zM41.4 314.8h3v2.9h-3zM49.6 314.8h8.5v2.9h-8.5zM30.4 312.3h11.2v2.9h-11.2zM22.2 309.7h8.5v2.9h-8.5zM16.8 307.1h8.5v2.9h-8.5zM71.4 307.1h3v2.9h-3zM16.8 304.6h5.8v2.9h-5.8zM79.6 296.9h3v2.9h-3zM82.4 294.3h3v2.9h-3zM79.6 291.8h3v2.9h-3zM16.8 289.2h3v2.9h-3zM16.8 286.7h3v2.9h-3zM107 268.7h3v2.9h-3zM109.7 266.2h3v2.9h-3zM115.2 266.2h3v2.9h-3zM19.5 258.5h3v2.9h-3zM16.8 255.9h3v2.9h-3zM16.8 253.4h5.8v2.9h-5.8zM35.9 248.3h3v2.9h-3zM120.6 227.8h3v2.9h-3zM16.8 222.7h3v2.9h-3zM126.1 220.1h3v2.9h-3zM126.1 217.5h3v2.9h-3zM126.1 209.9h5.8v2.9h-5.8zM19.5 204.7h3v2.9h-3zM137 204.7h3v2.9h-3zM16.8 199.6h3v2.9h-3zM19.5 191.9h3v2.9h-3zM134.3 191.9h5.8v2.9h-5.8z"/><path fill="#36369f" d="M33.2 322.5h3v2.9h-3zM38.6 322.5h5.8v2.9h-5.8zM27.7 319.9h3v2.9h-3zM41.4 319.9h3v2.9h-3zM30.4 317.4h3v2.9h-3zM38.6 317.4h5.8v2.9h-5.8zM30.4 314.8h3v2.9h-3zM35.9 314.8h5.8v2.9h-5.8zM22.2 312.3h3v2.9h-3zM27.7 312.3h3v2.9h-3zM16.8 309.7h5.8v2.9h-5.8zM79.6 294.3h3v2.9h-3zM107 271.3h5.8v2.9h-5.8zM112.4 268.7h3v2.9h-3zM112.4 266.2h3v2.9h-3zM19.5 255.9h5.8v2.9h-5.8zM22.2 250.8h3v2.9h-3zM33.2 250.8h3v2.9h-3zM30.4 248.3h5.8v2.9h-5.8zM120.6 207.3h3v2.9h-3zM131.6 207.3h3v2.9h-3zM120.6 204.7h8.5v2.9h-8.5zM134.3 204.7h3v2.9h-3z"/><path fill="#3243b9" d="M46.8 322.5h11.2v2.9h-11.2zM49.6 319.9h3v2.9h-3zM55 319.9h3v2.9h-3zM57.8 317.4h3v2.9h-3zM44.1 314.8h5.8v2.9h-5.8zM57.8 314.8h3v2.9h-3zM82.4 314.8h5.8v2.9h-5.8zM49.6 312.3h8.5v2.9h-8.5zM82.4 312.3h5.8v2.9h-5.8zM30.4 309.7h3v2.9h-3zM71.4 309.7h3v2.9h-3zM85.1 309.7h3v2.9h-3zM25 307.1h3v2.9h-3zM68.7 307.1h3v2.9h-3zM74.2 307.1h3v2.9h-3zM71.4 304.6h5.8v2.9h-5.8zM19.5 302h3v2.9h-3zM76.9 296.9h3v2.9h-3zM16.8 294.3h3v2.9h-3zM76.9 294.3h3v2.9h-3zM16.8 291.8h3v2.9h-3zM19.5 289.2h3v2.9h-3zM19.5 286.7h3v2.9h-3zM16.8 284.1h3v2.9h-3zM115.2 268.7h3v2.9h-3zM117.9 266.2h3v2.9h-3zM22.2 258.5h3v2.9h-3zM25 255.9h3v2.9h-3zM27.7 248.3h3v2.9h-3zM38.6 245.7h3v2.9h-3zM117.9 227.8h3v2.9h-3zM123.4 227.8h3v2.9h-3zM120.6 225.2h5.8v2.9h-5.8zM123.4 222.7h3v2.9h-3zM123.4 220.1h3v2.9h-3zM117.9 207.3h3v2.9h-3zM134.3 207.3h3v2.9h-3zM117.9 204.7h3v2.9h-3zM139.8 204.7h3v2.9h-3zM19.5 202.2h3v2.9h-3zM128.8 202.2h11.2v2.9h-11.2zM16.8 197.1h3v2.9h-3zM16.8 194.5h3v2.9h-3zM16.8 191.9h3v2.9h-3z"/><path fill="#2c4ac6" d="M57.8 322.5h3v2.9h-3zM57.8 319.9h3v2.9h-3zM82.4 319.9h3v2.9h-3zM85.1 317.4h3v2.9h-3zM41.4 312.3h8.5v2.9h-8.5zM57.8 312.3h3v2.9h-3zM87.8 312.3h3v2.9h-3zM33.2 309.7h3v2.9h-3zM49.6 309.7h5.8v2.9h-5.8zM68.7 309.7h3v2.9h-3zM74.2 309.7h3v2.9h-3zM82.4 309.7h3v2.9h-3zM87.8 309.7h8.5v2.9h-8.5zM27.7 307.1h3v2.9h-3zM49.6 307.1h3v2.9h-3zM85.1 307.1h3v2.9h-3zM22.2 304.6h3v2.9h-3zM46.8 304.6h8.5v2.9h-8.5zM68.7 304.6h3v2.9h-3zM16.8 302h3v2.9h-3zM49.6 302h3v2.9h-3zM71.4 302h5.8v2.9h-5.8zM19.5 299.5h3v2.9h-3zM71.4 299.5h8.5v2.9h-8.5zM16.8 296.9h5.8v2.9h-5.8zM74.2 296.9h3v2.9h-3zM82.4 296.9h3v2.9h-3zM19.5 294.3h3v2.9h-3zM19.5 291.8h3v2.9h-3zM82.4 291.8h3v2.9h-3zM19.5 284.1h3v2.9h-3zM16.8 281.5h11.2v2.9h-11.2zM16.8 279h11.2v2.9h-11.2zM16.8 276.4h3v2.9h-3zM107 273.9h5.8v2.9h-5.8zM112.4 271.3h3v2.9h-3zM117.9 268.7h5.8v2.9h-5.8zM120.6 266.2h3v2.9h-3zM19.5 261.1h3v2.9h-3zM16.8 258.5h3v2.9h-3zM30.4 253.4h3v2.9h-3zM35.9 245.7h3v2.9h-3zM41.4 245.7h3v2.9h-3zM115.2 227.8h3v2.9h-3zM126.1 227.8h3v2.9h-3zM117.9 225.2h3v2.9h-3zM126.1 225.2h3v2.9h-3zM126.1 222.7h3v2.9h-3zM16.8 220.1h3v2.9h-3zM123.4 217.5h3v2.9h-3zM126.1 215h3v2.9h-3zM123.4 209.9h3v2.9h-3zM131.6 209.9h3v2.9h-3zM169.8 207.3h5.8v2.9h-5.8zM142.5 204.7h5.8v2.9h-5.8zM120.6 202.2h8.5v2.9h-8.5zM19.5 194.5h3v2.9h-3zM22.2 191.9h3v2.9h-3z"/><path fill="#2152d3" d="M60.5 322.5h5.8v2.9h-5.8zM60.5 319.9h3v2.9h-3zM85.1 319.9h3v2.9h-3zM104.2 319.9h5.8v2.9h-5.8zM79.6 317.4h3v2.9h-3zM104.2 317.4h5.8v2.9h-5.8zM60.5 314.8h3v2.9h-3zM79.6 314.8h3v2.9h-3zM60.5 312.3h3v2.9h-3zM68.7 312.3h5.8v2.9h-5.8zM79.6 312.3h3v2.9h-3zM90.6 312.3h3v2.9h-3zM35.9 309.7h14v2.9h-14zM55 309.7h5.8v2.9h-5.8zM66 309.7h3v2.9h-3zM76.9 309.7h3v2.9h-3zM96 309.7h3v2.9h-3zM30.4 307.1h3v2.9h-3zM44.1 307.1h5.8v2.9h-5.8zM52.3 307.1h3v2.9h-3zM66 307.1h3v2.9h-3zM87.8 307.1h5.8v2.9h-5.8zM25 304.6h3v2.9h-3zM44.1 304.6h3v2.9h-3zM76.9 304.6h3v2.9h-3zM85.1 304.6h5.8v2.9h-5.8zM22.2 302h3v2.9h-3zM46.8 302h3v2.9h-3zM52.3 302h3v2.9h-3zM68.7 302h3v2.9h-3zM76.9 302h3v2.9h-3zM16.8 299.5h3v2.9h-3zM79.6 299.5h3v2.9h-3zM71.4 296.9h3v2.9h-3zM76.9 291.8h3v2.9h-3zM22.2 286.7h3v2.9h-3zM22.2 284.1h8.5v2.9h-8.5zM27.7 281.5h3v2.9h-3zM27.7 279h3v2.9h-3zM19.5 276.4h3v2.9h-3zM115.2 271.3h8.5v2.9h-8.5zM123.4 268.7h3v2.9h-3zM123.4 266.2h3v2.9h-3zM22.2 261.1h3v2.9h-3zM16.8 250.8h5.8v2.9h-5.8zM25 248.3h3v2.9h-3zM46.8 243.1h5.8v2.9h-5.8zM117.9 230.3h11.2v2.9h-11.2zM128.8 227.8h3v2.9h-3zM16.8 225.2h3v2.9h-3zM19.5 222.7h3v2.9h-3zM120.6 222.7h3v2.9h-3zM19.5 220.1h3v2.9h-3zM128.8 220.1h3v2.9h-3zM128.8 217.5h3v2.9h-3zM123.4 215h3v2.9h-3zM126.1 212.4h5.8v2.9h-5.8zM120.6 209.9h3v2.9h-3zM19.5 207.3h3v2.9h-3zM137 207.3h3v2.9h-3zM167.1 207.3h3v2.9h-3zM139.8 202.2h5.8v2.9h-5.8zM19.5 199.6h3v2.9h-3zM134.3 199.6h3v2.9h-3zM134.3 194.5h5.8v2.9h-5.8zM139.8 191.9h3v2.9h-3z"/><path fill="#115bdc" d="M66 322.5h3v2.9h-3zM79.6 322.5h11.2v2.9h-11.2zM104.2 322.5h5.8v2.9h-5.8zM63.2 319.9h8.5v2.9h-8.5zM79.6 319.9h3v2.9h-3zM87.8 319.9h3v2.9h-3zM60.5 317.4h3v2.9h-3zM66 317.4h5.8v2.9h-5.8zM109.7 317.4h3v2.9h-3zM68.7 314.8h3v2.9h-3zM87.8 314.8h3v2.9h-3zM101.5 314.8h8.5v2.9h-8.5zM63.2 312.3h5.8v2.9h-5.8zM74.2 312.3h5.8v2.9h-5.8zM93.3 312.3h14v2.9h-14zM60.5 309.7h5.8v2.9h-5.8zM79.6 309.7h3v2.9h-3zM98.8 309.7h5.8v2.9h-5.8zM33.2 307.1h11.2v2.9h-11.2zM55 307.1h3v2.9h-3zM63.2 307.1h3v2.9h-3zM76.9 307.1h3v2.9h-3zM82.4 307.1h3v2.9h-3zM93.3 307.1h8.5v2.9h-8.5zM27.7 304.6h8.5v2.9h-8.5zM41.4 304.6h3v2.9h-3zM55 304.6h3v2.9h-3zM66 304.6h3v2.9h-3zM82.4 304.6h3v2.9h-3zM90.6 304.6h3v2.9h-3zM44.1 302h3v2.9h-3zM55 302h3v2.9h-3zM79.6 302h3v2.9h-3zM85.1 302h5.8v2.9h-5.8zM22.2 299.5h3v2.9h-3zM46.8 299.5h8.5v2.9h-8.5zM68.7 299.5h3v2.9h-3zM82.4 299.5h3v2.9h-3zM68.7 296.9h3v2.9h-3zM85.1 296.9h3v2.9h-3zM74.2 294.3h3v2.9h-3zM85.1 294.3h3v2.9h-3zM115.2 294.3h3v2.9h-3zM22.2 289.2h3v2.9h-3zM79.6 289.2h3v2.9h-3zM30.4 284.1h3v2.9h-3zM30.4 281.5h3v2.9h-3zM22.2 276.4h5.8v2.9h-5.8zM109.7 276.4h3v2.9h-3zM112.4 273.9h8.5v2.9h-8.5zM104.2 271.3h3v2.9h-3zM123.4 271.3h3v2.9h-3zM19.5 263.6h3v2.9h-3zM115.2 263.6h5.8v2.9h-5.8zM16.8 261.1h3v2.9h-3zM139.8 261.1h5.8v2.9h-5.8zM139.8 258.5h5.8v2.9h-5.8zM35.9 250.8h3v2.9h-3zM38.6 248.3h3v2.9h-3zM44.1 245.7h3v2.9h-3zM52.3 243.1h3v2.9h-3zM115.2 230.3h3v2.9h-3zM128.8 230.3h3v2.9h-3zM115.2 225.2h3v2.9h-3zM128.8 215h3v2.9h-3zM123.4 212.4h3v2.9h-3zM169.8 209.9h5.8v2.9h-5.8zM16.8 207.3h3v2.9h-3zM148 204.7h3v2.9h-3zM169.8 204.7h3v2.9h-3zM117.9 202.2h3v2.9h-3zM145.2 202.2h3v2.9h-3zM131.6 199.6h3v2.9h-3zM137 199.6h3v2.9h-3zM19.5 197.1h3v2.9h-3zM131.6 191.9h3v2.9h-3zM153.4 191.9h5.8v2.9h-5.8z"/><path fill="#0462e0" d="M68.7 322.5h11.2v2.9h-11.2zM90.6 322.5h3v2.9h-3zM101.5 322.5h3v2.9h-3zM109.7 322.5h3v2.9h-3zM71.4 319.9h3v2.9h-3zM76.9 319.9h3v2.9h-3zM101.5 319.9h3v2.9h-3zM109.7 319.9h3v2.9h-3zM63.2 317.4h3v2.9h-3zM87.8 317.4h3v2.9h-3zM101.5 317.4h3v2.9h-3zM63.2 314.8h5.8v2.9h-5.8zM71.4 314.8h3v2.9h-3zM76.9 314.8h3v2.9h-3zM90.6 314.8h11.2v2.9h-11.2zM109.7 314.8h3v2.9h-3zM107 312.3h3v2.9h-3zM57.8 307.1h5.8v2.9h-5.8zM79.6 307.1h3v2.9h-3zM101.5 307.1h3v2.9h-3zM134.3 307.1h3v2.9h-3zM35.9 304.6h5.8v2.9h-5.8zM79.6 304.6h3v2.9h-3zM93.3 304.6h5.8v2.9h-5.8zM33.2 302h3v2.9h-3zM41.4 302h3v2.9h-3zM66 302h3v2.9h-3zM82.4 302h3v2.9h-3zM90.6 302h3v2.9h-3zM44.1 299.5h3v2.9h-3zM55 299.5h3v2.9h-3zM66 299.5h3v2.9h-3zM85.1 299.5h8.5v2.9h-8.5zM22.2 296.9h3v2.9h-3zM52.3 296.9h3v2.9h-3zM87.8 296.9h5.8v2.9h-5.8zM115.2 296.9h5.8v2.9h-5.8zM22.2 294.3h3v2.9h-3zM71.4 294.3h3v2.9h-3zM112.4 294.3h3v2.9h-3zM117.9 294.3h3v2.9h-3zM22.2 291.8h3v2.9h-3zM74.2 291.8h3v2.9h-3zM115.2 291.8h5.8v2.9h-5.8zM35.9 289.2h3v2.9h-3zM76.9 289.2h3v2.9h-3zM82.4 289.2h3v2.9h-3zM25 286.7h11.2v2.9h-11.2zM33.2 284.1h3v2.9h-3zM33.2 281.5h3v2.9h-3zM30.4 279h3v2.9h-3zM27.7 276.4h3v2.9h-3zM112.4 276.4h5.8v2.9h-5.8zM16.8 273.9h3v2.9h-3zM104.2 273.9h3v2.9h-3zM120.6 273.9h3v2.9h-3zM126.1 273.9h3v2.9h-3zM126.1 271.3h3v2.9h-3zM126.1 268.7h3v2.9h-3zM19.5 266.2h3v2.9h-3zM107 266.2h3v2.9h-3zM126.1 266.2h3v2.9h-3zM22.2 263.6h3v2.9h-3zM112.4 263.6h3v2.9h-3zM120.6 263.6h3v2.9h-3zM137 261.1h3v2.9h-3zM25 258.5h3v2.9h-3zM27.7 255.9h3v2.9h-3zM22.2 248.3h3v2.9h-3zM46.8 245.7h3v2.9h-3zM41.4 243.1h5.8v2.9h-5.8zM16.8 240.6h3v2.9h-3zM112.4 227.8h3v2.9h-3zM128.8 225.2h3v2.9h-3zM117.9 222.7h3v2.9h-3zM128.8 222.7h3v2.9h-3zM120.6 220.1h3v2.9h-3zM16.8 217.5h5.8v2.9h-5.8zM117.9 209.9h3v2.9h-3zM134.3 209.9h3v2.9h-3zM167.1 209.9h3v2.9h-3zM115.2 207.3h3v2.9h-3zM139.8 207.3h3v2.9h-3zM175.3 207.3h3v2.9h-3zM115.2 204.7h3v2.9h-3zM167.1 204.7h3v2.9h-3zM172.6 204.7h3v2.9h-3zM148 202.2h3v2.9h-3zM139.8 199.6h3v2.9h-3zM134.3 197.1h5.8v2.9h-5.8zM22.2 194.5h3v2.9h-3zM153.4 194.5h3v2.9h-3zM25 191.9h3v2.9h-3z"/><path fill="#046ce0" d="M93.3 322.5h3v2.9h-3zM98.8 322.5h3v2.9h-3zM93.3 319.9h3v2.9h-3zM98.8 319.9h3v2.9h-3zM186.2 319.9h5.8v2.9h-5.8zM74.2 317.4h3v2.9h-3zM93.3 317.4h5.8v2.9h-5.8zM112.4 314.8h3v2.9h-3zM120.6 314.8h3v2.9h-3zM109.7 312.3h3v2.9h-3zM120.6 312.3h11.2v2.9h-11.2zM137 312.3h5.8v2.9h-5.8zM123.4 309.7h3v2.9h-3zM128.8 307.1h3v2.9h-3zM101.5 304.6h3v2.9h-3zM134.3 304.6h5.8v2.9h-5.8zM27.7 302h3v2.9h-3zM60.5 302h5.8v2.9h-5.8zM96 302h3v2.9h-3zM33.2 299.5h3v2.9h-3zM38.6 299.5h3v2.9h-3zM60.5 299.5h5.8v2.9h-5.8zM41.4 296.9h5.8v2.9h-5.8zM57.8 296.9h8.5v2.9h-8.5zM109.7 296.9h3v2.9h-3zM120.6 296.9h3v2.9h-3zM38.6 294.3h8.5v2.9h-8.5zM49.6 294.3h3v2.9h-3zM66 294.3h3v2.9h-3zM90.6 294.3h5.8v2.9h-5.8zM109.7 294.3h3v2.9h-3zM120.6 294.3h3v2.9h-3zM44.1 291.8h3v2.9h-3zM68.7 291.8h3v2.9h-3zM27.7 289.2h5.8v2.9h-5.8zM41.4 289.2h3v2.9h-3zM66 289.2h3v2.9h-3zM117.9 289.2h3v2.9h-3zM38.6 286.7h3v2.9h-3zM66 286.7h3v2.9h-3zM76.9 286.7h5.8v2.9h-5.8zM38.6 284.1h3v2.9h-3zM109.7 279h5.8v2.9h-5.8zM101.5 276.4h5.8v2.9h-5.8zM120.6 276.4h3v2.9h-3zM126.1 276.4h5.8v2.9h-5.8zM19.5 273.9h3v2.9h-3zM27.7 273.9h3v2.9h-3zM131.6 273.9h5.8v2.9h-5.8zM16.8 271.3h3v2.9h-3zM128.8 271.3h3v2.9h-3zM139.8 268.7h5.8v2.9h-5.8zM22.2 266.2h3v2.9h-3zM142.5 266.2h3v2.9h-3zM126.1 263.6h3v2.9h-3zM134.3 263.6h3v2.9h-3zM25 261.1h3v2.9h-3zM145.2 258.5h3v2.9h-3zM139.8 255.9h5.8v2.9h-5.8zM33.2 253.4h3v2.9h-3zM41.4 248.3h3v2.9h-3zM55 245.7h3v2.9h-3zM38.6 243.1h3v2.9h-3zM55 243.1h3v2.9h-3zM19.5 240.6h3v2.9h-3zM112.4 230.3h3v2.9h-3zM16.8 227.8h3v2.9h-3zM112.4 225.2h3v2.9h-3zM22.2 222.7h3v2.9h-3zM16.8 215h5.8v2.9h-5.8zM120.6 215h3v2.9h-3zM131.6 215h3v2.9h-3zM120.6 212.4h3v2.9h-3zM175.3 209.9h3v2.9h-3zM150.7 207.3h3v2.9h-3zM22.2 204.7h3v2.9h-3zM112.4 204.7h3v2.9h-3zM164.4 204.7h3v2.9h-3zM150.7 202.2h3v2.9h-3zM167.1 202.2h5.8v2.9h-5.8zM123.4 199.6h5.8v2.9h-5.8zM142.5 199.6h3v2.9h-3zM131.6 197.1h3v2.9h-3zM139.8 197.1h3v2.9h-3zM153.4 197.1h3v2.9h-3zM27.7 191.9h3v2.9h-3zM158.9 191.9h3v2.9h-3z"/><path fill="#0870df" d="M96 322.5h3v2.9h-3zM115.2 322.5h3v2.9h-3zM161.6 322.5h3v2.9h-3zM183.5 322.5h8.5v2.9h-8.5zM96 319.9h3v2.9h-3zM115.2 319.9h3v2.9h-3zM115.2 317.4h3v2.9h-3zM115.2 314.8h5.8v2.9h-5.8zM123.4 314.8h5.8v2.9h-5.8zM139.8 314.8h3v2.9h-3zM131.6 312.3h5.8v2.9h-5.8zM107 309.7h3v2.9h-3zM139.8 309.7h3v2.9h-3zM104.2 307.1h3v2.9h-3zM126.1 307.1h3v2.9h-3zM131.6 304.6h3v2.9h-3zM25 299.5h3v2.9h-3zM35.9 299.5h3v2.9h-3zM96 299.5h3v2.9h-3zM112.4 299.5h11.2v2.9h-11.2zM38.6 296.9h3v2.9h-3zM96 296.9h3v2.9h-3zM35.9 294.3h3v2.9h-3zM46.8 294.3h3v2.9h-3zM57.8 294.3h3v2.9h-3zM63.2 294.3h3v2.9h-3zM96 294.3h3v2.9h-3zM25 291.8h3v2.9h-3zM33.2 291.8h3v2.9h-3zM52.3 291.8h5.8v2.9h-5.8zM66 291.8h3v2.9h-3zM87.8 291.8h8.5v2.9h-8.5zM109.7 291.8h3v2.9h-3zM44.1 289.2h3v2.9h-3zM85.1 289.2h3v2.9h-3zM93.3 289.2h3v2.9h-3zM112.4 289.2h3v2.9h-3zM71.4 286.7h5.8v2.9h-5.8zM82.4 286.7h3v2.9h-3zM38.6 281.5h3v2.9h-3zM35.9 279h3v2.9h-3zM115.2 279h3v2.9h-3zM123.4 276.4h3v2.9h-3zM131.6 276.4h3v2.9h-3zM22.2 273.9h5.8v2.9h-5.8zM101.5 273.9h3v2.9h-3zM137 273.9h3v2.9h-3zM19.5 271.3h3v2.9h-3zM139.8 271.3h3v2.9h-3zM128.8 268.7h3v2.9h-3zM128.8 266.2h3v2.9h-3zM137 266.2h3v2.9h-3zM25 263.6h3v2.9h-3zM109.7 263.6h3v2.9h-3zM128.8 263.6h5.8v2.9h-5.8zM145.2 263.6h3v2.9h-3zM55 248.3h3v2.9h-3zM16.8 243.1h3v2.9h-3zM46.8 240.6h3v2.9h-3zM19.5 238h3v2.9h-3zM131.6 225.2h3v2.9h-3zM25 220.1h3v2.9h-3zM117.9 220.1h3v2.9h-3zM131.6 220.1h3v2.9h-3zM22.2 217.5h3v2.9h-3zM131.6 217.5h3v2.9h-3zM19.5 212.4h3v2.9h-3zM19.5 209.9h3v2.9h-3zM161.6 209.9h3v2.9h-3zM112.4 207.3h3v2.9h-3zM153.4 207.3h3v2.9h-3zM161.6 207.3h3v2.9h-3zM109.7 204.7h3v2.9h-3zM153.4 204.7h3v2.9h-3zM175.3 204.7h3v2.9h-3zM115.2 202.2h3v2.9h-3zM22.2 199.6h3v2.9h-3zM117.9 199.6h3v2.9h-3zM145.2 199.6h8.5v2.9h-8.5zM22.2 197.1h3v2.9h-3zM156.2 197.1h3v2.9h-3zM25 194.5h3v2.9h-3zM150.7 194.5h3v2.9h-3zM158.9 194.5h3v2.9h-3zM142.5 191.9h3v2.9h-3z"/><path fill="#0267e1" d="M112.4 322.5h3v2.9h-3zM74.2 319.9h3v2.9h-3zM90.6 319.9h3v2.9h-3zM112.4 319.9h3v2.9h-3zM71.4 317.4h3v2.9h-3zM76.9 317.4h3v2.9h-3zM90.6 317.4h3v2.9h-3zM98.8 317.4h3v2.9h-3zM112.4 317.4h3v2.9h-3zM74.2 314.8h3v2.9h-3zM104.2 309.7h3v2.9h-3zM126.1 309.7h14v2.9h-14zM131.6 307.1h3v2.9h-3zM137 307.1h3v2.9h-3zM57.8 304.6h8.5v2.9h-8.5zM98.8 304.6h3v2.9h-3zM25 302h3v2.9h-3zM30.4 302h3v2.9h-3zM35.9 302h5.8v2.9h-5.8zM57.8 302h3v2.9h-3zM93.3 302h3v2.9h-3zM41.4 299.5h3v2.9h-3zM57.8 299.5h3v2.9h-3zM93.3 299.5h3v2.9h-3zM46.8 296.9h5.8v2.9h-5.8zM55 296.9h3v2.9h-3zM66 296.9h3v2.9h-3zM93.3 296.9h3v2.9h-3zM112.4 296.9h3v2.9h-3zM52.3 294.3h5.8v2.9h-5.8zM68.7 294.3h3v2.9h-3zM87.8 294.3h3v2.9h-3zM35.9 291.8h8.5v2.9h-8.5zM71.4 291.8h3v2.9h-3zM85.1 291.8h3v2.9h-3zM112.4 291.8h3v2.9h-3zM25 289.2h3v2.9h-3zM33.2 289.2h3v2.9h-3zM38.6 289.2h3v2.9h-3zM68.7 289.2h8.5v2.9h-8.5zM115.2 289.2h3v2.9h-3zM35.9 286.7h3v2.9h-3zM68.7 286.7h3v2.9h-3zM35.9 284.1h3v2.9h-3zM35.9 281.5h3v2.9h-3zM33.2 279h3v2.9h-3zM30.4 276.4h3v2.9h-3zM107 276.4h3v2.9h-3zM117.9 276.4h3v2.9h-3zM123.4 273.9h3v2.9h-3zM128.8 273.9h3v2.9h-3zM16.8 268.7h5.8v2.9h-5.8zM104.2 268.7h3v2.9h-3zM16.8 266.2h3v2.9h-3zM139.8 266.2h3v2.9h-3zM16.8 263.6h3v2.9h-3zM123.4 263.6h3v2.9h-3zM137 263.6h8.5v2.9h-8.5zM134.3 261.1h3v2.9h-3zM145.2 261.1h3v2.9h-3zM137 258.5h3v2.9h-3zM16.8 248.3h5.8v2.9h-5.8zM33.2 245.7h3v2.9h-3zM49.6 245.7h5.8v2.9h-5.8zM49.6 240.6h5.8v2.9h-5.8zM16.8 238h3v2.9h-3zM131.6 230.3h3v2.9h-3zM131.6 227.8h3v2.9h-3zM19.5 225.2h3v2.9h-3zM115.2 222.7h3v2.9h-3zM22.2 220.1h3v2.9h-3zM120.6 217.5h3v2.9h-3zM131.6 212.4h3v2.9h-3zM164.4 209.9h3v2.9h-3zM142.5 207.3h8.5v2.9h-8.5zM164.4 207.3h3v2.9h-3zM150.7 204.7h3v2.9h-3zM22.2 202.2h3v2.9h-3zM120.6 199.6h3v2.9h-3zM128.8 199.6h3v2.9h-3zM131.6 194.5h3v2.9h-3zM139.8 194.5h3v2.9h-3zM156.2 194.5h3v2.9h-3zM150.7 191.9h3v2.9h-3z"/><path fill="#0f78db" d="M117.9 322.5h3v2.9h-3zM158.9 322.5h3v2.9h-3zM164.4 322.5h3v2.9h-3zM117.9 319.9h5.8v2.9h-5.8zM161.6 319.9h3v2.9h-3zM180.8 319.9h3v2.9h-3zM123.4 317.4h3v2.9h-3zM139.8 317.4h3v2.9h-3zM189 317.4h3v2.9h-3zM134.3 314.8h3v2.9h-3zM142.5 312.3h3v2.9h-3zM109.7 309.7h3v2.9h-3zM117.9 309.7h3v2.9h-3zM107 307.1h3v2.9h-3zM120.6 307.1h3v2.9h-3zM126.1 304.6h3v2.9h-3zM139.8 304.6h3v2.9h-3zM101.5 302h3v2.9h-3zM120.6 302h3v2.9h-3zM27.7 299.5h3v2.9h-3zM98.8 299.5h3v2.9h-3zM107 299.5h3v2.9h-3zM123.4 299.5h3v2.9h-3zM25 296.9h3v2.9h-3zM30.4 296.9h3v2.9h-3zM98.8 296.9h3v2.9h-3zM104.2 296.9h3v2.9h-3zM30.4 294.3h3v2.9h-3zM101.5 294.3h5.8v2.9h-5.8zM27.7 291.8h3v2.9h-3zM60.5 291.8h3v2.9h-3zM104.2 291.8h5.8v2.9h-5.8zM49.6 289.2h3v2.9h-3zM55 289.2h3v2.9h-3zM101.5 289.2h3v2.9h-3zM109.7 289.2h3v2.9h-3zM46.8 286.7h3v2.9h-3zM63.2 286.7h3v2.9h-3zM85.1 286.7h11.2v2.9h-11.2zM101.5 286.7h3v2.9h-3zM112.4 286.7h3v2.9h-3zM117.9 286.7h3v2.9h-3zM79.6 284.1h3v2.9h-3zM98.8 284.1h3v2.9h-3zM98.8 281.5h3v2.9h-3zM109.7 281.5h5.8v2.9h-5.8zM38.6 279h3v2.9h-3zM104.2 279h3v2.9h-3zM120.6 279h3v2.9h-3zM22.2 271.3h3v2.9h-3zM131.6 268.7h5.8v2.9h-5.8zM25 266.2h3v2.9h-3zM131.6 266.2h3v2.9h-3zM148 261.1h3v2.9h-3zM27.7 258.5h3v2.9h-3zM30.4 255.9h3v2.9h-3zM137 255.9h3v2.9h-3zM38.6 250.8h3v2.9h-3zM19.5 245.7h11.2v2.9h-11.2zM57.8 245.7h3v2.9h-3zM16.8 235.5h3v2.9h-3zM134.3 230.3h3v2.9h-3zM19.5 227.8h3v2.9h-3zM109.7 227.8h3v2.9h-3zM109.7 225.2h3v2.9h-3zM134.3 225.2h3v2.9h-3zM25 222.7h3v2.9h-3zM117.9 217.5h3v2.9h-3zM117.9 212.4h3v2.9h-3zM167.1 212.4h5.8v2.9h-5.8zM158.9 209.9h3v2.9h-3zM178 209.9h3v2.9h-3zM90.6 207.3h3v2.9h-3zM107 204.7h3v2.9h-3zM109.7 202.2h3v2.9h-3zM158.9 202.2h5.8v2.9h-5.8zM27.7 199.6h3v2.9h-3zM158.9 199.6h8.5v2.9h-8.5zM169.8 199.6h3v2.9h-3zM25 197.1h3v2.9h-3zM120.6 197.1h3v2.9h-3zM128.8 197.1h3v2.9h-3zM142.5 197.1h3v2.9h-3zM161.6 197.1h3v2.9h-3zM167.1 197.1h3v2.9h-3zM27.7 194.5h3v2.9h-3zM142.5 194.5h3v2.9h-3zM161.6 194.5h5.8v2.9h-5.8zM112.4 191.9h3v2.9h-3zM128.8 191.9h3v2.9h-3zM164.4 191.9h3v2.9h-3z"/><path fill="#127cd8" d="M120.6 322.5h3v2.9h-3zM178 322.5h3v2.9h-3zM123.4 319.9h3v2.9h-3zM158.9 319.9h3v2.9h-3zM164.4 319.9h3v2.9h-3zM126.1 317.4h8.5v2.9h-8.5zM137 317.4h3v2.9h-3zM142.5 317.4h3v2.9h-3zM183.5 317.4h3v2.9h-3zM145.2 314.8h3v2.9h-3zM112.4 309.7h5.8v2.9h-5.8zM117.9 307.1h3v2.9h-3zM107 304.6h3v2.9h-3zM120.6 304.6h5.8v2.9h-5.8zM104.2 302h5.8v2.9h-5.8zM117.9 302h3v2.9h-3zM123.4 302h3v2.9h-3zM131.6 302h3v2.9h-3zM139.8 302h3v2.9h-3zM101.5 299.5h5.8v2.9h-5.8zM27.7 296.9h3v2.9h-3zM101.5 296.9h3v2.9h-3zM123.4 296.9h3v2.9h-3zM27.7 294.3h3v2.9h-3zM57.8 289.2h5.8v2.9h-5.8zM104.2 289.2h3v2.9h-3zM120.6 289.2h3v2.9h-3zM49.6 286.7h3v2.9h-3zM44.1 284.1h5.8v2.9h-5.8zM63.2 284.1h3v2.9h-3zM71.4 284.1h3v2.9h-3zM76.9 284.1h3v2.9h-3zM82.4 284.1h8.5v2.9h-8.5zM96 284.1h3v2.9h-3zM101.5 284.1h3v2.9h-3zM112.4 284.1h5.8v2.9h-5.8zM41.4 281.5h3v2.9h-3zM66 281.5h3v2.9h-3zM96 281.5h3v2.9h-3zM101.5 281.5h3v2.9h-3zM107 281.5h3v2.9h-3zM115.2 281.5h3v2.9h-3zM96 279h3v2.9h-3zM35.9 276.4h3v2.9h-3zM96 276.4h3v2.9h-3zM137 276.4h3v2.9h-3zM33.2 273.9h3v2.9h-3zM98.8 273.9h3v2.9h-3zM25 271.3h5.8v2.9h-5.8zM25 268.7h3v2.9h-3zM145.2 268.7h3v2.9h-3zM35.9 263.6h5.8v2.9h-5.8zM148 263.6h3v2.9h-3zM27.7 261.1h3v2.9h-3zM120.6 261.1h5.8v2.9h-5.8zM128.8 261.1h3v2.9h-3zM145.2 255.9h3v2.9h-3zM35.9 253.4h3v2.9h-3zM139.8 253.4h3v2.9h-3zM167.1 250.8h3v2.9h-3zM46.8 248.3h5.8v2.9h-5.8zM57.8 248.3h3v2.9h-3zM35.9 243.1h3v2.9h-3zM57.8 243.1h3v2.9h-3zM22.2 240.6h3v2.9h-3zM137 227.8h3v2.9h-3zM22.2 225.2h3v2.9h-3zM137 225.2h3v2.9h-3zM27.7 222.7h3v2.9h-3zM109.7 222.7h3v2.9h-3zM134.3 222.7h3v2.9h-3zM27.7 220.1h3v2.9h-3zM112.4 220.1h3v2.9h-3zM134.3 220.1h3v2.9h-3zM134.3 217.5h3v2.9h-3zM117.9 215h3v2.9h-3zM134.3 215h3v2.9h-3zM164.4 212.4h3v2.9h-3zM172.6 212.4h3v2.9h-3zM150.7 209.9h8.5v2.9h-8.5zM22.2 207.3h3v2.9h-3zM30.4 207.3h3v2.9h-3zM93.3 207.3h3v2.9h-3zM109.7 207.3h3v2.9h-3zM30.4 204.7h3v2.9h-3zM27.7 202.2h3v2.9h-3zM115.2 199.6h3v2.9h-3zM27.7 197.1h3v2.9h-3zM117.9 197.1h3v2.9h-3zM123.4 197.1h3v2.9h-3zM148 197.1h3v2.9h-3zM128.8 194.5h3v2.9h-3zM148 194.5h3v2.9h-3zM167.1 194.5h3v2.9h-3zM30.4 191.9h3v2.9h-3zM117.9 191.9h3v2.9h-3zM145.2 191.9h3v2.9h-3zM167.1 191.9h3v2.9h-3z"/><path fill="#1480d6" d="M123.4 322.5h5.8v2.9h-5.8zM156.2 322.5h3v2.9h-3zM167.1 322.5h3v2.9h-3zM191.7 322.5h3v2.9h-3zM126.1 319.9h3v2.9h-3zM156.2 319.9h3v2.9h-3zM178 319.9h3v2.9h-3zM191.7 319.9h3v2.9h-3zM134.3 317.4h3v2.9h-3zM145.2 317.4h3v2.9h-3zM158.9 317.4h3v2.9h-3zM180.8 317.4h3v2.9h-3zM186.2 314.8h3v2.9h-3zM142.5 309.7h3v2.9h-3zM109.7 307.1h3v2.9h-3zM117.9 304.6h3v2.9h-3zM109.7 302h8.5v2.9h-8.5zM126.1 302h5.8v2.9h-5.8zM137 299.5h3v2.9h-3zM123.4 294.3h3v2.9h-3zM107 289.2h3v2.9h-3zM52.3 286.7h5.8v2.9h-5.8zM60.5 286.7h3v2.9h-3zM104.2 286.7h8.5v2.9h-8.5zM49.6 284.1h3v2.9h-3zM74.2 284.1h3v2.9h-3zM90.6 284.1h5.8v2.9h-5.8zM104.2 284.1h8.5v2.9h-8.5zM117.9 284.1h3v2.9h-3zM44.1 281.5h3v2.9h-3zM63.2 281.5h3v2.9h-3zM68.7 281.5h3v2.9h-3zM104.2 281.5h3v2.9h-3zM117.9 281.5h3v2.9h-3zM66 279h3v2.9h-3zM123.4 279h5.8v2.9h-5.8zM142.5 273.9h3v2.9h-3zM30.4 271.3h3v2.9h-3zM27.7 266.2h3v2.9h-3zM35.9 266.2h5.8v2.9h-5.8zM27.7 263.6h3v2.9h-3zM33.2 263.6h3v2.9h-3zM38.6 261.1h5.8v2.9h-5.8zM117.9 261.1h3v2.9h-3zM126.1 261.1h3v2.9h-3zM148 258.5h3v2.9h-3zM164.4 253.4h5.8v2.9h-5.8zM52.3 250.8h5.8v2.9h-5.8zM164.4 250.8h3v2.9h-3zM22.2 243.1h3v2.9h-3zM44.1 240.6h3v2.9h-3zM19.5 235.5h3v2.9h-3zM117.9 232.9h14v2.9h-14zM16.8 230.3h3v2.9h-3zM137 222.7h3v2.9h-3zM109.7 220.1h3v2.9h-3zM25 217.5h3v2.9h-3zM22.2 215h3v2.9h-3zM161.6 212.4h3v2.9h-3zM90.6 209.9h3v2.9h-3zM112.4 209.9h3v2.9h-3zM139.8 209.9h3v2.9h-3zM148 209.9h3v2.9h-3zM33.2 207.3h3v2.9h-3zM87.8 207.3h3v2.9h-3zM107 207.3h3v2.9h-3zM25 204.7h3v2.9h-3zM33.2 204.7h3v2.9h-3zM178 204.7h3v2.9h-3zM30.4 202.2h3v2.9h-3zM175.3 202.2h3v2.9h-3zM30.4 199.6h3v2.9h-3zM126.1 197.1h3v2.9h-3zM145.2 197.1h3v2.9h-3zM169.8 197.1h3v2.9h-3zM115.2 194.5h8.5v2.9h-8.5zM120.6 191.9h3v2.9h-3z"/><path fill="#1484d4" d="M128.8 322.5h3v2.9h-3zM175.3 322.5h3v2.9h-3zM128.8 319.9h3v2.9h-3zM175.3 319.9h3v2.9h-3zM148 317.4h11.2v2.9h-11.2zM161.6 317.4h3v2.9h-3zM178 317.4h3v2.9h-3zM148 314.8h5.8v2.9h-5.8zM180.8 314.8h5.8v2.9h-5.8zM189 314.8h3v2.9h-3zM145.2 312.3h3v2.9h-3zM115.2 307.1h3v2.9h-3zM109.7 304.6h3v2.9h-3zM115.2 304.6h3v2.9h-3zM126.1 299.5h3v2.9h-3zM134.3 299.5h3v2.9h-3zM57.8 286.7h3v2.9h-3zM60.5 284.1h3v2.9h-3zM46.8 281.5h3v2.9h-3zM90.6 281.5h5.8v2.9h-5.8zM41.4 279h3v2.9h-3zM63.2 279h3v2.9h-3zM139.8 276.4h3v2.9h-3zM35.9 273.9h3v2.9h-3zM33.2 271.3h3v2.9h-3zM145.2 271.3h3v2.9h-3zM27.7 268.7h5.8v2.9h-5.8zM30.4 266.2h5.8v2.9h-5.8zM104.2 266.2h3v2.9h-3zM148 266.2h3v2.9h-3zM30.4 263.6h3v2.9h-3zM41.4 263.6h3v2.9h-3zM35.9 261.1h3v2.9h-3zM44.1 261.1h3v2.9h-3zM115.2 261.1h3v2.9h-3zM150.7 261.1h3v2.9h-3zM46.8 258.5h3v2.9h-3zM131.6 258.5h3v2.9h-3zM52.3 253.4h3v2.9h-3zM142.5 253.4h3v2.9h-3zM169.8 253.4h3v2.9h-3zM169.8 250.8h3v2.9h-3zM60.5 245.7h3v2.9h-3zM57.8 240.6h3v2.9h-3zM22.2 238h3v2.9h-3zM55 238h3v2.9h-3zM16.8 232.9h3v2.9h-3zM131.6 232.9h3v2.9h-3zM19.5 230.3h3v2.9h-3zM109.7 230.3h3v2.9h-3zM22.2 227.8h3v2.9h-3zM27.7 227.8h5.8v2.9h-5.8zM25 225.2h5.8v2.9h-5.8zM137 220.1h3v2.9h-3zM115.2 217.5h3v2.9h-3zM175.3 212.4h3v2.9h-3zM93.3 209.9h3v2.9h-3zM145.2 209.9h3v2.9h-3zM101.5 207.3h5.8v2.9h-5.8zM180.8 207.3h3v2.9h-3zM27.7 204.7h3v2.9h-3zM104.2 204.7h3v2.9h-3zM107 202.2h3v2.9h-3zM112.4 199.6h3v2.9h-3zM172.6 199.6h3v2.9h-3zM115.2 197.1h3v2.9h-3zM30.4 194.5h3v2.9h-3zM145.2 194.5h3v2.9h-3z"/><path fill="#1388d3" d="M131.6 322.5h3v2.9h-3zM148 322.5h3v2.9h-3zM153.4 322.5h3v2.9h-3zM131.6 319.9h24.9v2.9h-24.9zM167.1 319.9h3v2.9h-3zM164.4 317.4h3v2.9h-3zM175.3 317.4h3v2.9h-3zM191.7 317.4h3v2.9h-3zM153.4 314.8h5.8v2.9h-5.8zM175.3 314.8h5.8v2.9h-5.8zM180.8 312.3h5.8v2.9h-5.8zM112.4 307.1h3v2.9h-3zM112.4 304.6h3v2.9h-3zM128.8 299.5h5.8v2.9h-5.8zM139.8 299.5h3v2.9h-3zM126.1 296.9h3v2.9h-3zM123.4 291.8h3v2.9h-3zM120.6 286.7h3v2.9h-3zM52.3 284.1h8.5v2.9h-8.5zM49.6 281.5h3v2.9h-3zM57.8 281.5h5.8v2.9h-5.8zM71.4 281.5h3v2.9h-3zM87.8 281.5h3v2.9h-3zM120.6 281.5h3v2.9h-3zM55 279h8.5v2.9h-8.5zM68.7 279h3v2.9h-3zM93.3 279h3v2.9h-3zM128.8 279h3v2.9h-3zM38.6 276.4h3v2.9h-3zM63.2 276.4h5.8v2.9h-5.8zM96 273.9h3v2.9h-3zM35.9 271.3h3v2.9h-3zM33.2 268.7h8.5v2.9h-8.5zM101.5 268.7h3v2.9h-3zM150.7 263.6h3v2.9h-3zM30.4 261.1h5.8v2.9h-5.8zM30.4 258.5h3v2.9h-3zM41.4 258.5h5.8v2.9h-5.8zM49.6 258.5h3v2.9h-3zM33.2 255.9h3v2.9h-3zM49.6 255.9h5.8v2.9h-5.8zM49.6 253.4h3v2.9h-3zM137 253.4h3v2.9h-3zM161.6 253.4h3v2.9h-3zM41.4 250.8h3v2.9h-3zM49.6 250.8h3v2.9h-3zM161.6 250.8h3v2.9h-3zM167.1 248.3h3v2.9h-3zM52.3 238h3v2.9h-3zM57.8 238h3v2.9h-3zM115.2 232.9h3v2.9h-3zM27.7 230.3h3v2.9h-3zM137 230.3h3v2.9h-3zM25 227.8h3v2.9h-3zM139.8 227.8h3v2.9h-3zM30.4 225.2h3v2.9h-3zM107 225.2h3v2.9h-3zM139.8 225.2h3v2.9h-3zM30.4 222.7h3v2.9h-3zM107 222.7h3v2.9h-3zM139.8 222.7h3v2.9h-3zM107 220.1h3v2.9h-3zM137 217.5h3v2.9h-3zM115.2 212.4h3v2.9h-3zM137 212.4h3v2.9h-3zM158.9 212.4h3v2.9h-3zM87.8 209.9h3v2.9h-3zM142.5 209.9h3v2.9h-3zM180.8 209.9h3v2.9h-3zM90.6 204.7h5.8v2.9h-5.8zM101.5 204.7h3v2.9h-3zM30.4 197.1h3v2.9h-3zM112.4 194.5h3v2.9h-3zM123.4 194.5h5.8v2.9h-5.8zM169.8 194.5h3v2.9h-3zM109.7 191.9h3v2.9h-3zM123.4 191.9h5.8v2.9h-5.8z"/><path fill="#118dd2" d="M134.3 322.5h5.8v2.9h-5.8zM142.5 322.5h5.8v2.9h-5.8zM150.7 322.5h3v2.9h-3zM169.8 322.5h5.8v2.9h-5.8zM158.9 314.8h3v2.9h-3zM172.6 314.8h3v2.9h-3zM148 312.3h3v2.9h-3zM175.3 312.3h5.8v2.9h-5.8zM186.2 312.3h3v2.9h-3zM142.5 307.1h3v2.9h-3zM120.6 284.1h3v2.9h-3zM52.3 281.5h5.8v2.9h-5.8zM44.1 279h3v2.9h-3zM52.3 279h3v2.9h-3zM90.6 279h3v2.9h-3zM55 276.4h8.5v2.9h-8.5zM93.3 276.4h3v2.9h-3zM38.6 273.9h3v2.9h-3zM66 273.9h3v2.9h-3zM38.6 271.3h3v2.9h-3zM98.8 271.3h3v2.9h-3zM41.4 266.2h3v2.9h-3zM44.1 263.6h3v2.9h-3zM107 263.6h3v2.9h-3zM46.8 261.1h3v2.9h-3zM112.4 261.1h3v2.9h-3zM38.6 258.5h3v2.9h-3zM150.7 258.5h3v2.9h-3zM46.8 255.9h3v2.9h-3zM134.3 255.9h3v2.9h-3zM164.4 255.9h5.8v2.9h-5.8zM38.6 253.4h3v2.9h-3zM55 253.4h3v2.9h-3zM44.1 250.8h5.8v2.9h-5.8zM60.5 248.3h3v2.9h-3zM164.4 248.3h3v2.9h-3zM169.8 248.3h3v2.9h-3zM63.2 245.7h3v2.9h-3zM25 243.1h3v2.9h-3zM60.5 243.1h3v2.9h-3zM41.4 240.6h3v2.9h-3zM22.2 235.5h3v2.9h-3zM19.5 232.9h3v2.9h-3zM22.2 230.3h5.8v2.9h-5.8zM30.4 230.3h3v2.9h-3zM107 227.8h3v2.9h-3zM139.8 220.1h3v2.9h-3zM27.7 217.5h3v2.9h-3zM112.4 217.5h3v2.9h-3zM137 215h3v2.9h-3zM153.4 212.4h5.8v2.9h-5.8zM178 212.4h3v2.9h-3zM96 207.3h5.8v2.9h-5.8zM87.8 204.7h3v2.9h-3zM109.7 199.6h3v2.9h-3zM169.8 191.9h3v2.9h-3z"/><path fill="#0e92d2" d="M139.8 322.5h3v2.9h-3zM169.8 319.9h5.8v2.9h-5.8zM167.1 317.4h8.5v2.9h-8.5zM161.6 314.8h5.8v2.9h-5.8zM191.7 314.8h3v2.9h-3zM150.7 312.3h5.8v2.9h-5.8zM172.6 312.3h3v2.9h-3zM189 312.3h3v2.9h-3zM178 309.7h5.8v2.9h-5.8zM142.5 304.6h3v2.9h-3zM128.8 296.9h3v2.9h-3zM126.1 294.3h3v2.9h-3zM123.4 289.2h3v2.9h-3zM79.6 281.5h3v2.9h-3zM85.1 281.5h3v2.9h-3zM46.8 279h5.8v2.9h-5.8zM131.6 279h3v2.9h-3zM41.4 276.4h3v2.9h-3zM68.7 276.4h3v2.9h-3zM142.5 276.4h3v2.9h-3zM60.5 273.9h5.8v2.9h-5.8zM145.2 273.9h3v2.9h-3zM41.4 268.7h3v2.9h-3zM148 268.7h3v2.9h-3zM153.4 261.1h3v2.9h-3zM33.2 258.5h5.8v2.9h-5.8zM158.9 258.5h3v2.9h-3zM35.9 255.9h11.2v2.9h-11.2zM148 255.9h3v2.9h-3zM161.6 255.9h3v2.9h-3zM46.8 253.4h3v2.9h-3zM145.2 253.4h3v2.9h-3zM172.6 253.4h3v2.9h-3zM57.8 250.8h3v2.9h-3zM139.8 250.8h3v2.9h-3zM172.6 250.8h3v2.9h-3zM66 245.7h3v2.9h-3zM33.2 243.1h3v2.9h-3zM63.2 243.1h3v2.9h-3zM25 240.6h3v2.9h-3zM49.6 238h3v2.9h-3zM22.2 232.9h8.5v2.9h-8.5zM33.2 227.8h3v2.9h-3zM30.4 220.1h3v2.9h-3zM109.7 217.5h3v2.9h-3zM139.8 217.5h5.8v2.9h-5.8zM115.2 215h3v2.9h-3zM22.2 212.4h3v2.9h-3zM150.7 212.4h3v2.9h-3zM22.2 209.9h3v2.9h-3zM109.7 209.9h3v2.9h-3zM27.7 207.3h3v2.9h-3zM96 204.7h5.8v2.9h-5.8zM180.8 204.7h3v2.9h-3zM33.2 202.2h3v2.9h-3zM178 202.2h3v2.9h-3zM112.4 197.1h3v2.9h-3z"/><path fill="#0c74dd" d="M180.8 322.5h3v2.9h-3zM183.5 319.9h3v2.9h-3zM117.9 317.4h5.8v2.9h-5.8zM186.2 317.4h3v2.9h-3zM128.8 314.8h5.8v2.9h-5.8zM137 314.8h3v2.9h-3zM142.5 314.8h3v2.9h-3zM112.4 312.3h8.5v2.9h-8.5zM120.6 309.7h3v2.9h-3zM123.4 307.1h3v2.9h-3zM139.8 307.1h3v2.9h-3zM104.2 304.6h3v2.9h-3zM128.8 304.6h3v2.9h-3zM98.8 302h3v2.9h-3zM134.3 302h5.8v2.9h-5.8zM30.4 299.5h3v2.9h-3zM109.7 299.5h3v2.9h-3zM33.2 296.9h5.8v2.9h-5.8zM107 296.9h3v2.9h-3zM25 294.3h3v2.9h-3zM33.2 294.3h3v2.9h-3zM60.5 294.3h3v2.9h-3zM98.8 294.3h3v2.9h-3zM107 294.3h3v2.9h-3zM30.4 291.8h3v2.9h-3zM46.8 291.8h5.8v2.9h-5.8zM57.8 291.8h3v2.9h-3zM63.2 291.8h3v2.9h-3zM96 291.8h8.5v2.9h-8.5zM120.6 291.8h3v2.9h-3zM46.8 289.2h3v2.9h-3zM52.3 289.2h3v2.9h-3zM63.2 289.2h3v2.9h-3zM87.8 289.2h5.8v2.9h-5.8zM96 289.2h5.8v2.9h-5.8zM41.4 286.7h5.8v2.9h-5.8zM96 286.7h5.8v2.9h-5.8zM115.2 286.7h3v2.9h-3zM41.4 284.1h3v2.9h-3zM66 284.1h5.8v2.9h-5.8zM98.8 279h5.8v2.9h-5.8zM107 279h3v2.9h-3zM117.9 279h3v2.9h-3zM33.2 276.4h3v2.9h-3zM98.8 276.4h3v2.9h-3zM134.3 276.4h3v2.9h-3zM30.4 273.9h3v2.9h-3zM139.8 273.9h3v2.9h-3zM101.5 271.3h3v2.9h-3zM131.6 271.3h8.5v2.9h-8.5zM142.5 271.3h3v2.9h-3zM22.2 268.7h3v2.9h-3zM137 268.7h3v2.9h-3zM134.3 266.2h3v2.9h-3zM145.2 266.2h3v2.9h-3zM131.6 261.1h3v2.9h-3zM134.3 258.5h3v2.9h-3zM44.1 248.3h3v2.9h-3zM52.3 248.3h3v2.9h-3zM16.8 245.7h3v2.9h-3zM30.4 245.7h3v2.9h-3zM19.5 243.1h3v2.9h-3zM55 240.6h3v2.9h-3zM134.3 227.8h3v2.9h-3zM112.4 222.7h3v2.9h-3zM131.6 222.7h3v2.9h-3zM115.2 220.1h3v2.9h-3zM16.8 212.4h3v2.9h-3zM134.3 212.4h3v2.9h-3zM16.8 209.9h3v2.9h-3zM115.2 209.9h3v2.9h-3zM137 209.9h3v2.9h-3zM156.2 207.3h5.8v2.9h-5.8zM178 207.3h3v2.9h-3zM156.2 204.7h8.5v2.9h-8.5zM25 202.2h3v2.9h-3zM112.4 202.2h3v2.9h-3zM153.4 202.2h5.8v2.9h-5.8zM164.4 202.2h3v2.9h-3zM172.6 202.2h3v2.9h-3zM25 199.6h3v2.9h-3zM153.4 199.6h5.8v2.9h-5.8zM167.1 199.6h3v2.9h-3zM150.7 197.1h3v2.9h-3zM158.9 197.1h3v2.9h-3zM164.4 197.1h3v2.9h-3zM115.2 191.9h3v2.9h-3zM148 191.9h3v2.9h-3zM161.6 191.9h3v2.9h-3z"/><path fill="#0a97d1" d="M194.4 322.5h14v2.9h-14zM167.1 314.8h5.8v2.9h-5.8zM156.2 312.3h5.8v2.9h-5.8zM191.7 312.3h3v2.9h-3zM145.2 309.7h3v2.9h-3zM175.3 309.7h3v2.9h-3zM183.5 309.7h3v2.9h-3zM197.2 304.6h3v2.9h-3zM142.5 302h3v2.9h-3zM134.3 296.9h5.8v2.9h-5.8zM74.2 281.5h5.8v2.9h-5.8zM82.4 281.5h3v2.9h-3zM123.4 281.5h3v2.9h-3zM44.1 276.4h3v2.9h-3zM52.3 276.4h3v2.9h-3zM41.4 273.9h3v2.9h-3zM57.8 273.9h3v2.9h-3zM41.4 271.3h3v2.9h-3zM66 271.3h3v2.9h-3zM150.7 266.2h3v2.9h-3zM71.4 263.6h3v2.9h-3zM153.4 263.6h3v2.9h-3zM71.4 261.1h3v2.9h-3zM156.2 261.1h8.5v2.9h-8.5zM52.3 258.5h3v2.9h-3zM128.8 258.5h3v2.9h-3zM153.4 258.5h5.8v2.9h-5.8zM161.6 258.5h3v2.9h-3zM158.9 255.9h3v2.9h-3zM169.8 255.9h3v2.9h-3zM41.4 253.4h5.8v2.9h-5.8zM158.9 253.4h3v2.9h-3zM142.5 250.8h3v2.9h-3zM63.2 248.3h3v2.9h-3zM68.7 245.7h3v2.9h-3zM66 243.1h5.8v2.9h-5.8zM38.6 240.6h3v2.9h-3zM60.5 240.6h3v2.9h-3zM25 238h3v2.9h-3zM60.5 238h3v2.9h-3zM25 235.5h3v2.9h-3zM57.8 235.5h3v2.9h-3zM30.4 232.9h3v2.9h-3zM112.4 232.9h3v2.9h-3zM134.3 232.9h3v2.9h-3zM33.2 230.3h3v2.9h-3zM139.8 230.3h3v2.9h-3zM33.2 225.2h3v2.9h-3zM104.2 225.2h3v2.9h-3zM104.2 222.7h3v2.9h-3zM142.5 222.7h3v2.9h-3zM104.2 220.1h3v2.9h-3zM142.5 220.1h3v2.9h-3zM107 217.5h3v2.9h-3zM139.8 215h3v2.9h-3zM164.4 215h8.5v2.9h-8.5zM93.3 212.4h3v2.9h-3zM112.4 212.4h3v2.9h-3zM139.8 212.4h3v2.9h-3zM148 212.4h3v2.9h-3zM30.4 209.9h3v2.9h-3zM96 209.9h3v2.9h-3zM101.5 209.9h5.8v2.9h-5.8zM183.5 209.9h3v2.9h-3zM35.9 207.3h3v2.9h-3zM85.1 207.3h3v2.9h-3zM183.5 207.3h3v2.9h-3zM35.9 204.7h3v2.9h-3zM175.3 199.6h3v2.9h-3zM172.6 197.1h3v2.9h-3zM109.7 194.5h3v2.9h-3z"/><path fill="#06a2cb" d="M208.1 322.5h3v2.9h-3zM197.2 319.9h3v2.9h-3zM194.4 317.4h3v2.9h-3zM208.1 312.3h3v2.9h-3zM153.4 309.7h3v2.9h-3zM161.6 309.7h3v2.9h-3zM169.8 309.7h3v2.9h-3zM189 309.7h5.8v2.9h-5.8zM210.8 309.7h3v2.9h-3zM175.3 307.1h3v2.9h-3zM183.5 307.1h3v2.9h-3zM191.7 307.1h3v2.9h-3zM178 304.6h5.8v2.9h-5.8zM202.6 304.6h3v2.9h-3zM180.8 302h3v2.9h-3zM197.2 302h3v2.9h-3zM126.1 289.2h3v2.9h-3zM145.2 276.4h3v2.9h-3zM57.8 271.3h3v2.9h-3zM66 268.7h5.8v2.9h-5.8zM150.7 268.7h3v2.9h-3zM153.4 266.2h3v2.9h-3zM199.9 266.2h3v2.9h-3zM205.4 266.2h3v2.9h-3zM74.2 263.6h3v2.9h-3zM68.7 261.1h3v2.9h-3zM164.4 261.1h3v2.9h-3zM197.2 261.1h3v2.9h-3zM202.6 261.1h3v2.9h-3zM167.1 258.5h3v2.9h-3zM197.2 258.5h3v2.9h-3zM153.4 255.9h3v2.9h-3zM57.8 253.4h3v2.9h-3zM134.3 253.4h3v2.9h-3zM148 253.4h3v2.9h-3zM60.5 250.8h3v2.9h-3zM82.4 250.8h3v2.9h-3zM145.2 250.8h3v2.9h-3zM175.3 250.8h3v2.9h-3zM82.4 248.3h5.8v2.9h-5.8zM167.1 245.7h5.8v2.9h-5.8zM35.9 240.6h3v2.9h-3zM76.9 240.6h3v2.9h-3zM63.2 238h3v2.9h-3zM76.9 238h3v2.9h-3zM30.4 235.5h3v2.9h-3zM55 235.5h3v2.9h-3zM35.9 232.9h3v2.9h-3zM109.7 232.9h3v2.9h-3zM137 232.9h3v2.9h-3zM142.5 230.3h3v2.9h-3zM101.5 227.8h3v2.9h-3zM35.9 225.2h3v2.9h-3zM101.5 225.2h3v2.9h-3zM104.2 215h5.8v2.9h-5.8zM150.7 215h3v2.9h-3zM85.1 212.4h3v2.9h-3zM101.5 212.4h5.8v2.9h-5.8zM109.7 212.4h3v2.9h-3zM186.2 209.9h3v2.9h-3zM87.8 202.2h3v2.9h-3zM96 202.2h3v2.9h-3zM101.5 202.2h3v2.9h-3zM180.8 202.2h3v2.9h-3zM33.2 199.6h3v2.9h-3zM175.3 197.1h3v2.9h-3zM33.2 194.5h3v2.9h-3zM107 194.5h3v2.9h-3z"/><path fill="#06a8c4" d="M210.8 322.5h3v2.9h-3zM197.2 317.4h5.8v2.9h-5.8zM208.1 317.4h3v2.9h-3zM199.9 314.8h3v2.9h-3zM210.8 314.8h3v2.9h-3zM210.8 312.3h3v2.9h-3zM164.4 309.7h5.8v2.9h-5.8zM148 307.1h8.5v2.9h-8.5zM161.6 307.1h3v2.9h-3zM189 307.1h3v2.9h-3zM210.8 307.1h3v2.9h-3zM175.3 304.6h3v2.9h-3zM183.5 304.6h8.5v2.9h-8.5zM205.4 304.6h3v2.9h-3zM183.5 302h3v2.9h-3zM189 302h5.8v2.9h-5.8zM145.2 299.5h3v2.9h-3zM134.3 294.3h3v2.9h-3zM139.8 294.3h3v2.9h-3zM126.1 286.7h3v2.9h-3zM128.8 281.5h3v2.9h-3zM74.2 279h3v2.9h-3zM142.5 279h3v2.9h-3zM46.8 273.9h3v2.9h-3zM90.6 273.9h3v2.9h-3zM148 273.9h3v2.9h-3zM98.8 268.7h3v2.9h-3zM202.6 268.7h5.8v2.9h-5.8zM101.5 266.2h3v2.9h-3zM161.6 266.2h3v2.9h-3zM197.2 266.2h3v2.9h-3zM104.2 263.6h3v2.9h-3zM52.3 261.1h3v2.9h-3zM55 258.5h3v2.9h-3zM68.7 258.5h3v2.9h-3zM76.9 258.5h3v2.9h-3zM169.8 258.5h3v2.9h-3zM194.4 258.5h3v2.9h-3zM194.4 255.9h5.8v2.9h-5.8zM150.7 253.4h3v2.9h-3zM178 253.4h3v2.9h-3zM63.2 250.8h5.8v2.9h-5.8zM178 250.8h3v2.9h-3zM189 250.8h3v2.9h-3zM74.2 248.3h3v2.9h-3zM189 248.3h3v2.9h-3zM79.6 245.7h3v2.9h-3zM85.1 245.7h3v2.9h-3zM44.1 238h3v2.9h-3zM66 238h3v2.9h-3zM33.2 235.5h3v2.9h-3zM71.4 235.5h3v2.9h-3zM120.6 235.5h3v2.9h-3zM60.5 232.9h3v2.9h-3zM139.8 232.9h5.8v2.9h-5.8zM101.5 230.3h3v2.9h-3zM38.6 225.2h3v2.9h-3zM35.9 222.7h3v2.9h-3zM145.2 222.7h3v2.9h-3zM85.1 220.1h5.8v2.9h-5.8zM148 220.1h3v2.9h-3zM153.4 217.5h5.8v2.9h-5.8zM90.6 215h5.8v2.9h-5.8zM175.3 215h3v2.9h-3zM183.5 212.4h3v2.9h-3zM27.7 209.9h3v2.9h-3zM189 209.9h3v2.9h-3zM199.9 209.9h3v2.9h-3zM38.6 207.3h3v2.9h-3zM82.4 207.3h3v2.9h-3zM189 207.3h3v2.9h-3zM199.9 207.3h3v2.9h-3zM38.6 204.7h3v2.9h-3zM35.9 202.2h3v2.9h-3zM104.2 199.6h3v2.9h-3zM33.2 197.1h3v2.9h-3z"/><path fill="#09abbf" d="M213.6 322.5h3v2.9h-3zM210.8 319.9h3v2.9h-3zM210.8 317.4h3v2.9h-3zM169.8 307.1h3v2.9h-3zM148 304.6h3v2.9h-3zM156.2 304.6h8.5v2.9h-8.5zM186.2 302h3v2.9h-3zM197.2 299.5h3v2.9h-3zM142.5 294.3h3v2.9h-3zM131.6 291.8h3v2.9h-3zM128.8 289.2h3v2.9h-3zM126.1 284.1h3v2.9h-3zM76.9 279h8.5v2.9h-8.5zM49.6 273.9h3v2.9h-3zM55 271.3h3v2.9h-3zM93.3 271.3h3v2.9h-3zM57.8 268.7h3v2.9h-3zM153.4 268.7h3v2.9h-3zM199.9 268.7h3v2.9h-3zM46.8 266.2h3v2.9h-3zM66 266.2h3v2.9h-3zM164.4 263.6h3v2.9h-3zM194.4 261.1h3v2.9h-3zM205.4 261.1h3v2.9h-3zM57.8 255.9h3v2.9h-3zM71.4 255.9h3v2.9h-3zM79.6 255.9h3v2.9h-3zM178 255.9h3v2.9h-3zM74.2 253.4h3v2.9h-3zM85.1 253.4h3v2.9h-3zM153.4 253.4h3v2.9h-3zM68.7 250.8h8.5v2.9h-8.5zM148 250.8h3v2.9h-3zM186.2 250.8h3v2.9h-3zM178 248.3h3v2.9h-3zM183.5 248.3h3v2.9h-3zM164.4 245.7h3v2.9h-3zM175.3 245.7h3v2.9h-3zM186.2 245.7h5.8v2.9h-5.8zM79.6 243.1h3v2.9h-3zM33.2 240.6h3v2.9h-3zM30.4 238h3v2.9h-3zM79.6 238h3v2.9h-3zM35.9 235.5h3v2.9h-3zM52.3 235.5h3v2.9h-3zM123.4 235.5h3v2.9h-3zM128.8 235.5h5.8v2.9h-5.8zM38.6 232.9h3v2.9h-3zM57.8 232.9h3v2.9h-3zM74.2 232.9h3v2.9h-3zM98.8 230.3h3v2.9h-3zM98.8 227.8h3v2.9h-3zM145.2 227.8h3v2.9h-3zM145.2 225.2h3v2.9h-3zM33.2 217.5h3v2.9h-3zM90.6 217.5h3v2.9h-3zM158.9 217.5h11.2v2.9h-11.2zM27.7 215h3v2.9h-3zM96 215h5.8v2.9h-5.8zM197.2 209.9h3v2.9h-3zM191.7 207.3h8.5v2.9h-8.5zM202.6 207.3h3v2.9h-3zM189 204.7h3v2.9h-3zM85.1 202.2h3v2.9h-3zM183.5 202.2h3v2.9h-3zM90.6 199.6h5.8v2.9h-5.8zM175.3 194.5h3v2.9h-3z"/><path fill="#13b0b6" d="M216.3 322.5h3v2.9h-3zM213.6 317.4h3v2.9h-3zM213.6 314.8h3v2.9h-3zM213.6 309.7h3v2.9h-3zM167.1 307.1h3v2.9h-3zM164.4 304.6h3v2.9h-3zM150.7 302h3v2.9h-3zM158.9 302h5.8v2.9h-5.8zM172.6 302h3v2.9h-3zM148 299.5h3v2.9h-3zM175.3 299.5h3v2.9h-3zM180.8 299.5h3v2.9h-3zM199.9 299.5h3v2.9h-3zM145.2 294.3h3v2.9h-3zM169.8 294.3h3v2.9h-3zM139.8 291.8h8.5v2.9h-8.5zM167.1 291.8h3v2.9h-3zM172.6 291.8h3v2.9h-3zM134.3 289.2h3v2.9h-3zM148 289.2h5.8v2.9h-5.8zM167.1 289.2h3v2.9h-3zM128.8 286.7h3v2.9h-3zM153.4 286.7h3v2.9h-3zM46.8 271.3h3v2.9h-3zM150.7 271.3h3v2.9h-3zM74.2 268.7h3v2.9h-3zM158.9 268.7h5.8v2.9h-5.8zM197.2 268.7h3v2.9h-3zM208.1 268.7h3v2.9h-3zM60.5 266.2h3v2.9h-3zM208.1 263.6h3v2.9h-3zM66 258.5h3v2.9h-3zM175.3 258.5h3v2.9h-3zM191.7 258.5h3v2.9h-3zM68.7 255.9h3v2.9h-3zM180.8 255.9h3v2.9h-3zM189 255.9h3v2.9h-3zM63.2 253.4h3v2.9h-3zM71.4 253.4h3v2.9h-3zM183.5 253.4h5.8v2.9h-5.8zM150.7 250.8h3v2.9h-3zM194.4 250.8h3v2.9h-3zM137 248.3h3v2.9h-3zM178 245.7h5.8v2.9h-5.8zM191.7 245.7h3v2.9h-3zM82.4 240.6h3v2.9h-3zM38.6 238h3v2.9h-3zM38.6 235.5h3v2.9h-3zM49.6 235.5h3v2.9h-3zM66 235.5h3v2.9h-3zM137 235.5h3v2.9h-3zM71.4 232.9h3v2.9h-3zM96 232.9h5.8v2.9h-5.8zM107 232.9h3v2.9h-3zM41.4 230.3h3v2.9h-3zM93.3 230.3h3v2.9h-3zM96 227.8h3v2.9h-3zM41.4 222.7h3v2.9h-3zM87.8 222.7h3v2.9h-3zM82.4 220.1h3v2.9h-3zM90.6 220.1h3v2.9h-3zM153.4 220.1h3v2.9h-3zM93.3 217.5h5.8v2.9h-5.8zM30.4 215h3v2.9h-3zM25 212.4h3v2.9h-3zM33.2 212.4h3v2.9h-3zM186.2 212.4h3v2.9h-3zM25 209.9h3v2.9h-3zM38.6 209.9h3v2.9h-3zM202.6 209.9h3v2.9h-3zM191.7 204.7h3v2.9h-3zM82.4 202.2h3v2.9h-3zM180.8 199.6h3v2.9h-3z"/><path fill="#33b8a1" d="M219 322.5h3v2.9h-3zM219 319.9h8.5v2.9h-8.5zM221.8 317.4h3v2.9h-3zM216.3 314.8h3v2.9h-3zM224.5 314.8h3v2.9h-3zM150.7 296.9h3v2.9h-3zM156.2 296.9h3v2.9h-3zM164.4 296.9h3v2.9h-3zM183.5 296.9h8.5v2.9h-8.5zM150.7 294.3h5.8v2.9h-5.8zM180.8 294.3h3v2.9h-3zM156.2 291.8h3v2.9h-3zM161.6 291.8h3v2.9h-3zM158.9 289.2h3v2.9h-3zM137 286.7h5.8v2.9h-5.8zM161.6 286.7h3v2.9h-3zM172.6 286.7h3v2.9h-3zM142.5 284.1h3v2.9h-3zM161.6 284.1h3v2.9h-3zM137 281.5h5.8v2.9h-5.8zM158.9 281.5h5.8v2.9h-5.8zM150.7 279h3v2.9h-3zM76.9 276.4h3v2.9h-3zM150.7 276.4h3v2.9h-3zM74.2 271.3h3v2.9h-3zM82.4 271.3h3v2.9h-3zM164.4 271.3h3v2.9h-3zM199.9 271.3h3v2.9h-3zM208.1 271.3h3v2.9h-3zM194.4 268.7h3v2.9h-3zM210.8 268.7h3v2.9h-3zM210.8 266.2h3v2.9h-3zM55 263.6h5.8v2.9h-5.8zM57.8 261.1h5.8v2.9h-5.8zM175.3 261.1h3v2.9h-3zM186.2 261.1h5.8v2.9h-5.8zM60.5 258.5h3v2.9h-3zM197.2 250.8h3v2.9h-3zM156.2 248.3h3v2.9h-3zM145.2 245.7h3v2.9h-3zM194.4 243.1h3v2.9h-3zM85.1 235.5h11.2v2.9h-11.2zM115.2 235.5h3v2.9h-3zM44.1 232.9h3v2.9h-3zM82.4 232.9h3v2.9h-3zM87.8 232.9h3v2.9h-3zM44.1 230.3h3v2.9h-3zM49.6 230.3h3v2.9h-3zM148 230.3h3v2.9h-3zM55 227.8h3v2.9h-3zM148 227.8h3v2.9h-3zM148 225.2h3v2.9h-3zM49.6 222.7h3v2.9h-3zM44.1 220.1h3v2.9h-3zM169.8 220.1h3v2.9h-3zM41.4 217.5h3v2.9h-3zM27.7 212.4h3v2.9h-3zM41.4 209.9h3v2.9h-3zM205.4 209.9h3v2.9h-3zM44.1 204.7h3v2.9h-3zM208.1 204.7h3v2.9h-3zM41.4 202.2h3v2.9h-3zM49.6 202.2h3v2.9h-3zM191.7 202.2h8.5v2.9h-8.5zM35.9 199.6h3v2.9h-3zM98.8 199.6h3v2.9h-3zM186.2 199.6h3v2.9h-3zM199.9 199.6h5.8v2.9h-5.8zM180.8 197.1h3v2.9h-3zM87.8 194.5h3v2.9h-3zM87.8 191.9h3v2.9h-3z"/><path fill="#47bb95" d="M221.8 322.5h3v2.9h-3zM221.8 314.8h3v2.9h-3zM216.3 309.7h3v2.9h-3zM199.9 296.9h3v2.9h-3zM186.2 294.3h3v2.9h-3zM194.4 294.3h3v2.9h-3zM180.8 291.8h3v2.9h-3zM178 286.7h3v2.9h-3zM137 284.1h3v2.9h-3zM156.2 279h3v2.9h-3zM161.6 279h3v2.9h-3zM153.4 273.9h11.2v2.9h-11.2zM76.9 271.3h3v2.9h-3zM52.3 268.7h3v2.9h-3zM82.4 268.7h3v2.9h-3zM93.3 268.7h3v2.9h-3zM52.3 266.2h3v2.9h-3zM79.6 266.2h3v2.9h-3zM98.8 266.2h3v2.9h-3zM191.7 266.2h3v2.9h-3zM101.5 263.6h3v2.9h-3zM189 263.6h3v2.9h-3zM178 261.1h5.8v2.9h-5.8zM208.1 258.5h3v2.9h-3zM87.8 255.9h3v2.9h-3zM117.9 255.9h3v2.9h-3zM199.9 253.4h3v2.9h-3zM131.6 250.8h3v2.9h-3zM197.2 248.3h3v2.9h-3zM178 243.1h3v2.9h-3zM183.5 243.1h3v2.9h-3zM134.3 240.6h3v2.9h-3zM120.6 238h3v2.9h-3zM126.1 238h5.8v2.9h-5.8zM46.8 232.9h3v2.9h-3zM46.8 230.3h3v2.9h-3zM57.8 227.8h3v2.9h-3zM74.2 227.8h3v2.9h-3zM55 225.2h3v2.9h-3zM52.3 222.7h3v2.9h-3zM79.6 222.7h3v2.9h-3zM161.6 222.7h3v2.9h-3zM169.8 222.7h3v2.9h-3zM46.8 220.1h3v2.9h-3zM172.6 220.1h3v2.9h-3zM44.1 217.5h3v2.9h-3zM175.3 217.5h3v2.9h-3zM197.2 215h3v2.9h-3zM205.4 212.4h3v2.9h-3zM46.8 207.3h3v2.9h-3zM66 207.3h3v2.9h-3zM71.4 207.3h3v2.9h-3zM208.1 207.3h3v2.9h-3zM55 204.7h5.8v2.9h-5.8zM66 204.7h3v2.9h-3zM44.1 202.2h3v2.9h-3zM55 202.2h3v2.9h-3zM76.9 202.2h3v2.9h-3zM79.6 199.6h3v2.9h-3zM189 199.6h3v2.9h-3zM96 197.1h3v2.9h-3z"/><path fill="#52bd8f" d="M224.5 322.5h3v2.9h-3zM219 314.8h3v2.9h-3zM216.3 307.1h3v2.9h-3zM213.6 304.6h3v2.9h-3zM202.6 296.9h3v2.9h-3zM189 294.3h3v2.9h-3zM180.8 289.2h3v2.9h-3zM153.4 276.4h3v2.9h-3zM158.9 276.4h3v2.9h-3zM76.9 273.9h3v2.9h-3zM210.8 271.3h3v2.9h-3zM167.1 268.7h3v2.9h-3zM79.6 263.6h3v2.9h-3zM169.8 263.6h3v2.9h-3zM82.4 261.1h3v2.9h-3zM107 258.5h3v2.9h-3zM134.3 248.3h3v2.9h-3zM153.4 248.3h3v2.9h-3zM142.5 245.7h3v2.9h-3zM158.9 245.7h3v2.9h-3zM164.4 243.1h3v2.9h-3zM180.8 243.1h3v2.9h-3zM199.9 243.1h3v2.9h-3zM90.6 240.6h3v2.9h-3zM131.6 240.6h3v2.9h-3zM98.8 235.5h3v2.9h-3zM112.4 235.5h3v2.9h-3zM60.5 227.8h5.8v2.9h-5.8zM71.4 227.8h3v2.9h-3zM76.9 225.2h3v2.9h-3zM153.4 222.7h8.5v2.9h-8.5zM172.6 222.7h3v2.9h-3zM49.6 220.1h3v2.9h-3zM46.8 217.5h3v2.9h-3zM46.8 215h3v2.9h-3zM46.8 212.4h3v2.9h-3zM44.1 209.9h3v2.9h-3zM76.9 209.9h3v2.9h-3zM49.6 207.3h11.2v2.9h-11.2zM63.2 207.3h3v2.9h-3zM74.2 207.3h3v2.9h-3zM60.5 204.7h5.8v2.9h-5.8zM71.4 204.7h5.8v2.9h-5.8zM210.8 204.7h3v2.9h-3zM194.4 199.6h3v2.9h-3zM183.5 197.1h3v2.9h-3zM197.2 197.1h5.8v2.9h-5.8zM46.8 194.5h3v2.9h-3zM76.9 194.5h3v2.9h-3zM85.1 194.5h3v2.9h-3zM79.6 191.9h3v2.9h-3z"/><path fill="#079bd0" d="M194.4 319.9h3v2.9h-3zM161.6 312.3h3v2.9h-3zM169.8 312.3h3v2.9h-3zM194.4 312.3h3v2.9h-3zM172.6 309.7h3v2.9h-3zM194.4 309.7h5.8v2.9h-5.8zM205.4 309.7h5.8v2.9h-5.8zM194.4 307.1h14v2.9h-14zM194.4 304.6h3v2.9h-3zM199.9 304.6h3v2.9h-3zM142.5 299.5h3v2.9h-3zM131.6 296.9h3v2.9h-3zM139.8 296.9h3v2.9h-3zM126.1 291.8h3v2.9h-3zM123.4 286.7h3v2.9h-3zM71.4 279h3v2.9h-3zM87.8 279h3v2.9h-3zM134.3 279h3v2.9h-3zM46.8 276.4h3v2.9h-3zM90.6 276.4h3v2.9h-3zM68.7 273.9h3v2.9h-3zM93.3 273.9h3v2.9h-3zM60.5 271.3h5.8v2.9h-5.8zM71.4 266.2h3v2.9h-3zM156.2 263.6h5.8v2.9h-5.8zM49.6 261.1h3v2.9h-3zM123.4 258.5h5.8v2.9h-5.8zM164.4 258.5h3v2.9h-3zM55 255.9h3v2.9h-3zM137 250.8h3v2.9h-3zM66 248.3h3v2.9h-3zM172.6 248.3h3v2.9h-3zM27.7 243.1h3v2.9h-3zM71.4 243.1h3v2.9h-3zM71.4 240.6h5.8v2.9h-5.8zM60.5 235.5h3v2.9h-3zM107 230.3h3v2.9h-3zM104.2 227.8h3v2.9h-3zM142.5 225.2h3v2.9h-3zM104.2 217.5h3v2.9h-3zM145.2 217.5h3v2.9h-3zM112.4 215h3v2.9h-3zM142.5 215h5.8v2.9h-5.8zM161.6 215h3v2.9h-3zM90.6 212.4h3v2.9h-3zM145.2 212.4h3v2.9h-3zM33.2 209.9h3v2.9h-3zM98.8 209.9h3v2.9h-3zM107 209.9h3v2.9h-3zM25 207.3h3v2.9h-3zM85.1 204.7h3v2.9h-3zM104.2 202.2h3v2.9h-3zM109.7 197.1h3v2.9h-3zM33.2 191.9h3v2.9h-3zM107 191.9h3v2.9h-3z"/><path fill="#069fce" d="M199.9 319.9h8.5v2.9h-8.5zM194.4 314.8h3v2.9h-3zM164.4 312.3h5.8v2.9h-5.8zM197.2 312.3h3v2.9h-3zM148 309.7h5.8v2.9h-5.8zM156.2 309.7h5.8v2.9h-5.8zM186.2 309.7h3v2.9h-3zM199.9 309.7h5.8v2.9h-5.8zM145.2 307.1h3v2.9h-3zM178 307.1h5.8v2.9h-5.8zM208.1 307.1h3v2.9h-3zM191.7 304.6h3v2.9h-3zM178 302h3v2.9h-3zM128.8 294.3h3v2.9h-3zM123.4 284.1h3v2.9h-3zM126.1 281.5h3v2.9h-3zM49.6 276.4h3v2.9h-3zM44.1 273.9h3v2.9h-3zM55 273.9h3v2.9h-3zM68.7 271.3h3v2.9h-3zM96 271.3h3v2.9h-3zM148 271.3h3v2.9h-3zM44.1 266.2h3v2.9h-3zM68.7 266.2h3v2.9h-3zM202.6 266.2h3v2.9h-3zM46.8 263.6h3v2.9h-3zM68.7 263.6h3v2.9h-3zM161.6 263.6h3v2.9h-3zM199.9 263.6h5.8v2.9h-5.8zM74.2 261.1h3v2.9h-3zM109.7 261.1h3v2.9h-3zM199.9 261.1h3v2.9h-3zM71.4 258.5h5.8v2.9h-5.8zM120.6 258.5h3v2.9h-3zM150.7 255.9h3v2.9h-3zM156.2 255.9h3v2.9h-3zM172.6 255.9h3v2.9h-3zM175.3 253.4h3v2.9h-3zM158.9 250.8h3v2.9h-3zM68.7 248.3h3v2.9h-3zM161.6 248.3h3v2.9h-3zM71.4 245.7h3v2.9h-3zM30.4 243.1h3v2.9h-3zM74.2 243.1h3v2.9h-3zM63.2 240.6h8.5v2.9h-8.5zM46.8 238h3v2.9h-3zM71.4 238h5.8v2.9h-5.8zM27.7 235.5h3v2.9h-3zM33.2 232.9h3v2.9h-3zM35.9 230.3h3v2.9h-3zM35.9 227.8h3v2.9h-3zM142.5 227.8h3v2.9h-3zM33.2 222.7h3v2.9h-3zM145.2 220.1h3v2.9h-3zM30.4 217.5h3v2.9h-3zM148 217.5h3v2.9h-3zM25 215h3v2.9h-3zM109.7 215h3v2.9h-3zM148 215h3v2.9h-3zM153.4 215h8.5v2.9h-8.5zM172.6 215h3v2.9h-3zM87.8 212.4h3v2.9h-3zM96 212.4h3v2.9h-3zM142.5 212.4h3v2.9h-3zM180.8 212.4h3v2.9h-3zM85.1 209.9h3v2.9h-3zM186.2 207.3h3v2.9h-3zM183.5 204.7h3v2.9h-3zM90.6 202.2h5.8v2.9h-5.8zM107 199.6h3v2.9h-3zM172.6 194.5h3v2.9h-3z"/><path fill="#06a6c7" d="M208.1 319.9h3v2.9h-3zM202.6 317.4h5.8v2.9h-5.8zM197.2 314.8h3v2.9h-3zM202.6 314.8h8.5v2.9h-8.5zM199.9 312.3h8.5v2.9h-8.5zM156.2 307.1h5.8v2.9h-5.8zM172.6 307.1h3v2.9h-3zM186.2 307.1h3v2.9h-3zM145.2 304.6h3v2.9h-3zM145.2 302h3v2.9h-3zM175.3 302h3v2.9h-3zM194.4 302h3v2.9h-3zM199.9 302h3v2.9h-3zM142.5 296.9h3v2.9h-3zM131.6 294.3h3v2.9h-3zM137 294.3h3v2.9h-3zM128.8 291.8h3v2.9h-3zM85.1 279h3v2.9h-3zM137 279h5.8v2.9h-5.8zM71.4 276.4h3v2.9h-3zM87.8 276.4h3v2.9h-3zM52.3 273.9h3v2.9h-3zM44.1 271.3h3v2.9h-3zM44.1 268.7h3v2.9h-3zM60.5 268.7h5.8v2.9h-5.8zM71.4 268.7h3v2.9h-3zM74.2 266.2h3v2.9h-3zM156.2 266.2h5.8v2.9h-5.8zM197.2 263.6h3v2.9h-3zM205.4 263.6h3v2.9h-3zM117.9 258.5h3v2.9h-3zM199.9 258.5h3v2.9h-3zM74.2 255.9h5.8v2.9h-5.8zM131.6 255.9h3v2.9h-3zM175.3 255.9h3v2.9h-3zM76.9 253.4h8.5v2.9h-8.5zM156.2 253.4h3v2.9h-3zM76.9 250.8h5.8v2.9h-5.8zM85.1 250.8h3v2.9h-3zM71.4 248.3h3v2.9h-3zM76.9 248.3h5.8v2.9h-5.8zM139.8 248.3h5.8v2.9h-5.8zM175.3 248.3h3v2.9h-3zM186.2 248.3h3v2.9h-3zM74.2 245.7h5.8v2.9h-5.8zM82.4 245.7h3v2.9h-3zM172.6 245.7h3v2.9h-3zM76.9 243.1h3v2.9h-3zM27.7 240.6h3v2.9h-3zM27.7 238h3v2.9h-3zM68.7 238h3v2.9h-3zM63.2 235.5h3v2.9h-3zM74.2 235.5h5.8v2.9h-5.8zM38.6 230.3h3v2.9h-3zM104.2 230.3h3v2.9h-3zM38.6 227.8h3v2.9h-3zM101.5 222.7h3v2.9h-3zM33.2 220.1h3v2.9h-3zM101.5 220.1h3v2.9h-3zM85.1 217.5h5.8v2.9h-5.8zM101.5 217.5h3v2.9h-3zM150.7 217.5h3v2.9h-3zM85.1 215h5.8v2.9h-5.8zM101.5 215h3v2.9h-3zM98.8 212.4h3v2.9h-3zM107 212.4h3v2.9h-3zM35.9 209.9h3v2.9h-3zM82.4 204.7h3v2.9h-3zM186.2 204.7h3v2.9h-3zM98.8 202.2h3v2.9h-3zM178 199.6h3v2.9h-3zM107 197.1h3v2.9h-3zM172.6 191.9h3v2.9h-3z"/><path fill="#0dadbb" d="M213.6 319.9h3v2.9h-3zM164.4 307.1h3v2.9h-3zM150.7 304.6h5.8v2.9h-5.8zM172.6 304.6h3v2.9h-3zM208.1 304.6h3v2.9h-3zM148 302h3v2.9h-3zM202.6 302h3v2.9h-3zM178 299.5h3v2.9h-3zM194.4 299.5h3v2.9h-3zM145.2 296.9h3v2.9h-3zM134.3 291.8h5.8v2.9h-5.8zM169.8 291.8h3v2.9h-3zM131.6 289.2h3v2.9h-3zM150.7 286.7h3v2.9h-3zM131.6 281.5h3v2.9h-3zM145.2 279h3v2.9h-3zM85.1 276.4h3v2.9h-3zM148 276.4h3v2.9h-3zM71.4 273.9h3v2.9h-3zM71.4 271.3h3v2.9h-3zM156.2 268.7h3v2.9h-3zM63.2 266.2h3v2.9h-3zM208.1 266.2h3v2.9h-3zM49.6 263.6h3v2.9h-3zM66 263.6h3v2.9h-3zM194.4 263.6h3v2.9h-3zM66 261.1h3v2.9h-3zM76.9 261.1h3v2.9h-3zM107 261.1h3v2.9h-3zM167.1 261.1h3v2.9h-3zM115.2 258.5h3v2.9h-3zM172.6 258.5h3v2.9h-3zM202.6 258.5h3v2.9h-3zM82.4 255.9h3v2.9h-3zM191.7 255.9h3v2.9h-3zM60.5 253.4h3v2.9h-3zM180.8 253.4h3v2.9h-3zM189 253.4h8.5v2.9h-8.5zM134.3 250.8h3v2.9h-3zM156.2 250.8h3v2.9h-3zM180.8 250.8h5.8v2.9h-5.8zM191.7 250.8h3v2.9h-3zM145.2 248.3h3v2.9h-3zM158.9 248.3h3v2.9h-3zM180.8 248.3h3v2.9h-3zM191.7 248.3h3v2.9h-3zM183.5 245.7h3v2.9h-3zM82.4 243.1h5.8v2.9h-5.8zM30.4 240.6h3v2.9h-3zM79.6 240.6h3v2.9h-3zM33.2 238h5.8v2.9h-5.8zM41.4 238h3v2.9h-3zM68.7 235.5h3v2.9h-3zM79.6 235.5h3v2.9h-3zM117.9 235.5h3v2.9h-3zM126.1 235.5h3v2.9h-3zM134.3 235.5h3v2.9h-3zM139.8 235.5h5.8v2.9h-5.8zM63.2 232.9h3v2.9h-3zM76.9 232.9h3v2.9h-3zM145.2 232.9h3v2.9h-3zM96 230.3h3v2.9h-3zM145.2 230.3h3v2.9h-3zM41.4 227.8h3v2.9h-3zM41.4 225.2h3v2.9h-3zM98.8 225.2h3v2.9h-3zM38.6 222.7h3v2.9h-3zM85.1 222.7h3v2.9h-3zM98.8 222.7h3v2.9h-3zM35.9 220.1h3v2.9h-3zM98.8 220.1h3v2.9h-3zM150.7 220.1h3v2.9h-3zM82.4 217.5h3v2.9h-3zM98.8 217.5h3v2.9h-3zM169.8 217.5h3v2.9h-3zM82.4 215h3v2.9h-3zM82.4 212.4h3v2.9h-3zM82.4 209.9h3v2.9h-3zM191.7 209.9h5.8v2.9h-5.8zM199.9 204.7h5.8v2.9h-5.8zM186.2 202.2h3v2.9h-3zM87.8 199.6h3v2.9h-3zM178 197.1h3v2.9h-3zM104.2 191.9h3v2.9h-3zM175.3 191.9h3v2.9h-3z"/><path fill="#1ab2b1" d="M216.3 319.9h3v2.9h-3zM213.6 312.3h3v2.9h-3zM169.8 304.6h3v2.9h-3zM153.4 302h5.8v2.9h-5.8zM164.4 302h3v2.9h-3zM205.4 302h3v2.9h-3zM189 299.5h5.8v2.9h-5.8zM148 296.9h3v2.9h-3zM194.4 296.9h3v2.9h-3zM167.1 294.3h3v2.9h-3zM172.6 294.3h3v2.9h-3zM148 291.8h3v2.9h-3zM164.4 291.8h3v2.9h-3zM175.3 291.8h3v2.9h-3zM137 289.2h3v2.9h-3zM142.5 289.2h5.8v2.9h-5.8zM153.4 289.2h3v2.9h-3zM169.8 289.2h5.8v2.9h-5.8zM131.6 286.7h3v2.9h-3zM148 286.7h3v2.9h-3zM156.2 286.7h3v2.9h-3zM128.8 284.1h3v2.9h-3zM150.7 284.1h5.8v2.9h-5.8zM148 279h3v2.9h-3zM82.4 276.4h3v2.9h-3zM87.8 273.9h3v2.9h-3zM46.8 268.7h3v2.9h-3zM57.8 266.2h3v2.9h-3zM164.4 266.2h3v2.9h-3zM194.4 266.2h3v2.9h-3zM76.9 263.6h3v2.9h-3zM191.7 261.1h3v2.9h-3zM79.6 258.5h3v2.9h-3zM66 255.9h3v2.9h-3zM85.1 255.9h3v2.9h-3zM128.8 255.9h3v2.9h-3zM186.2 255.9h3v2.9h-3zM199.9 255.9h3v2.9h-3zM66 253.4h5.8v2.9h-5.8zM197.2 253.4h3v2.9h-3zM87.8 250.8h3v2.9h-3zM153.4 250.8h3v2.9h-3zM87.8 248.3h3v2.9h-3zM87.8 245.7h3v2.9h-3zM172.6 243.1h3v2.9h-3zM85.1 240.6h3v2.9h-3zM82.4 238h3v2.9h-3zM145.2 235.5h3v2.9h-3zM41.4 232.9h3v2.9h-3zM55 232.9h3v2.9h-3zM79.6 232.9h3v2.9h-3zM93.3 232.9h3v2.9h-3zM101.5 232.9h5.8v2.9h-5.8zM44.1 225.2h8.5v2.9h-8.5zM85.1 225.2h5.8v2.9h-5.8zM90.6 222.7h3v2.9h-3zM148 222.7h3v2.9h-3zM38.6 220.1h3v2.9h-3zM93.3 220.1h5.8v2.9h-5.8zM156.2 220.1h5.8v2.9h-5.8zM35.9 217.5h3v2.9h-3zM33.2 215h3v2.9h-3zM178 215h3v2.9h-3zM197.2 212.4h5.8v2.9h-5.8zM79.6 204.7h3v2.9h-3zM194.4 204.7h5.8v2.9h-5.8zM205.4 204.7h3v2.9h-3zM38.6 202.2h3v2.9h-3zM189 202.2h3v2.9h-3zM96 199.6h3v2.9h-3zM90.6 197.1h3v2.9h-3zM35.9 191.9h3v2.9h-3zM90.6 191.9h5.8v2.9h-5.8z"/><path fill="#2ab6a7" d="M216.3 317.4h3v2.9h-3zM210.8 304.6h3v2.9h-3zM153.4 299.5h5.8v2.9h-5.8zM164.4 299.5h8.5v2.9h-8.5zM167.1 296.9h3v2.9h-3zM180.8 296.9h3v2.9h-3zM197.2 296.9h3v2.9h-3zM164.4 294.3h3v2.9h-3zM178 294.3h3v2.9h-3zM153.4 291.8h3v2.9h-3zM178 291.8h3v2.9h-3zM156.2 289.2h3v2.9h-3zM161.6 289.2h3v2.9h-3zM178 289.2h3v2.9h-3zM142.5 286.7h3v2.9h-3zM158.9 286.7h3v2.9h-3zM169.8 286.7h3v2.9h-3zM131.6 284.1h3v2.9h-3zM145.2 284.1h3v2.9h-3zM158.9 284.1h3v2.9h-3zM164.4 284.1h5.8v2.9h-5.8zM142.5 281.5h3v2.9h-3zM150.7 281.5h8.5v2.9h-8.5zM79.6 276.4h3v2.9h-3zM82.4 273.9h3v2.9h-3zM150.7 273.9h3v2.9h-3zM49.6 271.3h3v2.9h-3zM156.2 271.3h5.8v2.9h-5.8zM202.6 271.3h5.8v2.9h-5.8zM76.9 268.7h3v2.9h-3zM96 268.7h3v2.9h-3zM49.6 266.2h3v2.9h-3zM52.3 263.6h3v2.9h-3zM60.5 263.6h3v2.9h-3zM167.1 263.6h3v2.9h-3zM191.7 263.6h3v2.9h-3zM172.6 261.1h3v2.9h-3zM208.1 261.1h3v2.9h-3zM63.2 258.5h3v2.9h-3zM82.4 258.5h3v2.9h-3zM180.8 258.5h8.5v2.9h-8.5zM120.6 255.9h3v2.9h-3zM87.8 253.4h3v2.9h-3zM175.3 243.1h3v2.9h-3zM186.2 243.1h3v2.9h-3zM191.7 243.1h3v2.9h-3zM87.8 240.6h3v2.9h-3zM87.8 238h3v2.9h-3zM134.3 238h8.5v2.9h-8.5zM44.1 235.5h3v2.9h-3zM52.3 232.9h3v2.9h-3zM90.6 232.9h3v2.9h-3zM148 232.9h3v2.9h-3zM52.3 230.3h14v2.9h-14zM71.4 230.3h3v2.9h-3zM79.6 230.3h11.2v2.9h-11.2zM46.8 227.8h3v2.9h-3zM82.4 227.8h3v2.9h-3zM52.3 225.2h3v2.9h-3zM90.6 225.2h5.8v2.9h-5.8zM46.8 222.7h3v2.9h-3zM93.3 222.7h3v2.9h-3zM41.4 220.1h3v2.9h-3zM38.6 217.5h3v2.9h-3zM35.9 215h3v2.9h-3zM189 212.4h5.8v2.9h-5.8zM202.6 212.4h3v2.9h-3zM79.6 209.9h3v2.9h-3zM46.8 204.7h5.8v2.9h-5.8zM85.1 199.6h3v2.9h-3zM183.5 199.6h3v2.9h-3zM93.3 194.5h3v2.9h-3zM98.8 191.9h5.8v2.9h-5.8zM178 191.9h3v2.9h-3z"/><path fill="#3dba9b" d="M219 317.4h3v2.9h-3zM216.3 312.3h3v2.9h-3zM208.1 302h3v2.9h-3zM205.4 299.5h3v2.9h-3zM153.4 296.9h3v2.9h-3zM158.9 296.9h5.8v2.9h-5.8zM156.2 294.3h8.5v2.9h-8.5zM183.5 294.3h3v2.9h-3zM191.7 294.3h3v2.9h-3zM158.9 291.8h3v2.9h-3zM175.3 286.7h3v2.9h-3zM134.3 284.1h3v2.9h-3zM139.8 284.1h3v2.9h-3zM169.8 284.1h3v2.9h-3zM164.4 281.5h5.8v2.9h-5.8zM153.4 279h3v2.9h-3zM158.9 279h3v2.9h-3zM74.2 273.9h3v2.9h-3zM79.6 273.9h3v2.9h-3zM79.6 271.3h3v2.9h-3zM85.1 271.3h5.8v2.9h-5.8zM197.2 271.3h3v2.9h-3zM49.6 268.7h3v2.9h-3zM79.6 268.7h3v2.9h-3zM55 266.2h3v2.9h-3zM167.1 266.2h3v2.9h-3zM210.8 263.6h3v2.9h-3zM79.6 261.1h3v2.9h-3zM104.2 261.1h3v2.9h-3zM183.5 261.1h3v2.9h-3zM85.1 258.5h3v2.9h-3zM109.7 258.5h3v2.9h-3zM202.6 255.9h3v2.9h-3zM150.7 248.3h3v2.9h-3zM148 245.7h3v2.9h-3zM197.2 245.7h3v2.9h-3zM167.1 243.1h3v2.9h-3zM197.2 243.1h3v2.9h-3zM90.6 238h3v2.9h-3zM123.4 238h3v2.9h-3zM131.6 238h3v2.9h-3zM142.5 238h3v2.9h-3zM96 235.5h3v2.9h-3zM148 235.5h3v2.9h-3zM49.6 232.9h3v2.9h-3zM85.1 232.9h3v2.9h-3zM66 230.3h5.8v2.9h-5.8zM76.9 227.8h5.8v2.9h-5.8zM79.6 225.2h3v2.9h-3zM150.7 222.7h3v2.9h-3zM164.4 222.7h5.8v2.9h-5.8zM79.6 220.1h3v2.9h-3zM79.6 217.5h3v2.9h-3zM38.6 215h8.5v2.9h-8.5zM79.6 215h3v2.9h-3zM180.8 215h3v2.9h-3zM199.9 215h5.8v2.9h-5.8zM38.6 212.4h8.5v2.9h-8.5zM79.6 212.4h3v2.9h-3zM44.1 207.3h3v2.9h-3zM68.7 207.3h3v2.9h-3zM76.9 207.3h3v2.9h-3zM52.3 204.7h3v2.9h-3zM68.7 204.7h3v2.9h-3zM76.9 204.7h3v2.9h-3zM46.8 202.2h3v2.9h-3zM52.3 202.2h3v2.9h-3zM208.1 202.2h3v2.9h-3zM82.4 199.6h3v2.9h-3zM197.2 199.6h3v2.9h-3zM205.4 199.6h3v2.9h-3zM35.9 197.1h3v2.9h-3zM85.1 197.1h3v2.9h-3zM38.6 194.5h3v2.9h-3zM96 194.5h3v2.9h-3zM38.6 191.9h3v2.9h-3z"/><path fill="#21b4ac" d="M224.5 317.4h3v2.9h-3zM213.6 307.1h3v2.9h-3zM167.1 304.6h3v2.9h-3zM167.1 302h5.8v2.9h-5.8zM150.7 299.5h3v2.9h-3zM158.9 299.5h5.8v2.9h-5.8zM172.6 299.5h3v2.9h-3zM183.5 299.5h5.8v2.9h-5.8zM202.6 299.5h3v2.9h-3zM169.8 296.9h11.2v2.9h-11.2zM191.7 296.9h3v2.9h-3zM148 294.3h3v2.9h-3zM175.3 294.3h3v2.9h-3zM150.7 291.8h3v2.9h-3zM139.8 289.2h3v2.9h-3zM164.4 289.2h3v2.9h-3zM175.3 289.2h3v2.9h-3zM134.3 286.7h3v2.9h-3zM145.2 286.7h3v2.9h-3zM164.4 286.7h5.8v2.9h-5.8zM148 284.1h3v2.9h-3zM156.2 284.1h3v2.9h-3zM134.3 281.5h3v2.9h-3zM145.2 281.5h5.8v2.9h-5.8zM74.2 276.4h3v2.9h-3zM85.1 273.9h3v2.9h-3zM52.3 271.3h3v2.9h-3zM90.6 271.3h3v2.9h-3zM153.4 271.3h3v2.9h-3zM161.6 271.3h3v2.9h-3zM55 268.7h3v2.9h-3zM164.4 268.7h3v2.9h-3zM76.9 266.2h3v2.9h-3zM63.2 263.6h3v2.9h-3zM55 261.1h3v2.9h-3zM63.2 261.1h3v2.9h-3zM169.8 261.1h3v2.9h-3zM57.8 258.5h3v2.9h-3zM112.4 258.5h3v2.9h-3zM178 258.5h3v2.9h-3zM189 258.5h3v2.9h-3zM205.4 258.5h3v2.9h-3zM60.5 255.9h5.8v2.9h-5.8zM123.4 255.9h5.8v2.9h-5.8zM183.5 255.9h3v2.9h-3zM131.6 253.4h3v2.9h-3zM148 248.3h3v2.9h-3zM194.4 248.3h3v2.9h-3zM161.6 245.7h3v2.9h-3zM194.4 245.7h3v2.9h-3zM87.8 243.1h3v2.9h-3zM169.8 243.1h3v2.9h-3zM189 243.1h3v2.9h-3zM85.1 238h3v2.9h-3zM41.4 235.5h3v2.9h-3zM46.8 235.5h3v2.9h-3zM82.4 235.5h3v2.9h-3zM66 232.9h5.8v2.9h-5.8zM74.2 230.3h5.8v2.9h-5.8zM90.6 230.3h3v2.9h-3zM44.1 227.8h3v2.9h-3zM49.6 227.8h5.8v2.9h-5.8zM85.1 227.8h11.2v2.9h-11.2zM82.4 225.2h3v2.9h-3zM96 225.2h3v2.9h-3zM44.1 222.7h3v2.9h-3zM82.4 222.7h3v2.9h-3zM96 222.7h3v2.9h-3zM161.6 220.1h8.5v2.9h-8.5zM172.6 217.5h3v2.9h-3zM30.4 212.4h3v2.9h-3zM35.9 212.4h3v2.9h-3zM194.4 212.4h3v2.9h-3zM41.4 207.3h3v2.9h-3zM79.6 207.3h3v2.9h-3zM205.4 207.3h3v2.9h-3zM41.4 204.7h3v2.9h-3zM79.6 202.2h3v2.9h-3zM199.9 202.2h8.5v2.9h-8.5zM101.5 199.6h3v2.9h-3zM87.8 197.1h3v2.9h-3zM93.3 197.1h3v2.9h-3zM104.2 197.1h3v2.9h-3zM35.9 194.5h3v2.9h-3zM90.6 194.5h3v2.9h-3zM104.2 194.5h3v2.9h-3zM178 194.5h3v2.9h-3zM96 191.9h3v2.9h-3z"/><path fill="#5ebe89" d="M219 312.3h3v2.9h-3zM224.5 312.3h3v2.9h-3zM210.8 302h3v2.9h-3zM208.1 299.5h3v2.9h-3zM183.5 291.8h5.8v2.9h-5.8zM172.6 284.1h3v2.9h-3zM169.8 281.5h3v2.9h-3zM164.4 279h3v2.9h-3zM156.2 276.4h3v2.9h-3zM161.6 276.4h3v2.9h-3zM164.4 273.9h3v2.9h-3zM85.1 268.7h3v2.9h-3zM213.6 268.7h3v2.9h-3zM224.5 268.7h3v2.9h-3zM82.4 266.2h3v2.9h-3zM213.6 266.2h3v2.9h-3zM224.5 266.2h3v2.9h-3zM172.6 263.6h3v2.9h-3zM186.2 263.6h3v2.9h-3zM213.6 263.6h3v2.9h-3zM210.8 261.1h3v2.9h-3zM205.4 255.9h3v2.9h-3zM128.8 253.4h3v2.9h-3zM199.9 245.7h3v2.9h-3zM191.7 240.6h5.8v2.9h-5.8zM93.3 238h3v2.9h-3zM109.7 235.5h3v2.9h-3zM150.7 232.9h3v2.9h-3zM57.8 225.2h3v2.9h-3zM74.2 225.2h3v2.9h-3zM167.1 225.2h5.8v2.9h-5.8zM76.9 222.7h3v2.9h-3zM194.4 215h3v2.9h-3zM208.1 209.9h3v2.9h-3zM60.5 207.3h3v2.9h-3zM210.8 207.3h8.5v2.9h-8.5zM57.8 202.2h3v2.9h-3zM63.2 202.2h5.8v2.9h-5.8zM38.6 199.6h3v2.9h-3zM191.7 199.6h3v2.9h-3zM208.1 199.6h3v2.9h-3zM38.6 197.1h3v2.9h-3zM46.8 197.1h3v2.9h-3zM202.6 197.1h3v2.9h-3zM41.4 194.5h5.8v2.9h-5.8zM98.8 194.5h5.8v2.9h-5.8zM180.8 194.5h3v2.9h-3z"/><path fill="#6abe83" d="M221.8 312.3h3v2.9h-3zM216.3 304.6h3v2.9h-3zM205.4 296.9h3v2.9h-3zM197.2 294.3h3v2.9h-3zM189 291.8h3v2.9h-3zM208.1 273.9h3v2.9h-3zM167.1 271.3h3v2.9h-3zM194.4 271.3h3v2.9h-3zM87.8 268.7h5.8v2.9h-5.8zM82.4 263.6h3v2.9h-3zM175.3 263.6h3v2.9h-3zM85.1 261.1h3v2.9h-3zM87.8 258.5h3v2.9h-3zM90.6 250.8h3v2.9h-3zM199.9 250.8h3v2.9h-3zM90.6 248.3h3v2.9h-3zM90.6 245.7h3v2.9h-3zM150.7 245.7h3v2.9h-3zM90.6 243.1h3v2.9h-3zM172.6 240.6h3v2.9h-3zM189 240.6h3v2.9h-3zM197.2 240.6h3v2.9h-3zM145.2 238h3v2.9h-3zM107 235.5h3v2.9h-3zM150.7 235.5h3v2.9h-3zM66 227.8h5.8v2.9h-5.8zM164.4 225.2h3v2.9h-3zM172.6 225.2h3v2.9h-3zM55 222.7h3v2.9h-3zM175.3 222.7h3v2.9h-3zM175.3 220.1h3v2.9h-3zM49.6 217.5h3v2.9h-3zM49.6 215h3v2.9h-3zM183.5 215h3v2.9h-3zM205.4 215h3v2.9h-3zM46.8 209.9h3v2.9h-3zM52.3 209.9h5.8v2.9h-5.8zM213.6 204.7h3v2.9h-3zM60.5 202.2h3v2.9h-3zM68.7 202.2h3v2.9h-3zM74.2 202.2h3v2.9h-3zM210.8 202.2h3v2.9h-3zM41.4 199.6h14v2.9h-14zM41.4 197.1h5.8v2.9h-5.8zM49.6 197.1h3v2.9h-3zM76.9 197.1h3v2.9h-3zM82.4 197.1h3v2.9h-3zM101.5 197.1h3v2.9h-3zM186.2 197.1h3v2.9h-3zM194.4 197.1h3v2.9h-3zM49.6 194.5h3v2.9h-3zM41.4 191.9h3v2.9h-3zM76.9 191.9h3v2.9h-3zM85.1 191.9h3v2.9h-3zM180.8 191.9h3v2.9h-3zM202.6 191.9h3v2.9h-3z"/><path fill="#75bf7e" d="M219 309.7h3v2.9h-3zM224.5 309.7h3v2.9h-3zM219 307.1h3v2.9h-3zM224.5 307.1h3v2.9h-3zM219 304.6h3v2.9h-3zM224.5 304.6h3v2.9h-3zM213.6 302h3v2.9h-3zM210.8 299.5h3v2.9h-3zM191.7 291.8h3v2.9h-3zM183.5 289.2h3v2.9h-3zM180.8 286.7h3v2.9h-3zM175.3 284.1h3v2.9h-3zM167.1 279h3v2.9h-3zM164.4 276.4h3v2.9h-3zM205.4 273.9h3v2.9h-3zM224.5 271.3h3v2.9h-3zM191.7 268.7h3v2.9h-3zM216.3 268.7h8.5v2.9h-8.5zM169.8 266.2h3v2.9h-3zM189 266.2h3v2.9h-3zM216.3 266.2h3v2.9h-3zM221.8 266.2h3v2.9h-3zM178 263.6h3v2.9h-3zM183.5 263.6h3v2.9h-3zM224.5 263.6h3v2.9h-3zM115.2 255.9h3v2.9h-3zM90.6 253.4h3v2.9h-3zM199.9 248.3h3v2.9h-3zM202.6 245.7h3v2.9h-3zM202.6 243.1h3v2.9h-3zM169.8 240.6h3v2.9h-3zM117.9 238h3v2.9h-3zM101.5 235.5h3v2.9h-3zM60.5 225.2h3v2.9h-3zM150.7 225.2h3v2.9h-3zM175.3 225.2h3v2.9h-3zM74.2 222.7h3v2.9h-3zM52.3 220.1h3v2.9h-3zM199.9 217.5h5.8v2.9h-5.8zM49.6 212.4h3v2.9h-3zM49.6 209.9h3v2.9h-3zM57.8 209.9h3v2.9h-3zM74.2 209.9h3v2.9h-3zM210.8 209.9h8.5v2.9h-8.5zM219 207.3h3v2.9h-3zM71.4 202.2h3v2.9h-3zM76.9 199.6h3v2.9h-3zM74.2 197.1h3v2.9h-3zM98.8 197.1h3v2.9h-3zM205.4 197.1h3v2.9h-3zM74.2 194.5h3v2.9h-3zM82.4 194.5h3v2.9h-3zM197.2 194.5h5.8v2.9h-5.8zM44.1 191.9h11.2v2.9h-11.2zM82.4 191.9h3v2.9h-3zM205.4 191.9h3v2.9h-3z"/><path fill="#80bf7a" d="M221.8 309.7h3v2.9h-3zM221.8 307.1h3v2.9h-3zM224.5 302h3v2.9h-3zM224.5 299.5h3v2.9h-3zM208.1 296.9h3v2.9h-3zM199.9 294.3h3v2.9h-3zM194.4 291.8h3v2.9h-3zM186.2 289.2h3v2.9h-3zM167.1 273.9h3v2.9h-3zM199.9 273.9h5.8v2.9h-5.8zM210.8 273.9h3v2.9h-3zM213.6 271.3h3v2.9h-3zM221.8 271.3h3v2.9h-3zM169.8 268.7h3v2.9h-3zM85.1 266.2h3v2.9h-3zM219 266.2h3v2.9h-3zM85.1 263.6h3v2.9h-3zM180.8 263.6h3v2.9h-3zM216.3 263.6h3v2.9h-3zM221.8 263.6h3v2.9h-3zM213.6 261.1h3v2.9h-3zM208.1 255.9h3v2.9h-3zM126.1 253.4h3v2.9h-3zM202.6 253.4h3v2.9h-3zM156.2 245.7h3v2.9h-3zM161.6 243.1h3v2.9h-3zM137 240.6h3v2.9h-3zM175.3 240.6h3v2.9h-3zM186.2 240.6h3v2.9h-3zM199.9 240.6h3v2.9h-3zM221.8 238h5.8v2.9h-5.8zM104.2 235.5h3v2.9h-3zM150.7 230.3h3v2.9h-3zM150.7 227.8h3v2.9h-3zM71.4 225.2h3v2.9h-3zM161.6 225.2h3v2.9h-3zM57.8 222.7h3v2.9h-3zM76.9 220.1h3v2.9h-3zM191.7 215h3v2.9h-3zM52.3 212.4h3v2.9h-3zM76.9 212.4h3v2.9h-3zM208.1 212.4h3v2.9h-3zM60.5 209.9h3v2.9h-3zM66 209.9h8.5v2.9h-8.5zM219 209.9h3v2.9h-3zM224.5 209.9h3v2.9h-3zM224.5 207.3h3v2.9h-3zM55 199.6h3v2.9h-3zM74.2 199.6h3v2.9h-3zM79.6 197.1h3v2.9h-3zM189 197.1h5.8v2.9h-5.8zM79.6 194.5h3v2.9h-3zM202.6 194.5h3v2.9h-3zM197.2 191.9h5.8v2.9h-5.8z"/><path fill="#8bbf75" d="M221.8 304.6h3v2.9h-3zM216.3 302h3v2.9h-3zM213.6 299.5h3v2.9h-3zM202.6 294.3h3v2.9h-3zM189 289.2h3v2.9h-3zM178 284.1h3v2.9h-3zM172.6 281.5h3v2.9h-3zM169.8 279h3v2.9h-3zM167.1 276.4h3v2.9h-3zM197.2 273.9h3v2.9h-3zM224.5 273.9h3v2.9h-3zM216.3 271.3h5.8v2.9h-5.8zM172.6 266.2h3v2.9h-3zM219 263.6h3v2.9h-3zM104.2 258.5h3v2.9h-3zM210.8 258.5h3v2.9h-3zM123.4 253.4h3v2.9h-3zM139.8 245.7h3v2.9h-3zM153.4 245.7h3v2.9h-3zM148 243.1h3v2.9h-3zM128.8 240.6h3v2.9h-3zM96 238h3v2.9h-3zM219 238h3v2.9h-3zM224.5 235.5h3v2.9h-3zM167.1 227.8h5.8v2.9h-5.8zM63.2 225.2h3v2.9h-3zM55 220.1h3v2.9h-3zM52.3 217.5h3v2.9h-3zM178 217.5h3v2.9h-3zM197.2 217.5h3v2.9h-3zM186.2 215h3v2.9h-3zM55 212.4h3v2.9h-3zM63.2 209.9h3v2.9h-3zM221.8 209.9h3v2.9h-3zM221.8 207.3h3v2.9h-3zM216.3 204.7h3v2.9h-3zM63.2 199.6h5.8v2.9h-5.8zM71.4 199.6h3v2.9h-3zM52.3 194.5h3v2.9h-3zM183.5 194.5h3v2.9h-3zM194.4 194.5h3v2.9h-3zM205.4 194.5h3v2.9h-3zM55 191.9h3v2.9h-3zM74.2 191.9h3v2.9h-3z"/><path fill="#95bf71" d="M219 302h5.8v2.9h-5.8zM210.8 296.9h3v2.9h-3zM224.5 296.9h3v2.9h-3zM205.4 294.3h3v2.9h-3zM197.2 291.8h3v2.9h-3zM191.7 289.2h3v2.9h-3zM183.5 286.7h3v2.9h-3zM208.1 276.4h3v2.9h-3zM169.8 271.3h3v2.9h-3zM87.8 266.2h3v2.9h-3zM96 266.2h3v2.9h-3zM175.3 266.2h3v2.9h-3zM186.2 266.2h3v2.9h-3zM87.8 261.1h3v2.9h-3zM101.5 261.1h3v2.9h-3zM216.3 261.1h11.2v2.9h-11.2zM90.6 255.9h3v2.9h-3zM120.6 253.4h3v2.9h-3zM128.8 250.8h3v2.9h-3zM150.7 243.1h3v2.9h-3zM158.9 243.1h3v2.9h-3zM93.3 240.6h3v2.9h-3zM167.1 240.6h3v2.9h-3zM148 238h3v2.9h-3zM153.4 235.5h3v2.9h-3zM221.8 235.5h3v2.9h-3zM164.4 227.8h3v2.9h-3zM158.9 225.2h3v2.9h-3zM178 225.2h3v2.9h-3zM60.5 222.7h3v2.9h-3zM178 222.7h3v2.9h-3zM76.9 217.5h3v2.9h-3zM205.4 217.5h3v2.9h-3zM52.3 215h3v2.9h-3zM76.9 215h3v2.9h-3zM189 215h3v2.9h-3zM57.8 212.4h3v2.9h-3zM57.8 199.6h5.8v2.9h-5.8zM68.7 199.6h3v2.9h-3zM52.3 197.1h3v2.9h-3zM208.1 197.1h3v2.9h-3zM186.2 194.5h3v2.9h-3z"/><path fill="#9fbe6d" d="M216.3 299.5h3v2.9h-3zM221.8 299.5h3v2.9h-3zM213.6 296.9h3v2.9h-3zM208.1 294.3h3v2.9h-3zM194.4 289.2h3v2.9h-3zM194.4 273.9h3v2.9h-3zM213.6 273.9h3v2.9h-3zM221.8 273.9h3v2.9h-3zM183.5 266.2h3v2.9h-3zM98.8 263.6h3v2.9h-3zM112.4 255.9h3v2.9h-3zM205.4 253.4h3v2.9h-3zM202.6 250.8h3v2.9h-3zM131.6 248.3h3v2.9h-3zM202.6 248.3h3v2.9h-3zM205.4 245.7h3v2.9h-3zM153.4 243.1h5.8v2.9h-5.8zM205.4 243.1h3v2.9h-3zM126.1 240.6h3v2.9h-3zM202.6 240.6h3v2.9h-3zM221.8 240.6h5.8v2.9h-5.8zM191.7 238h3v2.9h-3zM216.3 238h3v2.9h-3zM153.4 232.9h3v2.9h-3zM224.5 232.9h3v2.9h-3zM161.6 227.8h3v2.9h-3zM172.6 227.8h3v2.9h-3zM68.7 225.2h3v2.9h-3zM153.4 225.2h5.8v2.9h-5.8zM57.8 220.1h3v2.9h-3zM55 217.5h3v2.9h-3zM55 215h3v2.9h-3zM208.1 215h3v2.9h-3zM210.8 212.4h3v2.9h-3zM213.6 202.2h3v2.9h-3zM210.8 199.6h3v2.9h-3zM71.4 197.1h3v2.9h-3zM191.7 194.5h3v2.9h-3zM183.5 191.9h3v2.9h-3zM194.4 191.9h3v2.9h-3zM208.1 191.9h3v2.9h-3z"/><path fill="#a8be6a" d="M219 299.5h3v2.9h-3zM210.8 294.3h3v2.9h-3zM199.9 291.8h3v2.9h-3zM186.2 286.7h3v2.9h-3zM180.8 284.1h3v2.9h-3zM175.3 281.5h3v2.9h-3zM172.6 279h3v2.9h-3zM169.8 276.4h3v2.9h-3zM205.4 276.4h3v2.9h-3zM210.8 276.4h3v2.9h-3zM224.5 276.4h3v2.9h-3zM169.8 273.9h3v2.9h-3zM219 273.9h3v2.9h-3zM191.7 271.3h3v2.9h-3zM172.6 268.7h3v2.9h-3zM178 266.2h5.8v2.9h-5.8zM87.8 263.6h3v2.9h-3zM213.6 258.5h3v2.9h-3zM107 255.9h5.8v2.9h-5.8zM93.3 250.8h3v2.9h-3zM93.3 248.3h3v2.9h-3zM145.2 243.1h3v2.9h-3zM123.4 240.6h3v2.9h-3zM153.4 240.6h3v2.9h-3zM164.4 240.6h3v2.9h-3zM178 240.6h3v2.9h-3zM219 240.6h3v2.9h-3zM98.8 238h3v2.9h-3zM189 238h3v2.9h-3zM194.4 238h3v2.9h-3zM219 235.5h3v2.9h-3zM221.8 232.9h3v2.9h-3zM164.4 230.3h3v2.9h-3zM224.5 230.3h3v2.9h-3zM224.5 227.8h3v2.9h-3zM66 225.2h3v2.9h-3zM180.8 225.2h3v2.9h-3zM178 220.1h3v2.9h-3zM202.6 220.1h3v2.9h-3zM57.8 217.5h3v2.9h-3zM194.4 217.5h3v2.9h-3zM208.1 217.5h3v2.9h-3zM57.8 215h3v2.9h-3zM60.5 212.4h3v2.9h-3zM213.6 212.4h3v2.9h-3zM224.5 212.4h3v2.9h-3zM224.5 204.7h3v2.9h-3zM55 194.5h3v2.9h-3zM71.4 194.5h3v2.9h-3zM189 194.5h3v2.9h-3zM71.4 191.9h3v2.9h-3zM186.2 191.9h3v2.9h-3z"/><path fill="#b1bd66" d="M216.3 296.9h3v2.9h-3zM224.5 294.3h3v2.9h-3zM205.4 291.8h8.5v2.9h-8.5zM197.2 289.2h3v2.9h-3zM189 286.7h5.8v2.9h-5.8zM210.8 281.5h3v2.9h-3zM208.1 279h5.8v2.9h-5.8zM216.3 273.9h3v2.9h-3zM172.6 271.3h3v2.9h-3zM189 268.7h3v2.9h-3zM90.6 266.2h5.8v2.9h-5.8zM90.6 258.5h3v2.9h-3zM216.3 258.5h3v2.9h-3zM210.8 255.9h3v2.9h-3zM117.9 253.4h3v2.9h-3zM93.3 245.7h3v2.9h-3zM137 245.7h3v2.9h-3zM93.3 243.1h3v2.9h-3zM128.8 243.1h5.8v2.9h-5.8zM150.7 240.6h3v2.9h-3zM156.2 240.6h3v2.9h-3zM183.5 240.6h3v2.9h-3zM150.7 238h3v2.9h-3zM197.2 238h3v2.9h-3zM153.4 230.3h3v2.9h-3zM167.1 230.3h3v2.9h-3zM221.8 230.3h3v2.9h-3zM175.3 227.8h3v2.9h-3zM221.8 227.8h3v2.9h-3zM224.5 225.2h3v2.9h-3zM63.2 222.7h3v2.9h-3zM60.5 220.1h3v2.9h-3zM205.4 220.1h3v2.9h-3zM210.8 215h3v2.9h-3zM74.2 212.4h3v2.9h-3zM216.3 212.4h3v2.9h-3zM219 204.7h3v2.9h-3zM55 197.1h3v2.9h-3zM68.7 197.1h3v2.9h-3zM208.1 194.5h3v2.9h-3zM57.8 191.9h3v2.9h-3zM189 191.9h5.8v2.9h-5.8z"/><path fill="#c2bc5f" d="M219 296.9h3v2.9h-3zM216.3 294.3h3v2.9h-3zM221.8 291.8h3v2.9h-3zM199.9 289.2h3v2.9h-3zM210.8 289.2h3v2.9h-3zM224.5 289.2h3v2.9h-3zM199.9 286.7h3v2.9h-3zM224.5 286.7h3v2.9h-3zM191.7 284.1h14v2.9h-14zM208.1 284.1h3v2.9h-3zM213.6 284.1h3v2.9h-3zM224.5 284.1h3v2.9h-3zM178 281.5h3v2.9h-3zM205.4 281.5h3v2.9h-3zM224.5 279h3v2.9h-3zM194.4 276.4h8.5v2.9h-8.5zM213.6 276.4h8.5v2.9h-8.5zM191.7 273.9h3v2.9h-3zM175.3 268.7h3v2.9h-3zM186.2 268.7h3v2.9h-3zM224.5 258.5h3v2.9h-3zM123.4 250.8h3v2.9h-3zM126.1 243.1h3v2.9h-3zM134.3 243.1h3v2.9h-3zM96 240.6h3v2.9h-3zM101.5 238h3v2.9h-3zM107 238h3v2.9h-3zM115.2 238h3v2.9h-3zM156.2 238h3v2.9h-3zM199.9 238h3v2.9h-3zM189 235.5h5.8v2.9h-5.8zM216.3 232.9h3v2.9h-3zM158.9 230.3h3v2.9h-3zM169.8 230.3h3v2.9h-3zM216.3 230.3h3v2.9h-3zM156.2 227.8h3v2.9h-3zM219 227.8h3v2.9h-3zM183.5 225.2h3v2.9h-3zM221.8 225.2h3v2.9h-3zM180.8 222.7h3v2.9h-3zM202.6 222.7h3v2.9h-3zM199.9 220.1h3v2.9h-3zM208.1 220.1h3v2.9h-3zM60.5 217.5h3v2.9h-3zM180.8 217.5h3v2.9h-3zM60.5 215h3v2.9h-3zM66 212.4h8.5v2.9h-8.5zM57.8 197.1h3v2.9h-3zM66 197.1h3v2.9h-3zM68.7 191.9h3v2.9h-3zM210.8 191.9h3v2.9h-3z"/><path fill="#babd63" d="M221.8 296.9h3v2.9h-3zM213.6 294.3h3v2.9h-3zM202.6 291.8h3v2.9h-3zM224.5 291.8h3v2.9h-3zM208.1 289.2h3v2.9h-3zM194.4 286.7h5.8v2.9h-5.8zM183.5 284.1h3v2.9h-3zM210.8 284.1h3v2.9h-3zM208.1 281.5h3v2.9h-3zM213.6 281.5h3v2.9h-3zM205.4 279h3v2.9h-3zM213.6 279h3v2.9h-3zM172.6 276.4h3v2.9h-3zM202.6 276.4h3v2.9h-3zM221.8 276.4h3v2.9h-3zM172.6 273.9h3v2.9h-3zM101.5 258.5h3v2.9h-3zM219 258.5h5.8v2.9h-5.8zM104.2 255.9h3v2.9h-3zM93.3 253.4h3v2.9h-3zM208.1 253.4h3v2.9h-3zM126.1 250.8h3v2.9h-3zM205.4 250.8h3v2.9h-3zM205.4 248.3h3v2.9h-3zM139.8 240.6h3v2.9h-3zM158.9 240.6h5.8v2.9h-5.8zM180.8 240.6h3v2.9h-3zM205.4 240.6h3v2.9h-3zM216.3 240.6h3v2.9h-3zM153.4 238h3v2.9h-3zM169.8 238h5.8v2.9h-5.8zM213.6 238h3v2.9h-3zM156.2 235.5h3v2.9h-3zM216.3 235.5h3v2.9h-3zM156.2 232.9h3v2.9h-3zM219 232.9h3v2.9h-3zM161.6 230.3h3v2.9h-3zM219 230.3h3v2.9h-3zM153.4 227.8h3v2.9h-3zM158.9 227.8h3v2.9h-3zM71.4 222.7h3v2.9h-3zM74.2 220.1h3v2.9h-3zM210.8 217.5h3v2.9h-3zM213.6 215h3v2.9h-3zM63.2 212.4h3v2.9h-3zM219 212.4h5.8v2.9h-5.8zM221.8 204.7h3v2.9h-3zM68.7 194.5h3v2.9h-3z"/><path fill="#d3bb58" d="M219 294.3h3v2.9h-3zM205.4 286.7h3v2.9h-3zM213.6 286.7h3v2.9h-3zM221.8 286.7h3v2.9h-3zM216.3 284.1h3v2.9h-3zM221.8 284.1h3v2.9h-3zM180.8 281.5h3v2.9h-3zM189 281.5h3v2.9h-3zM219 281.5h3v2.9h-3zM189 279h14v2.9h-14zM175.3 276.4h3v2.9h-3zM191.7 276.4h3v2.9h-3zM175.3 271.3h3v2.9h-3zM189 271.3h3v2.9h-3zM180.8 268.7h3v2.9h-3zM96 263.6h3v2.9h-3zM213.6 255.9h3v2.9h-3zM96 250.8h3v2.9h-3zM120.6 250.8h3v2.9h-3zM208.1 250.8h3v2.9h-3zM96 248.3h3v2.9h-3zM131.6 245.7h3v2.9h-3zM208.1 245.7h3v2.9h-3zM98.8 243.1h5.8v2.9h-5.8zM142.5 243.1h3v2.9h-3zM216.3 243.1h3v2.9h-3zM221.8 243.1h5.8v2.9h-5.8zM98.8 240.6h3v2.9h-3zM142.5 240.6h3v2.9h-3zM208.1 240.6h3v2.9h-3zM158.9 238h3v2.9h-3zM202.6 238h3v2.9h-3zM158.9 235.5h3v2.9h-3zM213.6 235.5h3v2.9h-3zM161.6 232.9h3v2.9h-3zM189 232.9h5.8v2.9h-5.8zM213.6 232.9h3v2.9h-3zM183.5 227.8h3v2.9h-3zM216.3 227.8h3v2.9h-3zM66 222.7h3v2.9h-3zM63.2 220.1h3v2.9h-3zM197.2 220.1h3v2.9h-3zM74.2 215h3v2.9h-3zM216.3 202.2h3v2.9h-3zM60.5 197.1h5.8v2.9h-5.8zM210.8 197.1h3v2.9h-3zM63.2 191.9h3v2.9h-3z"/><path fill="#cbbb5c" d="M221.8 294.3h3v2.9h-3zM213.6 291.8h3v2.9h-3zM202.6 289.2h5.8v2.9h-5.8zM221.8 289.2h3v2.9h-3zM202.6 286.7h3v2.9h-3zM208.1 286.7h5.8v2.9h-5.8zM186.2 284.1h5.8v2.9h-5.8zM205.4 284.1h3v2.9h-3zM191.7 281.5h14v2.9h-14zM216.3 281.5h3v2.9h-3zM221.8 281.5h5.8v2.9h-5.8zM175.3 279h3v2.9h-3zM202.6 279h3v2.9h-3zM216.3 279h8.5v2.9h-8.5zM178 268.7h3v2.9h-3zM183.5 268.7h3v2.9h-3zM90.6 263.6h3v2.9h-3zM90.6 261.1h3v2.9h-3zM98.8 261.1h3v2.9h-3zM93.3 255.9h3v2.9h-3zM134.3 245.7h3v2.9h-3zM208.1 243.1h3v2.9h-3zM219 243.1h3v2.9h-3zM101.5 240.6h5.8v2.9h-5.8zM120.6 240.6h3v2.9h-3zM148 240.6h3v2.9h-3zM213.6 240.6h3v2.9h-3zM104.2 238h3v2.9h-3zM167.1 238h3v2.9h-3zM175.3 238h3v2.9h-3zM186.2 238h3v2.9h-3zM158.9 232.9h3v2.9h-3zM156.2 230.3h3v2.9h-3zM178 227.8h5.8v2.9h-5.8zM205.4 222.7h3v2.9h-3zM224.5 222.7h3v2.9h-3zM191.7 217.5h3v2.9h-3zM224.5 202.2h3v2.9h-3zM57.8 194.5h3v2.9h-3zM60.5 191.9h3v2.9h-3zM66 191.9h3v2.9h-3z"/><path fill="#dbba55" d="M216.3 291.8h5.8v2.9h-5.8zM213.6 289.2h3v2.9h-3zM216.3 286.7h3v2.9h-3zM219 284.1h3v2.9h-3zM183.5 281.5h5.8v2.9h-5.8zM189 276.4h3v2.9h-3zM175.3 273.9h3v2.9h-3zM189 273.9h3v2.9h-3zM101.5 255.9h3v2.9h-3zM216.3 255.9h5.8v2.9h-5.8zM96 253.4h3v2.9h-3zM104.2 253.4h5.8v2.9h-5.8zM210.8 253.4h3v2.9h-3zM128.8 248.3h3v2.9h-3zM208.1 248.3h3v2.9h-3zM96 245.7h5.8v2.9h-5.8zM128.8 245.7h3v2.9h-3zM96 243.1h3v2.9h-3zM137 243.1h3v2.9h-3zM145.2 240.6h3v2.9h-3zM210.8 240.6h3v2.9h-3zM109.7 238h3v2.9h-3zM161.6 238h5.8v2.9h-5.8zM210.8 238h3v2.9h-3zM194.4 235.5h3v2.9h-3zM164.4 232.9h3v2.9h-3zM172.6 230.3h3v2.9h-3zM189 230.3h5.8v2.9h-5.8zM213.6 230.3h3v2.9h-3zM186.2 227.8h5.8v2.9h-5.8zM186.2 225.2h3v2.9h-3zM199.9 225.2h3v2.9h-3zM219 225.2h3v2.9h-3zM210.8 220.1h3v2.9h-3zM63.2 217.5h3v2.9h-3zM74.2 217.5h3v2.9h-3zM213.6 217.5h3v2.9h-3zM63.2 215h3v2.9h-3zM216.3 215h3v2.9h-3zM224.5 215h3v2.9h-3zM213.6 199.6h3v2.9h-3zM66 194.5h3v2.9h-3zM210.8 194.5h3v2.9h-3z"/><path fill="#ebb94d" d="M216.3 289.2h3v2.9h-3zM180.8 279h5.8v2.9h-5.8zM186.2 276.4h3v2.9h-3zM186.2 273.9h3v2.9h-3zM178 271.3h8.5v2.9h-8.5zM93.3 261.1h5.8v2.9h-5.8zM96 255.9h3v2.9h-3zM224.5 255.9h3v2.9h-3zM98.8 253.4h3v2.9h-3zM101.5 248.3h5.8v2.9h-5.8zM120.6 248.3h5.8v2.9h-5.8zM210.8 245.7h8.5v2.9h-8.5zM104.2 243.1h3v2.9h-3zM139.8 243.1h3v2.9h-3zM112.4 238h3v2.9h-3zM208.1 238h3v2.9h-3zM161.6 235.5h3v2.9h-3zM169.8 235.5h5.8v2.9h-5.8zM186.2 235.5h3v2.9h-3zM210.8 235.5h3v2.9h-3zM169.8 232.9h3v2.9h-3zM186.2 230.3h3v2.9h-3zM197.2 227.8h3v2.9h-3zM213.6 227.8h3v2.9h-3zM189 225.2h5.8v2.9h-5.8zM197.2 225.2h3v2.9h-3zM216.3 225.2h3v2.9h-3zM208.1 222.7h3v2.9h-3zM221.8 222.7h3v2.9h-3zM213.6 220.1h3v2.9h-3zM183.5 217.5h3v2.9h-3zM189 217.5h3v2.9h-3zM68.7 215h5.8v2.9h-5.8zM219 215h3v2.9h-3zM221.8 202.2h3v2.9h-3zM63.2 194.5h3v2.9h-3zM216.3 191.9h3v2.9h-3z"/><path fill="#e3b951" d="M219 289.2h3v2.9h-3zM219 286.7h3v2.9h-3zM178 279h3v2.9h-3zM186.2 279h3v2.9h-3zM186.2 271.3h3v2.9h-3zM93.3 263.6h3v2.9h-3zM93.3 258.5h3v2.9h-3zM98.8 258.5h3v2.9h-3zM221.8 255.9h3v2.9h-3zM101.5 253.4h3v2.9h-3zM115.2 253.4h3v2.9h-3zM98.8 250.8h8.5v2.9h-8.5zM98.8 248.3h3v2.9h-3zM101.5 245.7h3v2.9h-3zM126.1 245.7h3v2.9h-3zM123.4 243.1h3v2.9h-3zM210.8 243.1h5.8v2.9h-5.8zM205.4 238h3v2.9h-3zM167.1 232.9h3v2.9h-3zM191.7 227.8h5.8v2.9h-5.8zM202.6 225.2h3v2.9h-3zM68.7 222.7h3v2.9h-3zM183.5 222.7h3v2.9h-3zM199.9 222.7h3v2.9h-3zM71.4 220.1h3v2.9h-3zM180.8 220.1h3v2.9h-3zM194.4 220.1h3v2.9h-3zM66 215h3v2.9h-3zM221.8 215h3v2.9h-3zM224.5 199.6h3v2.9h-3zM60.5 194.5h3v2.9h-3zM213.6 191.9h3v2.9h-3z"/><path fill="#f2b949" d="M178 276.4h3v2.9h-3zM183.5 276.4h3v2.9h-3zM178 273.9h3v2.9h-3zM183.5 273.9h3v2.9h-3zM96 258.5h3v2.9h-3zM98.8 255.9h3v2.9h-3zM109.7 253.4h3v2.9h-3zM107 250.8h3v2.9h-3zM117.9 250.8h3v2.9h-3zM210.8 250.8h3v2.9h-3zM126.1 248.3h3v2.9h-3zM210.8 248.3h3v2.9h-3zM120.6 245.7h5.8v2.9h-5.8zM219 245.7h3v2.9h-3zM178 238h3v2.9h-3zM183.5 238h3v2.9h-3zM197.2 235.5h3v2.9h-3zM186.2 232.9h3v2.9h-3zM210.8 232.9h3v2.9h-3zM175.3 230.3h3v2.9h-3zM194.4 230.3h3v2.9h-3zM194.4 225.2h3v2.9h-3zM213.6 225.2h3v2.9h-3zM194.4 222.7h5.8v2.9h-5.8zM213.6 222.7h5.8v2.9h-5.8zM66 220.1h3v2.9h-3zM224.5 220.1h3v2.9h-3zM66 217.5h3v2.9h-3zM186.2 217.5h3v2.9h-3zM216.3 217.5h3v2.9h-3zM219 202.2h3v2.9h-3zM224.5 197.1h3v2.9h-3zM219 191.9h3v2.9h-3z"/><path fill="#f9bb43" d="M180.8 276.4h3v2.9h-3zM180.8 273.9h3v2.9h-3zM112.4 253.4h3v2.9h-3zM213.6 253.4h3v2.9h-3zM107 248.3h3v2.9h-3zM213.6 248.3h3v2.9h-3zM104.2 245.7h3v2.9h-3zM120.6 243.1h3v2.9h-3zM117.9 240.6h3v2.9h-3zM164.4 235.5h5.8v2.9h-5.8zM172.6 232.9h3v2.9h-3zM194.4 232.9h3v2.9h-3zM210.8 230.3h3v2.9h-3zM199.9 227.8h3v2.9h-3zM191.7 222.7h3v2.9h-3zM210.8 222.7h3v2.9h-3zM219 222.7h3v2.9h-3zM68.7 220.1h3v2.9h-3zM191.7 220.1h3v2.9h-3zM216.3 220.1h3v2.9h-3zM68.7 217.5h5.8v2.9h-5.8zM224.5 217.5h3v2.9h-3zM213.6 194.5h3v2.9h-3z"/><path fill="#febf3c" d="M216.3 253.4h11.2v2.9h-11.2zM107 245.7h3v2.9h-3zM221.8 245.7h5.8v2.9h-5.8zM107 240.6h3v2.9h-3zM175.3 235.5h3v2.9h-3zM199.9 235.5h3v2.9h-3zM208.1 235.5h3v2.9h-3zM183.5 230.3h3v2.9h-3zM205.4 225.2h3v2.9h-3zM186.2 222.7h3v2.9h-3zM219 217.5h5.8v2.9h-5.8zM221.8 199.6h3v2.9h-3zM213.6 197.1h3v2.9h-3zM216.3 194.5h3v2.9h-3zM224.5 194.5h3v2.9h-3zM221.8 191.9h3v2.9h-3z"/><path fill="#fcce2d" d="M109.7 250.8h3v2.9h-3zM224.5 250.8h3v2.9h-3zM219 248.3h8.5v2.9h-8.5zM109.7 245.7h3v2.9h-3zM117.9 243.1h3v2.9h-3zM109.7 240.6h3v2.9h-3zM183.5 235.5h3v2.9h-3zM205.4 235.5h3v2.9h-3zM175.3 232.9h3v2.9h-3zM183.5 232.9h3v2.9h-3zM197.2 232.9h3v2.9h-3zM202.6 227.8h3v2.9h-3zM186.2 220.1h3v2.9h-3zM219 199.6h3v2.9h-3zM216.3 197.1h3v2.9h-3z"/><path fill="#f5de21" d="M112.4 250.8h3v2.9h-3zM115.2 248.3h3v2.9h-3zM180.8 235.5h3v2.9h-3zM178 232.9h3v2.9h-3zM199.9 230.3h3v2.9h-3zM208.1 227.8h3v2.9h-3z"/><path fill="#f9d329" d="M115.2 250.8h3v2.9h-3zM216.3 250.8h8.5v2.9h-8.5zM109.7 248.3h3v2.9h-3zM115.2 245.7h3v2.9h-3zM109.7 243.1h3v2.9h-3zM112.4 240.6h5.8v2.9h-5.8zM178 235.5h3v2.9h-3zM219 197.1h3v2.9h-3z"/><path fill="#fec932" d="M213.6 250.8h3v2.9h-3zM216.3 248.3h3v2.9h-3zM107 243.1h3v2.9h-3zM202.6 235.5h3v2.9h-3zM208.1 232.9h3v2.9h-3zM178 230.3h5.8v2.9h-5.8zM197.2 230.3h3v2.9h-3zM208.1 225.2h3v2.9h-3zM189 220.1h3v2.9h-3z"/><path fill="#f5e51d" d="M112.4 248.3h3v2.9h-3zM180.8 232.9h3v2.9h-3zM199.9 232.9h3v2.9h-3zM205.4 232.9h3v2.9h-3zM205.4 227.8h3v2.9h-3z"/><path fill="#ffc436" d="M117.9 248.3h3v2.9h-3zM117.9 245.7h3v2.9h-3zM180.8 238h3v2.9h-3zM210.8 227.8h3v2.9h-3zM210.8 225.2h3v2.9h-3zM189 222.7h3v2.9h-3zM183.5 220.1h3v2.9h-3zM219 220.1h5.8v2.9h-5.8zM216.3 199.6h3v2.9h-3zM221.8 197.1h3v2.9h-3zM219 194.5h5.8v2.9h-5.8zM224.5 191.9h3v2.9h-3z"/><path fill="#f7d925" d="M112.4 245.7h3v2.9h-3zM112.4 243.1h5.8v2.9h-5.8zM208.1 230.3h3v2.9h-3z"/><path fill="#f9fb0e" d="M202.6 232.9h3v2.9h-3zM202.6 230.3h3v2.9h-3z"/><path fill="#f6f313" d="M205.4 230.3h3v2.9h-3z"/></g></g>
<ellipse cx="33.2" cy="245.7" rx="7.7" ry="7.2" fill="none" stroke="#333" stroke-opacity=".7" stroke-width=".5"/>
<ellipse cx="60.5" cy="271.3" rx="7.7" ry="7.2" fill="none" stroke="#333" stroke-opacity=".7" stroke-width=".5"/>
<ellipse cx="101.5" cy="296.9" rx="7.7" ry="7.2" fill="none" stroke="#333" stroke-opacity=".7" stroke-width=".5"/>
<ellipse cx="115.2" cy="245.7" rx="7.7" ry="7.2" fill="none" stroke="#333" stroke-opacity=".7" stroke-width=".5"/>
<ellipse cx="156.2" cy="284.1" rx="7.7" ry="7.2" fill="none" stroke="#333" stroke-opacity=".7" stroke-width=".5"/>
<ellipse cx="183.5" cy="232.9" rx="7.7" ry="7.2" fill="none" stroke="#333" stroke-opacity=".7" stroke-width=".5"/>
<path d="M33.2 207.3C33.5 209.0 34.2 214.3 35.2 217.7C36.2 221.1 37.3 224.6 39.0 227.7C40.7 230.8 42.5 233.8 45.2 236.5C47.9 239.2 51.5 241.7 55.3 244.0C59.1 246.3 63.2 248.4 67.8 250.3C72.4 252.2 78.3 254.1 82.9 255.4C87.5 256.7 91.7 257.1 95.5 257.9C99.3 258.7 102.8 259.4 105.5 260.4C108.2 261.4 110.5 262.8 111.8 264.1C113.1 265.5 113.3 266.9 113.1 268.5C112.9 270.1 112.3 272.0 110.6 273.5C108.9 275.0 105.3 276.3 103.0 277.6C100.7 278.9 98.0 280.1 96.7 281.3C95.4 282.6 95.0 283.8 95.0 285.1C95.0 286.4 95.4 287.6 96.7 288.9C98.0 290.1 100.3 291.5 103.0 292.6C105.7 293.7 109.3 294.9 113.1 295.7C116.9 296.5 121.4 297.2 125.6 297.7C129.8 298.2 131.8 298.2 138.0 298.9C144.2 299.6 154.6 300.7 163.0 302.0C171.4 303.3 181.6 305.4 188.3 306.6C195.0 307.8 199.5 308.6 203.3 309.2C207.1 309.8 209.6 309.9 210.9 310.0" fill="none" stroke="#e8902c" stroke-width="1.15" stroke-opacity=".88" stroke-linejoin="round"/>
<path d="M33.2 207.3C34.4 209.0 37.4 214.1 40.2 217.7C43.1 221.3 46.5 225.4 50.3 229.0C54.1 232.6 58.6 235.9 62.8 239.0C67.0 242.1 71.6 245.3 75.4 247.8C79.2 250.3 82.1 252.0 85.4 254.1C88.8 256.2 93.0 258.5 95.5 260.4C98.0 262.3 99.0 263.4 100.5 265.4C102.0 267.4 102.6 270.3 104.3 272.5C106.0 274.7 107.9 276.9 110.6 278.8C113.3 280.7 117.2 282.3 120.6 283.8C123.9 285.3 127.8 286.6 130.7 287.6C133.6 288.6 133.4 288.8 138.0 290.0C142.6 291.2 151.3 293.1 158.0 295.0C164.7 296.9 171.7 299.5 178.0 301.4C184.3 303.3 190.5 305.1 196.0 306.5C201.5 307.9 208.4 309.2 210.9 309.7" fill="none" stroke="#d824d8" stroke-width="1.15" stroke-opacity=".88" stroke-linejoin="round"/>
<path d="M33.2 207.3C36.1 209.0 44.5 214.1 50.3 217.7C56.1 221.3 61.5 225.0 67.8 229.0C74.1 233.0 81.7 237.7 88.0 241.5C94.3 245.3 100.1 248.8 105.5 251.6C110.9 254.3 116.5 256.3 120.6 258.0C124.7 259.7 126.3 260.0 130.0 261.6C133.7 263.2 138.4 265.4 142.7 267.4C146.9 269.3 151.2 271.1 155.5 273.3C159.8 275.5 165.0 278.7 168.2 280.7C171.4 282.7 171.7 283.4 174.5 285.2C177.3 287.0 181.7 289.5 185.0 291.6C188.3 293.7 190.9 295.4 194.4 297.9C197.9 300.4 203.2 304.5 206.0 306.5C208.8 308.5 210.1 309.2 210.9 309.7" fill="none" stroke="#f04040" stroke-width="1.15" stroke-opacity=".88" stroke-linejoin="round"/>
<path d="M33.2 207.3C36.0 208.2 45.1 211.5 50.0 213.0C54.9 214.5 58.6 215.2 62.8 216.4C67.0 217.7 70.8 219.0 75.0 220.5C79.2 222.0 83.8 223.7 88.0 225.2C92.2 226.7 95.8 228.0 100.0 229.5C104.2 231.0 108.7 232.0 113.0 234.0C117.3 236.0 122.8 239.6 125.6 241.5C128.4 243.4 127.2 243.1 130.0 245.7C132.8 248.3 138.4 253.6 142.7 257.2C146.9 260.8 151.2 264.0 155.5 267.4C159.8 270.8 165.3 275.0 168.2 277.5C171.1 280.0 170.2 280.4 173.0 282.6C175.8 284.9 181.4 288.5 185.0 291.0C188.6 293.5 190.9 294.9 194.4 297.4C197.9 299.9 203.2 304.1 206.0 306.2C208.8 308.2 210.1 309.1 210.9 309.7" fill="none" stroke="#3cf03c" stroke-width="1.15" stroke-opacity=".88" stroke-linejoin="round"/>
<path d="M33.2 207.3C35.2 207.2 41.1 206.9 45.2 206.4C49.3 205.9 53.2 205.0 57.8 204.6C62.4 204.2 68.7 203.7 72.9 203.8C77.1 203.9 79.6 204.2 82.9 205.1C86.2 205.9 89.7 207.2 93.0 208.9C96.3 210.6 99.7 212.7 103.0 215.2C106.3 217.7 109.8 220.9 113.1 223.9C116.4 226.9 120.1 230.3 123.1 233.0C126.1 235.7 128.8 237.7 131.3 240.0C133.8 242.3 134.9 243.8 138.0 247.0C141.1 250.2 145.2 254.4 150.0 259.3C154.8 264.2 161.8 271.4 166.8 276.7C171.8 281.9 175.3 286.6 180.0 290.8C184.7 295.0 190.8 299.2 195.0 302.0C199.2 304.8 202.3 306.3 205.0 307.6C207.7 308.9 209.9 309.4 210.9 309.7" fill="none" stroke="#2020f0" stroke-width="1.15" stroke-opacity=".88" stroke-linejoin="round"/>
<circle cx="33.2" cy="207.3" r="1.1" fill="#e020e0"/>
<path d="M209 308.6l2 2.4m0-2.4l-2 2.4" stroke="#2020c0" stroke-width=".8"/>
<text x="17.9" y="324.8" font-size="4.20" text-anchor="end" fill="#3a3a3a" >0</text>
<text x="17.9" y="312.0" font-size="4.20" text-anchor="end" fill="#3a3a3a" >10</text>
<text x="17.9" y="299.2" font-size="4.20" text-anchor="end" fill="#3a3a3a" >20</text>
<text x="17.9" y="286.4" font-size="4.20" text-anchor="end" fill="#3a3a3a" >30</text>
<text x="17.9" y="273.6" font-size="4.20" text-anchor="end" fill="#3a3a3a" >40</text>
<text x="17.9" y="260.8" font-size="4.20" text-anchor="end" fill="#3a3a3a" >50</text>
<text x="17.9" y="248.0" font-size="4.20" text-anchor="end" fill="#3a3a3a" >60</text>
<text x="17.9" y="235.2" font-size="4.20" text-anchor="end" fill="#3a3a3a" >70</text>
<text x="17.9" y="222.4" font-size="4.20" text-anchor="end" fill="#3a3a3a" >80</text>
<text x="17.9" y="209.6" font-size="4.20" text-anchor="end" fill="#3a3a3a" >90</text>
<text x="17.9" y="196.8" font-size="4.20" text-anchor="end" fill="#3a3a3a" >100</text>
<text x="19.5" y="329.3" font-size="4.20" text-anchor="middle" fill="#3a3a3a" >0</text>
<text x="87.8" y="329.3" font-size="4.20" text-anchor="middle" fill="#3a3a3a" >50</text>
<text x="156.2" y="329.3" font-size="4.20" text-anchor="middle" fill="#3a3a3a" >100</text>
<text x="224.5" y="329.3" font-size="4.20" text-anchor="middle" fill="#3a3a3a" >150</text>
<text x="122.0" y="334.8" font-size="4.10" text-anchor="middle" fill="#3a3a3a" >X(km)</text>
<text transform="translate(8,257.5) rotate(-90)" font-size="3.9" text-anchor="middle" fill="#3a3a3a">Y(km)</text>
<rect x="202.8" y="184" width="24" height="27.6" fill="#fff"/>
<path d="M204.5 185.9H213.0" stroke="#3cf03c" stroke-width="1.1"/>
<text x="215.2" y="187.2" font-size="3.90" text-anchor="start" fill="#333" >SSA</text>
<path d="M204.5 191.4H213.0" stroke="#d824d8" stroke-width="1.1"/>
<text x="215.2" y="192.8" font-size="3.90" text-anchor="start" fill="#333" >PSO</text>
<path d="M204.5 197.0H213.0" stroke="#2020f0" stroke-width="1.1"/>
<text x="215.2" y="198.3" font-size="3.90" text-anchor="start" fill="#333" >ABC</text>
<path d="M204.5 202.5H213.0" stroke="#f04040" stroke-width="1.1"/>
<text x="215.2" y="203.8" font-size="3.90" text-anchor="start" fill="#333" >CASSA</text>
<path d="M204.5 208.1H213.0" stroke="#e8902c" stroke-width="1.1"/>
<text x="215.2" y="209.4" font-size="3.90" text-anchor="start" fill="#333" >WOA</text>
<linearGradient id="cbc" x1="0" y1="0" x2="0" y2="1"><stop offset="0.000" stop-color="#f9fb0e"/><stop offset="0.062" stop-color="#f5de21"/><stop offset="0.125" stop-color="#fec932"/><stop offset="0.188" stop-color="#f2b949"/><stop offset="0.250" stop-color="#d3bb58"/><stop offset="0.312" stop-color="#b1bd66"/><stop offset="0.375" stop-color="#8bbf75"/><stop offset="0.438" stop-color="#5ebe89"/><stop offset="0.500" stop-color="#33b8a1"/><stop offset="0.562" stop-color="#13b0b6"/><stop offset="0.625" stop-color="#06a6c7"/><stop offset="0.688" stop-color="#0a97d1"/><stop offset="0.750" stop-color="#1484d4"/><stop offset="0.812" stop-color="#0c74dd"/><stop offset="0.875" stop-color="#0462e0"/><stop offset="0.938" stop-color="#3243b9"/><stop offset="1.000" stop-color="#352a87"/></linearGradient>
<rect x="238.0" y="190.5" width="4.6" height="127.5" fill="url(#cbc)"/>
<text x="244.4" y="211.5" font-size="4.10" text-anchor="start" fill="#444" >6</text>
<text x="244.4" y="231.7" font-size="4.10" text-anchor="start" fill="#444" >5</text>
<text x="244.4" y="251.4" font-size="4.10" text-anchor="start" fill="#444" >4</text>
<text x="244.4" y="271.5" font-size="4.10" text-anchor="start" fill="#444" >3</text>
<text x="244.4" y="291.1" font-size="4.10" text-anchor="start" fill="#444" >2</text>
<text x="244.4" y="311.0" font-size="4.10" text-anchor="start" fill="#444" >1</text>
<text x="122.5" y="354.8" font-size="13" letter-spacing=".3" text-anchor="middle" font-family="Liberation Serif, serif" fill="#111">(<tspan font-weight="bold">c</tspan>)</text>
</g>
<g id="pd">
<rect x="325" y="192" width="205.5" height="126.5" fill="#e6e6e6"/>
<path d="M325.0 192V318.5" stroke="#d8d8d8" stroke-width=".45"/>
<path d="M354.1 192V318.5" stroke="#d8d8d8" stroke-width=".45"/>
<path d="M383.3 192V318.5" stroke="#d8d8d8" stroke-width=".45"/>
<path d="M412.4 192V318.5" stroke="#d8d8d8" stroke-width=".45"/>
<path d="M441.6 192V318.5" stroke="#d8d8d8" stroke-width=".45"/>
<path d="M470.7 192V318.5" stroke="#d8d8d8" stroke-width=".45"/>
<path d="M499.8 192V318.5" stroke="#d8d8d8" stroke-width=".45"/>
<path d="M529.0 192V318.5" stroke="#d8d8d8" stroke-width=".45"/>
<path d="M325 318.5H530.5" stroke="#d8d8d8" stroke-width=".45"/>
<path d="M325 300.4H530.5" stroke="#d8d8d8" stroke-width=".45"/>
<path d="M325 282.4H530.5" stroke="#d8d8d8" stroke-width=".45"/>
<path d="M325 264.4H530.5" stroke="#d8d8d8" stroke-width=".45"/>
<path d="M325 246.3H530.5" stroke="#d8d8d8" stroke-width=".45"/>
<path d="M325 228.2H530.5" stroke="#d8d8d8" stroke-width=".45"/>
<path d="M325 210.2H530.5" stroke="#d8d8d8" stroke-width=".45"/>
<path d="M325 192.1H530.5" stroke="#d8d8d8" stroke-width=".45"/>
<path d="M340.0 293.0C340.0 290.8 340.1 284.2 340.2 280.0C340.2 275.8 340.2 272.5 340.3 268.0C340.4 263.5 340.4 254.1 340.7 252.8C341.0 251.5 341.6 257.2 342.0 260.4C342.4 263.5 342.9 270.0 343.3 271.7C343.7 273.4 344.1 272.3 344.5 270.4C344.9 268.5 345.2 263.4 345.8 260.4C346.4 257.4 347.3 253.8 348.3 252.3C349.3 250.8 350.6 251.1 351.6 251.6C352.6 252.1 353.3 253.9 354.1 255.4C354.9 256.9 355.6 258.5 356.6 260.4C357.7 262.3 359.1 265.0 360.4 266.7C361.6 268.4 362.9 269.4 364.1 270.4C365.4 271.3 366.6 272.4 367.9 272.4C369.2 272.4 370.4 272.0 371.7 270.4C372.9 268.8 374.1 265.6 375.4 262.9C376.6 260.2 377.9 256.6 379.2 254.1C380.5 251.6 381.9 249.3 383.0 247.8C384.1 246.3 384.2 245.8 385.5 245.3C386.8 244.8 389.0 245.1 390.5 244.8C392.0 244.5 393.1 244.1 394.3 243.5C395.6 242.9 396.8 242.9 398.0 241.5C399.2 240.1 400.5 237.4 401.8 235.3C403.1 233.2 404.4 230.7 405.6 229.0C406.9 227.3 408.2 225.8 409.3 225.2C410.4 224.6 411.0 224.4 411.9 225.2C412.8 226.0 413.6 228.1 414.4 230.2C415.2 232.3 416.1 235.3 416.9 237.8C417.7 240.3 418.6 243.2 419.4 245.3C420.2 247.4 421.1 249.3 421.5 250.5C421.9 251.7 422.1 252.1 421.9 252.6C421.7 253.1 421.6 253.4 420.5 253.3C419.4 253.2 417.2 251.9 415.6 251.8C414.0 251.7 412.1 251.8 410.6 252.8C409.1 253.8 407.6 256.0 406.8 257.9C406.0 259.8 405.8 262.1 405.6 264.0C405.4 265.9 405.6 267.9 405.8 269.0C406.0 270.1 406.4 270.7 407.0 270.6C407.6 270.5 408.3 269.1 409.3 268.5C410.3 267.9 411.8 266.9 413.1 266.9C414.4 266.9 415.8 268.3 416.9 268.6C418.0 268.9 418.8 269.4 420.0 268.5C421.2 267.6 422.8 265.2 424.0 263.5C425.2 261.8 425.7 260.1 427.0 258.5C428.3 256.9 429.9 255.2 432.0 254.0C434.1 252.8 437.5 252.1 439.6 251.6C441.7 251.1 443.0 251.2 444.7 250.8C446.4 250.4 448.2 249.6 449.7 249.3C451.2 249.1 452.2 248.9 453.5 249.3C454.8 249.7 455.9 250.2 457.2 251.6C458.4 253.0 459.7 256.0 461.0 257.9C462.3 259.8 463.6 261.2 464.8 262.9C466.1 264.6 467.2 266.5 468.5 268.0C469.8 269.5 471.1 270.6 472.3 271.7C473.6 272.8 474.8 273.7 476.0 274.5C477.2 275.3 478.5 276.2 479.8 276.3C481.1 276.4 482.3 275.4 483.6 275.0C484.9 274.6 485.9 273.2 487.4 273.8C488.9 274.4 490.7 277.1 492.4 278.8C494.1 280.5 495.7 283.8 497.4 283.8C499.1 283.8 500.9 280.5 502.5 278.8C504.1 277.1 505.8 274.0 507.0 273.8C508.2 273.6 508.7 277.0 510.0 277.6C511.3 278.2 512.9 277.4 515.0 277.6C517.1 277.8 520.2 278.1 522.6 278.8C525.0 279.5 528.3 281.5 529.4 282.0" fill="none" stroke="#e8902c" stroke-width="1.15" stroke-linejoin="round"/>
<path d="M340.0 293.0C340.7 291.3 342.9 286.0 344.0 282.6C345.1 279.2 345.4 275.2 346.5 272.5C347.6 269.8 349.2 267.9 350.3 266.3C351.4 264.7 352.0 263.7 352.8 262.9C353.6 262.1 354.3 261.5 355.3 261.6C356.3 261.7 357.9 263.0 359.0 263.4C360.1 263.8 360.5 265.0 361.6 264.1C362.7 263.2 364.1 259.7 365.4 257.9C366.6 256.1 367.4 254.2 369.1 253.3C370.8 252.5 373.5 252.6 375.4 252.8C377.3 253.1 379.0 254.5 380.5 254.8C382.0 255.1 383.2 254.5 384.2 254.8C385.2 255.1 385.9 255.3 386.7 256.6C387.5 258.0 388.3 260.6 389.2 262.9C390.1 265.2 390.9 268.2 391.8 270.4C392.7 272.6 393.4 274.2 394.3 276.0C395.2 277.8 396.2 279.6 397.0 281.0C397.8 282.4 398.5 283.0 399.3 284.5C400.1 286.0 401.1 288.6 401.8 290.1C402.6 291.6 403.0 293.8 403.8 293.4C404.6 293.0 405.7 290.7 406.8 287.6C407.9 284.5 409.6 278.6 410.6 275.0C411.7 271.4 412.4 268.2 413.1 266.0C413.8 263.8 414.0 261.5 414.6 261.8C415.2 262.1 416.3 266.1 416.9 268.0C417.5 269.9 417.3 270.2 418.1 273.5C418.9 276.8 420.6 283.9 421.9 288.0C423.2 292.1 424.5 295.2 425.7 298.0C426.9 300.8 428.0 304.8 429.1 304.7C430.2 304.6 430.8 301.8 432.1 297.7C433.4 293.6 435.6 285.6 437.1 280.1C438.6 274.6 439.6 269.9 440.9 264.5C442.2 259.1 443.4 252.5 444.7 247.8C445.9 243.1 447.4 239.0 448.4 236.5C449.4 234.0 450.0 232.5 450.9 232.7C451.8 232.9 452.6 235.3 453.5 237.8C454.4 240.3 455.2 244.7 456.0 247.8C456.8 250.9 457.7 254.6 458.5 256.6C459.3 258.6 460.2 260.3 461.0 259.9C461.8 259.5 462.7 256.5 463.5 254.1C464.3 251.7 465.2 248.2 466.0 245.3C466.8 242.4 467.7 238.6 468.5 236.5C469.3 234.4 469.9 233.4 471.0 232.7C472.1 232.0 473.7 232.6 474.8 232.2C475.9 231.8 476.8 231.4 477.9 230.2C478.9 229.0 479.9 226.8 481.1 225.2C482.3 223.6 483.6 221.3 484.9 220.9C486.2 220.5 487.4 222.5 488.7 222.7C489.9 222.9 491.4 222.5 492.4 222.2C493.4 221.9 493.8 221.2 494.9 220.7C495.9 220.1 497.4 218.6 498.7 218.9C500.0 219.2 501.2 221.2 502.5 222.7C503.8 224.2 505.2 226.4 506.3 227.7C507.4 229.0 507.8 230.3 508.8 230.7C509.8 231.1 511.4 229.9 512.5 230.2C513.5 230.5 514.1 231.4 515.1 232.7C516.1 234.0 517.5 235.7 518.8 237.8C520.0 239.9 521.5 242.0 522.6 245.3C523.7 248.7 524.3 253.7 525.1 257.9C525.9 262.1 526.9 266.4 527.6 270.4C528.3 274.4 529.1 280.1 529.4 282.0" fill="none" stroke="#2020f0" stroke-width="1.15" stroke-linejoin="round"/>
<path d="M340.0 293.0C340.7 290.8 342.7 284.0 344.0 280.0C345.3 276.0 347.0 272.5 347.8 268.8C348.6 265.1 348.2 261.3 349.0 258.0C349.8 254.7 351.3 251.5 352.8 249.0C354.3 246.5 356.1 244.3 357.8 242.8C359.5 241.3 361.2 241.3 362.9 239.8C364.6 238.3 366.2 235.9 367.9 234.0C369.6 232.1 370.9 230.1 372.9 228.2C374.9 226.3 377.9 223.0 380.0 222.7C382.1 222.4 383.8 225.2 385.5 226.5C387.2 227.8 388.4 228.9 390.5 230.2C392.6 231.4 395.3 233.2 398.0 234.0C400.7 234.8 404.3 235.7 406.8 235.3C409.3 234.9 411.1 233.4 413.0 231.5C414.9 229.6 416.3 226.3 418.0 224.0C419.7 221.7 421.3 219.3 423.0 217.7C424.7 216.1 426.3 215.9 428.0 214.6C429.7 213.3 431.7 210.9 433.4 210.0C435.1 209.1 436.9 208.8 438.4 208.9C439.9 209.0 441.2 209.0 442.2 210.5C443.2 212.0 443.7 214.8 444.2 217.7C444.7 220.6 444.3 225.5 445.2 228.0C446.1 230.5 448.1 231.4 449.7 232.7C451.3 234.0 453.3 236.1 455.0 236.0C456.7 235.9 458.6 233.4 460.0 232.0C461.4 230.6 462.4 228.6 463.5 227.5C464.6 226.4 465.0 225.1 466.5 225.5C468.0 225.9 470.7 228.6 472.3 230.2C473.9 231.8 474.6 234.4 476.0 235.0C477.4 235.6 479.5 234.4 481.0 234.0C482.5 233.6 483.8 232.5 484.9 232.7C486.0 232.9 486.1 234.1 487.4 235.3C488.6 236.5 490.5 238.8 492.4 240.0C494.3 241.2 497.0 241.8 498.7 242.3C500.4 242.8 501.4 241.9 502.5 242.8C503.6 243.7 504.0 245.0 505.0 247.5C506.0 250.0 507.4 255.0 508.7 258.0C509.9 261.0 511.0 264.4 512.5 265.4C514.0 266.4 516.0 264.4 517.5 264.0C519.0 263.6 520.2 262.2 521.3 262.9C522.3 263.6 523.0 265.9 523.8 268.0C524.6 270.1 525.4 273.2 526.3 275.5C527.2 277.8 528.5 280.9 529.0 282.0" fill="none" stroke="#3cf03c" stroke-width="1.15" stroke-linejoin="round"/>
<path d="M340.0 294.0C340.5 292.1 341.9 286.6 342.8 282.6C343.7 278.6 344.3 274.8 345.3 270.0C346.3 265.2 347.9 257.3 349.0 254.1C350.1 250.9 350.6 251.6 351.6 250.8C352.7 250.0 354.1 249.1 355.3 249.1C356.6 249.1 358.1 250.3 359.1 250.8C360.2 251.3 360.6 252.8 361.6 252.3C362.7 251.8 364.1 249.1 365.4 247.8C366.6 246.6 367.9 245.4 369.1 244.8C370.4 244.2 371.6 244.6 372.9 244.0C374.2 243.4 375.6 241.5 376.7 241.5C377.8 241.5 378.1 242.3 379.2 244.0C380.2 245.7 381.8 249.3 383.0 251.6C384.2 253.9 385.7 256.5 386.7 257.9C387.7 259.3 388.3 260.3 389.2 259.9C390.1 259.5 390.9 257.8 391.8 255.4C392.7 253.0 393.5 248.5 394.3 245.3C395.1 242.2 395.8 239.6 396.8 236.5C397.9 233.4 399.4 229.0 400.6 226.5C401.9 224.0 403.1 222.5 404.3 221.4C405.6 220.3 406.8 220.0 408.1 220.2C409.4 220.4 410.8 222.9 411.9 222.7C412.9 222.5 413.6 220.2 414.4 218.9C415.2 217.7 415.8 215.6 416.9 215.2C417.9 214.8 419.4 216.2 420.7 216.4C421.9 216.6 423.2 216.6 424.4 216.4C425.6 216.2 426.9 214.2 428.0 215.3C429.1 216.4 429.7 219.8 430.8 222.7C431.9 225.6 433.3 229.1 434.6 232.7C435.9 236.2 437.1 241.0 438.4 244.0C439.7 247.0 441.1 249.4 442.2 250.8C443.2 252.2 443.9 252.6 444.7 252.3C445.5 252.0 446.1 250.5 447.2 249.1C448.2 247.7 449.5 245.3 451.0 244.0C452.5 242.7 454.3 241.9 456.0 241.5C457.7 241.1 459.5 241.1 461.0 241.5C462.5 241.9 463.6 242.9 464.8 244.0C466.1 245.1 467.5 247.6 468.5 247.8C469.5 248.0 469.9 246.8 471.0 245.3C472.1 243.8 473.5 240.5 474.8 239.0C476.1 237.5 477.3 237.1 478.6 236.5C479.9 235.9 481.3 235.1 482.4 235.3C483.4 235.5 483.8 236.8 484.9 237.8C485.9 238.8 487.4 240.5 488.7 241.5C489.9 242.5 491.1 243.7 492.4 244.0C493.6 244.3 494.9 243.6 496.2 243.3C497.5 243.0 498.9 242.3 500.0 242.3C501.1 242.3 502.2 242.6 503.0 243.3C503.8 244.0 504.2 245.0 505.0 246.6C505.8 248.2 506.7 250.5 507.5 252.8C508.3 255.1 509.2 258.3 510.0 260.4C510.8 262.5 511.7 264.3 512.5 265.4C513.3 266.4 514.2 266.7 515.0 266.7C515.8 266.7 516.6 265.9 517.5 265.4C518.4 264.8 519.8 263.2 520.6 263.4C521.5 263.6 521.9 265.1 522.6 266.7C523.4 268.3 524.0 270.4 525.1 273.0C526.2 275.6 528.7 280.5 529.4 282.0" fill="none" stroke="#f04040" stroke-width="1.15" stroke-linejoin="round"/>
<path d="M339.5 292.0C339.8 290.0 340.9 283.7 341.5 280.0C342.1 276.3 342.5 273.7 342.8 270.0C343.1 266.3 342.9 261.6 343.3 257.9C343.7 254.2 344.8 249.7 345.3 247.8C345.8 245.9 345.9 246.2 346.5 246.6C347.1 247.0 347.9 248.8 349.0 250.3C350.1 251.8 351.5 253.9 352.8 255.4C354.1 256.9 355.6 258.7 356.6 259.1C357.6 259.5 357.9 260.2 359.0 257.9C360.1 255.6 361.8 248.2 362.9 245.3C364.0 242.5 364.6 241.4 365.4 240.8C366.2 240.2 366.6 240.3 367.9 241.5C369.1 242.7 371.2 245.9 372.9 247.8C374.6 249.7 376.4 251.5 377.9 252.8C379.4 254.1 380.4 255.8 381.7 255.4C383.0 255.0 384.2 252.8 385.5 250.3C386.8 247.8 387.9 243.7 389.2 240.3C390.4 237.0 391.5 232.9 393.0 230.2C394.5 227.5 396.3 225.8 398.0 223.9C399.7 222.0 401.4 221.2 403.0 218.9C404.6 216.6 406.1 211.2 407.6 210.1C409.1 209.0 410.6 211.5 411.9 212.6C413.2 213.7 414.1 215.1 415.6 216.4C417.1 217.7 418.8 219.1 420.7 220.2C422.6 221.2 424.7 221.9 427.0 222.7C429.3 223.5 432.1 225.1 434.6 225.2C437.1 225.3 439.7 223.0 442.2 223.2C444.7 223.4 447.2 225.1 449.7 226.5C452.2 227.9 455.1 230.0 457.2 231.5C459.3 233.0 460.6 233.6 462.3 235.3C464.0 237.0 465.6 239.8 467.3 241.5C469.0 243.2 470.9 244.5 472.3 245.3C473.8 246.2 474.6 245.8 476.0 246.6C477.4 247.4 479.1 248.6 481.0 250.3C482.9 252.0 485.1 255.2 487.4 256.6C489.7 258.0 492.8 257.4 494.9 258.5C497.0 259.6 498.6 261.1 500.0 263.0C501.4 264.9 501.8 268.3 503.0 270.0C504.2 271.7 505.8 273.0 507.0 273.0C508.2 273.0 509.2 270.8 510.5 270.0C511.8 269.2 513.4 268.3 515.0 268.5C516.6 268.7 518.3 269.5 520.0 271.0C521.7 272.5 523.5 275.7 525.0 277.5C526.5 279.3 528.3 281.2 529.0 282.0" fill="none" stroke="#d824d8" stroke-width="1.15" stroke-linejoin="round"/>
<circle cx="339.8" cy="292.8" r="1" fill="#e040c0"/>
<path d="M528.2 280.6l2.4 2.6m0-2.6l-2.4 2.6" stroke="#2020d0" stroke-width=".8"/>
<path d="M325 192V318.5H530.5" fill="none" stroke="#777" stroke-width=".5"/>
<path d="M325 318.5h-3.3" stroke="#777" stroke-width=".45"/>
<text x="320.9" y="320.4" font-size="4.20" text-anchor="end" fill="#3a3a3a" >1</text>
<path d="M325 300.4h-3.3" stroke="#777" stroke-width=".45"/>
<text x="320.9" y="302.3" font-size="4.20" text-anchor="end" fill="#3a3a3a" >2</text>
<path d="M325 282.4h-3.3" stroke="#777" stroke-width=".45"/>
<text x="320.9" y="284.3" font-size="4.20" text-anchor="end" fill="#3a3a3a" >3</text>
<path d="M325 264.4h-3.3" stroke="#777" stroke-width=".45"/>
<text x="320.9" y="266.2" font-size="4.20" text-anchor="end" fill="#3a3a3a" >4</text>
<path d="M325 246.3h-3.3" stroke="#777" stroke-width=".45"/>
<text x="320.9" y="248.2" font-size="4.20" text-anchor="end" fill="#3a3a3a" >5</text>
<path d="M325 228.2h-3.3" stroke="#777" stroke-width=".45"/>
<text x="320.9" y="230.2" font-size="4.20" text-anchor="end" fill="#3a3a3a" >6</text>
<path d="M325 210.2h-3.3" stroke="#777" stroke-width=".45"/>
<text x="320.9" y="212.1" font-size="4.20" text-anchor="end" fill="#3a3a3a" >7</text>
<path d="M325 192.1h-3.3" stroke="#777" stroke-width=".45"/>
<text x="320.9" y="194.0" font-size="4.20" text-anchor="end" fill="#3a3a3a" >8</text>
<path d="M325.0 318.5v3.6" stroke="#777" stroke-width=".45"/>
<text x="325.0" y="331.0" font-size="4.20" text-anchor="middle" fill="#3a3a3a" >0</text>
<path d="M354.1 318.5v3.6" stroke="#777" stroke-width=".45"/>
<text x="354.1" y="331.0" font-size="4.20" text-anchor="middle" fill="#3a3a3a" >20</text>
<path d="M383.3 318.5v3.6" stroke="#777" stroke-width=".45"/>
<text x="383.3" y="331.0" font-size="4.20" text-anchor="middle" fill="#3a3a3a" >40</text>
<path d="M412.4 318.5v3.6" stroke="#777" stroke-width=".45"/>
<text x="412.4" y="331.0" font-size="4.20" text-anchor="middle" fill="#3a3a3a" >60</text>
<path d="M441.6 318.5v3.6" stroke="#777" stroke-width=".45"/>
<text x="441.6" y="331.0" font-size="4.20" text-anchor="middle" fill="#3a3a3a" >80</text>
<path d="M470.7 318.5v3.6" stroke="#777" stroke-width=".45"/>
<text x="470.7" y="331.0" font-size="4.20" text-anchor="middle" fill="#3a3a3a" >100</text>
<path d="M499.8 318.5v3.6" stroke="#777" stroke-width=".45"/>
<text x="499.8" y="331.0" font-size="4.20" text-anchor="middle" fill="#3a3a3a" >120</text>
<path d="M529.0 318.5v3.6" stroke="#777" stroke-width=".45"/>
<text x="529.0" y="331.0" font-size="4.20" text-anchor="middle" fill="#3a3a3a" >140</text>
<text x="455.0" y="334.3" font-size="3.70" text-anchor="middle" fill="#3a3a3a" >X(km)</text>
<text transform="translate(314.3,258) rotate(-90)" font-size="3.9" text-anchor="middle" fill="#3a3a3a">Z(km)</text>
<rect x="508.5" y="183" width="25" height="26.3" fill="#fff"/>
<path d="M510.0 184.0H518.5" stroke="#3cf03c" stroke-width="1.1"/>
<text x="520.3" y="185.3" font-size="3.90" text-anchor="start" fill="#333" >SSA</text>
<path d="M510.0 189.6H518.5" stroke="#d824d8" stroke-width="1.1"/>
<text x="520.3" y="190.9" font-size="3.90" text-anchor="start" fill="#333" >PSO</text>
<path d="M510.0 195.2H518.5" stroke="#2020f0" stroke-width="1.1"/>
<text x="520.3" y="196.5" font-size="3.90" text-anchor="start" fill="#333" >ABC</text>
<path d="M510.0 200.7H518.5" stroke="#f04040" stroke-width="1.1"/>
<text x="520.3" y="202.0" font-size="3.90" text-anchor="start" fill="#333" >CASSA</text>
<path d="M510.0 206.3H518.5" stroke="#e8902c" stroke-width="1.1"/>
<text x="520.3" y="207.7" font-size="3.90" text-anchor="start" fill="#333" >WOA</text>
<text x="418.5" y="354.8" font-size="13" letter-spacing=".3" text-anchor="middle" font-family="Liberation Serif, serif" fill="#111">(<tspan font-weight="bold">d</tspan>)</text>
</g>
</svg></body></html>
